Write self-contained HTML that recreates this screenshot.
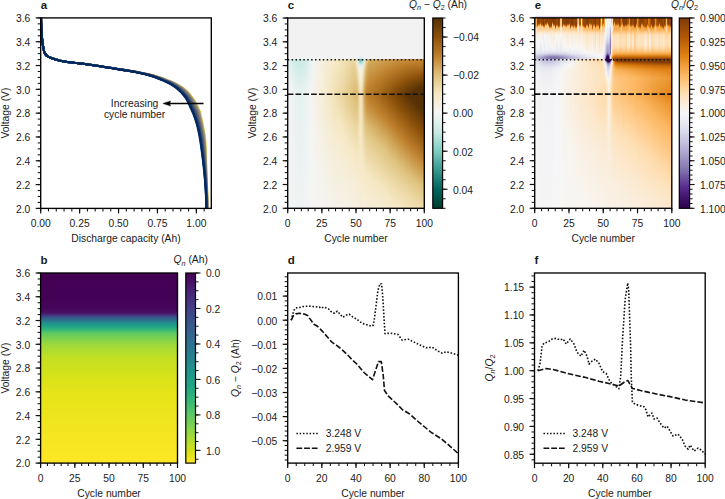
<!DOCTYPE html>
<html><head><meta charset="utf-8"><style>
html,body{margin:0;padding:0;background:#fff;}
svg{display:block;}
text{font-family:"Liberation Sans",sans-serif;fill:#1a1a1a;}
</style></head><body>
<svg width="725" height="499" viewBox="0 0 725 499">
<defs><filter id="hb" x="-5%" y="0" width="110%" height="100%" color-interpolation-filters="sRGB"><feGaussianBlur stdDeviation="1.1 0"/></filter><filter id="hb2" x="-5%" y="0" width="110%" height="100%" color-interpolation-filters="sRGB"><feGaussianBlur stdDeviation="0.5 0"/></filter><linearGradient id="g1" x1="0" y1="0" x2="0" y2="1"><stop offset="0.0026" stop-color="#440154"/><stop offset="0.1342" stop-color="#440256"/><stop offset="0.1868" stop-color="#46075a"/><stop offset="0.2026" stop-color="#470d60"/><stop offset="0.2132" stop-color="#48186a"/><stop offset="0.2237" stop-color="#443a83"/><stop offset="0.2342" stop-color="#375a8c"/><stop offset="0.2658" stop-color="#20928c"/><stop offset="0.2816" stop-color="#21a586"/><stop offset="0.2974" stop-color="#33b67a"/><stop offset="0.3184" stop-color="#61ca60"/><stop offset="0.3763" stop-color="#9dd93b"/><stop offset="0.4342" stop-color="#bddf26"/><stop offset="0.4553" stop-color="#c5e021"/><stop offset="0.5605" stop-color="#dae319"/><stop offset="0.6342" stop-color="#e7e419"/><stop offset="0.9974" stop-color="#fde725"/></linearGradient><clipPath id="cp2"><rect x="40.6" y="273" width="136.9" height="190.1"/></clipPath><linearGradient id="g3" x1="0" y1="0" x2="0" y2="1"><stop offset="0.000" stop-color="#440154"/><stop offset="0.025" stop-color="#460a5d"/><stop offset="0.050" stop-color="#471365"/><stop offset="0.075" stop-color="#481c6e"/><stop offset="0.100" stop-color="#482475"/><stop offset="0.125" stop-color="#472d7b"/><stop offset="0.150" stop-color="#463480"/><stop offset="0.175" stop-color="#443b84"/><stop offset="0.200" stop-color="#414487"/><stop offset="0.225" stop-color="#3e4a89"/><stop offset="0.250" stop-color="#3b528b"/><stop offset="0.275" stop-color="#38598c"/><stop offset="0.300" stop-color="#355f8d"/><stop offset="0.325" stop-color="#31668e"/><stop offset="0.350" stop-color="#2f6c8e"/><stop offset="0.375" stop-color="#2c728e"/><stop offset="0.400" stop-color="#2a788e"/><stop offset="0.425" stop-color="#277e8e"/><stop offset="0.450" stop-color="#25848e"/><stop offset="0.475" stop-color="#238a8d"/><stop offset="0.500" stop-color="#21918c"/><stop offset="0.525" stop-color="#1f968b"/><stop offset="0.550" stop-color="#1e9c89"/><stop offset="0.575" stop-color="#1fa287"/><stop offset="0.600" stop-color="#22a884"/><stop offset="0.625" stop-color="#28ae80"/><stop offset="0.650" stop-color="#2fb47c"/><stop offset="0.675" stop-color="#38b977"/><stop offset="0.700" stop-color="#44bf70"/><stop offset="0.725" stop-color="#50c46a"/><stop offset="0.750" stop-color="#5ec962"/><stop offset="0.775" stop-color="#6ccd5a"/><stop offset="0.800" stop-color="#7ad151"/><stop offset="0.825" stop-color="#8bd646"/><stop offset="0.850" stop-color="#9bd93c"/><stop offset="0.875" stop-color="#addc30"/><stop offset="0.900" stop-color="#bddf26"/><stop offset="0.925" stop-color="#cde11d"/><stop offset="0.950" stop-color="#dfe318"/><stop offset="0.975" stop-color="#efe51c"/><stop offset="1.000" stop-color="#fde725"/></linearGradient><linearGradient id="g4" x1="0" y1="0" x2="0" y2="1"><stop offset="0.0026" stop-color="#f3f2f3"/><stop offset="0.2132" stop-color="#f3f2f3"/><stop offset="0.2184" stop-color="#e2f0ee"/><stop offset="0.3711" stop-color="#f3f4f4"/><stop offset="0.9974" stop-color="#f3f4f4"/></linearGradient><linearGradient id="g5" x1="0" y1="0" x2="0" y2="1"><stop offset="0.0026" stop-color="#f3f2f3"/><stop offset="0.2132" stop-color="#f3f2f3"/><stop offset="0.2184" stop-color="#dbefec"/><stop offset="0.2447" stop-color="#dbefec"/><stop offset="0.3658" stop-color="#f0f4f3"/><stop offset="0.9974" stop-color="#f2f4f4"/></linearGradient><linearGradient id="g6" x1="0" y1="0" x2="0" y2="1"><stop offset="0.0026" stop-color="#f3f2f3"/><stop offset="0.2132" stop-color="#f3f2f3"/><stop offset="0.2184" stop-color="#d2ede9"/><stop offset="0.2289" stop-color="#d1ece8"/><stop offset="0.3763" stop-color="#eaf2f1"/><stop offset="0.9974" stop-color="#f0f4f3"/></linearGradient><linearGradient id="g7" x1="0" y1="0" x2="0" y2="1"><stop offset="0.0026" stop-color="#f3f2f3"/><stop offset="0.2132" stop-color="#f3f2f3"/><stop offset="0.2184" stop-color="#cbebe6"/><stop offset="0.2237" stop-color="#cbebe6"/><stop offset="0.3763" stop-color="#e5f1ef"/><stop offset="0.9974" stop-color="#eff3f3"/></linearGradient><linearGradient id="g8" x1="0" y1="0" x2="0" y2="1"><stop offset="0.0026" stop-color="#f3f2f3"/><stop offset="0.2132" stop-color="#f3f2f3"/><stop offset="0.2184" stop-color="#d1ece8"/><stop offset="0.2395" stop-color="#d1ece8"/><stop offset="0.3711" stop-color="#e7f2f0"/><stop offset="0.9974" stop-color="#f0f4f3"/></linearGradient><linearGradient id="g9" x1="0" y1="0" x2="0" y2="1"><stop offset="0.0026" stop-color="#f3f2f3"/><stop offset="0.2132" stop-color="#f3f2f3"/><stop offset="0.2184" stop-color="#dbefec"/><stop offset="0.2395" stop-color="#dbefec"/><stop offset="0.3658" stop-color="#edf3f2"/><stop offset="0.9974" stop-color="#f2f4f4"/></linearGradient><linearGradient id="g10" x1="0" y1="0" x2="0" y2="1"><stop offset="0.0026" stop-color="#f3f2f3"/><stop offset="0.2132" stop-color="#f3f2f3"/><stop offset="0.2184" stop-color="#e5f1ef"/><stop offset="0.2342" stop-color="#e5f1ef"/><stop offset="0.3763" stop-color="#f3f5f4"/><stop offset="0.9974" stop-color="#f3f5f4"/></linearGradient><linearGradient id="g11" x1="0" y1="0" x2="0" y2="1"><stop offset="0.0026" stop-color="#f3f2f3"/><stop offset="0.2132" stop-color="#f3f2f3"/><stop offset="0.2184" stop-color="#eff3f3"/><stop offset="0.2500" stop-color="#eff3f3"/><stop offset="0.3553" stop-color="#f5f4f1"/><stop offset="0.9974" stop-color="#f4f5f4"/></linearGradient><linearGradient id="g12" x1="0" y1="0" x2="0" y2="1"><stop offset="0.0026" stop-color="#f3f2f3"/><stop offset="0.2132" stop-color="#f3f2f3"/><stop offset="0.3658" stop-color="#f5f1e7"/><stop offset="0.9974" stop-color="#f5f4f3"/></linearGradient><linearGradient id="g13" x1="0" y1="0" x2="0" y2="1"><stop offset="0.0026" stop-color="#f3f2f3"/><stop offset="0.2132" stop-color="#f3f2f3"/><stop offset="0.2184" stop-color="#f5f2e8"/><stop offset="0.2237" stop-color="#f5f2e8"/><stop offset="0.4079" stop-color="#f5efdf"/><stop offset="0.7553" stop-color="#f5f3ed"/><stop offset="0.9974" stop-color="#f5f4f1"/></linearGradient><linearGradient id="g14" x1="0" y1="0" x2="0" y2="1"><stop offset="0.0026" stop-color="#f3f2f3"/><stop offset="0.2132" stop-color="#f3f2f3"/><stop offset="0.2184" stop-color="#f5f0e0"/><stop offset="0.3763" stop-color="#f6eed9"/><stop offset="0.7395" stop-color="#f5f2e9"/><stop offset="0.9974" stop-color="#f5f4f0"/></linearGradient><linearGradient id="g15" x1="0" y1="0" x2="0" y2="1"><stop offset="0.0026" stop-color="#f3f2f3"/><stop offset="0.2132" stop-color="#f3f2f3"/><stop offset="0.2184" stop-color="#f6eedb"/><stop offset="0.3921" stop-color="#f6ecd1"/><stop offset="0.6868" stop-color="#f5f0e3"/><stop offset="0.9974" stop-color="#f5f3ee"/></linearGradient><linearGradient id="g16" x1="0" y1="0" x2="0" y2="1"><stop offset="0.0026" stop-color="#f3f2f3"/><stop offset="0.2132" stop-color="#f3f2f3"/><stop offset="0.2184" stop-color="#f6edd5"/><stop offset="0.2237" stop-color="#f6ecd3"/><stop offset="0.3974" stop-color="#f6e9c8"/><stop offset="0.7237" stop-color="#f5f0e1"/><stop offset="0.9974" stop-color="#f5f3ed"/></linearGradient><linearGradient id="g17" x1="0" y1="0" x2="0" y2="1"><stop offset="0.0026" stop-color="#f3f2f3"/><stop offset="0.2132" stop-color="#f3f2f3"/><stop offset="0.2184" stop-color="#f6ebcf"/><stop offset="0.3921" stop-color="#f5e7c0"/><stop offset="0.7132" stop-color="#f5efdd"/><stop offset="0.9974" stop-color="#f5f3ec"/></linearGradient><linearGradient id="g18" x1="0" y1="0" x2="0" y2="1"><stop offset="0.0026" stop-color="#f3f2f3"/><stop offset="0.2132" stop-color="#f3f2f3"/><stop offset="0.2184" stop-color="#f6eaca"/><stop offset="0.3921" stop-color="#f2e2b8"/><stop offset="0.6974" stop-color="#f6eed9"/><stop offset="0.9974" stop-color="#f5f2ea"/></linearGradient><linearGradient id="g19" x1="0" y1="0" x2="0" y2="1"><stop offset="0.0026" stop-color="#f3f2f3"/><stop offset="0.2132" stop-color="#f3f2f3"/><stop offset="0.2184" stop-color="#f6e9c6"/><stop offset="0.3974" stop-color="#f0deb0"/><stop offset="0.5342" stop-color="#f6e8c4"/><stop offset="0.6658" stop-color="#f6ecd3"/><stop offset="0.9974" stop-color="#f5f2ea"/></linearGradient><linearGradient id="g20" x1="0" y1="0" x2="0" y2="1"><stop offset="0.0026" stop-color="#f3f2f3"/><stop offset="0.2132" stop-color="#f3f2f3"/><stop offset="0.2184" stop-color="#f5e7c0"/><stop offset="0.4026" stop-color="#edd9a8"/><stop offset="0.5500" stop-color="#f6e8c2"/><stop offset="0.6553" stop-color="#f6ebcf"/><stop offset="0.8816" stop-color="#f5f0e2"/><stop offset="0.9974" stop-color="#f5f2e8"/></linearGradient><linearGradient id="g21" x1="0" y1="0" x2="0" y2="1"><stop offset="0.0026" stop-color="#f3f2f3"/><stop offset="0.2132" stop-color="#f3f2f3"/><stop offset="0.2184" stop-color="#f3e4bb"/><stop offset="0.4079" stop-color="#ead59f"/><stop offset="0.5816" stop-color="#f6e8c2"/><stop offset="0.6395" stop-color="#f6eaca"/><stop offset="0.8763" stop-color="#f5f0e0"/><stop offset="0.9974" stop-color="#f5f2e8"/></linearGradient><linearGradient id="g22" x1="0" y1="0" x2="0" y2="1"><stop offset="0.0026" stop-color="#f3f2f3"/><stop offset="0.2132" stop-color="#f3f2f3"/><stop offset="0.2184" stop-color="#f1e0b4"/><stop offset="0.3921" stop-color="#e8d198"/><stop offset="0.4132" stop-color="#e8d198"/><stop offset="0.4868" stop-color="#edd8a6"/><stop offset="0.6184" stop-color="#f6e8c4"/><stop offset="0.8711" stop-color="#f5efde"/><stop offset="0.9974" stop-color="#f5f1e6"/></linearGradient><linearGradient id="g23" x1="0" y1="0" x2="0" y2="1"><stop offset="0.0026" stop-color="#f3f2f3"/><stop offset="0.2132" stop-color="#f3f2f3"/><stop offset="0.2184" stop-color="#efddae"/><stop offset="0.4026" stop-color="#e5cc90"/><stop offset="0.5026" stop-color="#ecd7a3"/><stop offset="0.5605" stop-color="#f1e0b4"/><stop offset="0.6395" stop-color="#f6e8c4"/><stop offset="0.8658" stop-color="#f5efdc"/><stop offset="0.9974" stop-color="#f5f1e5"/></linearGradient><linearGradient id="g24" x1="0" y1="0" x2="0" y2="1"><stop offset="0.0026" stop-color="#f3f2f3"/><stop offset="0.2132" stop-color="#f3f2f3"/><stop offset="0.2184" stop-color="#eddaa9"/><stop offset="0.4079" stop-color="#e3c989"/><stop offset="0.6605" stop-color="#f6e8c4"/><stop offset="0.8605" stop-color="#f6eedb"/><stop offset="0.9974" stop-color="#f5f1e4"/></linearGradient><linearGradient id="g25" x1="0" y1="0" x2="0" y2="1"><stop offset="0.0026" stop-color="#f3f2f3"/><stop offset="0.2132" stop-color="#f3f2f3"/><stop offset="0.2184" stop-color="#ecd8a5"/><stop offset="0.2553" stop-color="#e9d29b"/><stop offset="0.3974" stop-color="#e1c582"/><stop offset="0.4237" stop-color="#e2c685"/><stop offset="0.6026" stop-color="#f1e0b4"/><stop offset="0.6921" stop-color="#f6e9c6"/><stop offset="0.8763" stop-color="#f6eedb"/><stop offset="0.9974" stop-color="#f5f0e3"/></linearGradient><linearGradient id="g26" x1="0" y1="0" x2="0" y2="1"><stop offset="0.0026" stop-color="#f3f2f3"/><stop offset="0.2132" stop-color="#f3f2f3"/><stop offset="0.2184" stop-color="#ebd6a2"/><stop offset="0.2553" stop-color="#e7cf96"/><stop offset="0.4026" stop-color="#dec07b"/><stop offset="0.5079" stop-color="#e6ce93"/><stop offset="0.5658" stop-color="#edd8a6"/><stop offset="0.6974" stop-color="#f6e8c4"/><stop offset="0.8711" stop-color="#f6eed9"/><stop offset="0.9974" stop-color="#f5f0e2"/></linearGradient><linearGradient id="g27" x1="0" y1="0" x2="0" y2="1"><stop offset="0.0026" stop-color="#f3f2f3"/><stop offset="0.2132" stop-color="#f3f2f3"/><stop offset="0.2184" stop-color="#ecd8a5"/><stop offset="0.2500" stop-color="#e7cf94"/><stop offset="0.3974" stop-color="#dcbc75"/><stop offset="0.4132" stop-color="#dcbc75"/><stop offset="0.4395" stop-color="#dfc37e"/><stop offset="0.5184" stop-color="#e6cd92"/><stop offset="0.5553" stop-color="#ead59f"/><stop offset="0.6868" stop-color="#f5e7c0"/><stop offset="0.8763" stop-color="#f6eed9"/><stop offset="0.9974" stop-color="#f5f0e2"/></linearGradient><linearGradient id="g28" x1="0" y1="0" x2="0" y2="1"><stop offset="0.0026" stop-color="#f3f2f3"/><stop offset="0.2132" stop-color="#f3f2f3"/><stop offset="0.2184" stop-color="#efdcad"/><stop offset="0.2395" stop-color="#e9d39d"/><stop offset="0.2711" stop-color="#e5cc8f"/><stop offset="0.3921" stop-color="#dbb972"/><stop offset="0.4132" stop-color="#dbb972"/><stop offset="0.4500" stop-color="#dfc37e"/><stop offset="0.6974" stop-color="#f5e7c0"/><stop offset="0.8658" stop-color="#f6edd7"/><stop offset="0.9974" stop-color="#f5f0e0"/></linearGradient><linearGradient id="g29" x1="0" y1="0" x2="0" y2="1"><stop offset="0.0026" stop-color="#f3f2f3"/><stop offset="0.2132" stop-color="#f3f2f3"/><stop offset="0.2184" stop-color="#f6e9c5"/><stop offset="0.2500" stop-color="#ead59f"/><stop offset="0.3026" stop-color="#e2c787"/><stop offset="0.4026" stop-color="#d8b46c"/><stop offset="0.4658" stop-color="#dfc37e"/><stop offset="0.6026" stop-color="#edd9a8"/><stop offset="0.7184" stop-color="#f6e8c3"/><stop offset="0.8763" stop-color="#f6edd7"/><stop offset="0.9974" stop-color="#f5f0e0"/></linearGradient><linearGradient id="g30" x1="0" y1="0" x2="0" y2="1"><stop offset="0.0026" stop-color="#f3f2f3"/><stop offset="0.2132" stop-color="#f3f2f3"/><stop offset="0.2184" stop-color="#f5f0e0"/><stop offset="0.2237" stop-color="#f6eed9"/><stop offset="0.2395" stop-color="#f6e8c3"/><stop offset="0.2500" stop-color="#f1dfb3"/><stop offset="0.2711" stop-color="#ead59f"/><stop offset="0.3289" stop-color="#e0c481"/><stop offset="0.3658" stop-color="#dbb972"/><stop offset="0.3921" stop-color="#d8b46c"/><stop offset="0.4132" stop-color="#d8b46c"/><stop offset="0.4711" stop-color="#dfc37e"/><stop offset="0.6184" stop-color="#eedbaa"/><stop offset="0.6974" stop-color="#f4e5be"/><stop offset="0.8816" stop-color="#f6edd7"/><stop offset="0.9974" stop-color="#f5f0e0"/></linearGradient><linearGradient id="g31" x1="0" y1="0" x2="0" y2="1"><stop offset="0.0026" stop-color="#f3f2f3"/><stop offset="0.2026" stop-color="#f3f2f3"/><stop offset="0.2132" stop-color="#f1f2f3"/><stop offset="0.2184" stop-color="#e0f0ee"/><stop offset="0.2289" stop-color="#f4f5f5"/><stop offset="0.2500" stop-color="#f6ebcf"/><stop offset="0.2658" stop-color="#f5e7c0"/><stop offset="0.2816" stop-color="#efdcad"/><stop offset="0.3763" stop-color="#dcbc75"/><stop offset="0.4079" stop-color="#d9b76f"/><stop offset="0.4553" stop-color="#dfc37e"/><stop offset="0.6395" stop-color="#f0deb0"/><stop offset="0.7289" stop-color="#f6e8c3"/><stop offset="0.8711" stop-color="#f6edd5"/><stop offset="0.9974" stop-color="#f5efde"/></linearGradient><linearGradient id="g32" x1="0" y1="0" x2="0" y2="1"><stop offset="0.0026" stop-color="#f3f2f3"/><stop offset="0.1974" stop-color="#f3f2f3"/><stop offset="0.2132" stop-color="#e7f1f0"/><stop offset="0.2184" stop-color="#a8ddd5"/><stop offset="0.2289" stop-color="#ccebe7"/><stop offset="0.2447" stop-color="#f0f4f3"/><stop offset="0.2500" stop-color="#f5f3ee"/><stop offset="0.2816" stop-color="#f6eacb"/><stop offset="0.3132" stop-color="#f3e4bb"/><stop offset="0.3711" stop-color="#e5cc8f"/><stop offset="0.3868" stop-color="#e3c989"/><stop offset="0.4184" stop-color="#e3c989"/><stop offset="0.4974" stop-color="#e8d097"/><stop offset="0.5763" stop-color="#eedbaa"/><stop offset="0.7237" stop-color="#f6e8c3"/><stop offset="0.9974" stop-color="#f5efdc"/></linearGradient><linearGradient id="g33" x1="0" y1="0" x2="0" y2="1"><stop offset="0.0026" stop-color="#f3f2f3"/><stop offset="0.1868" stop-color="#f3f2f3"/><stop offset="0.1974" stop-color="#f0f2f2"/><stop offset="0.2026" stop-color="#eaf1f1"/><stop offset="0.2132" stop-color="#d2ede9"/><stop offset="0.2184" stop-color="#6abdb2"/><stop offset="0.2237" stop-color="#81cec2"/><stop offset="0.2395" stop-color="#c4e9e4"/><stop offset="0.2447" stop-color="#d4ede9"/><stop offset="0.2500" stop-color="#e0f0ee"/><stop offset="0.2553" stop-color="#e7f2f0"/><stop offset="0.2658" stop-color="#f2f4f4"/><stop offset="0.2711" stop-color="#f5f4f0"/><stop offset="0.2816" stop-color="#f5f1e4"/><stop offset="0.3553" stop-color="#f6e9c5"/><stop offset="0.3816" stop-color="#f1e1b5"/><stop offset="0.4553" stop-color="#f1e1b5"/><stop offset="0.6026" stop-color="#f5e7c0"/><stop offset="0.6553" stop-color="#f5e7c0"/><stop offset="0.8763" stop-color="#f6ecd3"/><stop offset="0.9974" stop-color="#f6eed9"/></linearGradient><linearGradient id="g34" x1="0" y1="0" x2="0" y2="1"><stop offset="0.0026" stop-color="#f3f2f3"/><stop offset="0.1868" stop-color="#f3f2f3"/><stop offset="0.1974" stop-color="#eff2f2"/><stop offset="0.2132" stop-color="#c9eae6"/><stop offset="0.2184" stop-color="#44a299"/><stop offset="0.2289" stop-color="#76c6ba"/><stop offset="0.2342" stop-color="#8fd3c9"/><stop offset="0.2447" stop-color="#bfe7e1"/><stop offset="0.2500" stop-color="#d2ede9"/><stop offset="0.2816" stop-color="#f5f5f4"/><stop offset="0.3763" stop-color="#f6edd5"/><stop offset="0.6763" stop-color="#f6e9c7"/><stop offset="0.9974" stop-color="#f6edd7"/></linearGradient><linearGradient id="g35" x1="0" y1="0" x2="0" y2="1"><stop offset="0.0026" stop-color="#f3f2f3"/><stop offset="0.1868" stop-color="#f3f2f3"/><stop offset="0.1974" stop-color="#eff2f2"/><stop offset="0.2132" stop-color="#cbebe6"/><stop offset="0.2184" stop-color="#4da89f"/><stop offset="0.2289" stop-color="#7fccc0"/><stop offset="0.2447" stop-color="#c4e9e4"/><stop offset="0.2500" stop-color="#d4ede9"/><stop offset="0.2763" stop-color="#f4f5f5"/><stop offset="0.2816" stop-color="#f5f4f0"/><stop offset="0.3763" stop-color="#f6ebcf"/><stop offset="0.3921" stop-color="#f6ebcd"/><stop offset="0.7132" stop-color="#f6e9c7"/><stop offset="0.9974" stop-color="#f6edd7"/></linearGradient><linearGradient id="g36" x1="0" y1="0" x2="0" y2="1"><stop offset="0.0026" stop-color="#f3f2f3"/><stop offset="0.1974" stop-color="#f1f2f3"/><stop offset="0.2079" stop-color="#e4f0ef"/><stop offset="0.2132" stop-color="#d7eeeb"/><stop offset="0.2184" stop-color="#7ccabe"/><stop offset="0.2342" stop-color="#bfe7e1"/><stop offset="0.2395" stop-color="#ceece8"/><stop offset="0.2500" stop-color="#e9f2f1"/><stop offset="0.2605" stop-color="#f5f5f4"/><stop offset="0.2816" stop-color="#f6eedb"/><stop offset="0.3342" stop-color="#f6e8c3"/><stop offset="0.3763" stop-color="#ebd6a2"/><stop offset="0.4026" stop-color="#ead59f"/><stop offset="0.4921" stop-color="#edd9a8"/><stop offset="0.5605" stop-color="#f1dfb3"/><stop offset="0.6921" stop-color="#f4e5be"/><stop offset="0.7184" stop-color="#f6e8c3"/><stop offset="0.9974" stop-color="#f6eedb"/></linearGradient><linearGradient id="g37" x1="0" y1="0" x2="0" y2="1"><stop offset="0.0026" stop-color="#f3f2f3"/><stop offset="0.1974" stop-color="#f3f2f3"/><stop offset="0.2132" stop-color="#ecf2f1"/><stop offset="0.2184" stop-color="#c4e9e4"/><stop offset="0.2395" stop-color="#f4f5f5"/><stop offset="0.2500" stop-color="#f5efde"/><stop offset="0.2763" stop-color="#f6e8c3"/><stop offset="0.2816" stop-color="#f3e4bb"/><stop offset="0.3605" stop-color="#e0c481"/><stop offset="0.3763" stop-color="#dbb972"/><stop offset="0.3974" stop-color="#d9b76f"/><stop offset="0.4132" stop-color="#d9b76f"/><stop offset="0.4658" stop-color="#dfc37e"/><stop offset="0.4974" stop-color="#e1c684"/><stop offset="0.6132" stop-color="#ecd8a5"/><stop offset="0.7447" stop-color="#f5e7c0"/><stop offset="0.8868" stop-color="#f6ecd3"/><stop offset="0.9974" stop-color="#f5efdc"/></linearGradient><linearGradient id="g38" x1="0" y1="0" x2="0" y2="1"><stop offset="0.0026" stop-color="#f3f2f3"/><stop offset="0.2132" stop-color="#f2f2f3"/><stop offset="0.2184" stop-color="#f5f5f4"/><stop offset="0.2447" stop-color="#f6e8c3"/><stop offset="0.2553" stop-color="#f0deb0"/><stop offset="0.2868" stop-color="#e5cc8f"/><stop offset="0.3132" stop-color="#dfc37e"/><stop offset="0.3395" stop-color="#d7b169"/><stop offset="0.3816" stop-color="#cd9d50"/><stop offset="0.3974" stop-color="#cc9a4c"/><stop offset="0.4079" stop-color="#cc9a4c"/><stop offset="0.4658" stop-color="#d3aa5f"/><stop offset="0.5237" stop-color="#dcbc75"/><stop offset="0.5395" stop-color="#dfc37e"/><stop offset="0.6132" stop-color="#e8d097"/><stop offset="0.7132" stop-color="#f1dfb3"/><stop offset="0.7921" stop-color="#f6e8c3"/><stop offset="0.8553" stop-color="#f6ebcd"/><stop offset="0.9974" stop-color="#f5efdc"/></linearGradient><linearGradient id="g39" x1="0" y1="0" x2="0" y2="1"><stop offset="0.0026" stop-color="#f3f2f3"/><stop offset="0.2132" stop-color="#f3f2f3"/><stop offset="0.2184" stop-color="#f6e9c5"/><stop offset="0.2342" stop-color="#edd9a8"/><stop offset="0.2553" stop-color="#e3c989"/><stop offset="0.2816" stop-color="#dbb972"/><stop offset="0.3342" stop-color="#cea053"/><stop offset="0.3763" stop-color="#c79040"/><stop offset="0.4026" stop-color="#c48b3a"/><stop offset="0.4974" stop-color="#d2a75c"/><stop offset="0.5605" stop-color="#dec17b"/><stop offset="0.6816" stop-color="#ecd8a5"/><stop offset="0.8184" stop-color="#f6e9c5"/><stop offset="0.9974" stop-color="#f6eedb"/></linearGradient><linearGradient id="g40" x1="0" y1="0" x2="0" y2="1"><stop offset="0.0026" stop-color="#f3f2f3"/><stop offset="0.2132" stop-color="#f3f2f3"/><stop offset="0.2184" stop-color="#e8d097"/><stop offset="0.2500" stop-color="#dbb972"/><stop offset="0.3026" stop-color="#cea053"/><stop offset="0.3658" stop-color="#c48b3a"/><stop offset="0.4026" stop-color="#c08430"/><stop offset="0.5026" stop-color="#cfa256"/><stop offset="0.5763" stop-color="#dec17b"/><stop offset="0.6868" stop-color="#ebd6a2"/><stop offset="0.8184" stop-color="#f6e8c3"/><stop offset="0.9974" stop-color="#f6eedb"/></linearGradient><linearGradient id="g41" x1="0" y1="0" x2="0" y2="1"><stop offset="0.0026" stop-color="#f3f2f3"/><stop offset="0.2132" stop-color="#f3f2f3"/><stop offset="0.2184" stop-color="#dfc37e"/><stop offset="0.2237" stop-color="#ddbe78"/><stop offset="0.2447" stop-color="#d6af65"/><stop offset="0.2763" stop-color="#cfa256"/><stop offset="0.3605" stop-color="#c38936"/><stop offset="0.3974" stop-color="#bf812d"/><stop offset="0.4132" stop-color="#bf812d"/><stop offset="0.4289" stop-color="#c38936"/><stop offset="0.4974" stop-color="#cd9d50"/><stop offset="0.5605" stop-color="#dbb972"/><stop offset="0.5921" stop-color="#dfc37e"/><stop offset="0.7026" stop-color="#ecd8a5"/><stop offset="0.8237" stop-color="#f6e8c3"/><stop offset="0.9974" stop-color="#f6eed9"/></linearGradient><linearGradient id="g42" x1="0" y1="0" x2="0" y2="1"><stop offset="0.0026" stop-color="#f3f2f3"/><stop offset="0.2132" stop-color="#f3f2f3"/><stop offset="0.2184" stop-color="#d9b76f"/><stop offset="0.2447" stop-color="#d2a75c"/><stop offset="0.2763" stop-color="#cd9d50"/><stop offset="0.3026" stop-color="#ca9849"/><stop offset="0.3763" stop-color="#bf812d"/><stop offset="0.4026" stop-color="#bb7d2a"/><stop offset="0.4237" stop-color="#bf812d"/><stop offset="0.4395" stop-color="#c38936"/><stop offset="0.4763" stop-color="#c89343"/><stop offset="0.5605" stop-color="#d9b76f"/><stop offset="0.6184" stop-color="#e2c787"/><stop offset="0.6816" stop-color="#e9d39d"/><stop offset="0.8289" stop-color="#f6e8c3"/><stop offset="0.9974" stop-color="#f6eed9"/></linearGradient><linearGradient id="g43" x1="0" y1="0" x2="0" y2="1"><stop offset="0.0026" stop-color="#f3f2f3"/><stop offset="0.2132" stop-color="#f3f2f3"/><stop offset="0.2184" stop-color="#d5ad63"/><stop offset="0.2553" stop-color="#ce9f52"/><stop offset="0.3500" stop-color="#c08430"/><stop offset="0.4026" stop-color="#b77928"/><stop offset="0.4395" stop-color="#bf812e"/><stop offset="0.4974" stop-color="#c99546"/><stop offset="0.5605" stop-color="#d7b169"/><stop offset="0.6026" stop-color="#dec17b"/><stop offset="0.6553" stop-color="#e5cc8f"/><stop offset="0.8342" stop-color="#f5e7c1"/><stop offset="0.9974" stop-color="#f6edd8"/></linearGradient><linearGradient id="g44" x1="0" y1="0" x2="0" y2="1"><stop offset="0.0026" stop-color="#f3f2f3"/><stop offset="0.2132" stop-color="#f3f2f3"/><stop offset="0.2184" stop-color="#d3a95e"/><stop offset="0.3395" stop-color="#bf812e"/><stop offset="0.4026" stop-color="#b17423"/><stop offset="0.4605" stop-color="#bf812e"/><stop offset="0.5079" stop-color="#c89343"/><stop offset="0.5711" stop-color="#d6af65"/><stop offset="0.6342" stop-color="#e0c481"/><stop offset="0.7184" stop-color="#ead49d"/><stop offset="0.8605" stop-color="#f6e8c4"/><stop offset="0.9974" stop-color="#f6edd7"/></linearGradient><linearGradient id="g45" x1="0" y1="0" x2="0" y2="1"><stop offset="0.0026" stop-color="#f3f2f3"/><stop offset="0.2132" stop-color="#f3f2f3"/><stop offset="0.2184" stop-color="#d1a65b"/><stop offset="0.3237" stop-color="#bf812e"/><stop offset="0.4026" stop-color="#ab6e1f"/><stop offset="0.4868" stop-color="#c08430"/><stop offset="0.5605" stop-color="#d1a559"/><stop offset="0.6500" stop-color="#e0c480"/><stop offset="0.7447" stop-color="#ebd5a0"/><stop offset="0.8658" stop-color="#f5e7c1"/><stop offset="0.9974" stop-color="#f6edd5"/></linearGradient><linearGradient id="g46" x1="0" y1="0" x2="0" y2="1"><stop offset="0.0026" stop-color="#f3f2f3"/><stop offset="0.2132" stop-color="#f3f2f3"/><stop offset="0.2184" stop-color="#d0a458"/><stop offset="0.3079" stop-color="#bf822e"/><stop offset="0.4026" stop-color="#a5691b"/><stop offset="0.4974" stop-color="#bf812e"/><stop offset="0.5711" stop-color="#cfa256"/><stop offset="0.6605" stop-color="#dfc37e"/><stop offset="0.7447" stop-color="#e9d29b"/><stop offset="0.8816" stop-color="#f5e7c1"/><stop offset="0.9974" stop-color="#f6ecd3"/></linearGradient><linearGradient id="g47" x1="0" y1="0" x2="0" y2="1"><stop offset="0.0026" stop-color="#f3f2f3"/><stop offset="0.2132" stop-color="#f3f2f3"/><stop offset="0.2184" stop-color="#cfa155"/><stop offset="0.2921" stop-color="#c0832f"/><stop offset="0.4026" stop-color="#9f6317"/><stop offset="0.4184" stop-color="#a16518"/><stop offset="0.5132" stop-color="#bf812e"/><stop offset="0.6342" stop-color="#d8b46c"/><stop offset="0.6921" stop-color="#e1c684"/><stop offset="0.8763" stop-color="#f4e5bd"/><stop offset="0.9974" stop-color="#f6ecd1"/></linearGradient><linearGradient id="g48" x1="0" y1="0" x2="0" y2="1"><stop offset="0.0026" stop-color="#f3f2f3"/><stop offset="0.2132" stop-color="#f3f2f3"/><stop offset="0.2184" stop-color="#cd9e51"/><stop offset="0.2868" stop-color="#be802d"/><stop offset="0.3816" stop-color="#9d6116"/><stop offset="0.4079" stop-color="#975b12"/><stop offset="0.5289" stop-color="#bf812e"/><stop offset="0.5921" stop-color="#cd9d50"/><stop offset="0.6868" stop-color="#dec17b"/><stop offset="0.8763" stop-color="#f2e2b8"/><stop offset="0.9237" stop-color="#f6e8c4"/><stop offset="0.9974" stop-color="#f6ebcf"/></linearGradient><linearGradient id="g49" x1="0" y1="0" x2="0" y2="1"><stop offset="0.0026" stop-color="#f3f2f3"/><stop offset="0.2132" stop-color="#f3f2f3"/><stop offset="0.2184" stop-color="#cc9c4e"/><stop offset="0.2763" stop-color="#bf812d"/><stop offset="0.4026" stop-color="#92570e"/><stop offset="0.4184" stop-color="#94590f"/><stop offset="0.5395" stop-color="#be802c"/><stop offset="0.6237" stop-color="#d0a357"/><stop offset="0.7079" stop-color="#dfc27d"/><stop offset="0.8553" stop-color="#efddae"/><stop offset="0.9342" stop-color="#f6e8c3"/><stop offset="0.9974" stop-color="#f6ebcd"/></linearGradient><linearGradient id="g50" x1="0" y1="0" x2="0" y2="1"><stop offset="0.0026" stop-color="#f3f2f3"/><stop offset="0.2132" stop-color="#f3f2f3"/><stop offset="0.2184" stop-color="#cb9a4b"/><stop offset="0.2711" stop-color="#be802d"/><stop offset="0.4079" stop-color="#8b500a"/><stop offset="0.5605" stop-color="#bf812e"/><stop offset="0.6237" stop-color="#cd9d50"/><stop offset="0.7342" stop-color="#e0c481"/><stop offset="0.8763" stop-color="#f0deb1"/><stop offset="0.9500" stop-color="#f6e8c4"/><stop offset="0.9974" stop-color="#f6eacb"/></linearGradient><linearGradient id="g51" x1="0" y1="0" x2="0" y2="1"><stop offset="0.0026" stop-color="#f3f2f3"/><stop offset="0.2132" stop-color="#f3f2f3"/><stop offset="0.2184" stop-color="#ca9748"/><stop offset="0.2658" stop-color="#be802c"/><stop offset="0.3763" stop-color="#8e530b"/><stop offset="0.3921" stop-color="#894f0a"/><stop offset="0.4079" stop-color="#834c09"/><stop offset="0.4342" stop-color="#8d520b"/><stop offset="0.5711" stop-color="#bd7f2c"/><stop offset="0.7447" stop-color="#dfc37e"/><stop offset="0.8816" stop-color="#efddae"/><stop offset="0.9974" stop-color="#f6eaca"/></linearGradient><linearGradient id="g52" x1="0" y1="0" x2="0" y2="1"><stop offset="0.0026" stop-color="#f3f2f3"/><stop offset="0.2132" stop-color="#f3f2f3"/><stop offset="0.2184" stop-color="#c99546"/><stop offset="0.2553" stop-color="#bf812d"/><stop offset="0.3763" stop-color="#884e0a"/><stop offset="0.4079" stop-color="#7d4809"/><stop offset="0.4500" stop-color="#8c510a"/><stop offset="0.5974" stop-color="#c0822f"/><stop offset="0.6921" stop-color="#d4ab61"/><stop offset="0.7553" stop-color="#dfc27d"/><stop offset="0.8868" stop-color="#eedbac"/><stop offset="0.9974" stop-color="#f6e9c8"/></linearGradient><linearGradient id="g53" x1="0" y1="0" x2="0" y2="1"><stop offset="0.0026" stop-color="#f3f2f3"/><stop offset="0.2132" stop-color="#f3f2f3"/><stop offset="0.2184" stop-color="#c89343"/><stop offset="0.2605" stop-color="#bb7d2a"/><stop offset="0.3553" stop-color="#8e530b"/><stop offset="0.3711" stop-color="#854d09"/><stop offset="0.4026" stop-color="#784508"/><stop offset="0.4132" stop-color="#784508"/><stop offset="0.4605" stop-color="#8c510a"/><stop offset="0.6026" stop-color="#be802c"/><stop offset="0.7658" stop-color="#dfc27d"/><stop offset="0.8711" stop-color="#ecd7a3"/><stop offset="0.9974" stop-color="#f6e9c6"/></linearGradient><linearGradient id="g54" x1="0" y1="0" x2="0" y2="1"><stop offset="0.0026" stop-color="#f3f2f3"/><stop offset="0.2132" stop-color="#f3f2f3"/><stop offset="0.2184" stop-color="#c79241"/><stop offset="0.2500" stop-color="#be802c"/><stop offset="0.3395" stop-color="#92570e"/><stop offset="0.3711" stop-color="#814b09"/><stop offset="0.4079" stop-color="#724108"/><stop offset="0.4763" stop-color="#8c510a"/><stop offset="0.6132" stop-color="#be802c"/><stop offset="0.7711" stop-color="#debf7a"/><stop offset="0.8816" stop-color="#ecd7a3"/><stop offset="0.9974" stop-color="#f6e9c5"/></linearGradient><linearGradient id="g55" x1="0" y1="0" x2="0" y2="1"><stop offset="0.0026" stop-color="#f3f2f3"/><stop offset="0.2132" stop-color="#f3f2f3"/><stop offset="0.2184" stop-color="#c79040"/><stop offset="0.2447" stop-color="#bf812d"/><stop offset="0.3395" stop-color="#8e530c"/><stop offset="0.3816" stop-color="#754308"/><stop offset="0.4079" stop-color="#6a3d07"/><stop offset="0.4921" stop-color="#8c520b"/><stop offset="0.6289" stop-color="#bd7f2c"/><stop offset="0.7605" stop-color="#d9b76f"/><stop offset="0.7974" stop-color="#dfc37e"/><stop offset="0.8763" stop-color="#ead49d"/><stop offset="0.9974" stop-color="#f6e8c2"/></linearGradient><linearGradient id="g56" x1="0" y1="0" x2="0" y2="1"><stop offset="0.0026" stop-color="#f3f2f3"/><stop offset="0.2132" stop-color="#f3f2f3"/><stop offset="0.2184" stop-color="#c58e3d"/><stop offset="0.2395" stop-color="#bf812d"/><stop offset="0.3342" stop-color="#8c510a"/><stop offset="0.3763" stop-color="#724108"/><stop offset="0.4079" stop-color="#623806"/><stop offset="0.5079" stop-color="#8c510a"/><stop offset="0.6447" stop-color="#be802c"/><stop offset="0.6605" stop-color="#c18532"/><stop offset="0.7447" stop-color="#d4ab61"/><stop offset="0.8132" stop-color="#e0c380"/><stop offset="0.8974" stop-color="#ebd5a1"/><stop offset="0.9974" stop-color="#f5e6bf"/></linearGradient><linearGradient id="g57" x1="0" y1="0" x2="0" y2="1"><stop offset="0.0026" stop-color="#f3f2f3"/><stop offset="0.2132" stop-color="#f3f2f3"/><stop offset="0.2184" stop-color="#c58d3c"/><stop offset="0.2395" stop-color="#be802d"/><stop offset="0.3289" stop-color="#8b500a"/><stop offset="0.3711" stop-color="#6f4007"/><stop offset="0.4079" stop-color="#5b3406"/><stop offset="0.5237" stop-color="#8d520b"/><stop offset="0.6605" stop-color="#bd7f2c"/><stop offset="0.7500" stop-color="#d2a75c"/><stop offset="0.8289" stop-color="#e0c481"/><stop offset="0.9237" stop-color="#ecd8a6"/><stop offset="0.9974" stop-color="#f4e5bd"/></linearGradient><linearGradient id="g58" x1="0" y1="0" x2="0" y2="1"><stop offset="0.0026" stop-color="#f3f2f3"/><stop offset="0.2132" stop-color="#f3f2f3"/><stop offset="0.2184" stop-color="#c48b3a"/><stop offset="0.2342" stop-color="#bf812d"/><stop offset="0.3184" stop-color="#8e530b"/><stop offset="0.3711" stop-color="#693c07"/><stop offset="0.4079" stop-color="#553105"/><stop offset="0.5395" stop-color="#8c510a"/><stop offset="0.6763" stop-color="#be802c"/><stop offset="0.7079" stop-color="#c58c3b"/><stop offset="0.7605" stop-color="#d1a65a"/><stop offset="0.8289" stop-color="#dec17b"/><stop offset="0.9132" stop-color="#ead49e"/><stop offset="0.9974" stop-color="#f3e3b9"/></linearGradient><linearGradient id="g59" x1="0" y1="0" x2="0" y2="1"><stop offset="0.0026" stop-color="#f3f2f3"/><stop offset="0.2132" stop-color="#f3f2f3"/><stop offset="0.2184" stop-color="#c48b3a"/><stop offset="0.2342" stop-color="#bf812d"/><stop offset="0.3132" stop-color="#8e530c"/><stop offset="0.3711" stop-color="#633906"/><stop offset="0.3974" stop-color="#553005"/><stop offset="0.4289" stop-color="#573205"/><stop offset="0.5500" stop-color="#8b500a"/><stop offset="0.6868" stop-color="#bd7f2c"/><stop offset="0.8395" stop-color="#dec17b"/><stop offset="0.9289" stop-color="#ebd5a0"/><stop offset="0.9974" stop-color="#f2e1b6"/></linearGradient><linearGradient id="g60" x1="0" y1="0" x2="0" y2="1"><stop offset="0.0026" stop-color="#f3f2f3"/><stop offset="0.2132" stop-color="#f3f2f3"/><stop offset="0.2184" stop-color="#c48b3a"/><stop offset="0.2342" stop-color="#bd7f2c"/><stop offset="0.3079" stop-color="#8e530c"/><stop offset="0.3763" stop-color="#583305"/><stop offset="0.3868" stop-color="#543005"/><stop offset="0.4447" stop-color="#563105"/><stop offset="0.5658" stop-color="#8b500a"/><stop offset="0.7026" stop-color="#bd7f2c"/><stop offset="0.8605" stop-color="#e0c37f"/><stop offset="0.9974" stop-color="#f1e0b3"/></linearGradient><linearGradient id="g61" x1="0" y1="0" x2="0" y2="1"><stop offset="0.0026" stop-color="#f3f2f3"/><stop offset="0.2132" stop-color="#f3f2f3"/><stop offset="0.2184" stop-color="#c38936"/><stop offset="0.2342" stop-color="#bd7f2c"/><stop offset="0.2500" stop-color="#b57826"/><stop offset="0.3026" stop-color="#8e530c"/><stop offset="0.3711" stop-color="#563105"/><stop offset="0.4605" stop-color="#563105"/><stop offset="0.5868" stop-color="#8b500a"/><stop offset="0.6921" stop-color="#b27524"/><stop offset="0.7289" stop-color="#c08430"/><stop offset="0.8711" stop-color="#dfc37e"/><stop offset="0.9447" stop-color="#ead49d"/><stop offset="0.9974" stop-color="#efddaf"/></linearGradient><linearGradient id="g62" x1="0" y1="0" x2="0" y2="1"><stop offset="0.0026" stop-color="#f3f2f3"/><stop offset="0.2132" stop-color="#f3f2f3"/><stop offset="0.2184" stop-color="#c38936"/><stop offset="0.2289" stop-color="#bf812d"/><stop offset="0.2447" stop-color="#b77928"/><stop offset="0.3026" stop-color="#8c510a"/><stop offset="0.3658" stop-color="#553105"/><stop offset="0.4711" stop-color="#553005"/><stop offset="0.6026" stop-color="#8b500a"/><stop offset="0.6921" stop-color="#ab6e1f"/><stop offset="0.7447" stop-color="#c08430"/><stop offset="0.8763" stop-color="#dec17b"/><stop offset="0.9974" stop-color="#eedcac"/></linearGradient><linearGradient id="g63" x1="0" y1="0" x2="0" y2="1"><stop offset="0.0026" stop-color="#f3f2f3"/><stop offset="0.2132" stop-color="#f3f2f3"/><stop offset="0.2184" stop-color="#c38936"/><stop offset="0.2289" stop-color="#bf812d"/><stop offset="0.2447" stop-color="#b77928"/><stop offset="0.3026" stop-color="#8b500a"/><stop offset="0.3605" stop-color="#563105"/><stop offset="0.4816" stop-color="#543005"/><stop offset="0.6132" stop-color="#8b500a"/><stop offset="0.6395" stop-color="#93580f"/><stop offset="0.7500" stop-color="#bf812d"/><stop offset="0.8763" stop-color="#ddbe78"/><stop offset="0.9974" stop-color="#eedbaa"/></linearGradient><clipPath id="cp64"><rect x="287.7" y="18" width="136.6" height="190.3"/></clipPath><linearGradient id="g65" x1="0" y1="0" x2="0" y2="1"><stop offset="0.000" stop-color="#543005"/><stop offset="0.025" stop-color="#613806"/><stop offset="0.050" stop-color="#6e4007"/><stop offset="0.075" stop-color="#7e4909"/><stop offset="0.100" stop-color="#8b500a"/><stop offset="0.125" stop-color="#995d13"/><stop offset="0.150" stop-color="#a5691b"/><stop offset="0.175" stop-color="#b17423"/><stop offset="0.200" stop-color="#bf812d"/><stop offset="0.225" stop-color="#c79040"/><stop offset="0.250" stop-color="#cfa256"/><stop offset="0.275" stop-color="#d7b169"/><stop offset="0.300" stop-color="#dec17b"/><stop offset="0.325" stop-color="#e5cc8f"/><stop offset="0.350" stop-color="#ead59f"/><stop offset="0.375" stop-color="#f1dfb3"/><stop offset="0.400" stop-color="#f6e8c3"/><stop offset="0.425" stop-color="#f6ebcf"/><stop offset="0.450" stop-color="#f5efdc"/><stop offset="0.475" stop-color="#f5f2e8"/><stop offset="0.500" stop-color="#f4f5f5"/><stop offset="0.525" stop-color="#e9f2f1"/><stop offset="0.550" stop-color="#def0ed"/><stop offset="0.575" stop-color="#d2ede9"/><stop offset="0.600" stop-color="#c7eae5"/><stop offset="0.625" stop-color="#b4e2db"/><stop offset="0.650" stop-color="#a3dbd3"/><stop offset="0.675" stop-color="#92d4ca"/><stop offset="0.700" stop-color="#7fccc0"/><stop offset="0.725" stop-color="#6dbfb4"/><stop offset="0.750" stop-color="#58b0a7"/><stop offset="0.775" stop-color="#47a49b"/><stop offset="0.800" stop-color="#35978f"/><stop offset="0.825" stop-color="#278a82"/><stop offset="0.850" stop-color="#1a7e76"/><stop offset="0.875" stop-color="#0c7169"/><stop offset="0.900" stop-color="#01655d"/><stop offset="0.925" stop-color="#015b52"/><stop offset="0.950" stop-color="#005046"/><stop offset="0.975" stop-color="#00463b"/><stop offset="1.000" stop-color="#003c30"/></linearGradient><linearGradient id="g66" x1="0" y1="0" x2="0" y2="1"><stop offset="0.0026" stop-color="#e08214"/><stop offset="0.0342" stop-color="#e08214"/><stop offset="0.0395" stop-color="#e68d23"/><stop offset="0.0447" stop-color="#f7ac52"/><stop offset="0.0500" stop-color="#fdcc8c"/><stop offset="0.0553" stop-color="#fee0b6"/><stop offset="0.0711" stop-color="#fde4c0"/><stop offset="0.0921" stop-color="#faeedf"/><stop offset="0.1500" stop-color="#f7f7f6"/><stop offset="0.1763" stop-color="#eeeef3"/><stop offset="0.1868" stop-color="#e4e5f0"/><stop offset="0.2026" stop-color="#cbc9e2"/><stop offset="0.2132" stop-color="#c0bddb"/><stop offset="0.2184" stop-color="#e1e2ee"/><stop offset="0.2605" stop-color="#eff0f4"/><stop offset="0.2921" stop-color="#f4f4f6"/><stop offset="0.9974" stop-color="#f6f6f7"/></linearGradient><linearGradient id="g67" x1="0" y1="0" x2="0" y2="1"><stop offset="0.0026" stop-color="#f4a84c"/><stop offset="0.0395" stop-color="#f4a84c"/><stop offset="0.0447" stop-color="#fbb55e"/><stop offset="0.0553" stop-color="#feddaf"/><stop offset="0.0605" stop-color="#fce5c5"/><stop offset="0.0711" stop-color="#fce5c5"/><stop offset="0.0921" stop-color="#f9f1e6"/><stop offset="0.1289" stop-color="#f7f7f6"/><stop offset="0.1658" stop-color="#f0f1f4"/><stop offset="0.1816" stop-color="#e8e9f1"/><stop offset="0.1921" stop-color="#dcddec"/><stop offset="0.2026" stop-color="#c8c6e0"/><stop offset="0.2132" stop-color="#bcb7d8"/><stop offset="0.2184" stop-color="#dddfed"/><stop offset="0.2816" stop-color="#f3f3f5"/><stop offset="0.3500" stop-color="#f6f6f7"/><stop offset="0.9974" stop-color="#f6f6f7"/></linearGradient><linearGradient id="g68" x1="0" y1="0" x2="0" y2="1"><stop offset="0.0026" stop-color="#8f4407"/><stop offset="0.0289" stop-color="#8f4407"/><stop offset="0.0342" stop-color="#974907"/><stop offset="0.0395" stop-color="#c0640a"/><stop offset="0.0447" stop-color="#ee9b39"/><stop offset="0.0500" stop-color="#fdc885"/><stop offset="0.0553" stop-color="#fed299"/><stop offset="0.0605" stop-color="#fed299"/><stop offset="0.0763" stop-color="#fce6c8"/><stop offset="0.0868" stop-color="#faedda"/><stop offset="0.1132" stop-color="#f8f3ec"/><stop offset="0.1500" stop-color="#f7f7f6"/><stop offset="0.1816" stop-color="#e8e9f1"/><stop offset="0.1921" stop-color="#dadcec"/><stop offset="0.2079" stop-color="#bcb7d8"/><stop offset="0.2132" stop-color="#b9b3d6"/><stop offset="0.2184" stop-color="#dadcec"/><stop offset="0.2500" stop-color="#e9eaf2"/><stop offset="0.2868" stop-color="#f3f3f5"/><stop offset="0.3553" stop-color="#f6f6f7"/><stop offset="0.9974" stop-color="#f6f6f7"/></linearGradient><linearGradient id="g69" x1="0" y1="0" x2="0" y2="1"><stop offset="0.0026" stop-color="#8b4208"/><stop offset="0.0237" stop-color="#8b4208"/><stop offset="0.0289" stop-color="#914507"/><stop offset="0.0342" stop-color="#bd6109"/><stop offset="0.0395" stop-color="#eb9733"/><stop offset="0.0447" stop-color="#fdc57f"/><stop offset="0.0500" stop-color="#fed095"/><stop offset="0.0605" stop-color="#fed095"/><stop offset="0.0658" stop-color="#fed7a2"/><stop offset="0.0763" stop-color="#fce7ca"/><stop offset="0.0816" stop-color="#faecd7"/><stop offset="0.0921" stop-color="#f9f1e6"/><stop offset="0.1289" stop-color="#f7f7f6"/><stop offset="0.1658" stop-color="#f0f1f4"/><stop offset="0.1816" stop-color="#e7e8f1"/><stop offset="0.1921" stop-color="#d7d9eb"/><stop offset="0.2026" stop-color="#bfbbda"/><stop offset="0.2132" stop-color="#b2abd2"/><stop offset="0.2184" stop-color="#d4d5e9"/><stop offset="0.2605" stop-color="#eaebf2"/><stop offset="0.2974" stop-color="#f2f2f5"/><stop offset="0.9974" stop-color="#f6f6f7"/></linearGradient><linearGradient id="g70" x1="0" y1="0" x2="0" y2="1"><stop offset="0.0026" stop-color="#a04d07"/><stop offset="0.0184" stop-color="#a04d07"/><stop offset="0.0237" stop-color="#a44f07"/><stop offset="0.0289" stop-color="#c96d0d"/><stop offset="0.0342" stop-color="#ef9e3c"/><stop offset="0.0395" stop-color="#fdc782"/><stop offset="0.0447" stop-color="#fed095"/><stop offset="0.0605" stop-color="#fed095"/><stop offset="0.0658" stop-color="#fed8a6"/><stop offset="0.0763" stop-color="#fbebd5"/><stop offset="0.0921" stop-color="#f6f6f7"/><stop offset="0.1816" stop-color="#e4e5f0"/><stop offset="0.1921" stop-color="#d5d6e9"/><stop offset="0.2026" stop-color="#b9b3d6"/><stop offset="0.2132" stop-color="#a9a1cb"/><stop offset="0.2184" stop-color="#cecde4"/><stop offset="0.2447" stop-color="#dfe1ee"/><stop offset="0.2658" stop-color="#eaebf2"/><stop offset="0.3079" stop-color="#f2f2f5"/><stop offset="0.9974" stop-color="#f5f5f6"/></linearGradient><linearGradient id="g71" x1="0" y1="0" x2="0" y2="1"><stop offset="0.0026" stop-color="#8f4407"/><stop offset="0.0289" stop-color="#8f4407"/><stop offset="0.0342" stop-color="#aa5306"/><stop offset="0.0395" stop-color="#db7d12"/><stop offset="0.0447" stop-color="#fcb761"/><stop offset="0.0500" stop-color="#fecf92"/><stop offset="0.0605" stop-color="#fed095"/><stop offset="0.0658" stop-color="#fed7a2"/><stop offset="0.0763" stop-color="#fce8cd"/><stop offset="0.0816" stop-color="#faedda"/><stop offset="0.0921" stop-color="#f9f2e9"/><stop offset="0.1184" stop-color="#f7f7f6"/><stop offset="0.1711" stop-color="#ededf3"/><stop offset="0.1816" stop-color="#e5e6f0"/><stop offset="0.1868" stop-color="#dddfed"/><stop offset="0.1921" stop-color="#d1d2e7"/><stop offset="0.2079" stop-color="#a69ec9"/><stop offset="0.2132" stop-color="#a198c5"/><stop offset="0.2184" stop-color="#c7c5e0"/><stop offset="0.2447" stop-color="#dcddec"/><stop offset="0.2605" stop-color="#e6e7f0"/><stop offset="0.2921" stop-color="#eeeff4"/><stop offset="0.3553" stop-color="#f3f3f5"/><stop offset="0.9974" stop-color="#f5f5f6"/></linearGradient><linearGradient id="g72" x1="0" y1="0" x2="0" y2="1"><stop offset="0.0026" stop-color="#7f3b08"/><stop offset="0.0342" stop-color="#7f3b08"/><stop offset="0.0395" stop-color="#9a4a07"/><stop offset="0.0447" stop-color="#d57811"/><stop offset="0.0500" stop-color="#fcb761"/><stop offset="0.0553" stop-color="#fed095"/><stop offset="0.0605" stop-color="#fed095"/><stop offset="0.0658" stop-color="#fed59f"/><stop offset="0.0763" stop-color="#fde5c3"/><stop offset="0.0816" stop-color="#fce7ca"/><stop offset="0.1237" stop-color="#f9efe1"/><stop offset="0.1553" stop-color="#f8f3ec"/><stop offset="0.1658" stop-color="#f6f6f7"/><stop offset="0.1763" stop-color="#ededf3"/><stop offset="0.1868" stop-color="#dcddec"/><stop offset="0.1921" stop-color="#cfcfe5"/><stop offset="0.2026" stop-color="#ada6ce"/><stop offset="0.2079" stop-color="#9f96c4"/><stop offset="0.2132" stop-color="#9990bf"/><stop offset="0.2184" stop-color="#c2bedc"/><stop offset="0.2447" stop-color="#d9dbeb"/><stop offset="0.2605" stop-color="#e4e5f0"/><stop offset="0.2868" stop-color="#ededf3"/><stop offset="0.3711" stop-color="#f3f3f5"/><stop offset="0.9974" stop-color="#f5f5f6"/></linearGradient><linearGradient id="g73" x1="0" y1="0" x2="0" y2="1"><stop offset="0.0026" stop-color="#9e4c07"/><stop offset="0.0342" stop-color="#9e4c07"/><stop offset="0.0395" stop-color="#aa5306"/><stop offset="0.0447" stop-color="#d47610"/><stop offset="0.0500" stop-color="#f7ac52"/><stop offset="0.0553" stop-color="#fecd8f"/><stop offset="0.0605" stop-color="#fed095"/><stop offset="0.0658" stop-color="#fed8a6"/><stop offset="0.0763" stop-color="#fbead2"/><stop offset="0.0816" stop-color="#f9efe1"/><stop offset="0.0921" stop-color="#f7f7f6"/><stop offset="0.1711" stop-color="#e9eaf2"/><stop offset="0.1816" stop-color="#e2e3ef"/><stop offset="0.1868" stop-color="#dadcec"/><stop offset="0.2079" stop-color="#9990bf"/><stop offset="0.2132" stop-color="#9489bb"/><stop offset="0.2184" stop-color="#bfbbda"/><stop offset="0.2500" stop-color="#dcddec"/><stop offset="0.2711" stop-color="#e8e9f1"/><stop offset="0.2921" stop-color="#ededf3"/><stop offset="0.3500" stop-color="#f2f2f5"/><stop offset="0.9974" stop-color="#f5f5f6"/></linearGradient><linearGradient id="g74" x1="0" y1="0" x2="0" y2="1"><stop offset="0.0026" stop-color="#8f4407"/><stop offset="0.0237" stop-color="#8f4407"/><stop offset="0.0289" stop-color="#a44f07"/><stop offset="0.0342" stop-color="#d57811"/><stop offset="0.0395" stop-color="#fab35b"/><stop offset="0.0447" stop-color="#fecf92"/><stop offset="0.0605" stop-color="#fed095"/><stop offset="0.0658" stop-color="#fed7a2"/><stop offset="0.0763" stop-color="#fce7ca"/><stop offset="0.0921" stop-color="#f9f2e9"/><stop offset="0.1184" stop-color="#f7f7f6"/><stop offset="0.1658" stop-color="#eff0f4"/><stop offset="0.1816" stop-color="#e3e4ef"/><stop offset="0.1868" stop-color="#dadcec"/><stop offset="0.2079" stop-color="#9388ba"/><stop offset="0.2132" stop-color="#8d81b6"/><stop offset="0.2184" stop-color="#bcb8d9"/><stop offset="0.2553" stop-color="#dfe0ee"/><stop offset="0.2711" stop-color="#e8e9f1"/><stop offset="0.2921" stop-color="#ededf3"/><stop offset="0.3553" stop-color="#f2f2f5"/><stop offset="0.9974" stop-color="#f5f5f6"/></linearGradient><linearGradient id="g75" x1="0" y1="0" x2="0" y2="1"><stop offset="0.0026" stop-color="#813c08"/><stop offset="0.0184" stop-color="#833d08"/><stop offset="0.0237" stop-color="#a65107"/><stop offset="0.0289" stop-color="#de8013"/><stop offset="0.0342" stop-color="#fdbc6b"/><stop offset="0.0395" stop-color="#fed095"/><stop offset="0.0605" stop-color="#fed095"/><stop offset="0.0763" stop-color="#fce5c5"/><stop offset="0.0816" stop-color="#fbe9cf"/><stop offset="0.0921" stop-color="#faedda"/><stop offset="0.1605" stop-color="#f6f6f7"/><stop offset="0.1763" stop-color="#ebecf3"/><stop offset="0.1868" stop-color="#d8daeb"/><stop offset="0.1974" stop-color="#b4aed3"/><stop offset="0.2026" stop-color="#9d94c2"/><stop offset="0.2079" stop-color="#8c80b5"/><stop offset="0.2132" stop-color="#867ab0"/><stop offset="0.2184" stop-color="#bab5d7"/><stop offset="0.2500" stop-color="#dadcec"/><stop offset="0.2711" stop-color="#e8e9f1"/><stop offset="0.2921" stop-color="#ededf3"/><stop offset="0.3500" stop-color="#f2f2f5"/><stop offset="0.9974" stop-color="#f5f5f6"/></linearGradient><linearGradient id="g76" x1="0" y1="0" x2="0" y2="1"><stop offset="0.0026" stop-color="#954807"/><stop offset="0.0289" stop-color="#954807"/><stop offset="0.0342" stop-color="#b75c07"/><stop offset="0.0395" stop-color="#e68d23"/><stop offset="0.0447" stop-color="#fdc175"/><stop offset="0.0500" stop-color="#fed095"/><stop offset="0.0605" stop-color="#fed095"/><stop offset="0.0658" stop-color="#fed7a2"/><stop offset="0.0763" stop-color="#fbe9cf"/><stop offset="0.0868" stop-color="#f9f1e6"/><stop offset="0.0921" stop-color="#f8f4ee"/><stop offset="0.1079" stop-color="#f7f7f6"/><stop offset="0.1658" stop-color="#ededf3"/><stop offset="0.1816" stop-color="#e1e2ee"/><stop offset="0.1868" stop-color="#d8daeb"/><stop offset="0.1974" stop-color="#b1aad1"/><stop offset="0.2026" stop-color="#9990bf"/><stop offset="0.2079" stop-color="#8a7eb3"/><stop offset="0.2132" stop-color="#8477af"/><stop offset="0.2184" stop-color="#bab5d7"/><stop offset="0.2500" stop-color="#dadcec"/><stop offset="0.2711" stop-color="#e8e9f1"/><stop offset="0.2974" stop-color="#eeeef3"/><stop offset="0.3500" stop-color="#f2f2f5"/><stop offset="0.9974" stop-color="#f5f5f6"/></linearGradient><linearGradient id="g77" x1="0" y1="0" x2="0" y2="1"><stop offset="0.0026" stop-color="#8b4208"/><stop offset="0.0395" stop-color="#8b4208"/><stop offset="0.0447" stop-color="#aa5306"/><stop offset="0.0500" stop-color="#de8013"/><stop offset="0.0553" stop-color="#fdba68"/><stop offset="0.0605" stop-color="#fed095"/><stop offset="0.0658" stop-color="#fed7a2"/><stop offset="0.0763" stop-color="#fce7ca"/><stop offset="0.0868" stop-color="#faeedf"/><stop offset="0.0921" stop-color="#f9f0e4"/><stop offset="0.1342" stop-color="#f7f7f6"/><stop offset="0.1658" stop-color="#f0f0f4"/><stop offset="0.1816" stop-color="#e2e3ef"/><stop offset="0.1868" stop-color="#d7d8ea"/><stop offset="0.1974" stop-color="#afa8d0"/><stop offset="0.2026" stop-color="#978cbd"/><stop offset="0.2079" stop-color="#8578b0"/><stop offset="0.2132" stop-color="#7f72ab"/><stop offset="0.2184" stop-color="#bab5d7"/><stop offset="0.2500" stop-color="#dadcec"/><stop offset="0.2658" stop-color="#e5e7f0"/><stop offset="0.2868" stop-color="#ededf3"/><stop offset="0.3711" stop-color="#f2f2f5"/><stop offset="0.9974" stop-color="#f5f5f6"/></linearGradient><linearGradient id="g78" x1="0" y1="0" x2="0" y2="1"><stop offset="0.0026" stop-color="#853e08"/><stop offset="0.0342" stop-color="#853e08"/><stop offset="0.0395" stop-color="#8b4208"/><stop offset="0.0447" stop-color="#b95e08"/><stop offset="0.0500" stop-color="#ea9530"/><stop offset="0.0553" stop-color="#fdc782"/><stop offset="0.0763" stop-color="#fce6c8"/><stop offset="0.0816" stop-color="#fbead2"/><stop offset="0.0921" stop-color="#faeedc"/><stop offset="0.1553" stop-color="#f6f6f7"/><stop offset="0.1763" stop-color="#eaebf2"/><stop offset="0.1868" stop-color="#d7d8ea"/><stop offset="0.1921" stop-color="#c5c2de"/><stop offset="0.2026" stop-color="#9489bb"/><stop offset="0.2079" stop-color="#8275ad"/><stop offset="0.2132" stop-color="#7d6da9"/><stop offset="0.2184" stop-color="#bcb7d8"/><stop offset="0.2500" stop-color="#dcddec"/><stop offset="0.2816" stop-color="#ededf3"/><stop offset="0.3605" stop-color="#f3f3f5"/><stop offset="0.9974" stop-color="#f5f5f6"/></linearGradient><linearGradient id="g79" x1="0" y1="0" x2="0" y2="1"><stop offset="0.0026" stop-color="#853e08"/><stop offset="0.0184" stop-color="#853e08"/><stop offset="0.0237" stop-color="#a65107"/><stop offset="0.0289" stop-color="#dc7f13"/><stop offset="0.0342" stop-color="#fdba68"/><stop offset="0.0395" stop-color="#fed095"/><stop offset="0.0605" stop-color="#fed095"/><stop offset="0.0658" stop-color="#fed7a2"/><stop offset="0.0763" stop-color="#fce6c8"/><stop offset="0.0816" stop-color="#fbead2"/><stop offset="0.0921" stop-color="#faeedc"/><stop offset="0.1553" stop-color="#f6f6f7"/><stop offset="0.1763" stop-color="#eaebf2"/><stop offset="0.1868" stop-color="#d7d8ea"/><stop offset="0.1974" stop-color="#ada6ce"/><stop offset="0.2026" stop-color="#9489bb"/><stop offset="0.2079" stop-color="#8275ad"/><stop offset="0.2132" stop-color="#7d6da9"/><stop offset="0.2184" stop-color="#bfbbda"/><stop offset="0.2342" stop-color="#cbc9e2"/><stop offset="0.2500" stop-color="#dddfed"/><stop offset="0.2711" stop-color="#eaebf2"/><stop offset="0.2921" stop-color="#eff0f4"/><stop offset="0.3447" stop-color="#f3f3f5"/><stop offset="0.9974" stop-color="#f5f5f6"/></linearGradient><linearGradient id="g80" x1="0" y1="0" x2="0" y2="1"><stop offset="0.0026" stop-color="#813c08"/><stop offset="0.0289" stop-color="#813c08"/><stop offset="0.0342" stop-color="#a44f07"/><stop offset="0.0395" stop-color="#dc7f13"/><stop offset="0.0447" stop-color="#fdba68"/><stop offset="0.0500" stop-color="#fed095"/><stop offset="0.0605" stop-color="#fed095"/><stop offset="0.0763" stop-color="#fce5c5"/><stop offset="0.0816" stop-color="#fbe9cf"/><stop offset="0.0921" stop-color="#faedda"/><stop offset="0.1184" stop-color="#f9f1e6"/><stop offset="0.1447" stop-color="#f8f3ec"/><stop offset="0.1605" stop-color="#f6f6f7"/><stop offset="0.1763" stop-color="#eaebf2"/><stop offset="0.1868" stop-color="#d7d8ea"/><stop offset="0.1974" stop-color="#ada6ce"/><stop offset="0.2026" stop-color="#9489bb"/><stop offset="0.2079" stop-color="#8275ad"/><stop offset="0.2132" stop-color="#7c6ca8"/><stop offset="0.2184" stop-color="#c2bedc"/><stop offset="0.2500" stop-color="#dfe0ee"/><stop offset="0.2658" stop-color="#eaeaf2"/><stop offset="0.2868" stop-color="#f0f0f4"/><stop offset="0.3605" stop-color="#f4f4f6"/><stop offset="0.9974" stop-color="#f6f6f7"/></linearGradient><linearGradient id="g81" x1="0" y1="0" x2="0" y2="1"><stop offset="0.0026" stop-color="#8b4208"/><stop offset="0.0395" stop-color="#8b4208"/><stop offset="0.0447" stop-color="#8f4407"/><stop offset="0.0500" stop-color="#b75c07"/><stop offset="0.0553" stop-color="#e8912a"/><stop offset="0.0605" stop-color="#fdc47b"/><stop offset="0.0658" stop-color="#fed7a2"/><stop offset="0.0763" stop-color="#fce7ca"/><stop offset="0.0868" stop-color="#faeedf"/><stop offset="0.0921" stop-color="#f9f0e4"/><stop offset="0.1342" stop-color="#f7f7f6"/><stop offset="0.1605" stop-color="#f2f2f5"/><stop offset="0.1763" stop-color="#e9eaf2"/><stop offset="0.1816" stop-color="#e2e3ef"/><stop offset="0.1868" stop-color="#d7d8ea"/><stop offset="0.1921" stop-color="#c5c2de"/><stop offset="0.2026" stop-color="#9489bb"/><stop offset="0.2079" stop-color="#8275ad"/><stop offset="0.2132" stop-color="#7d6da9"/><stop offset="0.2184" stop-color="#c6c4df"/><stop offset="0.2500" stop-color="#e1e2ee"/><stop offset="0.2658" stop-color="#ebecf3"/><stop offset="0.2868" stop-color="#f2f2f5"/><stop offset="0.3500" stop-color="#f5f5f6"/><stop offset="0.9974" stop-color="#f6f6f7"/></linearGradient><linearGradient id="g82" x1="0" y1="0" x2="0" y2="1"><stop offset="0.0026" stop-color="#954807"/><stop offset="0.0289" stop-color="#954807"/><stop offset="0.0342" stop-color="#a44f07"/><stop offset="0.0395" stop-color="#d0730f"/><stop offset="0.0447" stop-color="#f6aa4f"/><stop offset="0.0500" stop-color="#fdcc8c"/><stop offset="0.0553" stop-color="#fed095"/><stop offset="0.0605" stop-color="#fed095"/><stop offset="0.0658" stop-color="#fed7a2"/><stop offset="0.0763" stop-color="#fbe9cf"/><stop offset="0.0816" stop-color="#faeedc"/><stop offset="0.0921" stop-color="#f8f5f1"/><stop offset="0.1026" stop-color="#f7f7f6"/><stop offset="0.1711" stop-color="#eaebf2"/><stop offset="0.1816" stop-color="#e1e2ee"/><stop offset="0.1868" stop-color="#d7d8ea"/><stop offset="0.1974" stop-color="#afa8d0"/><stop offset="0.2026" stop-color="#978cbd"/><stop offset="0.2079" stop-color="#8578b0"/><stop offset="0.2132" stop-color="#7f72ab"/><stop offset="0.2184" stop-color="#cccbe3"/><stop offset="0.2605" stop-color="#ebecf2"/><stop offset="0.2816" stop-color="#f2f2f5"/><stop offset="0.3711" stop-color="#f6f6f7"/><stop offset="0.9974" stop-color="#f6f6f7"/></linearGradient><linearGradient id="g83" x1="0" y1="0" x2="0" y2="1"><stop offset="0.0026" stop-color="#874008"/><stop offset="0.0395" stop-color="#894108"/><stop offset="0.0447" stop-color="#ac5406"/><stop offset="0.0500" stop-color="#e18417"/><stop offset="0.0553" stop-color="#fdbd6e"/><stop offset="0.0605" stop-color="#fed095"/><stop offset="0.0658" stop-color="#fed7a2"/><stop offset="0.0763" stop-color="#fce6c8"/><stop offset="0.0921" stop-color="#f9efe1"/><stop offset="0.1184" stop-color="#f8f4ee"/><stop offset="0.1500" stop-color="#f6f6f7"/><stop offset="0.1711" stop-color="#eeeef3"/><stop offset="0.1816" stop-color="#e3e4ef"/><stop offset="0.1868" stop-color="#d8daeb"/><stop offset="0.1974" stop-color="#b1aad1"/><stop offset="0.2026" stop-color="#9990bf"/><stop offset="0.2079" stop-color="#887cb2"/><stop offset="0.2132" stop-color="#8275ad"/><stop offset="0.2184" stop-color="#d2d3e7"/><stop offset="0.2605" stop-color="#ededf3"/><stop offset="0.2816" stop-color="#f4f4f6"/><stop offset="0.9974" stop-color="#f6f6f7"/></linearGradient><linearGradient id="g84" x1="0" y1="0" x2="0" y2="1"><stop offset="0.0026" stop-color="#954807"/><stop offset="0.0342" stop-color="#954807"/><stop offset="0.0395" stop-color="#ac5406"/><stop offset="0.0447" stop-color="#dc7f13"/><stop offset="0.0500" stop-color="#fcb761"/><stop offset="0.0553" stop-color="#fed095"/><stop offset="0.0605" stop-color="#fed299"/><stop offset="0.0658" stop-color="#fed8a6"/><stop offset="0.0763" stop-color="#fce8cd"/><stop offset="0.0868" stop-color="#f9efe1"/><stop offset="0.0921" stop-color="#f9f2e9"/><stop offset="0.1184" stop-color="#f7f7f6"/><stop offset="0.1553" stop-color="#f2f2f5"/><stop offset="0.1711" stop-color="#ebecf3"/><stop offset="0.1816" stop-color="#e2e3ef"/><stop offset="0.1868" stop-color="#d8daeb"/><stop offset="0.2079" stop-color="#8c80b5"/><stop offset="0.2132" stop-color="#867ab0"/><stop offset="0.2184" stop-color="#d5d6e9"/><stop offset="0.2553" stop-color="#ebecf3"/><stop offset="0.2816" stop-color="#f5f5f6"/><stop offset="0.9974" stop-color="#f6f6f7"/></linearGradient><linearGradient id="g85" x1="0" y1="0" x2="0" y2="1"><stop offset="0.0026" stop-color="#fdc57f"/><stop offset="0.0342" stop-color="#fdc57f"/><stop offset="0.0395" stop-color="#fecd8f"/><stop offset="0.0447" stop-color="#fedbac"/><stop offset="0.0500" stop-color="#fde5c3"/><stop offset="0.0553" stop-color="#fce8cd"/><stop offset="0.0711" stop-color="#fce8cd"/><stop offset="0.0921" stop-color="#f6f6f7"/><stop offset="0.1711" stop-color="#e8e9f1"/><stop offset="0.1816" stop-color="#e1e2ee"/><stop offset="0.1868" stop-color="#d8daeb"/><stop offset="0.1921" stop-color="#c9c8e1"/><stop offset="0.2026" stop-color="#9f96c4"/><stop offset="0.2079" stop-color="#9085b8"/><stop offset="0.2132" stop-color="#8a7eb3"/><stop offset="0.2184" stop-color="#d9dbeb"/><stop offset="0.2342" stop-color="#dee0ed"/><stop offset="0.2605" stop-color="#f0f1f4"/><stop offset="0.2816" stop-color="#f6f6f7"/><stop offset="0.3289" stop-color="#f7f6f3"/><stop offset="0.9974" stop-color="#f7f7f6"/></linearGradient><linearGradient id="g86" x1="0" y1="0" x2="0" y2="1"><stop offset="0.0026" stop-color="#fecf92"/><stop offset="0.0342" stop-color="#fecf92"/><stop offset="0.0395" stop-color="#fed59f"/><stop offset="0.0447" stop-color="#fee1b9"/><stop offset="0.0500" stop-color="#fce7ca"/><stop offset="0.0553" stop-color="#fbead2"/><stop offset="0.0711" stop-color="#fce8cd"/><stop offset="0.0921" stop-color="#f6f6f7"/><stop offset="0.1711" stop-color="#e8e9f1"/><stop offset="0.1868" stop-color="#d9dbeb"/><stop offset="0.1921" stop-color="#cbc9e2"/><stop offset="0.2026" stop-color="#a39bc7"/><stop offset="0.2079" stop-color="#9489bb"/><stop offset="0.2132" stop-color="#8e82b6"/><stop offset="0.2184" stop-color="#dddfed"/><stop offset="0.2763" stop-color="#f6f6f7"/><stop offset="0.3342" stop-color="#f8f5f1"/><stop offset="0.9974" stop-color="#f7f7f6"/></linearGradient><linearGradient id="g87" x1="0" y1="0" x2="0" y2="1"><stop offset="0.0026" stop-color="#874008"/><stop offset="0.0342" stop-color="#874008"/><stop offset="0.0395" stop-color="#9c4b07"/><stop offset="0.0447" stop-color="#ce720f"/><stop offset="0.0500" stop-color="#f8ae55"/><stop offset="0.0553" stop-color="#fecf92"/><stop offset="0.0658" stop-color="#fed7a2"/><stop offset="0.0763" stop-color="#fce5c5"/><stop offset="0.0921" stop-color="#faecd7"/><stop offset="0.1184" stop-color="#f9f0e4"/><stop offset="0.1447" stop-color="#f9f2e9"/><stop offset="0.1605" stop-color="#f7f7f6"/><stop offset="0.1711" stop-color="#f2f2f5"/><stop offset="0.1868" stop-color="#dadcec"/><stop offset="0.1921" stop-color="#cccbe3"/><stop offset="0.2026" stop-color="#a59dc8"/><stop offset="0.2079" stop-color="#988dbe"/><stop offset="0.2132" stop-color="#9287b9"/><stop offset="0.2184" stop-color="#e1e2ee"/><stop offset="0.2289" stop-color="#e2e3ef"/><stop offset="0.2711" stop-color="#f6f6f7"/><stop offset="0.2921" stop-color="#f8f5f1"/><stop offset="0.3395" stop-color="#f8f4ee"/><stop offset="0.9974" stop-color="#f7f7f6"/></linearGradient><linearGradient id="g88" x1="0" y1="0" x2="0" y2="1"><stop offset="0.0026" stop-color="#8d4307"/><stop offset="0.0237" stop-color="#8d4307"/><stop offset="0.0289" stop-color="#9a4a07"/><stop offset="0.0342" stop-color="#c76b0c"/><stop offset="0.0395" stop-color="#f1a242"/><stop offset="0.0447" stop-color="#fdca88"/><stop offset="0.0500" stop-color="#fed095"/><stop offset="0.0605" stop-color="#fed095"/><stop offset="0.0658" stop-color="#fed7a2"/><stop offset="0.0763" stop-color="#fce7ca"/><stop offset="0.0816" stop-color="#faecd7"/><stop offset="0.0921" stop-color="#f9f1e6"/><stop offset="0.1237" stop-color="#f7f7f6"/><stop offset="0.1658" stop-color="#eff0f4"/><stop offset="0.1816" stop-color="#e4e5f0"/><stop offset="0.1868" stop-color="#dadcec"/><stop offset="0.1921" stop-color="#cccbe3"/><stop offset="0.2079" stop-color="#9990bf"/><stop offset="0.2132" stop-color="#968bbc"/><stop offset="0.2184" stop-color="#e3e4ef"/><stop offset="0.2289" stop-color="#e4e5f0"/><stop offset="0.2658" stop-color="#f6f6f7"/><stop offset="0.3026" stop-color="#f8f4ee"/><stop offset="0.3763" stop-color="#f8f3ec"/><stop offset="0.9974" stop-color="#f7f7f6"/></linearGradient><linearGradient id="g89" x1="0" y1="0" x2="0" y2="1"><stop offset="0.0026" stop-color="#874008"/><stop offset="0.0289" stop-color="#874008"/><stop offset="0.0342" stop-color="#974907"/><stop offset="0.0395" stop-color="#c96d0d"/><stop offset="0.0447" stop-color="#f4a84c"/><stop offset="0.0500" stop-color="#fecc8d"/><stop offset="0.0553" stop-color="#fed094"/><stop offset="0.0605" stop-color="#fed094"/><stop offset="0.0763" stop-color="#fce6c8"/><stop offset="0.0921" stop-color="#f9efe1"/><stop offset="0.1184" stop-color="#f8f4ee"/><stop offset="0.1500" stop-color="#f6f6f7"/><stop offset="0.1711" stop-color="#eff0f4"/><stop offset="0.1868" stop-color="#dcdeed"/><stop offset="0.2079" stop-color="#a097c5"/><stop offset="0.2132" stop-color="#9b92c1"/><stop offset="0.2184" stop-color="#e7e8f1"/><stop offset="0.2289" stop-color="#e8e9f1"/><stop offset="0.2605" stop-color="#f6f6f7"/><stop offset="0.2921" stop-color="#f8f3ed"/><stop offset="0.3658" stop-color="#f8f2ea"/><stop offset="0.9974" stop-color="#f7f7f6"/></linearGradient><linearGradient id="g90" x1="0" y1="0" x2="0" y2="1"><stop offset="0.0026" stop-color="#7f3b08"/><stop offset="0.0342" stop-color="#7f3b08"/><stop offset="0.0395" stop-color="#9c4b07"/><stop offset="0.0447" stop-color="#d47610"/><stop offset="0.0500" stop-color="#fab35b"/><stop offset="0.0553" stop-color="#fecf92"/><stop offset="0.0605" stop-color="#fecf92"/><stop offset="0.0658" stop-color="#fed59f"/><stop offset="0.0763" stop-color="#fde5c3"/><stop offset="0.0816" stop-color="#fce8cd"/><stop offset="0.0921" stop-color="#faecd7"/><stop offset="0.1184" stop-color="#f9f0e4"/><stop offset="0.1447" stop-color="#f9f2e9"/><stop offset="0.1605" stop-color="#f7f7f6"/><stop offset="0.1763" stop-color="#eeeef3"/><stop offset="0.1868" stop-color="#dee0ed"/><stop offset="0.1921" stop-color="#d2d3e7"/><stop offset="0.1974" stop-color="#c2bedc"/><stop offset="0.2079" stop-color="#a79fca"/><stop offset="0.2132" stop-color="#a198c5"/><stop offset="0.2184" stop-color="#ebecf3"/><stop offset="0.2342" stop-color="#ededf3"/><stop offset="0.2553" stop-color="#f6f6f7"/><stop offset="0.2816" stop-color="#f8f3ec"/><stop offset="0.4079" stop-color="#f9f1e6"/><stop offset="0.6816" stop-color="#f8f5f1"/><stop offset="0.9974" stop-color="#f7f6f3"/></linearGradient><linearGradient id="g91" x1="0" y1="0" x2="0" y2="1"><stop offset="0.0026" stop-color="#813c08"/><stop offset="0.0237" stop-color="#813c08"/><stop offset="0.0289" stop-color="#853e08"/><stop offset="0.0342" stop-color="#b35806"/><stop offset="0.0395" stop-color="#e78f27"/><stop offset="0.0447" stop-color="#fdc278"/><stop offset="0.0500" stop-color="#fecd8f"/><stop offset="0.0605" stop-color="#fecd8f"/><stop offset="0.0658" stop-color="#fed39c"/><stop offset="0.0763" stop-color="#fde4c1"/><stop offset="0.0868" stop-color="#fbe9d1"/><stop offset="0.1184" stop-color="#f9efe1"/><stop offset="0.1395" stop-color="#f9f1e6"/><stop offset="0.1658" stop-color="#f6f6f7"/><stop offset="0.1763" stop-color="#eeeff4"/><stop offset="0.1868" stop-color="#e0e1ee"/><stop offset="0.1921" stop-color="#d5d6e9"/><stop offset="0.2026" stop-color="#b9b3d6"/><stop offset="0.2079" stop-color="#aea7cf"/><stop offset="0.2132" stop-color="#a9a1cb"/><stop offset="0.2184" stop-color="#eff0f4"/><stop offset="0.2500" stop-color="#f6f6f7"/><stop offset="0.2763" stop-color="#f8f2ea"/><stop offset="0.3921" stop-color="#f9f1e5"/><stop offset="0.7500" stop-color="#f8f5f1"/><stop offset="0.9974" stop-color="#f7f6f3"/></linearGradient><linearGradient id="g92" x1="0" y1="0" x2="0" y2="1"><stop offset="0.0026" stop-color="#8b4208"/><stop offset="0.0237" stop-color="#8b4208"/><stop offset="0.0289" stop-color="#a65107"/><stop offset="0.0342" stop-color="#d97b12"/><stop offset="0.0395" stop-color="#fbb55e"/><stop offset="0.0447" stop-color="#fdcc8c"/><stop offset="0.0605" stop-color="#fdcc8c"/><stop offset="0.0763" stop-color="#fce5c5"/><stop offset="0.0921" stop-color="#faeedf"/><stop offset="0.1500" stop-color="#f7f7f6"/><stop offset="0.1816" stop-color="#e9eaf2"/><stop offset="0.1921" stop-color="#d8daeb"/><stop offset="0.2026" stop-color="#bdb9d9"/><stop offset="0.2132" stop-color="#afa8d0"/><stop offset="0.2184" stop-color="#f4f4f6"/><stop offset="0.2447" stop-color="#f6f6f7"/><stop offset="0.2816" stop-color="#f9f1e6"/><stop offset="0.3500" stop-color="#f9f0e4"/><stop offset="0.4868" stop-color="#f9f0e4"/><stop offset="0.6816" stop-color="#f8f4ee"/><stop offset="0.9974" stop-color="#f7f6f3"/></linearGradient><linearGradient id="g93" x1="0" y1="0" x2="0" y2="1"><stop offset="0.0026" stop-color="#8f4407"/><stop offset="0.0395" stop-color="#8f4407"/><stop offset="0.0447" stop-color="#974907"/><stop offset="0.0500" stop-color="#c0640a"/><stop offset="0.0553" stop-color="#eb9733"/><stop offset="0.0605" stop-color="#fdc47b"/><stop offset="0.0711" stop-color="#fedeb3"/><stop offset="0.0763" stop-color="#fce5c5"/><stop offset="0.0816" stop-color="#fbead2"/><stop offset="0.0921" stop-color="#f9efe1"/><stop offset="0.1237" stop-color="#f8f5f1"/><stop offset="0.1447" stop-color="#f7f7f6"/><stop offset="0.1763" stop-color="#eeeef3"/><stop offset="0.1868" stop-color="#e3e4ef"/><stop offset="0.1921" stop-color="#d9dbeb"/><stop offset="0.2026" stop-color="#c0bddb"/><stop offset="0.2132" stop-color="#b3acd2"/><stop offset="0.2184" stop-color="#f6f6f7"/><stop offset="0.2395" stop-color="#f6f6f7"/><stop offset="0.2711" stop-color="#f9f1e6"/><stop offset="0.2868" stop-color="#f9f0e4"/><stop offset="0.3763" stop-color="#f9efe1"/><stop offset="0.4605" stop-color="#f9efe1"/><stop offset="0.7079" stop-color="#f8f4ee"/><stop offset="0.9974" stop-color="#f7f6f3"/></linearGradient><linearGradient id="g94" x1="0" y1="0" x2="0" y2="1"><stop offset="0.0026" stop-color="#853e08"/><stop offset="0.0289" stop-color="#853e08"/><stop offset="0.0342" stop-color="#8c4207"/><stop offset="0.0395" stop-color="#b75c07"/><stop offset="0.0447" stop-color="#e8912a"/><stop offset="0.0500" stop-color="#fdc177"/><stop offset="0.0553" stop-color="#fdca88"/><stop offset="0.0605" stop-color="#fdca88"/><stop offset="0.0658" stop-color="#fed197"/><stop offset="0.0763" stop-color="#fde3bf"/><stop offset="0.0921" stop-color="#fbebd6"/><stop offset="0.1184" stop-color="#f9f0e3"/><stop offset="0.1447" stop-color="#f9f2e9"/><stop offset="0.1658" stop-color="#f6f6f7"/><stop offset="0.1763" stop-color="#f1f1f5"/><stop offset="0.1868" stop-color="#e5e6f0"/><stop offset="0.1921" stop-color="#dcdeed"/><stop offset="0.2079" stop-color="#bcb7d8"/><stop offset="0.2132" stop-color="#b7b1d5"/><stop offset="0.2184" stop-color="#f8f5f1"/><stop offset="0.2237" stop-color="#f7f6f3"/><stop offset="0.2395" stop-color="#f8f5f2"/><stop offset="0.2658" stop-color="#f9f1e5"/><stop offset="0.2816" stop-color="#f9f0e3"/><stop offset="0.4026" stop-color="#faeedf"/><stop offset="0.6763" stop-color="#f8f3ec"/><stop offset="0.9974" stop-color="#f7f6f3"/></linearGradient><linearGradient id="g95" x1="0" y1="0" x2="0" y2="1"><stop offset="0.0026" stop-color="#8b4208"/><stop offset="0.0342" stop-color="#8b4208"/><stop offset="0.0395" stop-color="#914507"/><stop offset="0.0447" stop-color="#b95e08"/><stop offset="0.0500" stop-color="#e8912a"/><stop offset="0.0553" stop-color="#fdbf72"/><stop offset="0.0658" stop-color="#fed095"/><stop offset="0.0763" stop-color="#fde4c0"/><stop offset="0.0921" stop-color="#faedda"/><stop offset="0.1237" stop-color="#f9f2e9"/><stop offset="0.1395" stop-color="#f8f3ec"/><stop offset="0.1553" stop-color="#f7f7f6"/><stop offset="0.1763" stop-color="#f0f1f4"/><stop offset="0.1868" stop-color="#e7e8f1"/><stop offset="0.1974" stop-color="#d4d4e8"/><stop offset="0.2026" stop-color="#c8c6e0"/><stop offset="0.2132" stop-color="#bcb7d8"/><stop offset="0.2184" stop-color="#f9f2e9"/><stop offset="0.2342" stop-color="#f8f4ee"/><stop offset="0.2605" stop-color="#f9f0e4"/><stop offset="0.2921" stop-color="#faeedf"/><stop offset="0.3237" stop-color="#f9efe1"/><stop offset="0.4553" stop-color="#faeedc"/><stop offset="0.6395" stop-color="#f9f2e9"/><stop offset="0.9974" stop-color="#f7f6f3"/></linearGradient><linearGradient id="g96" x1="0" y1="0" x2="0" y2="1"><stop offset="0.0026" stop-color="#934607"/><stop offset="0.0289" stop-color="#934607"/><stop offset="0.0342" stop-color="#9c4b07"/><stop offset="0.0395" stop-color="#c4680b"/><stop offset="0.0447" stop-color="#ee9b39"/><stop offset="0.0500" stop-color="#fdc278"/><stop offset="0.0553" stop-color="#fdc885"/><stop offset="0.0605" stop-color="#fdc885"/><stop offset="0.0658" stop-color="#fed095"/><stop offset="0.0763" stop-color="#fde4c0"/><stop offset="0.0816" stop-color="#fbe9cf"/><stop offset="0.0921" stop-color="#faeedf"/><stop offset="0.1184" stop-color="#f8f4ee"/><stop offset="0.1500" stop-color="#f6f6f7"/><stop offset="0.1763" stop-color="#f0f1f4"/><stop offset="0.1868" stop-color="#e8e9f1"/><stop offset="0.2026" stop-color="#cbc9e2"/><stop offset="0.2132" stop-color="#bfbbda"/><stop offset="0.2184" stop-color="#f9f0e4"/><stop offset="0.2395" stop-color="#f9f2e9"/><stop offset="0.2711" stop-color="#faeedf"/><stop offset="0.4395" stop-color="#faedda"/><stop offset="0.6605" stop-color="#f9f2e9"/><stop offset="0.9974" stop-color="#f7f6f3"/></linearGradient><linearGradient id="g97" x1="0" y1="0" x2="0" y2="1"><stop offset="0.0026" stop-color="#8f4407"/><stop offset="0.0395" stop-color="#8f4407"/><stop offset="0.0447" stop-color="#a85206"/><stop offset="0.0500" stop-color="#d67911"/><stop offset="0.0553" stop-color="#f8ae55"/><stop offset="0.0605" stop-color="#fdc782"/><stop offset="0.0658" stop-color="#fecf92"/><stop offset="0.0763" stop-color="#fde3be"/><stop offset="0.0921" stop-color="#faedda"/><stop offset="0.1605" stop-color="#f7f6f6"/><stop offset="0.1816" stop-color="#eeeff4"/><stop offset="0.1921" stop-color="#e1e3ef"/><stop offset="0.2079" stop-color="#c6c4df"/><stop offset="0.2132" stop-color="#c2bfdd"/><stop offset="0.2184" stop-color="#faeedc"/><stop offset="0.2342" stop-color="#f9f0e4"/><stop offset="0.2763" stop-color="#faeedc"/><stop offset="0.4079" stop-color="#faecd7"/><stop offset="0.6974" stop-color="#f9f2e9"/><stop offset="0.9974" stop-color="#f8f5f1"/></linearGradient><linearGradient id="g98" x1="0" y1="0" x2="0" y2="1"><stop offset="0.0026" stop-color="#ed9936"/><stop offset="0.0289" stop-color="#ed9936"/><stop offset="0.0342" stop-color="#f2a446"/><stop offset="0.0395" stop-color="#fdbd6e"/><stop offset="0.0447" stop-color="#fed299"/><stop offset="0.0500" stop-color="#fee0b6"/><stop offset="0.0658" stop-color="#fee0b6"/><stop offset="0.0816" stop-color="#fce7ca"/><stop offset="0.0921" stop-color="#faeedf"/><stop offset="0.1553" stop-color="#f6f6f7"/><stop offset="0.1711" stop-color="#f4f4f6"/><stop offset="0.1868" stop-color="#eaebf2"/><stop offset="0.2079" stop-color="#c9c8e1"/><stop offset="0.2132" stop-color="#c6c4df"/><stop offset="0.2184" stop-color="#faecd7"/><stop offset="0.2342" stop-color="#faeedf"/><stop offset="0.2447" stop-color="#faeedf"/><stop offset="0.2711" stop-color="#faedda"/><stop offset="0.4342" stop-color="#fbebd5"/><stop offset="0.6605" stop-color="#f9f1e6"/><stop offset="0.9974" stop-color="#f8f5f1"/></linearGradient><linearGradient id="g99" x1="0" y1="0" x2="0" y2="1"><stop offset="0.0026" stop-color="#fed299"/><stop offset="0.0289" stop-color="#fed299"/><stop offset="0.0342" stop-color="#fed59f"/><stop offset="0.0395" stop-color="#fedeb3"/><stop offset="0.0500" stop-color="#fbe9cf"/><stop offset="0.0605" stop-color="#fbe9cf"/><stop offset="0.0711" stop-color="#fde5c3"/><stop offset="0.0763" stop-color="#fde5c3"/><stop offset="0.0921" stop-color="#faecd7"/><stop offset="0.1026" stop-color="#faeedf"/><stop offset="0.1395" stop-color="#f9f2e9"/><stop offset="0.1658" stop-color="#f6f6f7"/><stop offset="0.1763" stop-color="#f4f4f6"/><stop offset="0.1868" stop-color="#ebecf3"/><stop offset="0.2132" stop-color="#c8c6e0"/><stop offset="0.2184" stop-color="#fbead2"/><stop offset="0.2342" stop-color="#faeedc"/><stop offset="0.4500" stop-color="#fbebd5"/><stop offset="0.7237" stop-color="#f9f2e9"/><stop offset="0.9974" stop-color="#f8f5f1"/></linearGradient><linearGradient id="g100" x1="0" y1="0" x2="0" y2="1"><stop offset="0.0026" stop-color="#9e4c07"/><stop offset="0.0289" stop-color="#9e4c07"/><stop offset="0.0342" stop-color="#ac5406"/><stop offset="0.0395" stop-color="#d47610"/><stop offset="0.0447" stop-color="#f4a84c"/><stop offset="0.0500" stop-color="#fdc57f"/><stop offset="0.0553" stop-color="#fdc885"/><stop offset="0.0605" stop-color="#fdc885"/><stop offset="0.0658" stop-color="#fecf92"/><stop offset="0.0763" stop-color="#fde2bb"/><stop offset="0.0868" stop-color="#fbe9cf"/><stop offset="0.0974" stop-color="#faedda"/><stop offset="0.1658" stop-color="#f7f7f6"/><stop offset="0.1868" stop-color="#ededf3"/><stop offset="0.2026" stop-color="#d5d6e9"/><stop offset="0.2132" stop-color="#cbc9e2"/><stop offset="0.2184" stop-color="#fbe9cf"/><stop offset="0.2342" stop-color="#faedda"/><stop offset="0.3237" stop-color="#faedda"/><stop offset="0.4342" stop-color="#fbead2"/><stop offset="0.6395" stop-color="#f9f0e4"/><stop offset="0.9974" stop-color="#f8f5f1"/></linearGradient><linearGradient id="g101" x1="0" y1="0" x2="0" y2="1"><stop offset="0.0026" stop-color="#b75c07"/><stop offset="0.0342" stop-color="#bb5f08"/><stop offset="0.0395" stop-color="#d57811"/><stop offset="0.0447" stop-color="#f2a446"/><stop offset="0.0500" stop-color="#fdc57f"/><stop offset="0.0553" stop-color="#fecd8f"/><stop offset="0.0605" stop-color="#fecd8f"/><stop offset="0.0658" stop-color="#fed299"/><stop offset="0.0763" stop-color="#fde2bb"/><stop offset="0.0816" stop-color="#fce5c5"/><stop offset="0.0974" stop-color="#faedda"/><stop offset="0.1184" stop-color="#f9f0e4"/><stop offset="0.1447" stop-color="#f9f2e9"/><stop offset="0.1658" stop-color="#f7f7f6"/><stop offset="0.1868" stop-color="#eeeef3"/><stop offset="0.2079" stop-color="#d1d1e6"/><stop offset="0.2132" stop-color="#cecde4"/><stop offset="0.2184" stop-color="#fce8cd"/><stop offset="0.2342" stop-color="#faecd7"/><stop offset="0.4500" stop-color="#fbead2"/><stop offset="0.6974" stop-color="#f9f1e6"/><stop offset="0.9974" stop-color="#f8f5f1"/></linearGradient><linearGradient id="g102" x1="0" y1="0" x2="0" y2="1"><stop offset="0.0026" stop-color="#f9f0e4"/><stop offset="0.0605" stop-color="#f9f1e6"/><stop offset="0.0711" stop-color="#fce7ca"/><stop offset="0.0763" stop-color="#fce6c8"/><stop offset="0.0816" stop-color="#fce8cd"/><stop offset="0.0921" stop-color="#f9f0e4"/><stop offset="0.1342" stop-color="#f7f7f6"/><stop offset="0.1711" stop-color="#f4f4f6"/><stop offset="0.1868" stop-color="#eeeef3"/><stop offset="0.2132" stop-color="#cfcfe5"/><stop offset="0.2184" stop-color="#fce6c8"/><stop offset="0.2342" stop-color="#fbebd5"/><stop offset="0.3289" stop-color="#faecd7"/><stop offset="0.4289" stop-color="#fbe9cf"/><stop offset="0.7079" stop-color="#f9f1e6"/><stop offset="0.9974" stop-color="#f8f5f1"/></linearGradient><linearGradient id="g103" x1="0" y1="0" x2="0" y2="1"><stop offset="0.0026" stop-color="#cd700e"/><stop offset="0.0342" stop-color="#ce720f"/><stop offset="0.0395" stop-color="#e2861a"/><stop offset="0.0447" stop-color="#f7ac52"/><stop offset="0.0500" stop-color="#fdca88"/><stop offset="0.0553" stop-color="#fed39c"/><stop offset="0.0658" stop-color="#fed59f"/><stop offset="0.0763" stop-color="#fde2bb"/><stop offset="0.0921" stop-color="#fbebd5"/><stop offset="0.1711" stop-color="#f7f7f6"/><stop offset="0.1816" stop-color="#f4f4f6"/><stop offset="0.2132" stop-color="#d2d3e7"/><stop offset="0.2184" stop-color="#fce5c5"/><stop offset="0.2289" stop-color="#fbe9cf"/><stop offset="0.2500" stop-color="#fbebd5"/><stop offset="0.4447" stop-color="#fbe9cf"/><stop offset="0.7184" stop-color="#f9f1e6"/><stop offset="0.9974" stop-color="#f8f5f1"/></linearGradient><linearGradient id="g104" x1="0" y1="0" x2="0" y2="1"><stop offset="0.0026" stop-color="#934607"/><stop offset="0.0342" stop-color="#954807"/><stop offset="0.0395" stop-color="#b45906"/><stop offset="0.0447" stop-color="#e18417"/><stop offset="0.0500" stop-color="#fab35b"/><stop offset="0.0553" stop-color="#fdc278"/><stop offset="0.0605" stop-color="#fdc278"/><stop offset="0.0658" stop-color="#fdc885"/><stop offset="0.0763" stop-color="#fee0b6"/><stop offset="0.0921" stop-color="#fbebd5"/><stop offset="0.1184" stop-color="#f9efe1"/><stop offset="0.1447" stop-color="#f9f1e6"/><stop offset="0.1763" stop-color="#f6f6f7"/><stop offset="0.1868" stop-color="#f0f1f4"/><stop offset="0.2132" stop-color="#d4d4e8"/><stop offset="0.2184" stop-color="#fde5c3"/><stop offset="0.2289" stop-color="#fce8cd"/><stop offset="0.2447" stop-color="#fbead2"/><stop offset="0.3342" stop-color="#fbebd5"/><stop offset="0.4237" stop-color="#fce8cd"/><stop offset="0.6447" stop-color="#f9efe1"/><stop offset="0.9974" stop-color="#f8f5f1"/></linearGradient><linearGradient id="g105" x1="0" y1="0" x2="0" y2="1"><stop offset="0.0026" stop-color="#8d4307"/><stop offset="0.0395" stop-color="#8f4407"/><stop offset="0.0447" stop-color="#b05606"/><stop offset="0.0500" stop-color="#de8013"/><stop offset="0.0553" stop-color="#fab35b"/><stop offset="0.0605" stop-color="#fdc175"/><stop offset="0.0658" stop-color="#fdc782"/><stop offset="0.0763" stop-color="#feddaf"/><stop offset="0.0816" stop-color="#fde3be"/><stop offset="0.0921" stop-color="#fce8cd"/><stop offset="0.1184" stop-color="#faedda"/><stop offset="0.1342" stop-color="#faeedc"/><stop offset="0.1816" stop-color="#f5f5f6"/><stop offset="0.2132" stop-color="#d7d8ea"/><stop offset="0.2184" stop-color="#fde4c0"/><stop offset="0.2342" stop-color="#fce8cd"/><stop offset="0.2553" stop-color="#fbead2"/><stop offset="0.3184" stop-color="#fbebd5"/><stop offset="0.3921" stop-color="#fce8cd"/><stop offset="0.4447" stop-color="#fce8cd"/><stop offset="0.6921" stop-color="#f9f0e4"/><stop offset="0.9974" stop-color="#f8f5f1"/></linearGradient><linearGradient id="g106" x1="0" y1="0" x2="0" y2="1"><stop offset="0.0026" stop-color="#934607"/><stop offset="0.0395" stop-color="#934607"/><stop offset="0.0447" stop-color="#a65107"/><stop offset="0.0500" stop-color="#d0730f"/><stop offset="0.0553" stop-color="#f1a242"/><stop offset="0.0605" stop-color="#fdbf72"/><stop offset="0.0658" stop-color="#fdc782"/><stop offset="0.0763" stop-color="#fedeb3"/><stop offset="0.0816" stop-color="#fde4c0"/><stop offset="0.0921" stop-color="#fbead2"/><stop offset="0.1763" stop-color="#f7f7f6"/><stop offset="0.1868" stop-color="#f3f3f5"/><stop offset="0.2132" stop-color="#d9dbeb"/><stop offset="0.2184" stop-color="#fde3be"/><stop offset="0.2395" stop-color="#fce8cd"/><stop offset="0.2763" stop-color="#fbead2"/><stop offset="0.3395" stop-color="#fbead2"/><stop offset="0.4132" stop-color="#fce7ca"/><stop offset="0.7026" stop-color="#f9f0e4"/><stop offset="0.9974" stop-color="#f8f5f1"/></linearGradient><linearGradient id="g107" x1="0" y1="0" x2="0" y2="1"><stop offset="0.0026" stop-color="#813c08"/><stop offset="0.0289" stop-color="#833d08"/><stop offset="0.0342" stop-color="#a24e07"/><stop offset="0.0395" stop-color="#d47610"/><stop offset="0.0447" stop-color="#f5a94d"/><stop offset="0.0500" stop-color="#fdbe70"/><stop offset="0.0605" stop-color="#fdbe70"/><stop offset="0.0658" stop-color="#fdc57d"/><stop offset="0.0763" stop-color="#fed8a6"/><stop offset="0.0868" stop-color="#fee1ba"/><stop offset="0.1184" stop-color="#fce7ca"/><stop offset="0.1500" stop-color="#fbebd5"/><stop offset="0.1868" stop-color="#f5f5f6"/><stop offset="0.2132" stop-color="#dcddec"/><stop offset="0.2184" stop-color="#fee1ba"/><stop offset="0.2342" stop-color="#fce6c8"/><stop offset="0.2711" stop-color="#fbe9cf"/><stop offset="0.4395" stop-color="#fce7ca"/><stop offset="0.6816" stop-color="#f9efe1"/><stop offset="0.9974" stop-color="#f8f4ee"/></linearGradient><linearGradient id="g108" x1="0" y1="0" x2="0" y2="1"><stop offset="0.0026" stop-color="#874008"/><stop offset="0.0395" stop-color="#894108"/><stop offset="0.0447" stop-color="#aa5306"/><stop offset="0.0500" stop-color="#db7d12"/><stop offset="0.0553" stop-color="#f7ac52"/><stop offset="0.0605" stop-color="#fdbd6e"/><stop offset="0.0658" stop-color="#fdc47b"/><stop offset="0.0711" stop-color="#fecf92"/><stop offset="0.0816" stop-color="#fee0b6"/><stop offset="0.0868" stop-color="#fde3be"/><stop offset="0.1184" stop-color="#fbe9cf"/><stop offset="0.1553" stop-color="#faeedc"/><stop offset="0.1868" stop-color="#f5f5f6"/><stop offset="0.2132" stop-color="#dfe1ee"/><stop offset="0.2184" stop-color="#fee0b6"/><stop offset="0.2289" stop-color="#fde5c3"/><stop offset="0.2395" stop-color="#fce6c8"/><stop offset="0.2921" stop-color="#fbe9cf"/><stop offset="0.4395" stop-color="#fce6c8"/><stop offset="0.6868" stop-color="#f9efe1"/><stop offset="0.9974" stop-color="#f8f4ee"/></linearGradient><linearGradient id="g109" x1="0" y1="0" x2="0" y2="1"><stop offset="0.0026" stop-color="#934607"/><stop offset="0.0184" stop-color="#934607"/><stop offset="0.0237" stop-color="#9a4a07"/><stop offset="0.0289" stop-color="#bd6109"/><stop offset="0.0342" stop-color="#e68d23"/><stop offset="0.0395" stop-color="#fbb55e"/><stop offset="0.0447" stop-color="#fdbc6b"/><stop offset="0.0605" stop-color="#fdbc6b"/><stop offset="0.0658" stop-color="#fdc47b"/><stop offset="0.0763" stop-color="#fedbac"/><stop offset="0.0816" stop-color="#fde2bb"/><stop offset="0.0921" stop-color="#fce8cd"/><stop offset="0.1132" stop-color="#faedda"/><stop offset="0.1395" stop-color="#faeedf"/><stop offset="0.1605" stop-color="#f8f3ec"/><stop offset="0.1763" stop-color="#f8f4ee"/><stop offset="0.1868" stop-color="#f6f6f7"/><stop offset="0.2132" stop-color="#e1e2ee"/><stop offset="0.2184" stop-color="#fedeb3"/><stop offset="0.2289" stop-color="#fde4c0"/><stop offset="0.2658" stop-color="#fce8cd"/><stop offset="0.3184" stop-color="#fbe9cf"/><stop offset="0.3868" stop-color="#fce6c8"/><stop offset="0.4500" stop-color="#fce6c8"/><stop offset="0.6974" stop-color="#f9efe1"/><stop offset="0.9974" stop-color="#f8f4ee"/></linearGradient><linearGradient id="g110" x1="0" y1="0" x2="0" y2="1"><stop offset="0.0026" stop-color="#914507"/><stop offset="0.0237" stop-color="#914507"/><stop offset="0.0289" stop-color="#a24e07"/><stop offset="0.0342" stop-color="#cb6e0d"/><stop offset="0.0395" stop-color="#ee9b39"/><stop offset="0.0447" stop-color="#fdba68"/><stop offset="0.0605" stop-color="#fdbb6a"/><stop offset="0.0658" stop-color="#fdc37a"/><stop offset="0.0763" stop-color="#fedaa9"/><stop offset="0.0816" stop-color="#fee1b9"/><stop offset="0.0921" stop-color="#fce7ca"/><stop offset="0.1184" stop-color="#faecd7"/><stop offset="0.1447" stop-color="#faeede"/><stop offset="0.1921" stop-color="#f5f5f6"/><stop offset="0.2132" stop-color="#e4e5ef"/><stop offset="0.2184" stop-color="#fedcae"/><stop offset="0.2342" stop-color="#fde4c1"/><stop offset="0.2711" stop-color="#fce7ca"/><stop offset="0.3184" stop-color="#fce8cd"/><stop offset="0.4237" stop-color="#fce5c4"/><stop offset="0.6816" stop-color="#faeedf"/><stop offset="0.9974" stop-color="#f8f4ee"/></linearGradient><linearGradient id="g111" x1="0" y1="0" x2="0" y2="1"><stop offset="0.0026" stop-color="#9c4b07"/><stop offset="0.0447" stop-color="#9c4b07"/><stop offset="0.0500" stop-color="#ae5506"/><stop offset="0.0553" stop-color="#d47610"/><stop offset="0.0605" stop-color="#f1a242"/><stop offset="0.0658" stop-color="#fdc278"/><stop offset="0.0763" stop-color="#fedbac"/><stop offset="0.0816" stop-color="#fde3be"/><stop offset="0.0921" stop-color="#fbead2"/><stop offset="0.1237" stop-color="#f9efe1"/><stop offset="0.1395" stop-color="#f9f0e4"/><stop offset="0.1553" stop-color="#f8f4ee"/><stop offset="0.1816" stop-color="#f8f4ee"/><stop offset="0.1921" stop-color="#f5f5f6"/><stop offset="0.2132" stop-color="#e7e8f1"/><stop offset="0.2184" stop-color="#fedaa9"/><stop offset="0.2342" stop-color="#fde3be"/><stop offset="0.2658" stop-color="#fce6c8"/><stop offset="0.3289" stop-color="#fce7ca"/><stop offset="0.3921" stop-color="#fde5c3"/><stop offset="0.4447" stop-color="#fde5c3"/><stop offset="0.6921" stop-color="#faeedf"/><stop offset="0.9974" stop-color="#f8f4ee"/></linearGradient><linearGradient id="g112" x1="0" y1="0" x2="0" y2="1"><stop offset="0.0026" stop-color="#8b4208"/><stop offset="0.0289" stop-color="#8d4307"/><stop offset="0.0342" stop-color="#aa5306"/><stop offset="0.0395" stop-color="#d77a11"/><stop offset="0.0447" stop-color="#f4a74a"/><stop offset="0.0500" stop-color="#fdb965"/><stop offset="0.0605" stop-color="#fdb965"/><stop offset="0.0658" stop-color="#fdc073"/><stop offset="0.0763" stop-color="#fed6a1"/><stop offset="0.0816" stop-color="#feddaf"/><stop offset="0.0921" stop-color="#fde3bf"/><stop offset="0.1500" stop-color="#fbebd6"/><stop offset="0.1816" stop-color="#f9f2e9"/><stop offset="0.1921" stop-color="#f7f6f6"/><stop offset="0.2132" stop-color="#e8e9f1"/><stop offset="0.2184" stop-color="#fed7a4"/><stop offset="0.2289" stop-color="#fee0b6"/><stop offset="0.2342" stop-color="#fee1ba"/><stop offset="0.2763" stop-color="#fce6c7"/><stop offset="0.3289" stop-color="#fce6c8"/><stop offset="0.4184" stop-color="#fde3bf"/><stop offset="0.6816" stop-color="#faeedc"/><stop offset="0.9974" stop-color="#f8f4ee"/></linearGradient><linearGradient id="g113" x1="0" y1="0" x2="0" y2="1"><stop offset="0.0026" stop-color="#7f3b08"/><stop offset="0.0395" stop-color="#7f3b08"/><stop offset="0.0447" stop-color="#a04d07"/><stop offset="0.0500" stop-color="#d27510"/><stop offset="0.0553" stop-color="#f3a649"/><stop offset="0.0605" stop-color="#fcb761"/><stop offset="0.0658" stop-color="#fdbd6e"/><stop offset="0.0763" stop-color="#fed095"/><stop offset="0.0921" stop-color="#fedbac"/><stop offset="0.1500" stop-color="#fde5c3"/><stop offset="0.1763" stop-color="#faeedc"/><stop offset="0.1921" stop-color="#f7f6f3"/><stop offset="0.1974" stop-color="#f5f5f6"/><stop offset="0.2132" stop-color="#ebecf3"/><stop offset="0.2184" stop-color="#fed59f"/><stop offset="0.2342" stop-color="#fee1b9"/><stop offset="0.2816" stop-color="#fce5c5"/><stop offset="0.4447" stop-color="#fde3be"/><stop offset="0.6921" stop-color="#faeedc"/><stop offset="0.9974" stop-color="#f8f4ee"/></linearGradient><linearGradient id="g114" x1="0" y1="0" x2="0" y2="1"><stop offset="0.0026" stop-color="#a04d07"/><stop offset="0.0289" stop-color="#a04d07"/><stop offset="0.0342" stop-color="#ae5506"/><stop offset="0.0395" stop-color="#d0730f"/><stop offset="0.0447" stop-color="#ee9b39"/><stop offset="0.0500" stop-color="#fbb55e"/><stop offset="0.0605" stop-color="#fcb761"/><stop offset="0.0658" stop-color="#fdbf72"/><stop offset="0.0763" stop-color="#fedaa9"/><stop offset="0.0816" stop-color="#fde2bb"/><stop offset="0.0921" stop-color="#fbead2"/><stop offset="0.1553" stop-color="#f8f3ec"/><stop offset="0.1816" stop-color="#f9f2e9"/><stop offset="0.1974" stop-color="#f6f6f7"/><stop offset="0.2132" stop-color="#ededf3"/><stop offset="0.2184" stop-color="#fed39c"/><stop offset="0.2342" stop-color="#fee0b6"/><stop offset="0.2711" stop-color="#fde5c3"/><stop offset="0.3237" stop-color="#fce5c5"/><stop offset="0.4026" stop-color="#fde2bb"/><stop offset="0.4395" stop-color="#fde2bb"/><stop offset="0.5553" stop-color="#fce8cd"/><stop offset="0.7026" stop-color="#faeedc"/><stop offset="0.9974" stop-color="#f8f3ec"/></linearGradient><linearGradient id="g115" x1="0" y1="0" x2="0" y2="1"><stop offset="0.0026" stop-color="#974907"/><stop offset="0.0289" stop-color="#974907"/><stop offset="0.0342" stop-color="#a85206"/><stop offset="0.0395" stop-color="#cd700e"/><stop offset="0.0447" stop-color="#ec9835"/><stop offset="0.0500" stop-color="#fbb45d"/><stop offset="0.0605" stop-color="#fbb55e"/><stop offset="0.0658" stop-color="#fdbd6e"/><stop offset="0.0763" stop-color="#fed6a1"/><stop offset="0.0868" stop-color="#fde3be"/><stop offset="0.0921" stop-color="#fce5c5"/><stop offset="0.1553" stop-color="#f9efe1"/><stop offset="0.1816" stop-color="#f9f1e5"/><stop offset="0.2026" stop-color="#f5f5f6"/><stop offset="0.2132" stop-color="#eeeff4"/><stop offset="0.2184" stop-color="#fed197"/><stop offset="0.2289" stop-color="#fedbab"/><stop offset="0.2447" stop-color="#fee1b9"/><stop offset="0.2868" stop-color="#fde4c1"/><stop offset="0.3237" stop-color="#fde5c3"/><stop offset="0.4079" stop-color="#fee1b9"/><stop offset="0.4395" stop-color="#fee1ba"/><stop offset="0.6921" stop-color="#faedda"/><stop offset="0.9974" stop-color="#f8f3ec"/></linearGradient><linearGradient id="g116" x1="0" y1="0" x2="0" y2="1"><stop offset="0.0026" stop-color="#813c08"/><stop offset="0.0447" stop-color="#813c08"/><stop offset="0.0500" stop-color="#974907"/><stop offset="0.0553" stop-color="#c6690c"/><stop offset="0.0605" stop-color="#eb9733"/><stop offset="0.0658" stop-color="#fdba68"/><stop offset="0.0763" stop-color="#fecf92"/><stop offset="0.0868" stop-color="#fed8a6"/><stop offset="0.1237" stop-color="#fde2bb"/><stop offset="0.1500" stop-color="#fde5c3"/><stop offset="0.1868" stop-color="#f9f0e4"/><stop offset="0.2026" stop-color="#f6f6f7"/><stop offset="0.2132" stop-color="#f0f1f4"/><stop offset="0.2184" stop-color="#fed095"/><stop offset="0.2342" stop-color="#feddaf"/><stop offset="0.2658" stop-color="#fde3be"/><stop offset="0.3342" stop-color="#fde4c0"/><stop offset="0.4026" stop-color="#fee0b6"/><stop offset="0.4342" stop-color="#fee0b6"/><stop offset="0.6026" stop-color="#fbe9cf"/><stop offset="0.7289" stop-color="#faeedc"/><stop offset="0.9974" stop-color="#f8f3ec"/></linearGradient><linearGradient id="g117" x1="0" y1="0" x2="0" y2="1"><stop offset="0.0026" stop-color="#c6690c"/><stop offset="0.0342" stop-color="#c96d0d"/><stop offset="0.0395" stop-color="#e08214"/><stop offset="0.0447" stop-color="#f3a649"/><stop offset="0.0500" stop-color="#fdbf72"/><stop offset="0.0553" stop-color="#fdc47b"/><stop offset="0.0605" stop-color="#fdc47b"/><stop offset="0.0658" stop-color="#fdc782"/><stop offset="0.0816" stop-color="#fedeb3"/><stop offset="0.0921" stop-color="#fce5c5"/><stop offset="0.1184" stop-color="#fbebd5"/><stop offset="0.1342" stop-color="#faecd7"/><stop offset="0.1605" stop-color="#f9f0e4"/><stop offset="0.1868" stop-color="#f9f0e4"/><stop offset="0.2026" stop-color="#f6f6f7"/><stop offset="0.2132" stop-color="#f2f2f5"/><stop offset="0.2184" stop-color="#fed095"/><stop offset="0.2342" stop-color="#fedbac"/><stop offset="0.2605" stop-color="#fde2bb"/><stop offset="0.2763" stop-color="#fde3be"/><stop offset="0.3184" stop-color="#fde4c0"/><stop offset="0.3921" stop-color="#fee0b6"/><stop offset="0.4447" stop-color="#fee0b6"/><stop offset="0.6816" stop-color="#faecd7"/><stop offset="0.9974" stop-color="#f8f3ec"/></linearGradient><linearGradient id="g118" x1="0" y1="0" x2="0" y2="1"><stop offset="0.0026" stop-color="#fedbac"/><stop offset="0.0342" stop-color="#fedbac"/><stop offset="0.0500" stop-color="#fce8cd"/><stop offset="0.0605" stop-color="#fbe9cf"/><stop offset="0.0763" stop-color="#fedbac"/><stop offset="0.0816" stop-color="#fedaa9"/><stop offset="0.0974" stop-color="#fde3be"/><stop offset="0.1500" stop-color="#fbead2"/><stop offset="0.1868" stop-color="#f9f1e6"/><stop offset="0.2026" stop-color="#f6f6f7"/><stop offset="0.2132" stop-color="#f0f1f4"/><stop offset="0.2184" stop-color="#fed299"/><stop offset="0.2342" stop-color="#feddaf"/><stop offset="0.2658" stop-color="#fde2bb"/><stop offset="0.3289" stop-color="#fde3be"/><stop offset="0.3974" stop-color="#fedeb3"/><stop offset="0.4395" stop-color="#fedeb3"/><stop offset="0.5447" stop-color="#fce5c5"/><stop offset="0.6868" stop-color="#faecd7"/><stop offset="0.9974" stop-color="#f8f3ec"/></linearGradient><linearGradient id="g119" x1="0" y1="0" x2="0" y2="1"><stop offset="0.0026" stop-color="#bd6109"/><stop offset="0.0342" stop-color="#c2660b"/><stop offset="0.0395" stop-color="#db7d12"/><stop offset="0.0447" stop-color="#f1a242"/><stop offset="0.0500" stop-color="#fdc175"/><stop offset="0.0553" stop-color="#fdc57f"/><stop offset="0.0605" stop-color="#fdc57f"/><stop offset="0.0658" stop-color="#fdca88"/><stop offset="0.0763" stop-color="#fed8a6"/><stop offset="0.0921" stop-color="#fde4c0"/><stop offset="0.1447" stop-color="#faecd7"/><stop offset="0.1816" stop-color="#f8f3ec"/><stop offset="0.1921" stop-color="#f7f7f6"/><stop offset="0.2132" stop-color="#ededf3"/><stop offset="0.2184" stop-color="#fedbac"/><stop offset="0.2342" stop-color="#fee0b6"/><stop offset="0.2553" stop-color="#fde2bb"/><stop offset="0.2921" stop-color="#fde3be"/><stop offset="0.3237" stop-color="#fde3be"/><stop offset="0.4026" stop-color="#feddaf"/><stop offset="0.4342" stop-color="#feddaf"/><stop offset="0.5711" stop-color="#fce6c8"/><stop offset="0.6974" stop-color="#faecd7"/><stop offset="0.9974" stop-color="#f8f3ec"/></linearGradient><linearGradient id="g120" x1="0" y1="0" x2="0" y2="1"><stop offset="0.0026" stop-color="#ac5406"/><stop offset="0.0237" stop-color="#ae5506"/><stop offset="0.0289" stop-color="#c6690c"/><stop offset="0.0342" stop-color="#e78f27"/><stop offset="0.0395" stop-color="#fdb965"/><stop offset="0.0447" stop-color="#fdc57f"/><stop offset="0.0605" stop-color="#fdc782"/><stop offset="0.0816" stop-color="#fedeb3"/><stop offset="0.1500" stop-color="#faeedc"/><stop offset="0.1763" stop-color="#f7f7f6"/><stop offset="0.2132" stop-color="#e1e2ee"/><stop offset="0.2184" stop-color="#faecd7"/><stop offset="0.2342" stop-color="#fce6c8"/><stop offset="0.2447" stop-color="#fde5c3"/><stop offset="0.3237" stop-color="#fde3be"/><stop offset="0.3921" stop-color="#feddaf"/><stop offset="0.4447" stop-color="#feddaf"/><stop offset="0.5605" stop-color="#fce5c5"/><stop offset="0.6816" stop-color="#fbebd5"/><stop offset="0.9974" stop-color="#f8f3ec"/></linearGradient><linearGradient id="g121" x1="0" y1="0" x2="0" y2="1"><stop offset="0.0026" stop-color="#e9932d"/><stop offset="0.0395" stop-color="#ed9936"/><stop offset="0.0447" stop-color="#f4a84c"/><stop offset="0.0500" stop-color="#fdc278"/><stop offset="0.0553" stop-color="#fed59f"/><stop offset="0.0605" stop-color="#fedeb3"/><stop offset="0.0763" stop-color="#fce7ca"/><stop offset="0.1132" stop-color="#f8f4ee"/><stop offset="0.1289" stop-color="#f6f6f7"/><stop offset="0.1868" stop-color="#e4e5f0"/><stop offset="0.2132" stop-color="#d1d1e6"/><stop offset="0.2184" stop-color="#dfe1ee"/><stop offset="0.2289" stop-color="#f2f2f5"/><stop offset="0.2342" stop-color="#f8f4ee"/><stop offset="0.2395" stop-color="#faeedf"/><stop offset="0.2500" stop-color="#fbebd5"/><stop offset="0.2868" stop-color="#fce6c8"/><stop offset="0.4026" stop-color="#fedbac"/><stop offset="0.4289" stop-color="#fedbac"/><stop offset="0.5658" stop-color="#fce5c5"/><stop offset="0.6868" stop-color="#fbebd5"/><stop offset="0.9974" stop-color="#f8f3ec"/></linearGradient><linearGradient id="g122" x1="0" y1="0" x2="0" y2="1"><stop offset="0.0026" stop-color="#f8f3ec"/><stop offset="0.0447" stop-color="#f6f6f7"/><stop offset="0.0658" stop-color="#f6f6f7"/><stop offset="0.0816" stop-color="#f8f3ec"/><stop offset="0.0921" stop-color="#f7f7f6"/><stop offset="0.1500" stop-color="#d9dbeb"/><stop offset="0.1711" stop-color="#d5d6e9"/><stop offset="0.1816" stop-color="#cfcfe5"/><stop offset="0.1921" stop-color="#c2bedc"/><stop offset="0.2079" stop-color="#968bbc"/><stop offset="0.2132" stop-color="#9085b8"/><stop offset="0.2184" stop-color="#7e70ab"/><stop offset="0.2237" stop-color="#9990bf"/><stop offset="0.2289" stop-color="#c0bddb"/><stop offset="0.2342" stop-color="#dcddec"/><stop offset="0.2395" stop-color="#e9eaf2"/><stop offset="0.2447" stop-color="#f0f1f4"/><stop offset="0.2553" stop-color="#f7f7f6"/><stop offset="0.2816" stop-color="#faeedf"/><stop offset="0.3184" stop-color="#fce8cd"/><stop offset="0.3395" stop-color="#fde3be"/><stop offset="0.3921" stop-color="#feddaf"/><stop offset="0.4342" stop-color="#feddaf"/><stop offset="0.4553" stop-color="#fee0b6"/><stop offset="0.6868" stop-color="#fbebd5"/><stop offset="0.8711" stop-color="#f9f0e4"/><stop offset="0.9974" stop-color="#f9f2e9"/></linearGradient><linearGradient id="g123" x1="0" y1="0" x2="0" y2="1"><stop offset="0.0026" stop-color="#faeedc"/><stop offset="0.0237" stop-color="#f9f0e4"/><stop offset="0.0395" stop-color="#f7f7f6"/><stop offset="0.0921" stop-color="#ebecf3"/><stop offset="0.1237" stop-color="#d7d8ea"/><stop offset="0.1500" stop-color="#c0bddb"/><stop offset="0.1763" stop-color="#b7b1d5"/><stop offset="0.1816" stop-color="#b1aad1"/><stop offset="0.1868" stop-color="#a39bc7"/><stop offset="0.1921" stop-color="#8e82b6"/><stop offset="0.1974" stop-color="#725ba1"/><stop offset="0.2026" stop-color="#552889"/><stop offset="0.2079" stop-color="#3f1268"/><stop offset="0.2184" stop-color="#2d004b"/><stop offset="0.2237" stop-color="#300350"/><stop offset="0.2289" stop-color="#6d529c"/><stop offset="0.2342" stop-color="#a79fca"/><stop offset="0.2395" stop-color="#c6c4df"/><stop offset="0.2447" stop-color="#d5d6e9"/><stop offset="0.2500" stop-color="#dee0ed"/><stop offset="0.2816" stop-color="#f4f4f6"/><stop offset="0.2921" stop-color="#f7f7f6"/><stop offset="0.3395" stop-color="#fce7ca"/><stop offset="0.3868" stop-color="#fde2bb"/><stop offset="0.4395" stop-color="#fde2bb"/><stop offset="0.5605" stop-color="#fce7ca"/><stop offset="0.7711" stop-color="#faeedc"/><stop offset="0.9974" stop-color="#f9f2e9"/></linearGradient><linearGradient id="g124" x1="0" y1="0" x2="0" y2="1"><stop offset="0.0026" stop-color="#f7f7f6"/><stop offset="0.0921" stop-color="#e5e7f0"/><stop offset="0.1132" stop-color="#d5d6e9"/><stop offset="0.1500" stop-color="#b3acd2"/><stop offset="0.1711" stop-color="#a9a1cb"/><stop offset="0.1816" stop-color="#9990bf"/><stop offset="0.1868" stop-color="#887cb2"/><stop offset="0.1921" stop-color="#6f559e"/><stop offset="0.1974" stop-color="#4c1f7b"/><stop offset="0.2026" stop-color="#2d004b"/><stop offset="0.2289" stop-color="#2d004b"/><stop offset="0.2342" stop-color="#6f559e"/><stop offset="0.2395" stop-color="#9d94c2"/><stop offset="0.2447" stop-color="#b7b1d5"/><stop offset="0.2500" stop-color="#c6c4df"/><stop offset="0.2711" stop-color="#dee0ed"/><stop offset="0.3132" stop-color="#f5f5f6"/><stop offset="0.3184" stop-color="#f7f7f6"/><stop offset="0.3447" stop-color="#faedda"/><stop offset="0.3763" stop-color="#fbe9cf"/><stop offset="0.6974" stop-color="#faecd7"/><stop offset="0.9974" stop-color="#f9f1e6"/></linearGradient><linearGradient id="g125" x1="0" y1="0" x2="0" y2="1"><stop offset="0.0026" stop-color="#f9f2e9"/><stop offset="0.0395" stop-color="#f5f5f6"/><stop offset="0.0974" stop-color="#e4e5f0"/><stop offset="0.1132" stop-color="#d8daeb"/><stop offset="0.1500" stop-color="#b7b1d5"/><stop offset="0.1763" stop-color="#aba3cd"/><stop offset="0.1816" stop-color="#a39bc7"/><stop offset="0.1868" stop-color="#9489bb"/><stop offset="0.1921" stop-color="#7b6aa8"/><stop offset="0.1974" stop-color="#5a318d"/><stop offset="0.2026" stop-color="#3b0e61"/><stop offset="0.2079" stop-color="#2d004b"/><stop offset="0.2289" stop-color="#2d004b"/><stop offset="0.2342" stop-color="#5a318d"/><stop offset="0.2395" stop-color="#8a7eb3"/><stop offset="0.2447" stop-color="#a9a1cb"/><stop offset="0.2500" stop-color="#bdb9d9"/><stop offset="0.2711" stop-color="#d9dbeb"/><stop offset="0.2763" stop-color="#dee0ed"/><stop offset="0.3237" stop-color="#f5f5f6"/><stop offset="0.3289" stop-color="#f7f7f6"/><stop offset="0.3447" stop-color="#f9f1e6"/><stop offset="0.4132" stop-color="#faeedf"/><stop offset="0.7026" stop-color="#faedda"/><stop offset="0.9974" stop-color="#f9f0e4"/></linearGradient><linearGradient id="g126" x1="0" y1="0" x2="0" y2="1"><stop offset="0.0026" stop-color="#faecd7"/><stop offset="0.0342" stop-color="#f9efe1"/><stop offset="0.0447" stop-color="#f4f4f6"/><stop offset="0.0500" stop-color="#ededf3"/><stop offset="0.0974" stop-color="#dadcec"/><stop offset="0.1500" stop-color="#b4aed3"/><stop offset="0.1763" stop-color="#afa8d0"/><stop offset="0.1921" stop-color="#9b92c1"/><stop offset="0.2079" stop-color="#7b6aa8"/><stop offset="0.2132" stop-color="#7661a4"/><stop offset="0.2184" stop-color="#2d004b"/><stop offset="0.2237" stop-color="#2d004b"/><stop offset="0.2289" stop-color="#2f024d"/><stop offset="0.2342" stop-color="#6d529c"/><stop offset="0.2395" stop-color="#9990bf"/><stop offset="0.2447" stop-color="#b7b1d5"/><stop offset="0.2500" stop-color="#c9c8e1"/><stop offset="0.2658" stop-color="#dddfed"/><stop offset="0.2816" stop-color="#eaebf2"/><stop offset="0.3132" stop-color="#f5f5f6"/><stop offset="0.3184" stop-color="#f6f6f7"/><stop offset="0.3500" stop-color="#f9efe1"/><stop offset="0.3763" stop-color="#faeedc"/><stop offset="0.7184" stop-color="#faedda"/><stop offset="0.9974" stop-color="#f9f0e4"/></linearGradient><linearGradient id="g127" x1="0" y1="0" x2="0" y2="1"><stop offset="0.0026" stop-color="#f4f4f6"/><stop offset="0.0395" stop-color="#ededf3"/><stop offset="0.0447" stop-color="#e2e3ef"/><stop offset="0.0553" stop-color="#c5c2de"/><stop offset="0.1184" stop-color="#9085b8"/><stop offset="0.1500" stop-color="#8073ac"/><stop offset="0.1868" stop-color="#887cb2"/><stop offset="0.1974" stop-color="#c2bedc"/><stop offset="0.2026" stop-color="#dadcec"/><stop offset="0.2079" stop-color="#e9eaf2"/><stop offset="0.2132" stop-color="#eff0f4"/><stop offset="0.2184" stop-color="#2d004b"/><stop offset="0.2237" stop-color="#2d004b"/><stop offset="0.2289" stop-color="#6b4f9b"/><stop offset="0.2342" stop-color="#a39bc7"/><stop offset="0.2395" stop-color="#c3c0dd"/><stop offset="0.2447" stop-color="#d7d8ea"/><stop offset="0.2500" stop-color="#e3e4ef"/><stop offset="0.2763" stop-color="#f7f7f6"/><stop offset="0.3447" stop-color="#fce8cd"/><stop offset="0.3974" stop-color="#fde5c3"/><stop offset="0.5974" stop-color="#fbead2"/><stop offset="0.9974" stop-color="#f9f1e6"/></linearGradient><linearGradient id="g128" x1="0" y1="0" x2="0" y2="1"><stop offset="0.0026" stop-color="#fdc782"/><stop offset="0.0184" stop-color="#fdc885"/><stop offset="0.0237" stop-color="#fecf92"/><stop offset="0.0289" stop-color="#fedeb3"/><stop offset="0.0342" stop-color="#fce8cd"/><stop offset="0.0395" stop-color="#faeedf"/><stop offset="0.0711" stop-color="#f9efe1"/><stop offset="0.0816" stop-color="#f9f1e6"/><stop offset="0.0921" stop-color="#f7f7f6"/><stop offset="0.0974" stop-color="#f5f5f6"/><stop offset="0.1184" stop-color="#ededf3"/><stop offset="0.1447" stop-color="#e9eaf2"/><stop offset="0.1763" stop-color="#f6f6f7"/><stop offset="0.1868" stop-color="#f9f2e9"/><stop offset="0.1921" stop-color="#fbebd5"/><stop offset="0.1974" stop-color="#fee1b9"/><stop offset="0.2079" stop-color="#fdc175"/><stop offset="0.2132" stop-color="#f8ae55"/><stop offset="0.2184" stop-color="#3e1165"/><stop offset="0.2237" stop-color="#9085b8"/><stop offset="0.2289" stop-color="#c5c2de"/><stop offset="0.2342" stop-color="#dfe1ee"/><stop offset="0.2395" stop-color="#eff0f4"/><stop offset="0.2447" stop-color="#f8f5f1"/><stop offset="0.2500" stop-color="#f9efe1"/><stop offset="0.2816" stop-color="#fce5c5"/><stop offset="0.3237" stop-color="#fde3be"/><stop offset="0.3711" stop-color="#fedaa9"/><stop offset="0.4132" stop-color="#fedaa9"/><stop offset="0.4658" stop-color="#fee0b6"/><stop offset="0.6868" stop-color="#fbead2"/><stop offset="0.9974" stop-color="#f9f2e9"/></linearGradient><linearGradient id="g129" x1="0" y1="0" x2="0" y2="1"><stop offset="0.0026" stop-color="#fde3be"/><stop offset="0.0237" stop-color="#fde3be"/><stop offset="0.0289" stop-color="#fde4c0"/><stop offset="0.0447" stop-color="#faecd7"/><stop offset="0.0605" stop-color="#faedda"/><stop offset="0.0711" stop-color="#fde2bb"/><stop offset="0.0816" stop-color="#fed8a6"/><stop offset="0.0921" stop-color="#fde2bb"/><stop offset="0.1132" stop-color="#fce7ca"/><stop offset="0.1395" stop-color="#fbe9cf"/><stop offset="0.1500" stop-color="#fce7ca"/><stop offset="0.1658" stop-color="#fee0b6"/><stop offset="0.1816" stop-color="#fed095"/><stop offset="0.1868" stop-color="#fdc885"/><stop offset="0.1921" stop-color="#fdbd6e"/><stop offset="0.1974" stop-color="#f7ac52"/><stop offset="0.2079" stop-color="#e18417"/><stop offset="0.2132" stop-color="#c76b0c"/><stop offset="0.2184" stop-color="#f4f4f6"/><stop offset="0.2237" stop-color="#faedda"/><stop offset="0.2289" stop-color="#fce6c8"/><stop offset="0.2395" stop-color="#fedbac"/><stop offset="0.2500" stop-color="#fed39c"/><stop offset="0.2553" stop-color="#fed59f"/><stop offset="0.2816" stop-color="#fed39c"/><stop offset="0.3184" stop-color="#fed7a2"/><stop offset="0.3658" stop-color="#fed095"/><stop offset="0.4079" stop-color="#fed095"/><stop offset="0.5447" stop-color="#fee1b9"/><stop offset="0.6395" stop-color="#fce6c8"/><stop offset="0.8816" stop-color="#f9efe1"/><stop offset="0.9974" stop-color="#f9f2e9"/></linearGradient><linearGradient id="g130" x1="0" y1="0" x2="0" y2="1"><stop offset="0.0026" stop-color="#a85206"/><stop offset="0.0237" stop-color="#a85206"/><stop offset="0.0289" stop-color="#b05606"/><stop offset="0.0342" stop-color="#cd700e"/><stop offset="0.0395" stop-color="#eb9733"/><stop offset="0.0447" stop-color="#fbb55e"/><stop offset="0.0658" stop-color="#fdbd6e"/><stop offset="0.0816" stop-color="#fed299"/><stop offset="0.0921" stop-color="#feddaf"/><stop offset="0.1184" stop-color="#fde5c3"/><stop offset="0.1395" stop-color="#fde4c0"/><stop offset="0.1553" stop-color="#fedeb3"/><stop offset="0.1816" stop-color="#fdc278"/><stop offset="0.1868" stop-color="#fdb965"/><stop offset="0.1921" stop-color="#f6aa4f"/><stop offset="0.2026" stop-color="#de8013"/><stop offset="0.2079" stop-color="#c96d0d"/><stop offset="0.2132" stop-color="#ac5406"/><stop offset="0.2184" stop-color="#bd6109"/><stop offset="0.2237" stop-color="#e18417"/><stop offset="0.2289" stop-color="#ef9e3c"/><stop offset="0.2342" stop-color="#f6aa4f"/><stop offset="0.2500" stop-color="#fcb761"/><stop offset="0.2711" stop-color="#fdc47b"/><stop offset="0.3184" stop-color="#fecd8f"/><stop offset="0.4079" stop-color="#fdcc8c"/><stop offset="0.5447" stop-color="#fedeb3"/><stop offset="0.6447" stop-color="#fce5c5"/><stop offset="0.8658" stop-color="#faeedf"/><stop offset="0.9974" stop-color="#f9f1e6"/></linearGradient><linearGradient id="g131" x1="0" y1="0" x2="0" y2="1"><stop offset="0.0026" stop-color="#853e08"/><stop offset="0.0132" stop-color="#874008"/><stop offset="0.0184" stop-color="#a65107"/><stop offset="0.0237" stop-color="#d27510"/><stop offset="0.0289" stop-color="#ef9e3c"/><stop offset="0.0342" stop-color="#f7ac52"/><stop offset="0.0605" stop-color="#f7ac52"/><stop offset="0.0658" stop-color="#fab35b"/><stop offset="0.0763" stop-color="#fdc782"/><stop offset="0.0868" stop-color="#fed39c"/><stop offset="0.0921" stop-color="#fed8a6"/><stop offset="0.1132" stop-color="#fee0b6"/><stop offset="0.1447" stop-color="#fedeb3"/><stop offset="0.1658" stop-color="#fecd8f"/><stop offset="0.1763" stop-color="#fdc278"/><stop offset="0.1868" stop-color="#fab35b"/><stop offset="0.1921" stop-color="#f1a242"/><stop offset="0.1974" stop-color="#e68d23"/><stop offset="0.2026" stop-color="#d57811"/><stop offset="0.2079" stop-color="#c0640a"/><stop offset="0.2184" stop-color="#7f3b08"/><stop offset="0.2237" stop-color="#914507"/><stop offset="0.2289" stop-color="#c2660b"/><stop offset="0.2342" stop-color="#db7d12"/><stop offset="0.2395" stop-color="#e58a20"/><stop offset="0.2605" stop-color="#f8ae55"/><stop offset="0.2658" stop-color="#fbb55e"/><stop offset="0.2868" stop-color="#fdbf72"/><stop offset="0.3184" stop-color="#fdc885"/><stop offset="0.3816" stop-color="#fdca88"/><stop offset="0.4026" stop-color="#fdc885"/><stop offset="0.5711" stop-color="#fee0b6"/><stop offset="0.6763" stop-color="#fce6c8"/><stop offset="0.8763" stop-color="#faeedf"/><stop offset="0.9974" stop-color="#f9f1e6"/></linearGradient><linearGradient id="g132" x1="0" y1="0" x2="0" y2="1"><stop offset="0.0026" stop-color="#8d4307"/><stop offset="0.0237" stop-color="#8f4407"/><stop offset="0.0289" stop-color="#9a4a07"/><stop offset="0.0342" stop-color="#be630a"/><stop offset="0.0395" stop-color="#e3881d"/><stop offset="0.0447" stop-color="#f4a84c"/><stop offset="0.0605" stop-color="#f6aa4f"/><stop offset="0.0658" stop-color="#fab35b"/><stop offset="0.0763" stop-color="#fdca88"/><stop offset="0.0921" stop-color="#fedeb3"/><stop offset="0.1184" stop-color="#fde5c3"/><stop offset="0.1447" stop-color="#fde3be"/><stop offset="0.1553" stop-color="#feddaf"/><stop offset="0.1605" stop-color="#fed8a6"/><stop offset="0.1816" stop-color="#fdbc6b"/><stop offset="0.1921" stop-color="#f0a03f"/><stop offset="0.1974" stop-color="#e3881d"/><stop offset="0.2026" stop-color="#d27510"/><stop offset="0.2079" stop-color="#bd6109"/><stop offset="0.2132" stop-color="#9c4b07"/><stop offset="0.2184" stop-color="#7f3b08"/><stop offset="0.2237" stop-color="#7f3b08"/><stop offset="0.2289" stop-color="#a44f07"/><stop offset="0.2342" stop-color="#c6690c"/><stop offset="0.2395" stop-color="#d57811"/><stop offset="0.2447" stop-color="#e2861a"/><stop offset="0.2553" stop-color="#ee9b39"/><stop offset="0.2711" stop-color="#fab35b"/><stop offset="0.3184" stop-color="#fdc782"/><stop offset="0.4132" stop-color="#fdc885"/><stop offset="0.5658" stop-color="#fedeb3"/><stop offset="0.6816" stop-color="#fce6c8"/><stop offset="0.8816" stop-color="#faeedf"/><stop offset="0.9974" stop-color="#f9f1e6"/></linearGradient><linearGradient id="g133" x1="0" y1="0" x2="0" y2="1"><stop offset="0.0026" stop-color="#8d4307"/><stop offset="0.0237" stop-color="#8d4307"/><stop offset="0.0289" stop-color="#9a4a07"/><stop offset="0.0342" stop-color="#be630a"/><stop offset="0.0395" stop-color="#e3881d"/><stop offset="0.0447" stop-color="#f3a649"/><stop offset="0.0500" stop-color="#f6aa4f"/><stop offset="0.0605" stop-color="#f6aa4f"/><stop offset="0.0658" stop-color="#fab35b"/><stop offset="0.0816" stop-color="#fed299"/><stop offset="0.0921" stop-color="#fedeb3"/><stop offset="0.1184" stop-color="#fde5c3"/><stop offset="0.1447" stop-color="#fde3be"/><stop offset="0.1553" stop-color="#feddaf"/><stop offset="0.1816" stop-color="#fdbc6b"/><stop offset="0.1921" stop-color="#ef9e3c"/><stop offset="0.1974" stop-color="#e3881d"/><stop offset="0.2026" stop-color="#d27510"/><stop offset="0.2079" stop-color="#bb5f08"/><stop offset="0.2184" stop-color="#7f3b08"/><stop offset="0.2237" stop-color="#7f3b08"/><stop offset="0.2289" stop-color="#934607"/><stop offset="0.2342" stop-color="#bb5f08"/><stop offset="0.2395" stop-color="#cd700e"/><stop offset="0.2447" stop-color="#dc7f13"/><stop offset="0.2553" stop-color="#eb9733"/><stop offset="0.2711" stop-color="#f8ae55"/><stop offset="0.2921" stop-color="#fdbc6b"/><stop offset="0.3184" stop-color="#fdc57f"/><stop offset="0.4079" stop-color="#fdc782"/><stop offset="0.5711" stop-color="#fedeb3"/><stop offset="0.6868" stop-color="#fce6c8"/><stop offset="0.8605" stop-color="#faeedc"/><stop offset="0.9974" stop-color="#f9f1e6"/></linearGradient><linearGradient id="g134" x1="0" y1="0" x2="0" y2="1"><stop offset="0.0026" stop-color="#934607"/><stop offset="0.0237" stop-color="#934607"/><stop offset="0.0289" stop-color="#a85206"/><stop offset="0.0342" stop-color="#cc6f0e"/><stop offset="0.0395" stop-color="#ea942e"/><stop offset="0.0447" stop-color="#f6aa4f"/><stop offset="0.0605" stop-color="#f6aa4f"/><stop offset="0.0658" stop-color="#fab35b"/><stop offset="0.0816" stop-color="#fed49e"/><stop offset="0.0921" stop-color="#fee1b9"/><stop offset="0.1132" stop-color="#fce6c8"/><stop offset="0.1447" stop-color="#fce5c4"/><stop offset="0.1553" stop-color="#fee0b6"/><stop offset="0.1605" stop-color="#fedbac"/><stop offset="0.1711" stop-color="#fecc8d"/><stop offset="0.1816" stop-color="#fdbc6b"/><stop offset="0.1868" stop-color="#f8ae55"/><stop offset="0.1921" stop-color="#ef9e3c"/><stop offset="0.1974" stop-color="#e3881d"/><stop offset="0.2026" stop-color="#d27510"/><stop offset="0.2079" stop-color="#bb5f08"/><stop offset="0.2184" stop-color="#7f3b08"/><stop offset="0.2237" stop-color="#7f3b08"/><stop offset="0.2289" stop-color="#884008"/><stop offset="0.2342" stop-color="#b55a07"/><stop offset="0.2447" stop-color="#d87b12"/><stop offset="0.2500" stop-color="#e3871c"/><stop offset="0.2658" stop-color="#f3a547"/><stop offset="0.2816" stop-color="#fbb45d"/><stop offset="0.3184" stop-color="#fdc47b"/><stop offset="0.4079" stop-color="#fdc57f"/><stop offset="0.5816" stop-color="#fedeb3"/><stop offset="0.6816" stop-color="#fce5c5"/><stop offset="0.8711" stop-color="#faeedc"/><stop offset="0.9974" stop-color="#f9f1e6"/></linearGradient><linearGradient id="g135" x1="0" y1="0" x2="0" y2="1"><stop offset="0.0026" stop-color="#813c08"/><stop offset="0.0342" stop-color="#813c08"/><stop offset="0.0395" stop-color="#954807"/><stop offset="0.0447" stop-color="#c2660b"/><stop offset="0.0500" stop-color="#e78f27"/><stop offset="0.0553" stop-color="#f6aa4f"/><stop offset="0.0605" stop-color="#f6aa4f"/><stop offset="0.0711" stop-color="#fdbc6b"/><stop offset="0.0763" stop-color="#fdc57f"/><stop offset="0.0921" stop-color="#fed7a2"/><stop offset="0.1184" stop-color="#fee0b6"/><stop offset="0.1447" stop-color="#feddaf"/><stop offset="0.1605" stop-color="#fed095"/><stop offset="0.1763" stop-color="#fdc175"/><stop offset="0.1868" stop-color="#f8ae55"/><stop offset="0.1921" stop-color="#ef9e3c"/><stop offset="0.1974" stop-color="#e3881d"/><stop offset="0.2026" stop-color="#d27510"/><stop offset="0.2079" stop-color="#bb5f08"/><stop offset="0.2132" stop-color="#9a4a07"/><stop offset="0.2184" stop-color="#7f3b08"/><stop offset="0.2237" stop-color="#7f3b08"/><stop offset="0.2289" stop-color="#853e08"/><stop offset="0.2342" stop-color="#b25706"/><stop offset="0.2447" stop-color="#d57811"/><stop offset="0.2500" stop-color="#e18417"/><stop offset="0.2553" stop-color="#e8912a"/><stop offset="0.2658" stop-color="#f2a446"/><stop offset="0.2816" stop-color="#fab35b"/><stop offset="0.3184" stop-color="#fdc278"/><stop offset="0.4079" stop-color="#fdc47b"/><stop offset="0.4289" stop-color="#fdc885"/><stop offset="0.5868" stop-color="#fedeb3"/><stop offset="0.6868" stop-color="#fce5c5"/><stop offset="0.8763" stop-color="#faeedc"/><stop offset="0.9974" stop-color="#f9f0e4"/></linearGradient><linearGradient id="g136" x1="0" y1="0" x2="0" y2="1"><stop offset="0.0026" stop-color="#a65107"/><stop offset="0.0342" stop-color="#a65107"/><stop offset="0.0395" stop-color="#b65a07"/><stop offset="0.0447" stop-color="#d77a11"/><stop offset="0.0500" stop-color="#f1a242"/><stop offset="0.0553" stop-color="#fdb965"/><stop offset="0.0658" stop-color="#fdbc6b"/><stop offset="0.0921" stop-color="#fed7a2"/><stop offset="0.1184" stop-color="#fee0b6"/><stop offset="0.1447" stop-color="#feddaf"/><stop offset="0.1605" stop-color="#fed095"/><stop offset="0.1763" stop-color="#fdc175"/><stop offset="0.1868" stop-color="#f8ae55"/><stop offset="0.1921" stop-color="#ef9e3c"/><stop offset="0.1974" stop-color="#e3881d"/><stop offset="0.2026" stop-color="#d27510"/><stop offset="0.2079" stop-color="#bb5f08"/><stop offset="0.2132" stop-color="#9a4a07"/><stop offset="0.2184" stop-color="#7f3b08"/><stop offset="0.2289" stop-color="#833d08"/><stop offset="0.2342" stop-color="#b05606"/><stop offset="0.2395" stop-color="#c4680b"/><stop offset="0.2500" stop-color="#e18417"/><stop offset="0.2605" stop-color="#ed9936"/><stop offset="0.2711" stop-color="#f4a84c"/><stop offset="0.2868" stop-color="#fbb55e"/><stop offset="0.3184" stop-color="#fdc278"/><stop offset="0.4132" stop-color="#fdc47b"/><stop offset="0.4342" stop-color="#fdc885"/><stop offset="0.5553" stop-color="#fedaa9"/><stop offset="0.6763" stop-color="#fde5c3"/><stop offset="0.8816" stop-color="#faeedc"/><stop offset="0.9974" stop-color="#f9f0e4"/></linearGradient><linearGradient id="g137" x1="0" y1="0" x2="0" y2="1"><stop offset="0.0026" stop-color="#d77a11"/><stop offset="0.0289" stop-color="#d77a11"/><stop offset="0.0342" stop-color="#de8013"/><stop offset="0.0395" stop-color="#ee9b39"/><stop offset="0.0447" stop-color="#fdba68"/><stop offset="0.0500" stop-color="#fdca88"/><stop offset="0.0553" stop-color="#fdcc8c"/><stop offset="0.0763" stop-color="#fdca88"/><stop offset="0.0816" stop-color="#fdcc8c"/><stop offset="0.0921" stop-color="#fed59f"/><stop offset="0.1184" stop-color="#fedeb3"/><stop offset="0.1447" stop-color="#fedbac"/><stop offset="0.1658" stop-color="#fdca88"/><stop offset="0.1816" stop-color="#fdb965"/><stop offset="0.1868" stop-color="#f8ae55"/><stop offset="0.1921" stop-color="#ef9e3c"/><stop offset="0.1974" stop-color="#e3881d"/><stop offset="0.2026" stop-color="#d27510"/><stop offset="0.2079" stop-color="#bb5f08"/><stop offset="0.2132" stop-color="#9a4a07"/><stop offset="0.2184" stop-color="#7f3b08"/><stop offset="0.2289" stop-color="#813c08"/><stop offset="0.2342" stop-color="#ae5506"/><stop offset="0.2395" stop-color="#c4680b"/><stop offset="0.2500" stop-color="#e08214"/><stop offset="0.2605" stop-color="#ed9936"/><stop offset="0.2711" stop-color="#f4a84c"/><stop offset="0.2816" stop-color="#f9b158"/><stop offset="0.3184" stop-color="#fdc175"/><stop offset="0.4079" stop-color="#fdc278"/><stop offset="0.5605" stop-color="#fedaa9"/><stop offset="0.6816" stop-color="#fde5c3"/><stop offset="0.8868" stop-color="#faeedc"/><stop offset="0.9974" stop-color="#f9f0e4"/></linearGradient><linearGradient id="g138" x1="0" y1="0" x2="0" y2="1"><stop offset="0.0026" stop-color="#974907"/><stop offset="0.0184" stop-color="#974907"/><stop offset="0.0237" stop-color="#a44f07"/><stop offset="0.0289" stop-color="#c6690c"/><stop offset="0.0342" stop-color="#e78f27"/><stop offset="0.0395" stop-color="#f7ac52"/><stop offset="0.0605" stop-color="#f8ae55"/><stop offset="0.0658" stop-color="#fcb761"/><stop offset="0.0763" stop-color="#fdca88"/><stop offset="0.0868" stop-color="#fed8a6"/><stop offset="0.0921" stop-color="#feddaf"/><stop offset="0.0974" stop-color="#fee0b6"/><stop offset="0.1184" stop-color="#fde4c0"/><stop offset="0.1395" stop-color="#fde3be"/><stop offset="0.1500" stop-color="#fee0b6"/><stop offset="0.1658" stop-color="#fed095"/><stop offset="0.1816" stop-color="#fdba68"/><stop offset="0.1868" stop-color="#f8ae55"/><stop offset="0.1921" stop-color="#ef9e3c"/><stop offset="0.1974" stop-color="#e3881d"/><stop offset="0.2026" stop-color="#d27510"/><stop offset="0.2079" stop-color="#bb5f08"/><stop offset="0.2132" stop-color="#9a4a07"/><stop offset="0.2184" stop-color="#7f3b08"/><stop offset="0.2289" stop-color="#7f3b08"/><stop offset="0.2342" stop-color="#ae5506"/><stop offset="0.2395" stop-color="#c2660b"/><stop offset="0.2500" stop-color="#e08214"/><stop offset="0.2605" stop-color="#eb9733"/><stop offset="0.2711" stop-color="#f3a649"/><stop offset="0.2921" stop-color="#fcb761"/><stop offset="0.3184" stop-color="#fdc175"/><stop offset="0.3711" stop-color="#fdc278"/><stop offset="0.4026" stop-color="#fdc175"/><stop offset="0.5763" stop-color="#fedbac"/><stop offset="0.6868" stop-color="#fde5c3"/><stop offset="0.8921" stop-color="#faeedc"/><stop offset="0.9974" stop-color="#f9f0e4"/></linearGradient><linearGradient id="g139" x1="0" y1="0" x2="0" y2="1"><stop offset="0.0026" stop-color="#833d08"/><stop offset="0.0342" stop-color="#853e08"/><stop offset="0.0395" stop-color="#a44f07"/><stop offset="0.0447" stop-color="#ce720f"/><stop offset="0.0500" stop-color="#ed9936"/><stop offset="0.0553" stop-color="#f6aa4f"/><stop offset="0.0605" stop-color="#f6aa4f"/><stop offset="0.0658" stop-color="#fab35b"/><stop offset="0.0816" stop-color="#fecd8f"/><stop offset="0.0921" stop-color="#fed8a6"/><stop offset="0.1132" stop-color="#fee0b6"/><stop offset="0.1447" stop-color="#fedeb3"/><stop offset="0.1605" stop-color="#fed299"/><stop offset="0.1816" stop-color="#fdba68"/><stop offset="0.1868" stop-color="#f8ae55"/><stop offset="0.1921" stop-color="#ef9e3c"/><stop offset="0.1974" stop-color="#e3881d"/><stop offset="0.2026" stop-color="#d27510"/><stop offset="0.2079" stop-color="#bb5f08"/><stop offset="0.2132" stop-color="#9a4a07"/><stop offset="0.2184" stop-color="#7f3b08"/><stop offset="0.2289" stop-color="#7f3b08"/><stop offset="0.2342" stop-color="#ab5306"/><stop offset="0.2395" stop-color="#c1650a"/><stop offset="0.2500" stop-color="#de8013"/><stop offset="0.2605" stop-color="#eb9631"/><stop offset="0.2763" stop-color="#f6aa4f"/><stop offset="0.2974" stop-color="#fdb863"/><stop offset="0.3184" stop-color="#fdbf72"/><stop offset="0.4026" stop-color="#fdc073"/><stop offset="0.6237" stop-color="#fee0b6"/><stop offset="0.8132" stop-color="#fbead2"/><stop offset="0.9974" stop-color="#f9f0e4"/></linearGradient><linearGradient id="g140" x1="0" y1="0" x2="0" y2="1"><stop offset="0.0026" stop-color="#853e08"/><stop offset="0.0289" stop-color="#853e08"/><stop offset="0.0342" stop-color="#9e4c07"/><stop offset="0.0395" stop-color="#c96d0d"/><stop offset="0.0447" stop-color="#ea9530"/><stop offset="0.0500" stop-color="#f6aa4f"/><stop offset="0.0605" stop-color="#f6aa4f"/><stop offset="0.0658" stop-color="#fab35b"/><stop offset="0.0763" stop-color="#fdc782"/><stop offset="0.0921" stop-color="#fed8a6"/><stop offset="0.1184" stop-color="#fee1b9"/><stop offset="0.1447" stop-color="#fedeb3"/><stop offset="0.1553" stop-color="#fed7a2"/><stop offset="0.1711" stop-color="#fdc782"/><stop offset="0.1816" stop-color="#fdba68"/><stop offset="0.1868" stop-color="#f8ae55"/><stop offset="0.1921" stop-color="#ef9e3c"/><stop offset="0.1974" stop-color="#e3881d"/><stop offset="0.2026" stop-color="#d27510"/><stop offset="0.2079" stop-color="#bb5f08"/><stop offset="0.2132" stop-color="#9a4a07"/><stop offset="0.2184" stop-color="#7f3b08"/><stop offset="0.2289" stop-color="#7f3b08"/><stop offset="0.2342" stop-color="#aa5306"/><stop offset="0.2447" stop-color="#d0730f"/><stop offset="0.2500" stop-color="#dc7f13"/><stop offset="0.2605" stop-color="#ea9530"/><stop offset="0.2711" stop-color="#f2a446"/><stop offset="0.2868" stop-color="#f9b158"/><stop offset="0.3184" stop-color="#fdbf72"/><stop offset="0.4079" stop-color="#fdbf72"/><stop offset="0.4816" stop-color="#fdcc8c"/><stop offset="0.6447" stop-color="#fee1b9"/><stop offset="0.8184" stop-color="#fbead2"/><stop offset="0.9974" stop-color="#f9f0e4"/></linearGradient><linearGradient id="g141" x1="0" y1="0" x2="0" y2="1"><stop offset="0.0026" stop-color="#7f3b08"/><stop offset="0.0289" stop-color="#7f3b08"/><stop offset="0.0342" stop-color="#894108"/><stop offset="0.0395" stop-color="#b65a07"/><stop offset="0.0447" stop-color="#e18417"/><stop offset="0.0500" stop-color="#f4a84c"/><stop offset="0.0605" stop-color="#f6aa4f"/><stop offset="0.0658" stop-color="#f9b158"/><stop offset="0.0763" stop-color="#fdc47b"/><stop offset="0.0921" stop-color="#fed299"/><stop offset="0.0974" stop-color="#fed299"/><stop offset="0.1184" stop-color="#fedaa9"/><stop offset="0.1447" stop-color="#fed7a2"/><stop offset="0.1605" stop-color="#fdcc8c"/><stop offset="0.1816" stop-color="#fdb965"/><stop offset="0.1868" stop-color="#f8ae55"/><stop offset="0.1921" stop-color="#ef9e3c"/><stop offset="0.1974" stop-color="#e3881d"/><stop offset="0.2026" stop-color="#d27510"/><stop offset="0.2079" stop-color="#bb5f08"/><stop offset="0.2132" stop-color="#9a4a07"/><stop offset="0.2184" stop-color="#7f3b08"/><stop offset="0.2289" stop-color="#7f3b08"/><stop offset="0.2342" stop-color="#a85206"/><stop offset="0.2395" stop-color="#be630a"/><stop offset="0.2500" stop-color="#dc7f13"/><stop offset="0.2553" stop-color="#e3881d"/><stop offset="0.2658" stop-color="#ef9e3c"/><stop offset="0.2816" stop-color="#f7ac52"/><stop offset="0.3184" stop-color="#fdbd6e"/><stop offset="0.3711" stop-color="#fdbf72"/><stop offset="0.4079" stop-color="#fdbd6e"/><stop offset="0.4447" stop-color="#fdc57f"/><stop offset="0.5079" stop-color="#fecd8f"/><stop offset="0.5605" stop-color="#fed7a2"/><stop offset="0.6500" stop-color="#fee1b9"/><stop offset="0.8237" stop-color="#fbead2"/><stop offset="0.9974" stop-color="#f9f0e4"/></linearGradient><linearGradient id="g142" x1="0" y1="0" x2="0" y2="1"><stop offset="0.0026" stop-color="#a04d07"/><stop offset="0.0237" stop-color="#a04d07"/><stop offset="0.0289" stop-color="#a85206"/><stop offset="0.0342" stop-color="#c6690c"/><stop offset="0.0395" stop-color="#e58a20"/><stop offset="0.0447" stop-color="#f3a649"/><stop offset="0.0500" stop-color="#f6aa4f"/><stop offset="0.0605" stop-color="#f6aa4f"/><stop offset="0.0658" stop-color="#fbb55e"/><stop offset="0.0763" stop-color="#fecf92"/><stop offset="0.0868" stop-color="#fee1b9"/><stop offset="0.0921" stop-color="#fce5c5"/><stop offset="0.1132" stop-color="#fbebd5"/><stop offset="0.1342" stop-color="#fbebd5"/><stop offset="0.1447" stop-color="#fbe9cf"/><stop offset="0.1553" stop-color="#fde5c3"/><stop offset="0.1605" stop-color="#fee1b9"/><stop offset="0.1816" stop-color="#fdbd6e"/><stop offset="0.1921" stop-color="#ef9e3c"/><stop offset="0.1974" stop-color="#e3881d"/><stop offset="0.2026" stop-color="#d27510"/><stop offset="0.2079" stop-color="#bb5f08"/><stop offset="0.2132" stop-color="#9a4a07"/><stop offset="0.2184" stop-color="#7f3b08"/><stop offset="0.2289" stop-color="#7f3b08"/><stop offset="0.2342" stop-color="#a65107"/><stop offset="0.2447" stop-color="#ce720f"/><stop offset="0.2500" stop-color="#db7d12"/><stop offset="0.2605" stop-color="#e9932d"/><stop offset="0.2711" stop-color="#f1a242"/><stop offset="0.2868" stop-color="#f8ae55"/><stop offset="0.3184" stop-color="#fdbd6e"/><stop offset="0.4079" stop-color="#fdbd6e"/><stop offset="0.5658" stop-color="#fed7a2"/><stop offset="0.6553" stop-color="#fee1b9"/><stop offset="0.8921" stop-color="#faedda"/><stop offset="0.9974" stop-color="#f9efe1"/></linearGradient><linearGradient id="g143" x1="0" y1="0" x2="0" y2="1"><stop offset="0.0026" stop-color="#b05606"/><stop offset="0.0237" stop-color="#b05606"/><stop offset="0.0289" stop-color="#b75c07"/><stop offset="0.0342" stop-color="#d27510"/><stop offset="0.0395" stop-color="#ea9530"/><stop offset="0.0447" stop-color="#f9b158"/><stop offset="0.0605" stop-color="#fab35b"/><stop offset="0.0658" stop-color="#fdba68"/><stop offset="0.0868" stop-color="#fee1b9"/><stop offset="0.0921" stop-color="#fce5c5"/><stop offset="0.1132" stop-color="#fbebd5"/><stop offset="0.1342" stop-color="#fbebd5"/><stop offset="0.1447" stop-color="#fbe9cf"/><stop offset="0.1553" stop-color="#fde5c3"/><stop offset="0.1605" stop-color="#fee1b9"/><stop offset="0.1816" stop-color="#fdbd6e"/><stop offset="0.1921" stop-color="#ef9e3c"/><stop offset="0.1974" stop-color="#e3881d"/><stop offset="0.2026" stop-color="#d27510"/><stop offset="0.2079" stop-color="#bb5f08"/><stop offset="0.2132" stop-color="#9a4a07"/><stop offset="0.2184" stop-color="#7f3b08"/><stop offset="0.2289" stop-color="#7f3b08"/><stop offset="0.2342" stop-color="#a65107"/><stop offset="0.2395" stop-color="#bd6109"/><stop offset="0.2447" stop-color="#cd700e"/><stop offset="0.2500" stop-color="#db7d12"/><stop offset="0.2553" stop-color="#e3881d"/><stop offset="0.2658" stop-color="#ee9b39"/><stop offset="0.2711" stop-color="#f1a242"/><stop offset="0.3026" stop-color="#fcb761"/><stop offset="0.3184" stop-color="#fdbc6b"/><stop offset="0.3553" stop-color="#fdbd6e"/><stop offset="0.4079" stop-color="#fdbc6b"/><stop offset="0.4447" stop-color="#fdc47b"/><stop offset="0.5711" stop-color="#fed7a2"/><stop offset="0.6605" stop-color="#fee1b9"/><stop offset="0.8342" stop-color="#fbead2"/><stop offset="0.9974" stop-color="#f9efe1"/></linearGradient><linearGradient id="g144" x1="0" y1="0" x2="0" y2="1"><stop offset="0.0026" stop-color="#e58a20"/><stop offset="0.0342" stop-color="#e58a20"/><stop offset="0.0395" stop-color="#ee9b39"/><stop offset="0.0447" stop-color="#fcb761"/><stop offset="0.0500" stop-color="#fdc885"/><stop offset="0.0553" stop-color="#fecd8f"/><stop offset="0.0711" stop-color="#fecd8f"/><stop offset="0.0816" stop-color="#fed39c"/><stop offset="0.0921" stop-color="#fde2bb"/><stop offset="0.1184" stop-color="#fce7ca"/><stop offset="0.1395" stop-color="#fce6c8"/><stop offset="0.1553" stop-color="#fee1b9"/><stop offset="0.1605" stop-color="#fedbac"/><stop offset="0.1816" stop-color="#fdbc6b"/><stop offset="0.1921" stop-color="#ef9e3c"/><stop offset="0.1974" stop-color="#e3881d"/><stop offset="0.2026" stop-color="#d27510"/><stop offset="0.2079" stop-color="#bb5f08"/><stop offset="0.2132" stop-color="#9a4a07"/><stop offset="0.2184" stop-color="#7f3b08"/><stop offset="0.2289" stop-color="#7f3b08"/><stop offset="0.2342" stop-color="#a44f07"/><stop offset="0.2447" stop-color="#cd700e"/><stop offset="0.2553" stop-color="#e2861a"/><stop offset="0.2605" stop-color="#e8912a"/><stop offset="0.2711" stop-color="#f0a03f"/><stop offset="0.2921" stop-color="#f9b158"/><stop offset="0.3184" stop-color="#fdbc6b"/><stop offset="0.4132" stop-color="#fdbc6b"/><stop offset="0.4395" stop-color="#fdc278"/><stop offset="0.5763" stop-color="#fed7a2"/><stop offset="0.6658" stop-color="#fee1b9"/><stop offset="0.8395" stop-color="#fbead2"/><stop offset="0.9974" stop-color="#f9efe1"/></linearGradient><linearGradient id="g145" x1="0" y1="0" x2="0" y2="1"><stop offset="0.0026" stop-color="#9a4a07"/><stop offset="0.0289" stop-color="#9a4a07"/><stop offset="0.0342" stop-color="#a24e07"/><stop offset="0.0395" stop-color="#c2660b"/><stop offset="0.0447" stop-color="#e68d23"/><stop offset="0.0500" stop-color="#f8ae55"/><stop offset="0.0553" stop-color="#fbb55e"/><stop offset="0.0605" stop-color="#fbb55e"/><stop offset="0.0658" stop-color="#fdb965"/><stop offset="0.0763" stop-color="#fdc782"/><stop offset="0.0921" stop-color="#fed7a2"/><stop offset="0.1184" stop-color="#fedeb3"/><stop offset="0.1342" stop-color="#fedeb3"/><stop offset="0.1500" stop-color="#fed8a6"/><stop offset="0.1605" stop-color="#fed095"/><stop offset="0.1711" stop-color="#fdc57f"/><stop offset="0.1816" stop-color="#fdb965"/><stop offset="0.1868" stop-color="#f8ae55"/><stop offset="0.1921" stop-color="#ef9e3c"/><stop offset="0.1974" stop-color="#e3881d"/><stop offset="0.2026" stop-color="#d27510"/><stop offset="0.2079" stop-color="#bb5f08"/><stop offset="0.2132" stop-color="#9a4a07"/><stop offset="0.2184" stop-color="#7f3b08"/><stop offset="0.2289" stop-color="#7f3b08"/><stop offset="0.2342" stop-color="#a44f07"/><stop offset="0.2395" stop-color="#bb5f08"/><stop offset="0.2500" stop-color="#d97b12"/><stop offset="0.2553" stop-color="#e2861a"/><stop offset="0.2605" stop-color="#e8912a"/><stop offset="0.2711" stop-color="#f0a03f"/><stop offset="0.2868" stop-color="#f7ac52"/><stop offset="0.3237" stop-color="#fdbc6b"/><stop offset="0.4079" stop-color="#fdba68"/><stop offset="0.4447" stop-color="#fdc278"/><stop offset="0.5921" stop-color="#fed8a6"/><stop offset="0.6711" stop-color="#fee1b9"/><stop offset="0.8237" stop-color="#fbe9cf"/><stop offset="0.9974" stop-color="#f9efe1"/></linearGradient><linearGradient id="g146" x1="0" y1="0" x2="0" y2="1"><stop offset="0.0026" stop-color="#813c08"/><stop offset="0.0289" stop-color="#813c08"/><stop offset="0.0342" stop-color="#894108"/><stop offset="0.0395" stop-color="#b25706"/><stop offset="0.0447" stop-color="#dc7f13"/><stop offset="0.0500" stop-color="#f2a446"/><stop offset="0.0553" stop-color="#f6aa4f"/><stop offset="0.0605" stop-color="#f6aa4f"/><stop offset="0.0711" stop-color="#fdbc6b"/><stop offset="0.0763" stop-color="#fdc57f"/><stop offset="0.0921" stop-color="#fed7a2"/><stop offset="0.1184" stop-color="#fedeb3"/><stop offset="0.1342" stop-color="#fedeb3"/><stop offset="0.1447" stop-color="#fedbac"/><stop offset="0.1605" stop-color="#fed095"/><stop offset="0.1816" stop-color="#fdb965"/><stop offset="0.1868" stop-color="#f8ae55"/><stop offset="0.1921" stop-color="#ef9e3c"/><stop offset="0.1974" stop-color="#e3881d"/><stop offset="0.2026" stop-color="#d27510"/><stop offset="0.2079" stop-color="#bb5f08"/><stop offset="0.2132" stop-color="#9a4a07"/><stop offset="0.2184" stop-color="#7f3b08"/><stop offset="0.2289" stop-color="#7f3b08"/><stop offset="0.2342" stop-color="#a24e07"/><stop offset="0.2447" stop-color="#cb6e0d"/><stop offset="0.2553" stop-color="#e18417"/><stop offset="0.2711" stop-color="#f0a03f"/><stop offset="0.3026" stop-color="#fbb55e"/><stop offset="0.3184" stop-color="#fdba68"/><stop offset="0.4132" stop-color="#fdba68"/><stop offset="0.4500" stop-color="#fdc278"/><stop offset="0.5974" stop-color="#fed8a6"/><stop offset="0.6763" stop-color="#fee1b9"/><stop offset="0.8289" stop-color="#fbe9cf"/><stop offset="0.9974" stop-color="#f9efe1"/></linearGradient><linearGradient id="g147" x1="0" y1="0" x2="0" y2="1"><stop offset="0.0026" stop-color="#974907"/><stop offset="0.0289" stop-color="#974907"/><stop offset="0.0342" stop-color="#ac5406"/><stop offset="0.0395" stop-color="#cf720f"/><stop offset="0.0447" stop-color="#eb9631"/><stop offset="0.0500" stop-color="#f6aa4f"/><stop offset="0.0605" stop-color="#f6aa4f"/><stop offset="0.0658" stop-color="#fbb45d"/><stop offset="0.0763" stop-color="#fecc8d"/><stop offset="0.0921" stop-color="#fde2bc"/><stop offset="0.1184" stop-color="#fce8cd"/><stop offset="0.1395" stop-color="#fce7ca"/><stop offset="0.1553" stop-color="#fde2bb"/><stop offset="0.1605" stop-color="#feddaf"/><stop offset="0.1816" stop-color="#fdbc6b"/><stop offset="0.1921" stop-color="#ef9e3c"/><stop offset="0.1974" stop-color="#e3881d"/><stop offset="0.2026" stop-color="#d27510"/><stop offset="0.2079" stop-color="#bb5f08"/><stop offset="0.2132" stop-color="#9a4a07"/><stop offset="0.2184" stop-color="#7f3b08"/><stop offset="0.2289" stop-color="#7f3b08"/><stop offset="0.2342" stop-color="#9f4d07"/><stop offset="0.2395" stop-color="#b75c07"/><stop offset="0.2447" stop-color="#c86c0d"/><stop offset="0.2553" stop-color="#e18316"/><stop offset="0.2711" stop-color="#ef9e3c"/><stop offset="0.2868" stop-color="#f5a94d"/><stop offset="0.3184" stop-color="#fdba66"/><stop offset="0.4079" stop-color="#fdb863"/><stop offset="0.4447" stop-color="#fdc073"/><stop offset="0.5974" stop-color="#fed7a2"/><stop offset="0.6816" stop-color="#fee0b7"/><stop offset="0.8763" stop-color="#fbebd5"/><stop offset="0.9974" stop-color="#f9efe0"/></linearGradient><linearGradient id="g148" x1="0" y1="0" x2="0" y2="1"><stop offset="0.0026" stop-color="#7f3b08"/><stop offset="0.0395" stop-color="#7f3b08"/><stop offset="0.0447" stop-color="#a85206"/><stop offset="0.0500" stop-color="#d97b12"/><stop offset="0.0553" stop-color="#f2a446"/><stop offset="0.0711" stop-color="#fdb965"/><stop offset="0.0763" stop-color="#fdc175"/><stop offset="0.0868" stop-color="#fdca88"/><stop offset="0.1184" stop-color="#fed59f"/><stop offset="0.1447" stop-color="#fed299"/><stop offset="0.1711" stop-color="#fdc175"/><stop offset="0.1868" stop-color="#f8ae55"/><stop offset="0.1921" stop-color="#ef9e3c"/><stop offset="0.1974" stop-color="#e3881d"/><stop offset="0.2026" stop-color="#d27510"/><stop offset="0.2079" stop-color="#bb5f08"/><stop offset="0.2132" stop-color="#9a4a07"/><stop offset="0.2184" stop-color="#7f3b08"/><stop offset="0.2289" stop-color="#7f3b08"/><stop offset="0.2395" stop-color="#b55a07"/><stop offset="0.2500" stop-color="#d57710"/><stop offset="0.2553" stop-color="#de8013"/><stop offset="0.2605" stop-color="#e58c22"/><stop offset="0.2711" stop-color="#ee9b39"/><stop offset="0.2763" stop-color="#f0a03f"/><stop offset="0.3184" stop-color="#fdb863"/><stop offset="0.4079" stop-color="#fcb660"/><stop offset="0.6079" stop-color="#fed7a2"/><stop offset="0.6868" stop-color="#fee0b6"/><stop offset="0.8868" stop-color="#fbebd5"/><stop offset="0.9974" stop-color="#faeedf"/></linearGradient><linearGradient id="g149" x1="0" y1="0" x2="0" y2="1"><stop offset="0.0026" stop-color="#914507"/><stop offset="0.0237" stop-color="#914507"/><stop offset="0.0289" stop-color="#a85206"/><stop offset="0.0342" stop-color="#d0730f"/><stop offset="0.0395" stop-color="#ee9b39"/><stop offset="0.0447" stop-color="#f8ae55"/><stop offset="0.0605" stop-color="#f8ae55"/><stop offset="0.0763" stop-color="#fdc782"/><stop offset="0.0921" stop-color="#fed8a6"/><stop offset="0.1184" stop-color="#fee1b9"/><stop offset="0.1395" stop-color="#fee0b6"/><stop offset="0.1500" stop-color="#fedbac"/><stop offset="0.1658" stop-color="#fecd8f"/><stop offset="0.1816" stop-color="#fdba68"/><stop offset="0.1868" stop-color="#f8ae55"/><stop offset="0.1921" stop-color="#ef9e3c"/><stop offset="0.1974" stop-color="#e3881d"/><stop offset="0.2026" stop-color="#d27510"/><stop offset="0.2079" stop-color="#bb5f08"/><stop offset="0.2132" stop-color="#9a4a07"/><stop offset="0.2184" stop-color="#7f3b08"/><stop offset="0.2289" stop-color="#7f3b08"/><stop offset="0.2395" stop-color="#b45906"/><stop offset="0.2447" stop-color="#c6690c"/><stop offset="0.2553" stop-color="#dc7f13"/><stop offset="0.2605" stop-color="#e58a20"/><stop offset="0.2711" stop-color="#ed9936"/><stop offset="0.2868" stop-color="#f3a649"/><stop offset="0.3184" stop-color="#fcb761"/><stop offset="0.4079" stop-color="#fab35b"/><stop offset="0.4500" stop-color="#fdbd6e"/><stop offset="0.5079" stop-color="#fdc57f"/><stop offset="0.5184" stop-color="#fdc885"/><stop offset="0.6921" stop-color="#fee0b6"/><stop offset="0.8553" stop-color="#fbe9cf"/><stop offset="0.9974" stop-color="#faeedf"/></linearGradient><linearGradient id="g150" x1="0" y1="0" x2="0" y2="1"><stop offset="0.0026" stop-color="#e78f27"/><stop offset="0.0395" stop-color="#e78f27"/><stop offset="0.0447" stop-color="#ee9b39"/><stop offset="0.0500" stop-color="#fab35b"/><stop offset="0.0553" stop-color="#fdc782"/><stop offset="0.0605" stop-color="#fed299"/><stop offset="0.0711" stop-color="#fecd8f"/><stop offset="0.0763" stop-color="#fecd8f"/><stop offset="0.0816" stop-color="#fecf92"/><stop offset="0.0921" stop-color="#fedaa9"/><stop offset="0.1184" stop-color="#fde2bb"/><stop offset="0.1447" stop-color="#fee0b6"/><stop offset="0.1605" stop-color="#fed39c"/><stop offset="0.1816" stop-color="#fdba68"/><stop offset="0.1868" stop-color="#f8ae55"/><stop offset="0.1921" stop-color="#ef9e3c"/><stop offset="0.1974" stop-color="#e3881d"/><stop offset="0.2026" stop-color="#d27510"/><stop offset="0.2079" stop-color="#bb5f08"/><stop offset="0.2132" stop-color="#9a4a07"/><stop offset="0.2184" stop-color="#7f3b08"/><stop offset="0.2289" stop-color="#7f3b08"/><stop offset="0.2395" stop-color="#b25706"/><stop offset="0.2500" stop-color="#d27510"/><stop offset="0.2553" stop-color="#dc7f13"/><stop offset="0.2605" stop-color="#e3881d"/><stop offset="0.2711" stop-color="#ed9936"/><stop offset="0.2763" stop-color="#ef9e3c"/><stop offset="0.3026" stop-color="#f8ae55"/><stop offset="0.3184" stop-color="#fbb55e"/><stop offset="0.4079" stop-color="#fab35b"/><stop offset="0.5237" stop-color="#fdc885"/><stop offset="0.6974" stop-color="#fee0b6"/><stop offset="0.8763" stop-color="#fbead2"/><stop offset="0.9974" stop-color="#faeedf"/></linearGradient><linearGradient id="g151" x1="0" y1="0" x2="0" y2="1"><stop offset="0.0026" stop-color="#c0640a"/><stop offset="0.0395" stop-color="#c0640a"/><stop offset="0.0447" stop-color="#d0730f"/><stop offset="0.0500" stop-color="#e8912a"/><stop offset="0.0553" stop-color="#fab35b"/><stop offset="0.0605" stop-color="#fdbf72"/><stop offset="0.0711" stop-color="#fdc782"/><stop offset="0.0868" stop-color="#fedbac"/><stop offset="0.0921" stop-color="#fee0b6"/><stop offset="0.1184" stop-color="#fce6c8"/><stop offset="0.1447" stop-color="#fde5c3"/><stop offset="0.1553" stop-color="#fedeb3"/><stop offset="0.1605" stop-color="#fedaa9"/><stop offset="0.1711" stop-color="#fdcc8c"/><stop offset="0.1816" stop-color="#fdbc6b"/><stop offset="0.1868" stop-color="#f8ae55"/><stop offset="0.1921" stop-color="#ef9e3c"/><stop offset="0.1974" stop-color="#e3881d"/><stop offset="0.2026" stop-color="#d27510"/><stop offset="0.2079" stop-color="#bb5f08"/><stop offset="0.2132" stop-color="#9a4a07"/><stop offset="0.2184" stop-color="#7f3b08"/><stop offset="0.2289" stop-color="#7f3b08"/><stop offset="0.2395" stop-color="#b25706"/><stop offset="0.2500" stop-color="#d0730f"/><stop offset="0.2553" stop-color="#db7d12"/><stop offset="0.2605" stop-color="#e3881d"/><stop offset="0.2711" stop-color="#eb9733"/><stop offset="0.2868" stop-color="#f2a446"/><stop offset="0.3184" stop-color="#fbb55e"/><stop offset="0.4079" stop-color="#f9b158"/><stop offset="0.4500" stop-color="#fdbc6b"/><stop offset="0.5184" stop-color="#fdc57f"/><stop offset="0.5289" stop-color="#fdc885"/><stop offset="0.6763" stop-color="#feddaf"/><stop offset="0.8816" stop-color="#fbead2"/><stop offset="0.9974" stop-color="#faeedf"/></linearGradient><linearGradient id="g152" x1="0" y1="0" x2="0" y2="1"><stop offset="0.0026" stop-color="#934607"/><stop offset="0.0395" stop-color="#934607"/><stop offset="0.0447" stop-color="#aa5306"/><stop offset="0.0500" stop-color="#ce720f"/><stop offset="0.0553" stop-color="#eb9733"/><stop offset="0.0605" stop-color="#f6aa4f"/><stop offset="0.0658" stop-color="#fab35b"/><stop offset="0.0763" stop-color="#fdca88"/><stop offset="0.0868" stop-color="#fedbac"/><stop offset="0.0974" stop-color="#fde2bb"/><stop offset="0.1184" stop-color="#fce6c8"/><stop offset="0.1447" stop-color="#fde5c3"/><stop offset="0.1553" stop-color="#fedeb3"/><stop offset="0.1605" stop-color="#fedaa9"/><stop offset="0.1711" stop-color="#fdcc8c"/><stop offset="0.1816" stop-color="#fdbc6b"/><stop offset="0.1868" stop-color="#f8ae55"/><stop offset="0.1921" stop-color="#ef9e3c"/><stop offset="0.1974" stop-color="#e3881d"/><stop offset="0.2026" stop-color="#d27510"/><stop offset="0.2079" stop-color="#bb5f08"/><stop offset="0.2132" stop-color="#9a4a07"/><stop offset="0.2184" stop-color="#7f3b08"/><stop offset="0.2289" stop-color="#7f3b08"/><stop offset="0.2395" stop-color="#b05606"/><stop offset="0.2500" stop-color="#d0730f"/><stop offset="0.2605" stop-color="#e2861a"/><stop offset="0.2711" stop-color="#eb9733"/><stop offset="0.2816" stop-color="#f0a03f"/><stop offset="0.3184" stop-color="#fab35b"/><stop offset="0.3605" stop-color="#fab35b"/><stop offset="0.4026" stop-color="#f8ae55"/><stop offset="0.4395" stop-color="#fdb965"/><stop offset="0.5237" stop-color="#fdc782"/><stop offset="0.6816" stop-color="#feddaf"/><stop offset="0.8868" stop-color="#fbead2"/><stop offset="0.9974" stop-color="#faeedc"/></linearGradient><linearGradient id="g153" x1="0" y1="0" x2="0" y2="1"><stop offset="0.0026" stop-color="#894108"/><stop offset="0.0395" stop-color="#894108"/><stop offset="0.0447" stop-color="#9e4c07"/><stop offset="0.0500" stop-color="#c76b0c"/><stop offset="0.0553" stop-color="#e8912a"/><stop offset="0.0605" stop-color="#f6aa4f"/><stop offset="0.0658" stop-color="#fab35b"/><stop offset="0.0763" stop-color="#fdc885"/><stop offset="0.0816" stop-color="#fed095"/><stop offset="0.0921" stop-color="#fedbac"/><stop offset="0.1184" stop-color="#fde3be"/><stop offset="0.1395" stop-color="#fde2bb"/><stop offset="0.1500" stop-color="#fedeb3"/><stop offset="0.1605" stop-color="#fed59f"/><stop offset="0.1763" stop-color="#fdc278"/><stop offset="0.1868" stop-color="#f8ae55"/><stop offset="0.1921" stop-color="#ef9e3c"/><stop offset="0.1974" stop-color="#e3881d"/><stop offset="0.2026" stop-color="#d27510"/><stop offset="0.2079" stop-color="#bb5f08"/><stop offset="0.2132" stop-color="#9a4a07"/><stop offset="0.2184" stop-color="#7f3b08"/><stop offset="0.2289" stop-color="#7f3b08"/><stop offset="0.2395" stop-color="#ae5506"/><stop offset="0.2500" stop-color="#ce720f"/><stop offset="0.2605" stop-color="#e2861a"/><stop offset="0.2711" stop-color="#ea9530"/><stop offset="0.2868" stop-color="#f1a242"/><stop offset="0.3184" stop-color="#fab35b"/><stop offset="0.4079" stop-color="#f8ae55"/><stop offset="0.4447" stop-color="#fdb965"/><stop offset="0.5289" stop-color="#fdc782"/><stop offset="0.7026" stop-color="#fedeb3"/><stop offset="0.8921" stop-color="#fbead2"/><stop offset="0.9974" stop-color="#faeedc"/></linearGradient><linearGradient id="g154" x1="0" y1="0" x2="0" y2="1"><stop offset="0.0026" stop-color="#894108"/><stop offset="0.0237" stop-color="#894108"/><stop offset="0.0289" stop-color="#a65107"/><stop offset="0.0342" stop-color="#ce720f"/><stop offset="0.0395" stop-color="#ed9936"/><stop offset="0.0447" stop-color="#f6aa4f"/><stop offset="0.0605" stop-color="#f6aa4f"/><stop offset="0.0658" stop-color="#fab35b"/><stop offset="0.0816" stop-color="#fecf92"/><stop offset="0.0921" stop-color="#fedbac"/><stop offset="0.1184" stop-color="#fde3be"/><stop offset="0.1447" stop-color="#fee1b9"/><stop offset="0.1658" stop-color="#fecf92"/><stop offset="0.1763" stop-color="#fdc278"/><stop offset="0.1868" stop-color="#f8ae55"/><stop offset="0.1921" stop-color="#ef9e3c"/><stop offset="0.1974" stop-color="#e3881d"/><stop offset="0.2026" stop-color="#d27510"/><stop offset="0.2079" stop-color="#bb5f08"/><stop offset="0.2132" stop-color="#9a4a07"/><stop offset="0.2184" stop-color="#7f3b08"/><stop offset="0.2289" stop-color="#7f3b08"/><stop offset="0.2395" stop-color="#ad5506"/><stop offset="0.2500" stop-color="#cd710e"/><stop offset="0.2605" stop-color="#e18417"/><stop offset="0.2658" stop-color="#e68e25"/><stop offset="0.2816" stop-color="#ee9c3b"/><stop offset="0.3184" stop-color="#f9b158"/><stop offset="0.4079" stop-color="#f7ac52"/><stop offset="0.4553" stop-color="#fdb965"/><stop offset="0.5342" stop-color="#fdc680"/><stop offset="0.7132" stop-color="#fedeb3"/><stop offset="0.8658" stop-color="#fce8cd"/><stop offset="0.9974" stop-color="#faeedc"/></linearGradient><linearGradient id="g155" x1="0" y1="0" x2="0" y2="1"><stop offset="0.0026" stop-color="#8b4208"/><stop offset="0.0342" stop-color="#8d4307"/><stop offset="0.0395" stop-color="#aa5306"/><stop offset="0.0447" stop-color="#d47610"/><stop offset="0.0500" stop-color="#ef9e3c"/><stop offset="0.0553" stop-color="#f6aa4f"/><stop offset="0.0605" stop-color="#f6aa4f"/><stop offset="0.0658" stop-color="#fab35b"/><stop offset="0.0763" stop-color="#fdc885"/><stop offset="0.0868" stop-color="#fed7a2"/><stop offset="0.0974" stop-color="#fedeb3"/><stop offset="0.1132" stop-color="#fde3be"/><stop offset="0.1342" stop-color="#fde3be"/><stop offset="0.1500" stop-color="#fedeb3"/><stop offset="0.1605" stop-color="#fed59f"/><stop offset="0.1763" stop-color="#fdc278"/><stop offset="0.1868" stop-color="#f8ae55"/><stop offset="0.1921" stop-color="#ef9e3c"/><stop offset="0.1974" stop-color="#e3881d"/><stop offset="0.2026" stop-color="#d27510"/><stop offset="0.2079" stop-color="#bb5f08"/><stop offset="0.2132" stop-color="#9a4a07"/><stop offset="0.2184" stop-color="#7f3b08"/><stop offset="0.2289" stop-color="#7f3b08"/><stop offset="0.2342" stop-color="#914507"/><stop offset="0.2395" stop-color="#ac5406"/><stop offset="0.2500" stop-color="#cd700e"/><stop offset="0.2605" stop-color="#e08214"/><stop offset="0.2658" stop-color="#e68d23"/><stop offset="0.2816" stop-color="#ee9b39"/><stop offset="0.3184" stop-color="#f8ae55"/><stop offset="0.4079" stop-color="#f6aa4f"/><stop offset="0.4500" stop-color="#fcb761"/><stop offset="0.5342" stop-color="#fdc57f"/><stop offset="0.7184" stop-color="#fedeb3"/><stop offset="0.8711" stop-color="#fce8cd"/><stop offset="0.9974" stop-color="#faeedc"/></linearGradient><linearGradient id="g156" x1="0" y1="0" x2="0" y2="1"><stop offset="0.0026" stop-color="#a04d07"/><stop offset="0.0395" stop-color="#a24e07"/><stop offset="0.0447" stop-color="#ba5f08"/><stop offset="0.0500" stop-color="#dc7e13"/><stop offset="0.0553" stop-color="#ef9f3e"/><stop offset="0.0658" stop-color="#fbb55e"/><stop offset="0.0763" stop-color="#fecf92"/><stop offset="0.0868" stop-color="#fee1ba"/><stop offset="0.0921" stop-color="#fce6c7"/><stop offset="0.1184" stop-color="#fbebd6"/><stop offset="0.1395" stop-color="#fbead3"/><stop offset="0.1553" stop-color="#fce5c4"/><stop offset="0.1605" stop-color="#fee1ba"/><stop offset="0.1711" stop-color="#fed095"/><stop offset="0.1816" stop-color="#fdbd6e"/><stop offset="0.1868" stop-color="#f8ae55"/><stop offset="0.1921" stop-color="#ef9e3c"/><stop offset="0.1974" stop-color="#e3881d"/><stop offset="0.2026" stop-color="#d27510"/><stop offset="0.2079" stop-color="#bb5f08"/><stop offset="0.2132" stop-color="#9a4a07"/><stop offset="0.2184" stop-color="#7f3b08"/><stop offset="0.2289" stop-color="#7f3b08"/><stop offset="0.2342" stop-color="#904507"/><stop offset="0.2395" stop-color="#aa5306"/><stop offset="0.2500" stop-color="#cc6f0e"/><stop offset="0.2605" stop-color="#df8114"/><stop offset="0.2658" stop-color="#e58a20"/><stop offset="0.2868" stop-color="#ef9e3c"/><stop offset="0.3184" stop-color="#f7ad54"/><stop offset="0.4079" stop-color="#f4a84c"/><stop offset="0.4605" stop-color="#fcb761"/><stop offset="0.5395" stop-color="#fdc57d"/><stop offset="0.7237" stop-color="#fedeb1"/><stop offset="0.8816" stop-color="#fce8cd"/><stop offset="0.9974" stop-color="#faeddb"/></linearGradient><linearGradient id="g157" x1="0" y1="0" x2="0" y2="1"><stop offset="0.0026" stop-color="#a24e07"/><stop offset="0.0395" stop-color="#a24e07"/><stop offset="0.0447" stop-color="#b75c07"/><stop offset="0.0500" stop-color="#d97b12"/><stop offset="0.0553" stop-color="#ee9b39"/><stop offset="0.0605" stop-color="#f6aa4f"/><stop offset="0.0658" stop-color="#fbb55e"/><stop offset="0.0763" stop-color="#fecf92"/><stop offset="0.0868" stop-color="#fde2bb"/><stop offset="0.0921" stop-color="#fce6c8"/><stop offset="0.1132" stop-color="#faecd7"/><stop offset="0.1342" stop-color="#faecd7"/><stop offset="0.1447" stop-color="#fbead2"/><stop offset="0.1553" stop-color="#fce5c5"/><stop offset="0.1605" stop-color="#fde2bb"/><stop offset="0.1658" stop-color="#fedaa9"/><stop offset="0.1816" stop-color="#fdbd6e"/><stop offset="0.1868" stop-color="#f8ae55"/><stop offset="0.1921" stop-color="#ef9e3c"/><stop offset="0.1974" stop-color="#e3881d"/><stop offset="0.2026" stop-color="#d27510"/><stop offset="0.2079" stop-color="#bb5f08"/><stop offset="0.2132" stop-color="#9a4a07"/><stop offset="0.2184" stop-color="#7f3b08"/><stop offset="0.2289" stop-color="#7f3b08"/><stop offset="0.2342" stop-color="#8d4307"/><stop offset="0.2395" stop-color="#a85206"/><stop offset="0.2500" stop-color="#cb6e0d"/><stop offset="0.2605" stop-color="#de8013"/><stop offset="0.2711" stop-color="#e8912a"/><stop offset="0.2763" stop-color="#ea9530"/><stop offset="0.3184" stop-color="#f7ac52"/><stop offset="0.4079" stop-color="#f3a649"/><stop offset="0.4658" stop-color="#fcb761"/><stop offset="0.5026" stop-color="#fdbc6b"/><stop offset="0.5500" stop-color="#fdc57f"/><stop offset="0.7500" stop-color="#fee0b6"/><stop offset="0.9026" stop-color="#fbe9cf"/><stop offset="0.9974" stop-color="#faedda"/></linearGradient><linearGradient id="g158" x1="0" y1="0" x2="0" y2="1"><stop offset="0.0026" stop-color="#8f4407"/><stop offset="0.0237" stop-color="#8f4407"/><stop offset="0.0289" stop-color="#954807"/><stop offset="0.0342" stop-color="#b45906"/><stop offset="0.0395" stop-color="#dc7f13"/><stop offset="0.0447" stop-color="#f2a446"/><stop offset="0.0500" stop-color="#f8ae55"/><stop offset="0.0605" stop-color="#f8ae55"/><stop offset="0.0658" stop-color="#fbb55e"/><stop offset="0.0763" stop-color="#fdc782"/><stop offset="0.0921" stop-color="#fed8a6"/><stop offset="0.1184" stop-color="#fee1b9"/><stop offset="0.1342" stop-color="#fee1b9"/><stop offset="0.1500" stop-color="#fedbac"/><stop offset="0.1658" stop-color="#fecd8f"/><stop offset="0.1816" stop-color="#fdba68"/><stop offset="0.1868" stop-color="#f8ae55"/><stop offset="0.1921" stop-color="#ef9e3c"/><stop offset="0.1974" stop-color="#e3881d"/><stop offset="0.2026" stop-color="#d27510"/><stop offset="0.2079" stop-color="#bb5f08"/><stop offset="0.2132" stop-color="#9a4a07"/><stop offset="0.2184" stop-color="#7f3b08"/><stop offset="0.2289" stop-color="#7f3b08"/><stop offset="0.2342" stop-color="#8d4307"/><stop offset="0.2395" stop-color="#a85206"/><stop offset="0.2500" stop-color="#c96d0d"/><stop offset="0.2605" stop-color="#dc7f13"/><stop offset="0.2658" stop-color="#e3881d"/><stop offset="0.2868" stop-color="#ee9b39"/><stop offset="0.3184" stop-color="#f6aa4f"/><stop offset="0.3816" stop-color="#f4a84c"/><stop offset="0.4079" stop-color="#f2a446"/><stop offset="0.4816" stop-color="#fdb965"/><stop offset="0.6184" stop-color="#fecf92"/><stop offset="0.7026" stop-color="#fedaa9"/><stop offset="0.8132" stop-color="#fde4c0"/><stop offset="0.9974" stop-color="#faedda"/></linearGradient><linearGradient id="g159" x1="0" y1="0" x2="0" y2="1"><stop offset="0.0026" stop-color="#d77a11"/><stop offset="0.0395" stop-color="#d97b12"/><stop offset="0.0447" stop-color="#e78f27"/><stop offset="0.0500" stop-color="#f8ae55"/><stop offset="0.0553" stop-color="#fdc57f"/><stop offset="0.0605" stop-color="#fdcc8c"/><stop offset="0.0658" stop-color="#fdca88"/><stop offset="0.0816" stop-color="#fdcc8c"/><stop offset="0.0921" stop-color="#fed7a2"/><stop offset="0.1184" stop-color="#fee0b6"/><stop offset="0.1447" stop-color="#feddaf"/><stop offset="0.1605" stop-color="#fed095"/><stop offset="0.1763" stop-color="#fdc175"/><stop offset="0.1868" stop-color="#f8ae55"/><stop offset="0.1921" stop-color="#ef9e3c"/><stop offset="0.1974" stop-color="#e3881d"/><stop offset="0.2026" stop-color="#d27510"/><stop offset="0.2079" stop-color="#bb5f08"/><stop offset="0.2132" stop-color="#9a4a07"/><stop offset="0.2184" stop-color="#7f3b08"/><stop offset="0.2289" stop-color="#7f3b08"/><stop offset="0.2342" stop-color="#8b4208"/><stop offset="0.2395" stop-color="#a65107"/><stop offset="0.2500" stop-color="#c96d0d"/><stop offset="0.2658" stop-color="#e2861a"/><stop offset="0.2711" stop-color="#e78f27"/><stop offset="0.2763" stop-color="#e9932d"/><stop offset="0.3184" stop-color="#f6aa4f"/><stop offset="0.4132" stop-color="#f2a446"/><stop offset="0.4500" stop-color="#f9b158"/><stop offset="0.4868" stop-color="#fdb965"/><stop offset="0.6237" stop-color="#fecf92"/><stop offset="0.7079" stop-color="#fedaa9"/><stop offset="0.8763" stop-color="#fce7ca"/><stop offset="0.9974" stop-color="#faedda"/></linearGradient><linearGradient id="g160" x1="0" y1="0" x2="0" y2="1"><stop offset="0.0026" stop-color="#c4680b"/><stop offset="0.0342" stop-color="#c4680b"/><stop offset="0.0395" stop-color="#c6690c"/><stop offset="0.0447" stop-color="#d0730f"/><stop offset="0.0500" stop-color="#e68d23"/><stop offset="0.0553" stop-color="#f6aa4f"/><stop offset="0.0605" stop-color="#fdba68"/><stop offset="0.0658" stop-color="#fdbf72"/><stop offset="0.0868" stop-color="#fde4c0"/><stop offset="0.0921" stop-color="#fce8cd"/><stop offset="0.1184" stop-color="#faeedf"/><stop offset="0.1447" stop-color="#faedda"/><stop offset="0.1553" stop-color="#fce8cd"/><stop offset="0.1605" stop-color="#fde4c0"/><stop offset="0.1816" stop-color="#fdbf72"/><stop offset="0.1868" stop-color="#f8ae55"/><stop offset="0.1921" stop-color="#ef9e3c"/><stop offset="0.1974" stop-color="#e3881d"/><stop offset="0.2026" stop-color="#d27510"/><stop offset="0.2079" stop-color="#bb5f08"/><stop offset="0.2132" stop-color="#9a4a07"/><stop offset="0.2184" stop-color="#7f3b08"/><stop offset="0.2289" stop-color="#7f3b08"/><stop offset="0.2342" stop-color="#8b4208"/><stop offset="0.2395" stop-color="#a65107"/><stop offset="0.2500" stop-color="#c76b0c"/><stop offset="0.2605" stop-color="#dc7f13"/><stop offset="0.2658" stop-color="#e2861a"/><stop offset="0.2868" stop-color="#ed9936"/><stop offset="0.3184" stop-color="#f4a84c"/><stop offset="0.4079" stop-color="#f1a242"/><stop offset="0.4921" stop-color="#fdb965"/><stop offset="0.6289" stop-color="#fecf92"/><stop offset="0.7395" stop-color="#feddaf"/><stop offset="0.8658" stop-color="#fce6c8"/><stop offset="0.9974" stop-color="#faedda"/></linearGradient><linearGradient id="g161" x1="0" y1="0" x2="0" y2="1"><stop offset="0.0026" stop-color="#a85206"/><stop offset="0.0395" stop-color="#a85206"/><stop offset="0.0447" stop-color="#b75c07"/><stop offset="0.0500" stop-color="#d47610"/><stop offset="0.0553" stop-color="#eb9733"/><stop offset="0.0605" stop-color="#f6aa4f"/><stop offset="0.0658" stop-color="#fbb55e"/><stop offset="0.0763" stop-color="#fed095"/><stop offset="0.0868" stop-color="#fde4c0"/><stop offset="0.0921" stop-color="#fce8cd"/><stop offset="0.1184" stop-color="#faeedf"/><stop offset="0.1447" stop-color="#faedda"/><stop offset="0.1553" stop-color="#fce8cd"/><stop offset="0.1605" stop-color="#fde4c0"/><stop offset="0.1816" stop-color="#fdbf72"/><stop offset="0.1868" stop-color="#f8ae55"/><stop offset="0.1921" stop-color="#ef9e3c"/><stop offset="0.1974" stop-color="#e3881d"/><stop offset="0.2026" stop-color="#d27510"/><stop offset="0.2079" stop-color="#bb5f08"/><stop offset="0.2132" stop-color="#9a4a07"/><stop offset="0.2184" stop-color="#7f3b08"/><stop offset="0.2289" stop-color="#7f3b08"/><stop offset="0.2342" stop-color="#894108"/><stop offset="0.2395" stop-color="#a44f07"/><stop offset="0.2500" stop-color="#c76b0c"/><stop offset="0.2605" stop-color="#db7d12"/><stop offset="0.2658" stop-color="#e2861a"/><stop offset="0.2816" stop-color="#ea9530"/><stop offset="0.3184" stop-color="#f4a84c"/><stop offset="0.4079" stop-color="#f0a03f"/><stop offset="0.4447" stop-color="#f7ac52"/><stop offset="0.4974" stop-color="#fdb965"/><stop offset="0.6237" stop-color="#fecd8f"/><stop offset="0.7447" stop-color="#feddaf"/><stop offset="0.8868" stop-color="#fce7ca"/><stop offset="0.9974" stop-color="#faecd7"/></linearGradient><linearGradient id="g162" x1="0" y1="0" x2="0" y2="1"><stop offset="0.0026" stop-color="#813c08"/><stop offset="0.0237" stop-color="#813c08"/><stop offset="0.0289" stop-color="#8d4307"/><stop offset="0.0342" stop-color="#b65a07"/><stop offset="0.0395" stop-color="#e08214"/><stop offset="0.0447" stop-color="#f3a649"/><stop offset="0.0500" stop-color="#f6aa4f"/><stop offset="0.0605" stop-color="#f6aa4f"/><stop offset="0.0658" stop-color="#f9b158"/><stop offset="0.0763" stop-color="#fdc57f"/><stop offset="0.0921" stop-color="#fed7a2"/><stop offset="0.1184" stop-color="#fedeb3"/><stop offset="0.1342" stop-color="#fedeb3"/><stop offset="0.1500" stop-color="#fed8a6"/><stop offset="0.1605" stop-color="#fed095"/><stop offset="0.1711" stop-color="#fdc57f"/><stop offset="0.1816" stop-color="#fdb965"/><stop offset="0.1868" stop-color="#f8ae55"/><stop offset="0.1921" stop-color="#ef9e3c"/><stop offset="0.1974" stop-color="#e3881d"/><stop offset="0.2026" stop-color="#d27510"/><stop offset="0.2079" stop-color="#bb5f08"/><stop offset="0.2132" stop-color="#9a4a07"/><stop offset="0.2184" stop-color="#7f3b08"/><stop offset="0.2289" stop-color="#7f3b08"/><stop offset="0.2342" stop-color="#894108"/><stop offset="0.2395" stop-color="#a44f07"/><stop offset="0.2447" stop-color="#b75c07"/><stop offset="0.2553" stop-color="#d27510"/><stop offset="0.2658" stop-color="#e18417"/><stop offset="0.2868" stop-color="#eb9733"/><stop offset="0.3184" stop-color="#f3a649"/><stop offset="0.3868" stop-color="#f1a242"/><stop offset="0.4079" stop-color="#ef9e3c"/><stop offset="0.4500" stop-color="#f7ac52"/><stop offset="0.5026" stop-color="#fdb965"/><stop offset="0.6184" stop-color="#fdcc8c"/><stop offset="0.7500" stop-color="#feddaf"/><stop offset="0.8921" stop-color="#fce7ca"/><stop offset="0.9974" stop-color="#faecd7"/></linearGradient><linearGradient id="g163" x1="0" y1="0" x2="0" y2="1"><stop offset="0.0026" stop-color="#853e08"/><stop offset="0.0395" stop-color="#853e08"/><stop offset="0.0447" stop-color="#a04d07"/><stop offset="0.0500" stop-color="#c96d0d"/><stop offset="0.0553" stop-color="#ea9530"/><stop offset="0.0605" stop-color="#f6aa4f"/><stop offset="0.0658" stop-color="#fab35b"/><stop offset="0.0763" stop-color="#fdc782"/><stop offset="0.0921" stop-color="#fed8a6"/><stop offset="0.1184" stop-color="#fee1b9"/><stop offset="0.1395" stop-color="#fee0b6"/><stop offset="0.1500" stop-color="#fedbac"/><stop offset="0.1711" stop-color="#fdc782"/><stop offset="0.1816" stop-color="#fdba68"/><stop offset="0.1868" stop-color="#f8ae55"/><stop offset="0.1921" stop-color="#ef9e3c"/><stop offset="0.1974" stop-color="#e3881d"/><stop offset="0.2026" stop-color="#d27510"/><stop offset="0.2079" stop-color="#bb5f08"/><stop offset="0.2132" stop-color="#9a4a07"/><stop offset="0.2184" stop-color="#7f3b08"/><stop offset="0.2289" stop-color="#7f3b08"/><stop offset="0.2342" stop-color="#874008"/><stop offset="0.2395" stop-color="#a24e07"/><stop offset="0.2500" stop-color="#c6690c"/><stop offset="0.2658" stop-color="#e18316"/><stop offset="0.2711" stop-color="#e58a20"/><stop offset="0.2816" stop-color="#e9922b"/><stop offset="0.3184" stop-color="#f3a547"/><stop offset="0.4079" stop-color="#ee9c3b"/><stop offset="0.5132" stop-color="#fdb965"/><stop offset="0.7237" stop-color="#fed8a6"/><stop offset="0.8553" stop-color="#fde5c3"/><stop offset="0.9974" stop-color="#faecd7"/></linearGradient><linearGradient id="g164" x1="0" y1="0" x2="0" y2="1"><stop offset="0.0026" stop-color="#9e4c07"/><stop offset="0.0342" stop-color="#a04d07"/><stop offset="0.0395" stop-color="#bb5f08"/><stop offset="0.0447" stop-color="#e08214"/><stop offset="0.0500" stop-color="#f3a649"/><stop offset="0.0553" stop-color="#fab35b"/><stop offset="0.0605" stop-color="#fab35b"/><stop offset="0.0658" stop-color="#fdb965"/><stop offset="0.0763" stop-color="#fdca88"/><stop offset="0.0921" stop-color="#feddaf"/><stop offset="0.1184" stop-color="#fde4c0"/><stop offset="0.1447" stop-color="#fde2bb"/><stop offset="0.1553" stop-color="#fedbac"/><stop offset="0.1605" stop-color="#fed7a2"/><stop offset="0.1763" stop-color="#fdc278"/><stop offset="0.1868" stop-color="#f8ae55"/><stop offset="0.1921" stop-color="#ef9e3c"/><stop offset="0.1974" stop-color="#e3881d"/><stop offset="0.2026" stop-color="#d27510"/><stop offset="0.2079" stop-color="#bb5f08"/><stop offset="0.2132" stop-color="#9a4a07"/><stop offset="0.2184" stop-color="#7f3b08"/><stop offset="0.2289" stop-color="#7f3b08"/><stop offset="0.2342" stop-color="#853e08"/><stop offset="0.2447" stop-color="#b65a07"/><stop offset="0.2553" stop-color="#ce720f"/><stop offset="0.2658" stop-color="#e08214"/><stop offset="0.2816" stop-color="#e8912a"/><stop offset="0.3184" stop-color="#f2a446"/><stop offset="0.4079" stop-color="#ed9936"/><stop offset="0.4500" stop-color="#f4a84c"/><stop offset="0.5184" stop-color="#fdb965"/><stop offset="0.7289" stop-color="#fed8a6"/><stop offset="0.8605" stop-color="#fde5c3"/><stop offset="0.9974" stop-color="#faecd7"/></linearGradient><linearGradient id="g165" x1="0" y1="0" x2="0" y2="1"><stop offset="0.0026" stop-color="#e2861a"/><stop offset="0.0289" stop-color="#e2861a"/><stop offset="0.0342" stop-color="#e78f27"/><stop offset="0.0447" stop-color="#fdc175"/><stop offset="0.0500" stop-color="#fecd8f"/><stop offset="0.0763" stop-color="#fecf92"/><stop offset="0.0816" stop-color="#fed299"/><stop offset="0.0921" stop-color="#fee0b6"/><stop offset="0.1184" stop-color="#fce5c5"/><stop offset="0.1447" stop-color="#fde4c0"/><stop offset="0.1553" stop-color="#fedeb3"/><stop offset="0.1763" stop-color="#fdc47b"/><stop offset="0.1868" stop-color="#f8ae55"/><stop offset="0.1921" stop-color="#ef9e3c"/><stop offset="0.1974" stop-color="#e3881d"/><stop offset="0.2026" stop-color="#d27510"/><stop offset="0.2079" stop-color="#bb5f08"/><stop offset="0.2132" stop-color="#9a4a07"/><stop offset="0.2184" stop-color="#7f3b08"/><stop offset="0.2289" stop-color="#7f3b08"/><stop offset="0.2342" stop-color="#853e08"/><stop offset="0.2395" stop-color="#a04d07"/><stop offset="0.2447" stop-color="#b45906"/><stop offset="0.2500" stop-color="#c4680b"/><stop offset="0.2658" stop-color="#e08214"/><stop offset="0.2711" stop-color="#e3881d"/><stop offset="0.2921" stop-color="#eb9733"/><stop offset="0.3184" stop-color="#f2a446"/><stop offset="0.4079" stop-color="#ed9936"/><stop offset="0.5237" stop-color="#fdb965"/><stop offset="0.7342" stop-color="#fed8a6"/><stop offset="0.8658" stop-color="#fde5c3"/><stop offset="0.9974" stop-color="#fbebd5"/></linearGradient><linearGradient id="g166" x1="0" y1="0" x2="0" y2="1"><stop offset="0.0026" stop-color="#ae5506"/><stop offset="0.0342" stop-color="#ae5506"/><stop offset="0.0395" stop-color="#c2660b"/><stop offset="0.0447" stop-color="#e18417"/><stop offset="0.0500" stop-color="#f4a84c"/><stop offset="0.0553" stop-color="#fbb55e"/><stop offset="0.0605" stop-color="#fbb55e"/><stop offset="0.0658" stop-color="#fdba68"/><stop offset="0.0763" stop-color="#fecd8f"/><stop offset="0.0868" stop-color="#feddaf"/><stop offset="0.0921" stop-color="#fde2bb"/><stop offset="0.1184" stop-color="#fce7ca"/><stop offset="0.1342" stop-color="#fce7ca"/><stop offset="0.1447" stop-color="#fce5c5"/><stop offset="0.1553" stop-color="#fee1b9"/><stop offset="0.1763" stop-color="#fdc57f"/><stop offset="0.1868" stop-color="#f8ae55"/><stop offset="0.1921" stop-color="#ef9e3c"/><stop offset="0.1974" stop-color="#e3881d"/><stop offset="0.2026" stop-color="#d27510"/><stop offset="0.2079" stop-color="#bb5f08"/><stop offset="0.2132" stop-color="#9a4a07"/><stop offset="0.2184" stop-color="#7f3b08"/><stop offset="0.2342" stop-color="#833d08"/><stop offset="0.2395" stop-color="#a04d07"/><stop offset="0.2447" stop-color="#b45906"/><stop offset="0.2553" stop-color="#ce720f"/><stop offset="0.2658" stop-color="#de8013"/><stop offset="0.2868" stop-color="#e9932d"/><stop offset="0.3184" stop-color="#f1a242"/><stop offset="0.4079" stop-color="#eb9733"/><stop offset="0.4447" stop-color="#f2a446"/><stop offset="0.5289" stop-color="#fdb965"/><stop offset="0.7395" stop-color="#fed8a6"/><stop offset="0.8553" stop-color="#fde4c0"/><stop offset="0.9974" stop-color="#fbebd5"/></linearGradient><linearGradient id="g167" x1="0" y1="0" x2="0" y2="1"><stop offset="0.0026" stop-color="#954807"/><stop offset="0.0342" stop-color="#974907"/><stop offset="0.0395" stop-color="#b05606"/><stop offset="0.0447" stop-color="#d47610"/><stop offset="0.0500" stop-color="#ed9936"/><stop offset="0.0553" stop-color="#f6aa4f"/><stop offset="0.0605" stop-color="#f6aa4f"/><stop offset="0.0658" stop-color="#fab35b"/><stop offset="0.0763" stop-color="#fdcc8c"/><stop offset="0.0816" stop-color="#fed59f"/><stop offset="0.0921" stop-color="#fde2bb"/><stop offset="0.1184" stop-color="#fce7ca"/><stop offset="0.1342" stop-color="#fce7ca"/><stop offset="0.1447" stop-color="#fce5c5"/><stop offset="0.1553" stop-color="#fee1b9"/><stop offset="0.1763" stop-color="#fdc57f"/><stop offset="0.1868" stop-color="#f8ae55"/><stop offset="0.1921" stop-color="#ef9e3c"/><stop offset="0.1974" stop-color="#e3881d"/><stop offset="0.2026" stop-color="#d27510"/><stop offset="0.2079" stop-color="#bb5f08"/><stop offset="0.2132" stop-color="#9a4a07"/><stop offset="0.2184" stop-color="#7f3b08"/><stop offset="0.2342" stop-color="#833d08"/><stop offset="0.2447" stop-color="#b45906"/><stop offset="0.2500" stop-color="#c2660b"/><stop offset="0.2658" stop-color="#de8013"/><stop offset="0.2816" stop-color="#e78f27"/><stop offset="0.3184" stop-color="#f1a242"/><stop offset="0.4079" stop-color="#ea9530"/><stop offset="0.4500" stop-color="#f2a446"/><stop offset="0.5342" stop-color="#fdb965"/><stop offset="0.7447" stop-color="#fed8a6"/><stop offset="0.8605" stop-color="#fde4c0"/><stop offset="0.9974" stop-color="#fbebd5"/></linearGradient><linearGradient id="g168" x1="0" y1="0" x2="0" y2="1"><stop offset="0.0026" stop-color="#8f4407"/><stop offset="0.0289" stop-color="#8f4407"/><stop offset="0.0342" stop-color="#9c4b07"/><stop offset="0.0395" stop-color="#be630a"/><stop offset="0.0447" stop-color="#e3881d"/><stop offset="0.0500" stop-color="#f3a649"/><stop offset="0.0553" stop-color="#f6aa4f"/><stop offset="0.0605" stop-color="#f6aa4f"/><stop offset="0.0658" stop-color="#fab35b"/><stop offset="0.0763" stop-color="#fdca88"/><stop offset="0.0868" stop-color="#fedaa9"/><stop offset="0.0974" stop-color="#fee1b9"/><stop offset="0.1132" stop-color="#fde5c3"/><stop offset="0.1342" stop-color="#fde5c3"/><stop offset="0.1500" stop-color="#fee1b9"/><stop offset="0.1605" stop-color="#fed8a6"/><stop offset="0.1763" stop-color="#fdc47b"/><stop offset="0.1868" stop-color="#f8ae55"/><stop offset="0.1921" stop-color="#ef9e3c"/><stop offset="0.1974" stop-color="#e3881d"/><stop offset="0.2026" stop-color="#d27510"/><stop offset="0.2079" stop-color="#bb5f08"/><stop offset="0.2132" stop-color="#9a4a07"/><stop offset="0.2184" stop-color="#7f3b08"/><stop offset="0.2342" stop-color="#813c08"/><stop offset="0.2395" stop-color="#9e4c07"/><stop offset="0.2447" stop-color="#b25706"/><stop offset="0.2500" stop-color="#c2660b"/><stop offset="0.2658" stop-color="#de8013"/><stop offset="0.2974" stop-color="#eb9733"/><stop offset="0.3184" stop-color="#f0a03f"/><stop offset="0.4132" stop-color="#ea9530"/><stop offset="0.4395" stop-color="#f0a03f"/><stop offset="0.5395" stop-color="#fdb965"/><stop offset="0.7500" stop-color="#fed8a6"/><stop offset="0.8921" stop-color="#fce5c5"/><stop offset="0.9974" stop-color="#fbebd5"/></linearGradient><linearGradient id="g169" x1="0" y1="0" x2="0" y2="1"><stop offset="0.0026" stop-color="#813c08"/><stop offset="0.0184" stop-color="#813c08"/><stop offset="0.0237" stop-color="#8f4407"/><stop offset="0.0289" stop-color="#b75c07"/><stop offset="0.0342" stop-color="#e18417"/><stop offset="0.0395" stop-color="#f3a649"/><stop offset="0.0447" stop-color="#f6aa4f"/><stop offset="0.0605" stop-color="#f6aa4f"/><stop offset="0.0711" stop-color="#fdbc6b"/><stop offset="0.0816" stop-color="#fecd8f"/><stop offset="0.0921" stop-color="#fed7a2"/><stop offset="0.1184" stop-color="#fee0b6"/><stop offset="0.1447" stop-color="#feddaf"/><stop offset="0.1658" stop-color="#fdcc8c"/><stop offset="0.1763" stop-color="#fdc175"/><stop offset="0.1868" stop-color="#f8ae55"/><stop offset="0.1921" stop-color="#ef9e3c"/><stop offset="0.1974" stop-color="#e3881d"/><stop offset="0.2026" stop-color="#d27510"/><stop offset="0.2079" stop-color="#bb5f08"/><stop offset="0.2132" stop-color="#9a4a07"/><stop offset="0.2184" stop-color="#7f3b08"/><stop offset="0.2342" stop-color="#813c08"/><stop offset="0.2395" stop-color="#9e4c07"/><stop offset="0.2447" stop-color="#b25706"/><stop offset="0.2553" stop-color="#cd700e"/><stop offset="0.2711" stop-color="#e18417"/><stop offset="0.2868" stop-color="#e8912a"/><stop offset="0.3184" stop-color="#f0a03f"/><stop offset="0.4079" stop-color="#e9932d"/><stop offset="0.4500" stop-color="#f1a242"/><stop offset="0.5447" stop-color="#fdb965"/><stop offset="0.7553" stop-color="#fed8a6"/><stop offset="0.8816" stop-color="#fde5c3"/><stop offset="0.9974" stop-color="#fbebd5"/></linearGradient><linearGradient id="g170" x1="0" y1="0" x2="0" y2="1"><stop offset="0.0026" stop-color="#8f4407"/><stop offset="0.0342" stop-color="#914507"/><stop offset="0.0395" stop-color="#a85206"/><stop offset="0.0447" stop-color="#cd700e"/><stop offset="0.0500" stop-color="#ea9530"/><stop offset="0.0553" stop-color="#f6aa4f"/><stop offset="0.0605" stop-color="#f6aa4f"/><stop offset="0.0658" stop-color="#fab35b"/><stop offset="0.0763" stop-color="#fdca88"/><stop offset="0.0868" stop-color="#fedaa9"/><stop offset="0.0921" stop-color="#fee0b6"/><stop offset="0.1184" stop-color="#fce5c5"/><stop offset="0.1447" stop-color="#fde4c0"/><stop offset="0.1553" stop-color="#fedeb3"/><stop offset="0.1763" stop-color="#fdc47b"/><stop offset="0.1868" stop-color="#f8ae55"/><stop offset="0.1921" stop-color="#ef9e3c"/><stop offset="0.1974" stop-color="#e3881d"/><stop offset="0.2026" stop-color="#d27510"/><stop offset="0.2079" stop-color="#bb5f08"/><stop offset="0.2132" stop-color="#9a4a07"/><stop offset="0.2184" stop-color="#7f3b08"/><stop offset="0.2342" stop-color="#813c08"/><stop offset="0.2447" stop-color="#b25706"/><stop offset="0.2605" stop-color="#d57710"/><stop offset="0.2711" stop-color="#e18417"/><stop offset="0.2974" stop-color="#ea9530"/><stop offset="0.3184" stop-color="#ef9e3c"/><stop offset="0.4079" stop-color="#e8912a"/><stop offset="0.4553" stop-color="#f0a141"/><stop offset="0.5500" stop-color="#fdb863"/><stop offset="0.7658" stop-color="#fed8a6"/><stop offset="0.8763" stop-color="#fde4c0"/><stop offset="0.9974" stop-color="#fbead2"/></linearGradient><linearGradient id="g171" x1="0" y1="0" x2="0" y2="1"><stop offset="0.0026" stop-color="#8d4307"/><stop offset="0.0395" stop-color="#8d4307"/><stop offset="0.0447" stop-color="#a24e07"/><stop offset="0.0500" stop-color="#c96d0d"/><stop offset="0.0553" stop-color="#e9932d"/><stop offset="0.0605" stop-color="#f6aa4f"/><stop offset="0.0658" stop-color="#fab35b"/><stop offset="0.0816" stop-color="#fed299"/><stop offset="0.0921" stop-color="#fedeb3"/><stop offset="0.1184" stop-color="#fde5c3"/><stop offset="0.1447" stop-color="#fde3be"/><stop offset="0.1553" stop-color="#feddaf"/><stop offset="0.1711" stop-color="#fdca88"/><stop offset="0.1816" stop-color="#fdba68"/><stop offset="0.1868" stop-color="#f8ae55"/><stop offset="0.1921" stop-color="#ef9e3c"/><stop offset="0.1974" stop-color="#e3881d"/><stop offset="0.2026" stop-color="#d27510"/><stop offset="0.2079" stop-color="#bb5f08"/><stop offset="0.2132" stop-color="#9a4a07"/><stop offset="0.2184" stop-color="#7f3b08"/><stop offset="0.2342" stop-color="#7f3b08"/><stop offset="0.2395" stop-color="#9c4b07"/><stop offset="0.2447" stop-color="#b05606"/><stop offset="0.2553" stop-color="#cb6e0d"/><stop offset="0.2711" stop-color="#e08214"/><stop offset="0.2868" stop-color="#e78f27"/><stop offset="0.3184" stop-color="#ef9e3c"/><stop offset="0.4079" stop-color="#e78f27"/><stop offset="0.4500" stop-color="#ef9e3c"/><stop offset="0.5500" stop-color="#fcb761"/><stop offset="0.7816" stop-color="#fedaa9"/><stop offset="0.8816" stop-color="#fde4c0"/><stop offset="0.9974" stop-color="#fbead2"/></linearGradient><linearGradient id="g172" x1="0" y1="0" x2="0" y2="1"><stop offset="0.0026" stop-color="#a04d07"/><stop offset="0.0447" stop-color="#a04d07"/><stop offset="0.0500" stop-color="#b65a07"/><stop offset="0.0553" stop-color="#d77a11"/><stop offset="0.0605" stop-color="#ee9b39"/><stop offset="0.0658" stop-color="#fbb55e"/><stop offset="0.0763" stop-color="#fecf92"/><stop offset="0.0868" stop-color="#fee1b9"/><stop offset="0.0921" stop-color="#fce5c5"/><stop offset="0.1184" stop-color="#fbebd5"/><stop offset="0.1447" stop-color="#fbe9cf"/><stop offset="0.1553" stop-color="#fde5c3"/><stop offset="0.1605" stop-color="#fee1b9"/><stop offset="0.1711" stop-color="#fed095"/><stop offset="0.1816" stop-color="#fdbd6e"/><stop offset="0.1868" stop-color="#f8ae55"/><stop offset="0.1921" stop-color="#ef9e3c"/><stop offset="0.1974" stop-color="#e3881d"/><stop offset="0.2026" stop-color="#d27510"/><stop offset="0.2079" stop-color="#bb5f08"/><stop offset="0.2132" stop-color="#9a4a07"/><stop offset="0.2184" stop-color="#7f3b08"/><stop offset="0.2342" stop-color="#7f3b08"/><stop offset="0.2395" stop-color="#9c4b07"/><stop offset="0.2447" stop-color="#b05606"/><stop offset="0.2553" stop-color="#cb6e0d"/><stop offset="0.2711" stop-color="#e08214"/><stop offset="0.2921" stop-color="#e8912a"/><stop offset="0.3184" stop-color="#ee9b39"/><stop offset="0.4079" stop-color="#e68d23"/><stop offset="0.4605" stop-color="#f0a03f"/><stop offset="0.5553" stop-color="#fcb761"/><stop offset="0.6658" stop-color="#fdc885"/><stop offset="0.6763" stop-color="#fdc885"/><stop offset="0.8342" stop-color="#fee0b6"/><stop offset="0.9974" stop-color="#fbead2"/></linearGradient><linearGradient id="g173" x1="0" y1="0" x2="0" y2="1"><stop offset="0.0026" stop-color="#8b4208"/><stop offset="0.0289" stop-color="#8b4208"/><stop offset="0.0342" stop-color="#914507"/><stop offset="0.0395" stop-color="#b45906"/><stop offset="0.0447" stop-color="#dc7f13"/><stop offset="0.0500" stop-color="#f1a242"/><stop offset="0.0553" stop-color="#f6aa4f"/><stop offset="0.0605" stop-color="#f6aa4f"/><stop offset="0.0658" stop-color="#fab35b"/><stop offset="0.0763" stop-color="#fdc885"/><stop offset="0.0921" stop-color="#feddaf"/><stop offset="0.1184" stop-color="#fde4c0"/><stop offset="0.1447" stop-color="#fde2bb"/><stop offset="0.1605" stop-color="#fed59f"/><stop offset="0.1763" stop-color="#fdc278"/><stop offset="0.1868" stop-color="#f8ae55"/><stop offset="0.1921" stop-color="#ef9e3c"/><stop offset="0.1974" stop-color="#e3881d"/><stop offset="0.2026" stop-color="#d27510"/><stop offset="0.2079" stop-color="#bb5f08"/><stop offset="0.2132" stop-color="#9a4a07"/><stop offset="0.2184" stop-color="#7f3b08"/><stop offset="0.2342" stop-color="#7f3b08"/><stop offset="0.2447" stop-color="#b05606"/><stop offset="0.2605" stop-color="#d47610"/><stop offset="0.2711" stop-color="#e08214"/><stop offset="0.2974" stop-color="#e9932d"/><stop offset="0.3184" stop-color="#ee9b39"/><stop offset="0.4079" stop-color="#e68d23"/><stop offset="0.4500" stop-color="#ee9b39"/><stop offset="0.5605" stop-color="#fcb761"/><stop offset="0.7447" stop-color="#fed39c"/><stop offset="0.8395" stop-color="#fee0b6"/><stop offset="0.9974" stop-color="#fbead2"/></linearGradient><linearGradient id="g174" x1="0" y1="0" x2="0" y2="1"><stop offset="0.0026" stop-color="#a85206"/><stop offset="0.0289" stop-color="#a85206"/><stop offset="0.0342" stop-color="#ae5506"/><stop offset="0.0395" stop-color="#c96d0d"/><stop offset="0.0447" stop-color="#e8912a"/><stop offset="0.0500" stop-color="#f9b158"/><stop offset="0.0553" stop-color="#fcb761"/><stop offset="0.0605" stop-color="#fcb761"/><stop offset="0.0658" stop-color="#fdbc6b"/><stop offset="0.0921" stop-color="#feddaf"/><stop offset="0.1184" stop-color="#fde4c0"/><stop offset="0.1447" stop-color="#fde2bb"/><stop offset="0.1605" stop-color="#fed59f"/><stop offset="0.1763" stop-color="#fdc278"/><stop offset="0.1868" stop-color="#f8ae55"/><stop offset="0.1921" stop-color="#ef9e3c"/><stop offset="0.1974" stop-color="#e3881d"/><stop offset="0.2026" stop-color="#d27510"/><stop offset="0.2079" stop-color="#bb5f08"/><stop offset="0.2132" stop-color="#9a4a07"/><stop offset="0.2184" stop-color="#7f3b08"/><stop offset="0.2342" stop-color="#7f3b08"/><stop offset="0.2447" stop-color="#b05606"/><stop offset="0.2553" stop-color="#c96d0d"/><stop offset="0.2711" stop-color="#e08214"/><stop offset="0.2868" stop-color="#e68d23"/><stop offset="0.3184" stop-color="#ee9b39"/><stop offset="0.4079" stop-color="#e58a20"/><stop offset="0.4553" stop-color="#ee9b39"/><stop offset="0.5658" stop-color="#fcb761"/><stop offset="0.7605" stop-color="#fed59f"/><stop offset="0.8921" stop-color="#fde4c0"/><stop offset="0.9974" stop-color="#fbe9cf"/></linearGradient><linearGradient id="g175" x1="0" y1="0" x2="0" y2="1"><stop offset="0.0026" stop-color="#f8ae55"/><stop offset="0.0342" stop-color="#f9b158"/><stop offset="0.0395" stop-color="#fdbc6b"/><stop offset="0.0500" stop-color="#fedaa9"/><stop offset="0.0553" stop-color="#fedeb3"/><stop offset="0.0605" stop-color="#fedeb3"/><stop offset="0.0711" stop-color="#fed299"/><stop offset="0.0816" stop-color="#fdca88"/><stop offset="0.0868" stop-color="#fed095"/><stop offset="0.0921" stop-color="#fed39c"/><stop offset="0.1132" stop-color="#fedbac"/><stop offset="0.1184" stop-color="#feddaf"/><stop offset="0.1395" stop-color="#fedbac"/><stop offset="0.1447" stop-color="#fedaa9"/><stop offset="0.1553" stop-color="#fed299"/><stop offset="0.1763" stop-color="#fdbf72"/><stop offset="0.1868" stop-color="#f8ae55"/><stop offset="0.1921" stop-color="#ef9e3c"/><stop offset="0.1974" stop-color="#e3881d"/><stop offset="0.2026" stop-color="#d27510"/><stop offset="0.2079" stop-color="#bb5f08"/><stop offset="0.2132" stop-color="#9a4a07"/><stop offset="0.2184" stop-color="#7f3b08"/><stop offset="0.2342" stop-color="#7f3b08"/><stop offset="0.2447" stop-color="#b05606"/><stop offset="0.2553" stop-color="#c96d0d"/><stop offset="0.2658" stop-color="#d97b12"/><stop offset="0.2816" stop-color="#e3881d"/><stop offset="0.3184" stop-color="#ed9936"/><stop offset="0.4079" stop-color="#e3881d"/><stop offset="0.4447" stop-color="#eb9733"/><stop offset="0.5711" stop-color="#fcb761"/><stop offset="0.7658" stop-color="#fed59f"/><stop offset="0.8711" stop-color="#fde2bb"/><stop offset="0.9974" stop-color="#fbe9cf"/></linearGradient><linearGradient id="g176" x1="0" y1="0" x2="0" y2="1"><stop offset="0.0026" stop-color="#a44f07"/><stop offset="0.0289" stop-color="#a44f07"/><stop offset="0.0342" stop-color="#bb5f08"/><stop offset="0.0395" stop-color="#e08214"/><stop offset="0.0447" stop-color="#f6aa4f"/><stop offset="0.0500" stop-color="#fdb965"/><stop offset="0.0605" stop-color="#fdb965"/><stop offset="0.0711" stop-color="#fdc175"/><stop offset="0.0868" stop-color="#fed299"/><stop offset="0.1026" stop-color="#fedaa9"/><stop offset="0.1184" stop-color="#fedeb3"/><stop offset="0.1447" stop-color="#fedbac"/><stop offset="0.1711" stop-color="#fdc57f"/><stop offset="0.1816" stop-color="#fdb965"/><stop offset="0.1868" stop-color="#f8ae55"/><stop offset="0.1921" stop-color="#ef9e3c"/><stop offset="0.1974" stop-color="#e3881d"/><stop offset="0.2026" stop-color="#d27510"/><stop offset="0.2079" stop-color="#bb5f08"/><stop offset="0.2132" stop-color="#9a4a07"/><stop offset="0.2184" stop-color="#7f3b08"/><stop offset="0.2342" stop-color="#7f3b08"/><stop offset="0.2395" stop-color="#9a4a07"/><stop offset="0.2447" stop-color="#ae5506"/><stop offset="0.2553" stop-color="#c96d0d"/><stop offset="0.2711" stop-color="#de8013"/><stop offset="0.3184" stop-color="#ed9936"/><stop offset="0.4079" stop-color="#e3881d"/><stop offset="0.4553" stop-color="#ed9936"/><stop offset="0.5763" stop-color="#fcb761"/><stop offset="0.7816" stop-color="#fed7a2"/><stop offset="0.8868" stop-color="#fde3be"/><stop offset="0.9974" stop-color="#fbe9cf"/></linearGradient><linearGradient id="g177" x1="0" y1="0" x2="0" y2="1"><stop offset="0.0026" stop-color="#813c08"/><stop offset="0.0289" stop-color="#813c08"/><stop offset="0.0342" stop-color="#9e4c07"/><stop offset="0.0395" stop-color="#cb6e0d"/><stop offset="0.0447" stop-color="#eb9733"/><stop offset="0.0500" stop-color="#f6aa4f"/><stop offset="0.0605" stop-color="#f6aa4f"/><stop offset="0.0711" stop-color="#fdbc6b"/><stop offset="0.0763" stop-color="#fdc57f"/><stop offset="0.0868" stop-color="#fed299"/><stop offset="0.1026" stop-color="#fedaa9"/><stop offset="0.1184" stop-color="#fedeb3"/><stop offset="0.1447" stop-color="#fedbac"/><stop offset="0.1711" stop-color="#fdc57f"/><stop offset="0.1816" stop-color="#fdb965"/><stop offset="0.1868" stop-color="#f8ae55"/><stop offset="0.1921" stop-color="#ef9e3c"/><stop offset="0.1974" stop-color="#e3881d"/><stop offset="0.2026" stop-color="#d27510"/><stop offset="0.2079" stop-color="#bb5f08"/><stop offset="0.2132" stop-color="#9a4a07"/><stop offset="0.2184" stop-color="#7f3b08"/><stop offset="0.2342" stop-color="#7f3b08"/><stop offset="0.2395" stop-color="#9a4a07"/><stop offset="0.2447" stop-color="#ae5506"/><stop offset="0.2553" stop-color="#c96d0d"/><stop offset="0.2711" stop-color="#de8013"/><stop offset="0.3132" stop-color="#eb9733"/><stop offset="0.3605" stop-color="#e8912a"/><stop offset="0.4079" stop-color="#e2861a"/><stop offset="0.4605" stop-color="#ed9936"/><stop offset="0.5816" stop-color="#fcb761"/><stop offset="0.6289" stop-color="#fdbf72"/><stop offset="0.6605" stop-color="#fdc278"/><stop offset="0.8553" stop-color="#fee0b6"/><stop offset="0.9974" stop-color="#fbe9cf"/></linearGradient><linearGradient id="g178" x1="0" y1="0" x2="0" y2="1"><stop offset="0.0026" stop-color="#9a4a07"/><stop offset="0.0342" stop-color="#9c4b07"/><stop offset="0.0395" stop-color="#b25706"/><stop offset="0.0447" stop-color="#d47610"/><stop offset="0.0500" stop-color="#ed9936"/><stop offset="0.0553" stop-color="#f6aa4f"/><stop offset="0.0605" stop-color="#f6aa4f"/><stop offset="0.0658" stop-color="#fbb55e"/><stop offset="0.0763" stop-color="#fecd8f"/><stop offset="0.0816" stop-color="#fed7a2"/><stop offset="0.0921" stop-color="#fde4c0"/><stop offset="0.1184" stop-color="#fbe9cf"/><stop offset="0.1395" stop-color="#fce8cd"/><stop offset="0.1553" stop-color="#fde3be"/><stop offset="0.1605" stop-color="#fedeb3"/><stop offset="0.1711" stop-color="#fecf92"/><stop offset="0.1816" stop-color="#fdbc6b"/><stop offset="0.1868" stop-color="#f8ae55"/><stop offset="0.1921" stop-color="#ef9e3c"/><stop offset="0.1974" stop-color="#e3881d"/><stop offset="0.2026" stop-color="#d27510"/><stop offset="0.2079" stop-color="#bb5f08"/><stop offset="0.2132" stop-color="#9a4a07"/><stop offset="0.2184" stop-color="#7f3b08"/><stop offset="0.2342" stop-color="#7f3b08"/><stop offset="0.2395" stop-color="#9a4a07"/><stop offset="0.2447" stop-color="#ae5506"/><stop offset="0.2553" stop-color="#c96d0d"/><stop offset="0.2711" stop-color="#de8013"/><stop offset="0.3184" stop-color="#eb9733"/><stop offset="0.3974" stop-color="#e2861a"/><stop offset="0.4132" stop-color="#e2861a"/><stop offset="0.4500" stop-color="#ea9530"/><stop offset="0.5763" stop-color="#fbb55e"/><stop offset="0.6237" stop-color="#fdbd6e"/><stop offset="0.6447" stop-color="#fdbf72"/><stop offset="0.8605" stop-color="#fee0b6"/><stop offset="0.9974" stop-color="#fbe9cf"/></linearGradient><linearGradient id="g179" x1="0" y1="0" x2="0" y2="1"><stop offset="0.0026" stop-color="#853e08"/><stop offset="0.0342" stop-color="#853e08"/><stop offset="0.0395" stop-color="#a04d07"/><stop offset="0.0447" stop-color="#cb6e0d"/><stop offset="0.0500" stop-color="#eb9733"/><stop offset="0.0553" stop-color="#f6aa4f"/><stop offset="0.0605" stop-color="#f6aa4f"/><stop offset="0.0658" stop-color="#fab35b"/><stop offset="0.0763" stop-color="#fdc782"/><stop offset="0.0868" stop-color="#fed39c"/><stop offset="0.0974" stop-color="#fedbac"/><stop offset="0.1184" stop-color="#fee1b9"/><stop offset="0.1395" stop-color="#fee0b6"/><stop offset="0.1500" stop-color="#fedbac"/><stop offset="0.1658" stop-color="#fecd8f"/><stop offset="0.1816" stop-color="#fdba68"/><stop offset="0.1868" stop-color="#f8ae55"/><stop offset="0.1921" stop-color="#ef9e3c"/><stop offset="0.1974" stop-color="#e3881d"/><stop offset="0.2026" stop-color="#d27510"/><stop offset="0.2079" stop-color="#bb5f08"/><stop offset="0.2132" stop-color="#9a4a07"/><stop offset="0.2184" stop-color="#7f3b08"/><stop offset="0.2342" stop-color="#7f3b08"/><stop offset="0.2395" stop-color="#9a4a07"/><stop offset="0.2447" stop-color="#ae5506"/><stop offset="0.2553" stop-color="#c76b0c"/><stop offset="0.2711" stop-color="#de8013"/><stop offset="0.3184" stop-color="#eb9733"/><stop offset="0.4079" stop-color="#e18417"/><stop offset="0.4763" stop-color="#ee9b39"/><stop offset="0.6026" stop-color="#fdb965"/><stop offset="0.8395" stop-color="#feddaf"/><stop offset="0.9395" stop-color="#fce5c5"/><stop offset="0.9974" stop-color="#fce8cd"/></linearGradient><linearGradient id="g180" x1="0" y1="0" x2="0" y2="1"><stop offset="0.0026" stop-color="#7f3b08"/><stop offset="0.0342" stop-color="#7f3b08"/><stop offset="0.0395" stop-color="#853e08"/><stop offset="0.0447" stop-color="#b45906"/><stop offset="0.0500" stop-color="#e18417"/><stop offset="0.0553" stop-color="#f4a84c"/><stop offset="0.0605" stop-color="#f6aa4f"/><stop offset="0.0658" stop-color="#f9b158"/><stop offset="0.0763" stop-color="#fdc278"/><stop offset="0.0868" stop-color="#fdcc8c"/><stop offset="0.1184" stop-color="#fed7a2"/><stop offset="0.1447" stop-color="#fed39c"/><stop offset="0.1763" stop-color="#fdbd6e"/><stop offset="0.1868" stop-color="#f8ae55"/><stop offset="0.1921" stop-color="#ef9e3c"/><stop offset="0.1974" stop-color="#e3881d"/><stop offset="0.2026" stop-color="#d27510"/><stop offset="0.2079" stop-color="#bb5f08"/><stop offset="0.2132" stop-color="#9a4a07"/><stop offset="0.2184" stop-color="#7f3b08"/><stop offset="0.2342" stop-color="#7f3b08"/><stop offset="0.2447" stop-color="#ae5506"/><stop offset="0.2553" stop-color="#c76b0c"/><stop offset="0.2711" stop-color="#dc7f13"/><stop offset="0.2816" stop-color="#e18417"/><stop offset="0.3079" stop-color="#e9932d"/><stop offset="0.3184" stop-color="#ea9530"/><stop offset="0.4079" stop-color="#e08214"/><stop offset="0.4658" stop-color="#eb9733"/><stop offset="0.6079" stop-color="#fdb965"/><stop offset="0.8658" stop-color="#fee0b6"/><stop offset="0.9974" stop-color="#fce8cd"/></linearGradient><clipPath id="cp181"><rect x="534.7" y="17.8" width="137.1" height="190.5"/></clipPath><linearGradient id="g182" x1="0" y1="0" x2="0" y2="1"><stop offset="0.000" stop-color="#7f3b08"/><stop offset="0.025" stop-color="#8b4208"/><stop offset="0.050" stop-color="#974907"/><stop offset="0.075" stop-color="#a65107"/><stop offset="0.100" stop-color="#b25706"/><stop offset="0.125" stop-color="#be630a"/><stop offset="0.150" stop-color="#c96d0d"/><stop offset="0.175" stop-color="#d47610"/><stop offset="0.200" stop-color="#e08214"/><stop offset="0.225" stop-color="#e78f27"/><stop offset="0.250" stop-color="#ef9e3c"/><stop offset="0.275" stop-color="#f6aa4f"/><stop offset="0.300" stop-color="#fcb761"/><stop offset="0.325" stop-color="#fdc278"/><stop offset="0.350" stop-color="#fdcc8c"/><stop offset="0.375" stop-color="#fed7a2"/><stop offset="0.400" stop-color="#fee0b6"/><stop offset="0.425" stop-color="#fce5c5"/><stop offset="0.450" stop-color="#faecd7"/><stop offset="0.475" stop-color="#f9f1e6"/><stop offset="0.500" stop-color="#f6f6f7"/><stop offset="0.525" stop-color="#eff0f4"/><stop offset="0.550" stop-color="#e8e9f1"/><stop offset="0.575" stop-color="#dfe1ee"/><stop offset="0.600" stop-color="#d8daeb"/><stop offset="0.625" stop-color="#cecde4"/><stop offset="0.650" stop-color="#c5c2de"/><stop offset="0.675" stop-color="#bcb7d8"/><stop offset="0.700" stop-color="#b1aad1"/><stop offset="0.725" stop-color="#a59dc8"/><stop offset="0.750" stop-color="#988dbe"/><stop offset="0.775" stop-color="#8c80b5"/><stop offset="0.800" stop-color="#8073ac"/><stop offset="0.825" stop-color="#745ea2"/><stop offset="0.850" stop-color="#6a4c9a"/><stop offset="0.875" stop-color="#5d3790"/><stop offset="0.900" stop-color="#532687"/><stop offset="0.925" stop-color="#4a1d78"/><stop offset="0.950" stop-color="#3f1268"/><stop offset="0.975" stop-color="#360959"/><stop offset="1.000" stop-color="#2d004b"/></linearGradient></defs>
<rect width="725" height="499" fill="#fff"/>
<path d="M41 17.9 L41.04 19.04 L41.08 20.19 L41.12 21.34 L41.15 22.5 L41.19 23.66 L41.24 24.83 L41.28 26 L41.33 27.17 L41.38 28.34 L41.43 29.51 L41.49 30.69 L41.56 31.85 L41.63 33.02 L41.71 34.18 L41.79 35.34 L41.89 36.49 L41.99 37.63 L42.1 38.76 L42.22 39.89 L42.35 41.02 L42.49 42.15 L42.64 43.28 L42.8 44.43 L42.98 45.59 L43.16 46.76 L43.36 47.96 L43.58 49.16 L43.85 50.35 L44.18 51.5 L44.58 52.6 L45.08 53.62 L45.69 54.55 L46.43 55.37 L47.31 56.06 L48.29 56.64 L49.34 57.16 L50.42 57.62 L51.5 58.06 L52.6 58.47 L53.72 58.85 L54.84 59.21 L55.98 59.55 L57.12 59.86 L58.26 60.16 L59.41 60.44 L60.57 60.69 L61.73 60.93 L62.88 61.16 L64.05 61.37 L65.21 61.57 L66.37 61.75 L67.54 61.93 L68.71 62.09 L69.88 62.25 L71.05 62.4 L72.22 62.54 L73.39 62.68 L74.56 62.81 L75.74 62.94 L76.91 63.08 L78.09 63.21 L79.26 63.34 L80.44 63.47 L81.61 63.61 L82.79 63.75 L83.97 63.9 L85.14 64.05 L86.32 64.2 L87.49 64.36 L88.67 64.51 L89.85 64.67 L91.02 64.84 L92.2 65 L93.38 65.17 L94.55 65.34 L95.73 65.51 L96.91 65.69 L98.09 65.87 L99.26 66.04 L100.44 66.22 L101.62 66.4 L102.8 66.58 L103.98 66.77 L105.16 66.95 L106.34 67.14 L107.52 67.32 L108.7 67.51 L109.89 67.69 L111.07 67.88 L112.26 68.07 L113.44 68.25 L114.63 68.44 L115.82 68.63 L117.01 68.81 L118.2 69 L119.39 69.18 L120.59 69.36 L121.79 69.55 L122.98 69.73 L124.18 69.91 L125.39 70.09 L126.59 70.27 L127.81 70.45 L129.03 70.64 L130.25 70.82 L131.48 71.01 L132.71 71.21 L133.94 71.4 L135.17 71.6 L136.4 71.81 L137.62 72.02 L138.85 72.24 L140.07 72.46 L141.29 72.69 L142.52 72.93 L143.74 73.18 L144.96 73.43 L146.19 73.7 L147.41 73.97 L148.64 74.26 L149.87 74.55 L151.1 74.86 L152.34 75.18 L153.58 75.51 L154.82 75.86 L156.07 76.21 L157.32 76.58 L158.57 76.97 L159.8 77.36 L161.02 77.76 L162.22 78.18 L163.4 78.6 L164.56 79.04 L165.72 79.48 L166.87 79.93 L168.02 80.39 L169.18 80.85 L170.35 81.33 L171.53 81.81 L172.72 82.3 L173.91 82.8 L175.08 83.32 L176.22 83.87 L177.33 84.44 L178.41 85.05 L179.47 85.67 L180.51 86.32 L181.54 87 L182.56 87.7 L183.57 88.43 L184.57 89.17 L185.54 89.94 L186.47 90.73 L187.36 91.54 L188.18 92.37 L188.96 93.22 L189.7 94.08 L190.42 94.97 L191.13 95.87 L191.83 96.8 L192.52 97.74 L193.19 98.7 L193.84 99.68 L194.48 100.67 L195.13 101.69 L195.75 102.72 L196.3 103.77 L196.81 104.84 L197.29 105.92 L197.78 106.99 L198.29 108.06 L198.8 109.12 L199.31 110.18 L199.79 111.24 L200.17 112.3 L200.44 113.38 L200.65 114.45 L200.83 115.53 L201.03 116.62 L201.28 117.71 L201.53 118.8 L201.78 119.9 L202.03 121.01 L202.27 122.11 L202.5 123.22 L202.72 124.34 L202.94 125.45 L203.15 126.57 L203.36 127.7 L203.57 128.83 L203.78 129.95 L203.99 131.09 L204.2 132.22 L204.4 133.36 L204.58 134.5 L204.75 135.64 L204.89 136.78 L205.02 137.92 L205.14 139.07 L205.24 140.22 L205.33 141.37 L205.41 142.52 L205.48 143.67 L205.55 144.82 L205.61 145.97 L205.67 147.12 L205.72 148.28 L205.78 149.43 L205.83 150.58 L205.88 151.74 L205.93 152.89 L205.97 154.04 L206.01 155.19 L206.04 156.35 L206.07 157.5 L206.1 158.65 L206.13 159.8 L206.16 160.96 L206.19 162.11 L206.23 163.26 L206.26 164.42 L206.31 165.57 L206.34 166.72 L206.38 167.88 L206.41 169.03 L206.45 170.18 L206.48 171.34 L206.51 172.49 L206.54 173.64 L206.58 174.8 L206.61 175.95 L206.65 177.11 L206.7 178.26 L206.74 179.42 L206.8 180.57 L206.84 181.73 L206.89 182.88 L206.93 184.04 L206.97 185.2 L207.02 186.35 L207.06 187.51 L207.1 188.67 L207.14 189.82 L207.18 190.98 L207.22 192.14 L207.27 193.3 L207.32 194.46 L207.37 195.62 L207.42 196.78 L207.46 197.94 L207.5 199.1 L207.54 200.26 L207.57 201.42 L207.6 202.59 L207.63 203.75 L207.65 204.91 L207.66 206.08 L207.68 207.24 L207.69 208.4" fill="none" stroke="#ead34c" stroke-width="2.1" stroke-linecap="butt"/>
<path d="M41 17.9 L41.04 19.04 L41.08 20.19 L41.12 21.34 L41.15 22.5 L41.19 23.66 L41.24 24.83 L41.28 26 L41.33 27.17 L41.38 28.34 L41.43 29.51 L41.49 30.69 L41.56 31.85 L41.63 33.02 L41.71 34.18 L41.79 35.34 L41.89 36.49 L41.99 37.63 L42.1 38.76 L42.22 39.89 L42.35 41.02 L42.49 42.15 L42.64 43.28 L42.8 44.43 L42.98 45.59 L43.16 46.76 L43.36 47.96 L43.58 49.16 L43.85 50.35 L44.18 51.5 L44.58 52.6 L45.08 53.62 L45.69 54.55 L46.43 55.37 L47.31 56.06 L48.29 56.64 L49.34 57.16 L50.42 57.62 L51.5 58.06 L52.6 58.47 L53.72 58.85 L54.84 59.21 L55.97 59.55 L57.11 59.86 L58.25 60.16 L59.4 60.44 L60.56 60.69 L61.71 60.93 L62.87 61.16 L64.03 61.37 L65.19 61.57 L66.35 61.75 L67.52 61.93 L68.68 62.09 L69.85 62.25 L71.02 62.4 L72.19 62.54 L73.36 62.68 L74.53 62.81 L75.71 62.94 L76.88 63.08 L78.05 63.21 L79.23 63.34 L80.4 63.47 L81.58 63.61 L82.75 63.75 L83.92 63.9 L85.1 64.05 L86.27 64.2 L87.45 64.36 L88.62 64.51 L89.79 64.67 L90.97 64.84 L92.14 65 L93.32 65.17 L94.49 65.34 L95.67 65.51 L96.84 65.69 L98.02 65.87 L99.19 66.04 L100.37 66.22 L101.55 66.4 L102.72 66.58 L103.9 66.77 L105.08 66.95 L106.25 67.14 L107.43 67.32 L108.61 67.51 L109.79 67.69 L110.97 67.88 L112.15 68.07 L113.34 68.25 L114.52 68.44 L115.71 68.63 L116.9 68.81 L118.08 69 L119.27 69.18 L120.46 69.36 L121.66 69.55 L122.85 69.73 L124.05 69.91 L125.25 70.09 L126.45 70.27 L127.66 70.45 L128.87 70.64 L130.09 70.82 L131.31 71.01 L132.53 71.21 L133.76 71.4 L134.98 71.6 L136.2 71.81 L137.42 72.02 L138.64 72.24 L139.86 72.46 L141.07 72.69 L142.29 72.93 L143.51 73.18 L144.72 73.43 L145.94 73.7 L147.16 73.97 L148.38 74.26 L149.6 74.55 L150.82 74.86 L152.05 75.18 L153.28 75.51 L154.51 75.86 L155.75 76.21 L156.99 76.58 L158.22 76.97 L159.45 77.36 L160.66 77.76 L161.85 78.18 L163.02 78.6 L164.18 79.04 L165.33 79.48 L166.47 79.93 L167.62 80.39 L168.77 80.85 L169.93 81.33 L171.1 81.81 L172.28 82.3 L173.46 82.8 L174.62 83.32 L175.75 83.87 L176.85 84.44 L177.92 85.05 L178.97 85.67 L180.01 86.32 L181.03 87 L182.04 87.7 L183.05 88.43 L184.04 89.17 L185 89.94 L185.93 90.73 L186.81 91.54 L187.63 92.37 L188.41 93.22 L189.16 94.08 L189.88 94.97 L190.59 95.87 L191.29 96.8 L191.98 97.74 L192.65 98.7 L193.3 99.68 L193.93 100.67 L194.57 101.69 L195.19 102.72 L195.73 103.77 L196.23 104.84 L196.72 105.92 L197.2 106.99 L197.71 108.06 L198.22 109.12 L198.72 110.18 L199.21 111.24 L199.59 112.3 L199.88 113.38 L200.1 114.45 L200.3 115.53 L200.52 116.62 L200.78 117.71 L201.04 118.8 L201.3 119.9 L201.55 121.01 L201.8 122.11 L202.04 123.22 L202.27 124.34 L202.49 125.45 L202.71 126.57 L202.92 127.7 L203.14 128.83 L203.35 129.95 L203.57 131.09 L203.78 132.22 L203.98 133.36 L204.17 134.5 L204.33 135.64 L204.48 136.78 L204.62 137.92 L204.74 139.07 L204.85 140.22 L204.95 141.37 L205.04 142.52 L205.12 143.67 L205.19 144.82 L205.26 145.97 L205.32 147.12 L205.39 148.28 L205.45 149.43 L205.51 150.58 L205.57 151.74 L205.63 152.89 L205.68 154.04 L205.72 155.19 L205.76 156.35 L205.8 157.5 L205.84 158.65 L205.88 159.8 L205.92 160.96 L205.96 162.11 L206 163.26 L206.05 164.42 L206.09 165.57 L206.14 166.72 L206.18 167.88 L206.22 169.03 L206.26 170.18 L206.3 171.34 L206.34 172.49 L206.38 173.64 L206.42 174.8 L206.46 175.95 L206.5 177.11 L206.55 178.26 L206.6 179.42 L206.66 180.57 L206.71 181.73 L206.76 182.88 L206.81 184.04 L206.85 185.2 L206.9 186.35 L206.94 187.51 L206.98 188.67 L207.02 189.82 L207.07 190.98 L207.11 192.14 L207.16 193.3 L207.21 194.46 L207.26 195.62 L207.31 196.78 L207.35 197.94 L207.4 199.1 L207.43 200.26 L207.47 201.42 L207.49 202.59 L207.52 203.75 L207.54 204.91 L207.56 206.08 L207.57 207.24 L207.58 208.4" fill="none" stroke="#c2b369" stroke-width="2.1" stroke-linecap="butt"/>
<path d="M41 17.9 L41.04 19.04 L41.08 20.19 L41.12 21.34 L41.15 22.5 L41.19 23.66 L41.24 24.83 L41.28 26 L41.33 27.17 L41.38 28.34 L41.43 29.51 L41.49 30.69 L41.56 31.85 L41.63 33.02 L41.71 34.18 L41.79 35.34 L41.89 36.49 L41.99 37.63 L42.1 38.76 L42.22 39.89 L42.35 41.02 L42.49 42.15 L42.64 43.28 L42.8 44.43 L42.98 45.59 L43.16 46.76 L43.36 47.96 L43.58 49.16 L43.85 50.35 L44.18 51.5 L44.58 52.6 L45.08 53.62 L45.69 54.55 L46.43 55.37 L47.31 56.06 L48.29 56.64 L49.34 57.16 L50.42 57.62 L51.5 58.06 L52.6 58.47 L53.71 58.85 L54.84 59.21 L55.97 59.55 L57.1 59.86 L58.25 60.16 L59.39 60.44 L60.54 60.69 L61.7 60.93 L62.85 61.16 L64.01 61.37 L65.17 61.57 L66.33 61.75 L67.5 61.93 L68.66 62.09 L69.83 62.25 L70.99 62.4 L72.16 62.54 L73.33 62.68 L74.5 62.81 L75.68 62.94 L76.85 63.08 L78.02 63.21 L79.19 63.34 L80.36 63.47 L81.54 63.61 L82.71 63.75 L83.88 63.9 L85.05 64.05 L86.23 64.2 L87.4 64.36 L88.57 64.51 L89.74 64.67 L90.92 64.84 L92.09 65 L93.26 65.17 L94.43 65.34 L95.61 65.51 L96.78 65.69 L97.95 65.87 L99.12 66.04 L100.3 66.22 L101.47 66.4 L102.64 66.58 L103.82 66.77 L104.99 66.95 L106.17 67.14 L107.34 67.32 L108.52 67.51 L109.7 67.69 L110.88 67.88 L112.05 68.07 L113.23 68.25 L114.42 68.44 L115.6 68.63 L116.78 68.81 L117.97 69 L119.15 69.18 L120.34 69.36 L121.53 69.55 L122.72 69.73 L123.91 69.91 L125.1 70.09 L126.3 70.27 L127.51 70.45 L128.72 70.64 L129.93 70.82 L131.14 71.01 L132.36 71.21 L133.58 71.4 L134.79 71.6 L136.01 71.81 L137.22 72.02 L138.43 72.24 L139.64 72.46 L140.85 72.69 L142.06 72.93 L143.27 73.18 L144.48 73.43 L145.69 73.7 L146.9 73.97 L148.11 74.26 L149.33 74.55 L150.54 74.86 L151.76 75.18 L152.98 75.51 L154.2 75.86 L155.43 76.21 L156.66 76.58 L157.88 76.97 L159.09 77.36 L160.29 77.76 L161.47 78.18 L162.64 78.6 L163.79 79.04 L164.93 79.48 L166.07 79.93 L167.21 80.39 L168.35 80.85 L169.51 81.33 L170.67 81.81 L171.84 82.3 L173 82.8 L174.15 83.32 L175.27 83.87 L176.36 84.44 L177.43 85.05 L178.48 85.67 L179.51 86.32 L180.52 87 L181.53 87.7 L182.53 88.43 L183.51 89.17 L184.46 89.94 L185.39 90.73 L186.27 91.54 L187.09 92.37 L187.87 93.22 L188.62 94.08 L189.34 94.97 L190.05 95.87 L190.75 96.8 L191.44 97.74 L192.11 98.7 L192.75 99.68 L193.38 100.67 L194.02 101.69 L194.62 102.72 L195.16 103.77 L195.66 104.84 L196.14 105.92 L196.63 106.99 L197.13 108.06 L197.63 109.12 L198.14 110.18 L198.62 111.24 L199.02 112.3 L199.31 113.38 L199.55 114.45 L199.77 115.53 L200.01 116.62 L200.28 117.71 L200.55 118.8 L200.82 119.9 L201.08 121.01 L201.33 122.11 L201.58 123.22 L201.82 124.34 L202.05 125.45 L202.27 126.57 L202.49 127.7 L202.71 128.83 L202.93 129.95 L203.14 131.09 L203.36 132.22 L203.56 133.36 L203.75 134.5 L203.92 135.64 L204.08 136.78 L204.22 137.92 L204.34 139.07 L204.46 140.22 L204.56 141.37 L204.66 142.52 L204.75 143.67 L204.83 144.82 L204.91 145.97 L204.98 147.12 L205.05 148.28 L205.12 149.43 L205.2 150.58 L205.26 151.74 L205.32 152.89 L205.38 154.04 L205.44 155.19 L205.49 156.35 L205.54 157.5 L205.58 158.65 L205.63 159.8 L205.68 160.96 L205.73 162.11 L205.78 163.26 L205.83 164.42 L205.88 165.57 L205.93 166.72 L205.98 167.88 L206.03 169.03 L206.08 170.18 L206.12 171.34 L206.17 172.49 L206.21 173.64 L206.26 174.8 L206.31 175.95 L206.36 177.11 L206.41 178.26 L206.46 179.42 L206.52 180.57 L206.58 181.73 L206.63 182.88 L206.68 184.04 L206.73 185.2 L206.77 186.35 L206.82 187.51 L206.87 188.67 L206.91 189.82 L206.96 190.98 L207 192.14 L207.05 193.3 L207.1 194.46 L207.15 195.62 L207.2 196.78 L207.25 197.94 L207.29 199.1 L207.32 200.26 L207.36 201.42 L207.39 202.59 L207.41 203.75 L207.43 204.91 L207.45 206.08 L207.46 207.24 L207.47 208.4" fill="none" stroke="#a19975" stroke-width="2.1" stroke-linecap="butt"/>
<path d="M41 17.9 L41.04 19.04 L41.08 20.19 L41.12 21.34 L41.15 22.5 L41.19 23.66 L41.24 24.83 L41.28 26 L41.33 27.17 L41.38 28.34 L41.43 29.51 L41.49 30.69 L41.56 31.85 L41.63 33.02 L41.71 34.18 L41.79 35.34 L41.89 36.49 L41.99 37.63 L42.1 38.76 L42.22 39.89 L42.35 41.02 L42.49 42.15 L42.64 43.28 L42.8 44.43 L42.98 45.59 L43.16 46.76 L43.36 47.96 L43.58 49.16 L43.85 50.35 L44.18 51.5 L44.58 52.6 L45.08 53.62 L45.69 54.55 L46.43 55.37 L47.31 56.06 L48.29 56.64 L49.34 57.16 L50.42 57.62 L51.5 58.06 L52.6 58.47 L53.71 58.85 L54.83 59.21 L55.96 59.55 L57.1 59.86 L58.24 60.16 L59.38 60.44 L60.53 60.69 L61.68 60.93 L62.84 61.16 L63.99 61.37 L65.15 61.57 L66.31 61.75 L67.47 61.93 L68.64 62.09 L69.8 62.25 L70.97 62.4 L72.13 62.54 L73.3 62.68 L74.47 62.81 L75.64 62.94 L76.81 63.08 L77.99 63.21 L79.16 63.34 L80.33 63.47 L81.5 63.61 L82.67 63.75 L83.84 63.9 L85.01 64.05 L86.18 64.2 L87.35 64.36 L88.52 64.51 L89.69 64.67 L90.86 64.84 L92.03 65 L93.2 65.17 L94.37 65.34 L95.54 65.51 L96.71 65.69 L97.88 65.87 L99.05 66.04 L100.23 66.22 L101.4 66.4 L102.57 66.58 L103.74 66.77 L104.91 66.95 L106.08 67.14 L107.26 67.32 L108.43 67.51 L109.6 67.69 L110.78 67.88 L111.95 68.07 L113.13 68.25 L114.31 68.44 L115.49 68.63 L116.67 68.81 L117.85 69 L119.03 69.18 L120.22 69.36 L121.4 69.55 L122.59 69.73 L123.77 69.91 L124.96 70.09 L126.16 70.27 L127.36 70.45 L128.56 70.64 L129.77 70.82 L130.98 71.01 L132.19 71.21 L133.4 71.4 L134.61 71.6 L135.82 71.81 L137.02 72.02 L138.23 72.24 L139.43 72.46 L140.63 72.69 L141.84 72.93 L143.04 73.18 L144.24 73.43 L145.44 73.7 L146.65 73.97 L147.85 74.26 L149.05 74.55 L150.26 74.86 L151.47 75.18 L152.68 75.51 L153.89 75.86 L155.11 76.21 L156.33 76.58 L157.54 76.97 L158.74 77.36 L159.93 77.76 L161.1 78.18 L162.26 78.6 L163.4 79.04 L164.54 79.48 L165.67 79.93 L166.81 80.39 L167.94 80.85 L169.08 81.33 L170.24 81.81 L171.39 82.3 L172.55 82.8 L173.69 83.32 L174.8 83.87 L175.88 84.44 L176.94 85.05 L177.98 85.67 L179.01 86.32 L180.02 87 L181.02 87.7 L182 88.43 L182.98 89.17 L183.93 89.94 L184.85 90.73 L185.72 91.54 L186.54 92.37 L187.32 93.22 L188.07 94.08 L188.8 94.97 L189.51 95.87 L190.21 96.8 L190.9 97.74 L191.56 98.7 L192.21 99.68 L192.83 100.67 L193.46 101.69 L194.06 102.72 L194.59 103.77 L195.09 104.84 L195.56 105.92 L196.05 106.99 L196.54 108.06 L197.05 109.12 L197.55 110.18 L198.04 111.24 L198.44 112.3 L198.75 113.38 L199.01 114.45 L199.25 115.53 L199.5 116.62 L199.78 117.71 L200.06 118.8 L200.33 119.9 L200.6 121.01 L200.86 122.11 L201.12 123.22 L201.36 124.34 L201.6 125.45 L201.83 126.57 L202.05 127.7 L202.28 128.83 L202.5 129.95 L202.72 131.09 L202.93 132.22 L203.14 133.36 L203.33 134.5 L203.51 135.64 L203.67 136.78 L203.81 137.92 L203.95 139.07 L204.07 140.22 L204.18 141.37 L204.29 142.52 L204.38 143.67 L204.47 144.82 L204.56 145.97 L204.64 147.12 L204.72 148.28 L204.8 149.43 L204.88 150.58 L204.95 151.74 L205.02 152.89 L205.09 154.04 L205.15 155.19 L205.21 156.35 L205.27 157.5 L205.32 158.65 L205.38 159.8 L205.44 160.96 L205.49 162.11 L205.55 163.26 L205.61 164.42 L205.67 165.57 L205.73 166.72 L205.78 167.88 L205.84 169.03 L205.89 170.18 L205.94 171.34 L206 172.49 L206.05 173.64 L206.1 174.8 L206.15 175.95 L206.21 177.11 L206.26 178.26 L206.32 179.42 L206.38 180.57 L206.44 181.73 L206.5 182.88 L206.55 184.04 L206.6 185.2 L206.65 186.35 L206.7 187.51 L206.75 188.67 L206.8 189.82 L206.85 190.98 L206.89 192.14 L206.94 193.3 L206.99 194.46 L207.05 195.62 L207.09 196.78 L207.14 197.94 L207.18 199.1 L207.22 200.26 L207.25 201.42 L207.28 202.59 L207.3 203.75 L207.33 204.91 L207.34 206.08 L207.35 207.24 L207.36 208.4" fill="none" stroke="#938e78" stroke-width="2.1" stroke-linecap="butt"/>
<path d="M41 17.9 L41.04 19.04 L41.08 20.19 L41.12 21.34 L41.15 22.5 L41.19 23.66 L41.24 24.83 L41.28 26 L41.33 27.17 L41.38 28.34 L41.43 29.51 L41.49 30.69 L41.56 31.85 L41.63 33.02 L41.71 34.18 L41.79 35.34 L41.89 36.49 L41.99 37.63 L42.1 38.76 L42.22 39.89 L42.35 41.02 L42.49 42.15 L42.64 43.28 L42.8 44.43 L42.98 45.59 L43.16 46.76 L43.36 47.96 L43.58 49.16 L43.85 50.35 L44.18 51.5 L44.58 52.6 L45.08 53.62 L45.69 54.55 L46.43 55.37 L47.31 56.06 L48.29 56.64 L49.34 57.16 L50.42 57.62 L51.5 58.06 L52.6 58.47 L53.71 58.85 L54.83 59.21 L55.96 59.55 L57.09 59.86 L58.23 60.16 L59.37 60.44 L60.52 60.69 L61.67 60.93 L62.82 61.16 L63.97 61.37 L65.13 61.57 L66.29 61.75 L67.45 61.93 L68.61 62.09 L69.78 62.25 L70.94 62.4 L72.11 62.54 L73.27 62.68 L74.44 62.81 L75.61 62.94 L76.78 63.08 L77.95 63.21 L79.12 63.34 L80.29 63.47 L81.46 63.61 L82.63 63.75 L83.8 63.9 L84.97 64.05 L86.14 64.2 L87.3 64.36 L88.47 64.51 L89.64 64.67 L90.81 64.84 L91.98 65 L93.14 65.17 L94.31 65.34 L95.48 65.51 L96.65 65.69 L97.82 65.87 L98.98 66.04 L100.15 66.22 L101.32 66.4 L102.49 66.58 L103.66 66.77 L104.83 66.95 L106 67.14 L107.17 67.32 L108.34 67.51 L109.51 67.69 L110.68 67.88 L111.85 68.07 L113.03 68.25 L114.2 68.44 L115.38 68.63 L116.55 68.81 L117.73 69 L118.91 69.18 L120.09 69.36 L121.27 69.55 L122.45 69.73 L123.64 69.91 L124.82 70.09 L126.01 70.27 L127.21 70.45 L128.4 70.64 L129.61 70.82 L130.81 71.01 L132.01 71.21 L133.22 71.4 L134.42 71.6 L135.62 71.81 L136.82 72.02 L138.02 72.24 L139.22 72.46 L140.41 72.69 L141.61 72.93 L142.8 73.18 L144 73.43 L145.2 73.7 L146.39 73.97 L147.59 74.26 L148.78 74.55 L149.98 74.86 L151.18 75.18 L152.38 75.51 L153.58 75.86 L154.79 76.21 L155.99 76.58 L157.19 76.97 L158.39 77.36 L159.56 77.76 L160.73 78.18 L161.88 78.6 L163.02 79.04 L164.15 79.48 L165.28 79.93 L166.4 80.39 L167.53 80.85 L168.66 81.33 L169.81 81.81 L170.95 82.3 L172.09 82.8 L173.22 83.32 L174.32 83.87 L175.4 84.44 L176.45 85.05 L177.49 85.67 L178.51 86.32 L179.51 87 L180.5 87.7 L181.48 88.43 L182.45 89.17 L183.39 89.94 L184.3 90.73 L185.17 91.54 L186 92.37 L186.78 93.22 L187.53 94.08 L188.26 94.97 L188.97 95.87 L189.68 96.8 L190.36 97.74 L191.02 98.7 L191.66 99.68 L192.28 100.67 L192.9 101.69 L193.49 102.72 L194.02 103.77 L194.51 104.84 L194.99 105.92 L195.47 106.99 L195.96 108.06 L196.47 109.12 L196.97 110.18 L197.45 111.24 L197.86 112.3 L198.19 113.38 L198.46 114.45 L198.72 115.53 L198.98 116.62 L199.28 117.71 L199.57 118.8 L199.85 119.9 L200.13 121.01 L200.4 122.11 L200.66 123.22 L200.91 124.34 L201.15 125.45 L201.39 126.57 L201.62 127.7 L201.84 128.83 L202.07 129.95 L202.29 131.09 L202.51 132.22 L202.72 133.36 L202.91 134.5 L203.09 135.64 L203.26 136.78 L203.41 137.92 L203.55 139.07 L203.68 140.22 L203.8 141.37 L203.91 142.52 L204.01 143.67 L204.11 144.82 L204.2 145.97 L204.29 147.12 L204.38 148.28 L204.47 149.43 L204.56 150.58 L204.64 151.74 L204.72 152.89 L204.79 154.04 L204.86 155.19 L204.93 156.35 L205 157.5 L205.06 158.65 L205.13 159.8 L205.19 160.96 L205.26 162.11 L205.32 163.26 L205.39 164.42 L205.46 165.57 L205.52 166.72 L205.59 167.88 L205.65 169.03 L205.71 170.18 L205.77 171.34 L205.82 172.49 L205.88 173.64 L205.94 174.8 L206 175.95 L206.06 177.11 L206.12 178.26 L206.18 179.42 L206.25 180.57 L206.31 181.73 L206.37 182.88 L206.43 184.04 L206.48 185.2 L206.53 186.35 L206.59 187.51 L206.64 188.67 L206.69 189.82 L206.74 190.98 L206.79 192.14 L206.84 193.3 L206.89 194.46 L206.94 195.62 L206.99 196.78 L207.03 197.94 L207.07 199.1 L207.11 200.26 L207.14 201.42 L207.17 202.59 L207.2 203.75 L207.22 204.91 L207.23 206.08 L207.25 207.24 L207.25 208.4" fill="none" stroke="#858279" stroke-width="2.1" stroke-linecap="butt"/>
<path d="M41 17.9 L41.04 19.04 L41.08 20.19 L41.12 21.34 L41.15 22.5 L41.19 23.66 L41.24 24.83 L41.28 26 L41.33 27.17 L41.38 28.34 L41.43 29.51 L41.49 30.69 L41.56 31.85 L41.63 33.02 L41.71 34.18 L41.79 35.34 L41.89 36.49 L41.99 37.63 L42.1 38.76 L42.22 39.89 L42.35 41.02 L42.49 42.15 L42.64 43.28 L42.8 44.43 L42.98 45.59 L43.16 46.76 L43.36 47.96 L43.58 49.16 L43.85 50.35 L44.18 51.5 L44.58 52.6 L45.08 53.62 L45.69 54.55 L46.43 55.37 L47.31 56.06 L48.29 56.64 L49.34 57.16 L50.42 57.62 L51.5 58.06 L52.6 58.47 L53.71 58.85 L54.83 59.21 L55.95 59.55 L57.08 59.86 L58.22 60.16 L59.36 60.44 L60.5 60.69 L61.65 60.93 L62.8 61.16 L63.96 61.37 L65.11 61.57 L66.27 61.75 L67.43 61.93 L68.59 62.09 L69.75 62.25 L70.91 62.4 L72.08 62.54 L73.25 62.68 L74.41 62.81 L75.58 62.94 L76.75 63.08 L77.92 63.21 L79.09 63.34 L80.25 63.47 L81.42 63.61 L82.59 63.75 L83.76 63.9 L84.92 64.05 L86.09 64.2 L87.26 64.36 L88.42 64.51 L89.59 64.67 L90.75 64.84 L91.92 65 L93.09 65.17 L94.25 65.34 L95.42 65.51 L96.58 65.69 L97.75 65.87 L98.91 66.04 L100.08 66.22 L101.25 66.4 L102.41 66.58 L103.58 66.77 L104.74 66.95 L105.91 67.14 L107.08 67.32 L108.25 67.51 L109.41 67.69 L110.58 67.88 L111.75 68.07 L112.92 68.25 L114.09 68.44 L115.27 68.63 L116.44 68.81 L117.61 69 L118.79 69.18 L119.97 69.36 L121.14 69.55 L122.32 69.73 L123.5 69.91 L124.68 70.09 L125.87 70.27 L127.06 70.45 L128.25 70.64 L129.44 70.82 L130.64 71.01 L131.84 71.21 L133.03 71.4 L134.23 71.6 L135.43 71.81 L136.62 72.02 L137.81 72.24 L139 72.46 L140.19 72.69 L141.38 72.93 L142.57 73.18 L143.76 73.43 L144.95 73.7 L146.14 73.97 L147.32 74.26 L148.51 74.55 L149.7 74.86 L150.89 75.18 L152.08 75.51 L153.27 75.86 L154.47 76.21 L155.66 76.58 L156.85 76.97 L158.03 77.36 L159.2 77.76 L160.36 78.18 L161.5 78.6 L162.63 79.04 L163.76 79.48 L164.88 79.93 L165.99 80.39 L167.11 80.85 L168.24 81.33 L169.37 81.81 L170.51 82.3 L171.64 82.8 L172.75 83.32 L173.85 83.87 L174.92 84.44 L175.96 85.05 L176.99 85.67 L178 86.32 L179 87 L179.99 87.7 L180.96 88.43 L181.92 89.17 L182.86 89.94 L183.76 90.73 L184.63 91.54 L185.45 92.37 L186.24 93.22 L186.99 94.08 L187.72 94.97 L188.44 95.87 L189.14 96.8 L189.82 97.74 L190.48 98.7 L191.11 99.68 L191.73 100.67 L192.34 101.69 L192.93 102.72 L193.45 103.77 L193.94 104.84 L194.41 105.92 L194.89 106.99 L195.38 108.06 L195.88 109.12 L196.39 110.18 L196.87 111.24 L197.28 112.3 L197.62 113.38 L197.92 114.45 L198.19 115.53 L198.47 116.62 L198.78 117.71 L199.08 118.8 L199.37 119.9 L199.65 121.01 L199.93 122.11 L200.2 123.22 L200.46 124.34 L200.7 125.45 L200.95 126.57 L201.18 127.7 L201.41 128.83 L201.64 129.95 L201.87 131.09 L202.09 132.22 L202.3 133.36 L202.5 134.5 L202.68 135.64 L202.85 136.78 L203.01 137.92 L203.15 139.07 L203.29 140.22 L203.42 141.37 L203.53 142.52 L203.65 143.67 L203.75 144.82 L203.85 145.97 L203.95 147.12 L204.05 148.28 L204.14 149.43 L204.24 150.58 L204.33 151.74 L204.42 152.89 L204.5 154.04 L204.58 155.19 L204.66 156.35 L204.73 157.5 L204.81 158.65 L204.88 159.8 L204.95 160.96 L205.02 162.11 L205.1 163.26 L205.17 164.42 L205.25 165.57 L205.32 166.72 L205.39 167.88 L205.46 169.03 L205.52 170.18 L205.59 171.34 L205.65 172.49 L205.72 173.64 L205.78 174.8 L205.85 175.95 L205.91 177.11 L205.98 178.26 L206.04 179.42 L206.11 180.57 L206.18 181.73 L206.24 182.88 L206.3 184.04 L206.36 185.2 L206.41 186.35 L206.47 187.51 L206.52 188.67 L206.57 189.82 L206.62 190.98 L206.68 192.14 L206.73 193.3 L206.78 194.46 L206.83 195.62 L206.88 196.78 L206.92 197.94 L206.96 199.1 L207 200.26 L207.03 201.42 L207.06 202.59 L207.09 203.75 L207.11 204.91 L207.13 206.08 L207.14 207.24 L207.15 208.4" fill="none" stroke="#787877" stroke-width="2.1" stroke-linecap="butt"/>
<path d="M41 17.9 L41.04 19.04 L41.08 20.19 L41.12 21.34 L41.15 22.5 L41.19 23.66 L41.24 24.83 L41.28 26 L41.33 27.17 L41.38 28.34 L41.43 29.51 L41.49 30.69 L41.56 31.85 L41.63 33.02 L41.71 34.18 L41.79 35.34 L41.89 36.49 L41.99 37.63 L42.1 38.76 L42.22 39.89 L42.35 41.02 L42.49 42.15 L42.64 43.28 L42.8 44.43 L42.98 45.59 L43.16 46.76 L43.36 47.96 L43.58 49.16 L43.85 50.35 L44.18 51.5 L44.58 52.6 L45.08 53.62 L45.69 54.55 L46.43 55.37 L47.31 56.06 L48.29 56.64 L49.34 57.16 L50.42 57.62 L51.5 58.06 L52.6 58.47 L53.71 58.85 L54.82 59.21 L55.95 59.55 L57.08 59.86 L58.21 60.16 L59.35 60.44 L60.49 60.69 L61.64 60.93 L62.79 61.16 L63.94 61.37 L65.09 61.57 L66.25 61.75 L67.41 61.93 L68.56 62.09 L69.73 62.25 L70.89 62.4 L72.05 62.54 L73.22 62.68 L74.38 62.81 L75.55 62.94 L76.72 63.08 L77.88 63.21 L79.05 63.34 L80.22 63.47 L81.38 63.61 L82.55 63.75 L83.71 63.9 L84.88 64.05 L86.04 64.2 L87.21 64.36 L88.37 64.51 L89.54 64.67 L90.7 64.84 L91.87 65 L93.03 65.17 L94.19 65.34 L95.36 65.51 L96.52 65.69 L97.68 65.87 L98.85 66.04 L100.01 66.22 L101.17 66.4 L102.33 66.58 L103.5 66.77 L104.66 66.95 L105.83 67.14 L106.99 67.32 L108.15 67.51 L109.32 67.69 L110.49 67.88 L111.65 68.07 L112.82 68.25 L113.99 68.44 L115.16 68.63 L116.33 68.81 L117.5 69 L118.67 69.18 L119.84 69.36 L121.01 69.55 L122.19 69.73 L123.37 69.91 L124.54 70.09 L125.72 70.27 L126.91 70.45 L128.09 70.64 L129.28 70.82 L130.47 71.01 L131.66 71.21 L132.85 71.4 L134.04 71.6 L135.23 71.81 L136.42 72.02 L137.6 72.24 L138.79 72.46 L139.97 72.69 L141.15 72.93 L142.34 73.18 L143.52 73.43 L144.7 73.7 L145.88 73.97 L147.06 74.26 L148.24 74.55 L149.42 74.86 L150.6 75.18 L151.78 75.51 L152.96 75.86 L154.15 76.21 L155.33 76.58 L156.51 76.97 L157.68 77.36 L158.84 77.76 L159.98 78.18 L161.12 78.6 L162.24 79.04 L163.36 79.48 L164.48 79.93 L165.59 80.39 L166.7 80.85 L167.82 81.33 L168.94 81.81 L170.07 82.3 L171.18 82.8 L172.29 83.32 L173.37 83.87 L174.43 84.44 L175.47 85.05 L176.5 85.67 L177.5 86.32 L178.49 87 L179.47 87.7 L180.44 88.43 L181.39 89.17 L182.32 89.94 L183.22 90.73 L184.08 91.54 L184.9 92.37 L185.69 93.22 L186.45 94.08 L187.18 94.97 L187.9 95.87 L188.6 96.8 L189.28 97.74 L189.94 98.7 L190.57 99.68 L191.18 100.67 L191.79 101.69 L192.36 102.72 L192.88 103.77 L193.37 104.84 L193.83 105.92 L194.31 106.99 L194.8 108.06 L195.3 109.12 L195.8 110.18 L196.29 111.24 L196.71 112.3 L197.06 113.38 L197.37 114.45 L197.66 115.53 L197.96 116.62 L198.28 117.71 L198.59 118.8 L198.89 119.9 L199.18 121.01 L199.46 122.11 L199.74 123.22 L200 124.34 L200.26 125.45 L200.5 126.57 L200.75 127.7 L200.98 128.83 L201.21 129.95 L201.44 131.09 L201.67 132.22 L201.88 133.36 L202.08 134.5 L202.27 135.64 L202.44 136.78 L202.61 137.92 L202.76 139.07 L202.9 140.22 L203.03 141.37 L203.16 142.52 L203.28 143.67 L203.39 144.82 L203.5 145.97 L203.61 147.12 L203.71 148.28 L203.82 149.43 L203.92 150.58 L204.02 151.74 L204.11 152.89 L204.2 154.04 L204.29 155.19 L204.38 156.35 L204.46 157.5 L204.55 158.65 L204.63 159.8 L204.71 160.96 L204.79 162.11 L204.87 163.26 L204.95 164.42 L205.03 165.57 L205.11 166.72 L205.19 167.88 L205.27 169.03 L205.34 170.18 L205.41 171.34 L205.48 172.49 L205.55 173.64 L205.62 174.8 L205.69 175.95 L205.76 177.11 L205.83 178.26 L205.9 179.42 L205.97 180.57 L206.04 181.73 L206.11 182.88 L206.17 184.04 L206.23 185.2 L206.29 186.35 L206.35 187.51 L206.41 188.67 L206.46 189.82 L206.51 190.98 L206.57 192.14 L206.62 193.3 L206.67 194.46 L206.72 195.62 L206.77 196.78 L206.82 197.94 L206.86 199.1 L206.89 200.26 L206.93 201.42 L206.96 202.59 L206.98 203.75 L207 204.91 L207.02 206.08 L207.03 207.24 L207.04 208.4" fill="none" stroke="#6c6e72" stroke-width="2.1" stroke-linecap="butt"/>
<path d="M41 17.9 L41.04 19.04 L41.08 20.19 L41.12 21.34 L41.15 22.5 L41.19 23.66 L41.24 24.83 L41.28 26 L41.33 27.17 L41.38 28.34 L41.43 29.51 L41.49 30.69 L41.56 31.85 L41.63 33.02 L41.71 34.18 L41.79 35.34 L41.89 36.49 L41.99 37.63 L42.1 38.76 L42.22 39.89 L42.35 41.02 L42.49 42.15 L42.64 43.28 L42.8 44.43 L42.98 45.59 L43.16 46.76 L43.36 47.96 L43.58 49.16 L43.85 50.35 L44.18 51.5 L44.58 52.6 L45.08 53.62 L45.69 54.55 L46.43 55.37 L47.31 56.06 L48.29 56.64 L49.34 57.16 L50.42 57.62 L51.5 58.06 L52.6 58.47 L53.71 58.85 L54.82 59.21 L55.94 59.55 L57.07 59.86 L58.2 60.16 L59.34 60.44 L60.48 60.69 L61.62 60.93 L62.77 61.16 L63.92 61.37 L65.07 61.57 L66.23 61.75 L67.38 61.93 L68.54 62.09 L69.7 62.25 L70.86 62.4 L72.02 62.54 L73.19 62.68 L74.35 62.81 L75.52 62.94 L76.68 63.08 L77.85 63.21 L79.01 63.34 L80.18 63.47 L81.34 63.61 L82.51 63.75 L83.67 63.9 L84.84 64.05 L86 64.2 L87.16 64.36 L88.32 64.51 L89.49 64.67 L90.65 64.84 L91.81 65 L92.97 65.17 L94.13 65.34 L95.29 65.51 L96.45 65.69 L97.61 65.87 L98.78 66.04 L99.94 66.22 L101.1 66.4 L102.26 66.58 L103.42 66.77 L104.58 66.95 L105.74 67.14 L106.9 67.32 L108.06 67.51 L109.23 67.69 L110.39 67.88 L111.55 68.07 L112.72 68.25 L113.88 68.44 L115.05 68.63 L116.21 68.81 L117.38 69 L118.55 69.18 L119.72 69.36 L120.89 69.55 L122.06 69.73 L123.23 69.91 L124.4 70.09 L125.58 70.27 L126.76 70.45 L127.94 70.64 L129.12 70.82 L130.3 71.01 L131.49 71.21 L132.67 71.4 L133.86 71.6 L135.04 71.81 L136.22 72.02 L137.4 72.24 L138.58 72.46 L139.75 72.69 L140.93 72.93 L142.1 73.18 L143.28 73.43 L144.45 73.7 L145.62 73.97 L146.8 74.26 L147.97 74.55 L149.14 74.86 L150.31 75.18 L151.48 75.51 L152.65 75.86 L153.83 76.21 L155 76.58 L156.16 76.97 L157.32 77.36 L158.47 77.76 L159.61 78.18 L160.74 78.6 L161.86 79.04 L162.97 79.48 L164.08 79.93 L165.18 80.39 L166.29 80.85 L167.4 81.33 L168.51 81.81 L169.62 82.3 L170.73 82.8 L171.82 83.32 L172.9 83.87 L173.95 84.44 L174.98 85.05 L176 85.67 L177 86.32 L177.98 87 L178.96 87.7 L179.92 88.43 L180.86 89.17 L181.78 89.94 L182.68 90.73 L183.54 91.54 L184.36 92.37 L185.15 93.22 L185.91 94.08 L186.64 94.97 L187.36 95.87 L188.06 96.8 L188.74 97.74 L189.39 98.7 L190.02 99.68 L190.63 100.67 L191.23 101.69 L191.8 102.72 L192.31 103.77 L192.79 104.84 L193.26 105.92 L193.73 106.99 L194.22 108.06 L194.72 109.12 L195.22 110.18 L195.7 111.24 L196.13 112.3 L196.5 113.38 L196.83 114.45 L197.14 115.53 L197.45 116.62 L197.77 117.71 L198.09 118.8 L198.4 119.9 L198.7 121.01 L199 122.11 L199.28 123.22 L199.55 124.34 L199.81 125.45 L200.06 126.57 L200.31 127.7 L200.55 128.83 L200.79 129.95 L201.02 131.09 L201.24 132.22 L201.46 133.36 L201.66 134.5 L201.86 135.64 L202.04 136.78 L202.2 137.92 L202.36 139.07 L202.51 140.22 L202.65 141.37 L202.78 142.52 L202.91 143.67 L203.03 144.82 L203.15 145.97 L203.27 147.12 L203.38 148.28 L203.49 149.43 L203.6 150.58 L203.71 151.74 L203.81 152.89 L203.91 154.04 L204.01 155.19 L204.1 156.35 L204.2 157.5 L204.29 158.65 L204.38 159.8 L204.47 160.96 L204.55 162.11 L204.64 163.26 L204.73 164.42 L204.82 165.57 L204.91 166.72 L204.99 167.88 L205.07 169.03 L205.15 170.18 L205.23 171.34 L205.31 172.49 L205.39 173.64 L205.46 174.8 L205.54 175.95 L205.61 177.11 L205.69 178.26 L205.76 179.42 L205.84 180.57 L205.91 181.73 L205.98 182.88 L206.05 184.04 L206.11 185.2 L206.17 186.35 L206.23 187.51 L206.29 188.67 L206.35 189.82 L206.4 190.98 L206.46 192.14 L206.51 193.3 L206.56 194.46 L206.62 195.62 L206.66 196.78 L206.71 197.94 L206.75 199.1 L206.79 200.26 L206.82 201.42 L206.85 202.59 L206.87 203.75 L206.89 204.91 L206.91 206.08 L206.92 207.24 L206.93 208.4" fill="none" stroke="#60646f" stroke-width="2.1" stroke-linecap="butt"/>
<path d="M41 17.9 L41.04 19.04 L41.08 20.19 L41.12 21.34 L41.15 22.5 L41.19 23.66 L41.24 24.83 L41.28 26 L41.33 27.17 L41.38 28.34 L41.43 29.51 L41.49 30.69 L41.56 31.85 L41.63 33.02 L41.71 34.18 L41.79 35.34 L41.89 36.49 L41.99 37.63 L42.1 38.76 L42.22 39.89 L42.35 41.02 L42.49 42.15 L42.64 43.28 L42.8 44.43 L42.98 45.59 L43.16 46.76 L43.36 47.96 L43.58 49.16 L43.85 50.35 L44.18 51.5 L44.58 52.6 L45.08 53.62 L45.69 54.55 L46.43 55.37 L47.31 56.06 L48.29 56.64 L49.34 57.16 L50.42 57.62 L51.5 58.06 L52.6 58.47 L53.71 58.85 L54.82 59.21 L55.94 59.55 L57.06 59.86 L58.19 60.16 L59.33 60.44 L60.47 60.69 L61.61 60.93 L62.75 61.16 L63.9 61.37 L65.05 61.57 L66.21 61.75 L67.36 61.93 L68.52 62.09 L69.68 62.25 L70.84 62.4 L72 62.54 L73.16 62.68 L74.32 62.81 L75.49 62.94 L76.65 63.08 L77.81 63.21 L78.98 63.34 L80.14 63.47 L81.31 63.61 L82.47 63.75 L83.63 63.9 L84.79 64.05 L85.95 64.2 L87.11 64.36 L88.27 64.51 L89.43 64.67 L90.59 64.84 L91.75 65 L92.91 65.17 L94.07 65.34 L95.23 65.51 L96.39 65.69 L97.55 65.87 L98.71 66.04 L99.86 66.22 L101.02 66.4 L102.18 66.58 L103.34 66.77 L104.5 66.95 L105.65 67.14 L106.81 67.32 L107.97 67.51 L109.13 67.69 L110.29 67.88 L111.45 68.07 L112.61 68.25 L113.77 68.44 L114.94 68.63 L116.1 68.81 L117.26 69 L118.43 69.18 L119.59 69.36 L120.76 69.55 L121.92 69.73 L123.09 69.91 L124.26 70.09 L125.43 70.27 L126.61 70.45 L127.78 70.64 L128.96 70.82 L130.14 71.01 L131.31 71.21 L132.49 71.4 L133.67 71.6 L134.84 71.81 L136.02 72.02 L137.19 72.24 L138.36 72.46 L139.53 72.69 L140.7 72.93 L141.87 73.18 L143.04 73.43 L144.2 73.7 L145.37 73.97 L146.53 74.26 L147.69 74.55 L148.86 74.86 L150.02 75.18 L151.18 75.51 L152.34 75.86 L153.5 76.21 L154.66 76.58 L155.82 76.97 L156.97 77.36 L158.11 77.76 L159.24 78.18 L160.36 78.6 L161.47 79.04 L162.58 79.48 L163.68 79.93 L164.78 80.39 L165.88 80.85 L166.98 81.33 L168.08 81.81 L169.18 82.3 L170.27 82.8 L171.36 83.32 L172.42 83.87 L173.47 84.44 L174.49 85.05 L175.5 85.67 L176.5 86.32 L177.48 87 L178.44 87.7 L179.4 88.43 L180.33 89.17 L181.25 89.94 L182.14 90.73 L182.99 91.54 L183.81 92.37 L184.6 93.22 L185.36 94.08 L186.1 94.97 L186.82 95.87 L187.52 96.8 L188.2 97.74 L188.85 98.7 L189.48 99.68 L190.08 100.67 L190.67 101.69 L191.23 102.72 L191.74 103.77 L192.22 104.84 L192.68 105.92 L193.15 106.99 L193.64 108.06 L194.13 109.12 L194.63 110.18 L195.12 111.24 L195.55 112.3 L195.93 113.38 L196.28 114.45 L196.61 115.53 L196.94 116.62 L197.27 117.71 L197.6 118.8 L197.92 119.9 L198.23 121.01 L198.53 122.11 L198.82 123.22 L199.1 124.34 L199.36 125.45 L199.62 126.57 L199.87 127.7 L200.12 128.83 L200.36 129.95 L200.59 131.09 L200.82 132.22 L201.04 133.36 L201.25 134.5 L201.44 135.64 L201.63 136.78 L201.8 137.92 L201.96 139.07 L202.12 140.22 L202.27 141.37 L202.41 142.52 L202.54 143.67 L202.67 144.82 L202.8 145.97 L202.92 147.12 L203.04 148.28 L203.16 149.43 L203.28 150.58 L203.4 151.74 L203.51 152.89 L203.62 154.04 L203.72 155.19 L203.83 156.35 L203.93 157.5 L204.03 158.65 L204.13 159.8 L204.22 160.96 L204.32 162.11 L204.42 163.26 L204.51 164.42 L204.61 165.57 L204.7 166.72 L204.79 167.88 L204.88 169.03 L204.97 170.18 L205.06 171.34 L205.14 172.49 L205.22 173.64 L205.3 174.8 L205.38 175.95 L205.46 177.11 L205.54 178.26 L205.62 179.42 L205.7 180.57 L205.78 181.73 L205.85 182.88 L205.92 184.04 L205.99 185.2 L206.05 186.35 L206.12 187.51 L206.18 188.67 L206.23 189.82 L206.29 190.98 L206.35 192.14 L206.4 193.3 L206.46 194.46 L206.51 195.62 L206.56 196.78 L206.6 197.94 L206.64 199.1 L206.68 200.26 L206.71 201.42 L206.74 202.59 L206.77 203.75 L206.79 204.91 L206.8 206.08 L206.82 207.24 L206.82 208.4" fill="none" stroke="#545a6d" stroke-width="2.1" stroke-linecap="butt"/>
<path d="M41 17.9 L41.04 19.04 L41.08 20.19 L41.12 21.34 L41.15 22.5 L41.19 23.66 L41.24 24.83 L41.28 26 L41.33 27.17 L41.38 28.34 L41.43 29.51 L41.49 30.69 L41.56 31.85 L41.63 33.02 L41.71 34.18 L41.79 35.34 L41.89 36.49 L41.99 37.63 L42.1 38.76 L42.22 39.89 L42.35 41.02 L42.49 42.15 L42.64 43.28 L42.8 44.43 L42.98 45.59 L43.16 46.76 L43.36 47.96 L43.58 49.16 L43.85 50.35 L44.18 51.5 L44.58 52.6 L45.08 53.62 L45.69 54.55 L46.43 55.37 L47.31 56.06 L48.29 56.64 L49.34 57.16 L50.42 57.62 L51.5 58.06 L52.6 58.47 L53.7 58.85 L54.81 59.21 L55.93 59.55 L57.06 59.86 L58.18 60.16 L59.32 60.44 L60.45 60.69 L61.59 60.93 L62.74 61.16 L63.88 61.37 L65.03 61.57 L66.18 61.75 L67.34 61.93 L68.49 62.09 L69.65 62.25 L70.81 62.4 L71.97 62.54 L73.13 62.68 L74.29 62.81 L75.45 62.94 L76.62 63.08 L77.78 63.21 L78.94 63.34 L80.11 63.47 L81.27 63.61 L82.43 63.75 L83.59 63.9 L84.75 64.05 L85.91 64.2 L87.07 64.36 L88.23 64.51 L89.38 64.67 L90.54 64.84 L91.7 65 L92.85 65.17 L94.01 65.34 L95.17 65.51 L96.32 65.69 L97.48 65.87 L98.64 66.04 L99.79 66.22 L100.95 66.4 L102.1 66.58 L103.26 66.77 L104.41 66.95 L105.57 67.14 L106.72 67.32 L107.88 67.51 L109.04 67.69 L110.19 67.88 L111.35 68.07 L112.51 68.25 L113.67 68.44 L114.83 68.63 L115.98 68.81 L117.14 69 L118.31 69.18 L119.47 69.36 L120.63 69.55 L121.79 69.73 L122.96 69.91 L124.12 70.09 L125.29 70.27 L126.46 70.45 L127.63 70.64 L128.8 70.82 L129.97 71.01 L131.14 71.21 L132.31 71.4 L133.48 71.6 L134.65 71.81 L135.82 72.02 L136.98 72.24 L138.15 72.46 L139.31 72.69 L140.47 72.93 L141.64 73.18 L142.8 73.43 L143.95 73.7 L145.11 73.97 L146.27 74.26 L147.42 74.55 L148.58 74.86 L149.73 75.18 L150.88 75.51 L152.03 75.86 L153.18 76.21 L154.33 76.58 L155.47 76.97 L156.61 77.36 L157.74 77.76 L158.87 78.18 L159.98 78.6 L161.08 79.04 L162.18 79.48 L163.28 79.93 L164.37 80.39 L165.46 80.85 L166.55 81.33 L167.65 81.81 L168.74 82.3 L169.82 82.8 L170.89 83.32 L171.95 83.87 L172.98 84.44 L174 85.05 L175.01 85.67 L176 86.32 L176.97 87 L177.93 87.7 L178.87 88.43 L179.8 89.17 L180.71 89.94 L181.59 90.73 L182.45 91.54 L183.27 92.37 L184.06 93.22 L184.82 94.08 L185.56 94.97 L186.28 95.87 L186.98 96.8 L187.66 97.74 L188.31 98.7 L188.93 99.68 L189.53 100.67 L190.12 101.69 L190.67 102.72 L191.17 103.77 L191.64 104.84 L192.1 105.92 L192.57 106.99 L193.05 108.06 L193.55 109.12 L194.05 110.18 L194.53 111.24 L194.97 112.3 L195.37 113.38 L195.73 114.45 L196.08 115.53 L196.43 116.62 L196.77 117.71 L197.11 118.8 L197.44 119.9 L197.76 121.01 L198.06 122.11 L198.36 123.22 L198.64 124.34 L198.92 125.45 L199.18 126.57 L199.44 127.7 L199.69 128.83 L199.93 129.95 L200.17 131.09 L200.4 132.22 L200.62 133.36 L200.83 134.5 L201.03 135.64 L201.22 136.78 L201.4 137.92 L201.57 139.07 L201.73 140.22 L201.89 141.37 L202.03 142.52 L202.18 143.67 L202.32 144.82 L202.45 145.97 L202.58 147.12 L202.71 148.28 L202.84 149.43 L202.96 150.58 L203.08 151.74 L203.2 152.89 L203.32 154.04 L203.44 155.19 L203.55 156.35 L203.66 157.5 L203.77 158.65 L203.88 159.8 L203.98 160.96 L204.09 162.11 L204.19 163.26 L204.29 164.42 L204.4 165.57 L204.5 166.72 L204.6 167.88 L204.69 169.03 L204.79 170.18 L204.88 171.34 L204.97 172.49 L205.06 173.64 L205.14 174.8 L205.23 175.95 L205.31 177.11 L205.4 178.26 L205.48 179.42 L205.56 180.57 L205.64 181.73 L205.72 182.88 L205.79 184.04 L205.86 185.2 L205.93 186.35 L206 187.51 L206.06 188.67 L206.12 189.82 L206.18 190.98 L206.24 192.14 L206.29 193.3 L206.35 194.46 L206.4 195.62 L206.45 196.78 L206.49 197.94 L206.53 199.1 L206.57 200.26 L206.6 201.42 L206.63 202.59 L206.66 203.75 L206.68 204.91 L206.7 206.08 L206.71 207.24 L206.72 208.4" fill="none" stroke="#45506c" stroke-width="2.1" stroke-linecap="butt"/>
<path d="M41 17.9 L41.04 19.04 L41.08 20.19 L41.12 21.34 L41.15 22.5 L41.19 23.66 L41.24 24.83 L41.28 26 L41.33 27.17 L41.38 28.34 L41.43 29.51 L41.49 30.69 L41.56 31.85 L41.63 33.02 L41.71 34.18 L41.79 35.34 L41.89 36.49 L41.99 37.63 L42.1 38.76 L42.22 39.89 L42.35 41.02 L42.49 42.15 L42.64 43.28 L42.8 44.43 L42.98 45.59 L43.16 46.76 L43.36 47.96 L43.58 49.16 L43.85 50.35 L44.18 51.5 L44.58 52.6 L45.08 53.62 L45.69 54.55 L46.43 55.37 L47.31 56.06 L48.29 56.64 L49.34 57.16 L50.42 57.62 L51.5 58.06 L52.6 58.47 L53.7 58.85 L54.81 59.21 L55.93 59.55 L57.05 59.86 L58.17 60.16 L59.31 60.44 L60.44 60.69 L61.58 60.93 L62.72 61.16 L63.87 61.37 L65.01 61.57 L66.16 61.75 L67.32 61.93 L68.47 62.09 L69.63 62.25 L70.78 62.4 L71.94 62.54 L73.1 62.68 L74.26 62.81 L75.42 62.94 L76.58 63.08 L77.75 63.21 L78.91 63.34 L80.07 63.47 L81.23 63.61 L82.39 63.75 L83.55 63.9 L84.7 64.05 L85.86 64.2 L87.02 64.36 L88.18 64.51 L89.33 64.67 L90.49 64.84 L91.64 65 L92.8 65.17 L93.95 65.34 L95.11 65.51 L96.26 65.69 L97.41 65.87 L98.57 66.04 L99.72 66.22 L100.87 66.4 L102.02 66.58 L103.18 66.77 L104.33 66.95 L105.48 67.14 L106.64 67.32 L107.79 67.51 L108.94 67.69 L110.1 67.88 L111.25 68.07 L112.41 68.25 L113.56 68.44 L114.72 68.63 L115.87 68.81 L117.03 69 L118.18 69.18 L119.34 69.36 L120.5 69.55 L121.66 69.73 L122.82 69.91 L123.98 70.09 L125.14 70.27 L126.31 70.45 L127.47 70.64 L128.63 70.82 L129.8 71.01 L130.96 71.21 L132.13 71.4 L133.29 71.6 L134.46 71.81 L135.62 72.02 L136.78 72.24 L137.93 72.46 L139.09 72.69 L140.25 72.93 L141.4 73.18 L142.55 73.43 L143.71 73.7 L144.86 73.97 L146 74.26 L147.15 74.55 L148.29 74.86 L149.44 75.18 L150.58 75.51 L151.72 75.86 L152.86 76.21 L154 76.58 L155.13 76.97 L156.26 77.36 L157.38 77.76 L158.49 78.18 L159.6 78.6 L160.7 79.04 L161.79 79.48 L162.88 79.93 L163.97 80.39 L165.05 80.85 L166.13 81.33 L167.21 81.81 L168.29 82.3 L169.37 82.8 L170.43 83.32 L171.47 83.87 L172.5 84.44 L173.51 85.05 L174.51 85.67 L175.49 86.32 L176.46 87 L177.41 87.7 L178.35 88.43 L179.27 89.17 L180.17 89.94 L181.05 90.73 L181.9 91.54 L182.72 92.37 L183.51 93.22 L184.28 94.08 L185.02 94.97 L185.74 95.87 L186.44 96.8 L187.12 97.74 L187.77 98.7 L188.39 99.68 L188.98 100.67 L189.56 101.69 L190.1 102.72 L190.6 103.77 L191.07 104.84 L191.53 105.92 L191.99 106.99 L192.47 108.06 L192.97 109.12 L193.46 110.18 L193.95 111.24 L194.4 112.3 L194.81 113.38 L195.19 114.45 L195.55 115.53 L195.91 116.62 L196.27 117.71 L196.62 118.8 L196.96 119.9 L197.28 121.01 L197.59 122.11 L197.9 123.22 L198.19 124.34 L198.47 125.45 L198.74 126.57 L199 127.7 L199.26 128.83 L199.5 129.95 L199.74 131.09 L199.98 132.22 L200.2 133.36 L200.41 134.5 L200.62 135.64 L200.81 136.78 L201 137.92 L201.17 139.07 L201.34 140.22 L201.5 141.37 L201.66 142.52 L201.81 143.67 L201.96 144.82 L202.1 145.97 L202.24 147.12 L202.37 148.28 L202.51 149.43 L202.64 150.58 L202.77 151.74 L202.9 152.89 L203.03 154.04 L203.15 155.19 L203.27 156.35 L203.39 157.5 L203.51 158.65 L203.62 159.8 L203.74 160.96 L203.85 162.11 L203.96 163.26 L204.08 164.42 L204.19 165.57 L204.29 166.72 L204.4 167.88 L204.5 169.03 L204.6 170.18 L204.7 171.34 L204.8 172.49 L204.89 173.64 L204.98 174.8 L205.08 175.95 L205.17 177.11 L205.25 178.26 L205.34 179.42 L205.43 180.57 L205.51 181.73 L205.59 182.88 L205.67 184.04 L205.74 185.2 L205.81 186.35 L205.88 187.51 L205.95 188.67 L206.01 189.82 L206.07 190.98 L206.13 192.14 L206.19 193.3 L206.24 194.46 L206.29 195.62 L206.34 196.78 L206.39 197.94 L206.43 199.1 L206.46 200.26 L206.5 201.42 L206.53 202.59 L206.55 203.75 L206.57 204.91 L206.59 206.08 L206.6 207.24 L206.61 208.4" fill="none" stroke="#36466c" stroke-width="2.1" stroke-linecap="butt"/>
<path d="M41 17.9 L41.04 19.04 L41.08 20.19 L41.12 21.34 L41.15 22.5 L41.19 23.66 L41.24 24.83 L41.28 26 L41.33 27.17 L41.38 28.34 L41.43 29.51 L41.49 30.69 L41.56 31.85 L41.63 33.02 L41.71 34.18 L41.79 35.34 L41.89 36.49 L41.99 37.63 L42.1 38.76 L42.22 39.89 L42.35 41.02 L42.49 42.15 L42.64 43.28 L42.8 44.43 L42.98 45.59 L43.16 46.76 L43.36 47.96 L43.58 49.16 L43.85 50.35 L44.18 51.5 L44.58 52.6 L45.08 53.62 L45.69 54.55 L46.43 55.37 L47.31 56.06 L48.29 56.64 L49.34 57.16 L50.42 57.62 L51.5 58.06 L52.6 58.47 L53.7 58.85 L54.81 59.21 L55.92 59.55 L57.04 59.86 L58.17 60.16 L59.29 60.44 L60.43 60.69 L61.56 60.93 L62.7 61.16 L63.85 61.37 L64.99 61.57 L66.14 61.75 L67.29 61.93 L68.45 62.09 L69.6 62.25 L70.76 62.4 L71.91 62.54 L73.07 62.68 L74.23 62.81 L75.39 62.94 L76.55 63.08 L77.71 63.21 L78.87 63.34 L80.03 63.47 L81.19 63.61 L82.35 63.75 L83.5 63.9 L84.66 64.05 L85.82 64.2 L86.97 64.36 L88.13 64.51 L89.28 64.67 L90.43 64.84 L91.59 65 L92.74 65.17 L93.89 65.34 L95.04 65.51 L96.19 65.69 L97.35 65.87 L98.5 66.04 L99.65 66.22 L100.8 66.4 L101.95 66.58 L103.1 66.77 L104.25 66.95 L105.4 67.14 L106.55 67.32 L107.7 67.51 L108.85 67.69 L110 67.88 L111.15 68.07 L112.3 68.25 L113.45 68.44 L114.61 68.63 L115.76 68.81 L116.91 69 L118.06 69.18 L119.22 69.36 L120.37 69.55 L121.53 69.73 L122.68 69.91 L123.84 70.09 L125 70.27 L126.15 70.45 L127.31 70.64 L128.47 70.82 L129.63 71.01 L130.79 71.21 L131.95 71.4 L133.11 71.6 L134.26 71.81 L135.42 72.02 L136.57 72.24 L137.72 72.46 L138.87 72.69 L140.02 72.93 L141.17 73.18 L142.31 73.43 L143.46 73.7 L144.6 73.97 L145.74 74.26 L146.88 74.55 L148.01 74.86 L149.15 75.18 L150.28 75.51 L151.41 75.86 L152.54 76.21 L153.67 76.58 L154.79 76.97 L155.9 77.36 L157.02 77.76 L158.12 78.18 L159.22 78.6 L160.31 79.04 L161.4 79.48 L162.48 79.93 L163.56 80.39 L164.64 80.85 L165.71 81.33 L166.78 81.81 L167.85 82.3 L168.91 82.8 L169.96 83.32 L171 83.87 L172.02 84.44 L173.03 85.05 L174.02 85.67 L174.99 86.32 L175.95 87 L176.9 87.7 L177.83 88.43 L178.74 89.17 L179.64 89.94 L180.51 90.73 L181.36 91.54 L182.17 92.37 L182.97 93.22 L183.74 94.08 L184.48 94.97 L185.2 95.87 L185.9 96.8 L186.58 97.74 L187.22 98.7 L187.84 99.68 L188.43 100.67 L189 101.69 L189.54 102.72 L190.03 103.77 L190.5 104.84 L190.95 105.92 L191.41 106.99 L191.89 108.06 L192.38 109.12 L192.88 110.18 L193.36 111.24 L193.82 112.3 L194.24 113.38 L194.64 114.45 L195.03 115.53 L195.4 116.62 L195.77 117.71 L196.13 118.8 L196.47 119.9 L196.81 121.01 L197.13 122.11 L197.44 123.22 L197.73 124.34 L198.02 125.45 L198.3 126.57 L198.57 127.7 L198.82 128.83 L199.08 129.95 L199.32 131.09 L199.55 132.22 L199.78 133.36 L200 134.5 L200.2 135.64 L200.4 136.78 L200.59 137.92 L200.78 139.07 L200.95 140.22 L201.12 141.37 L201.28 142.52 L201.44 143.67 L201.6 144.82 L201.75 145.97 L201.89 147.12 L202.04 148.28 L202.18 149.43 L202.32 150.58 L202.46 151.74 L202.6 152.89 L202.73 154.04 L202.86 155.19 L202.99 156.35 L203.12 157.5 L203.25 158.65 L203.37 159.8 L203.5 160.96 L203.62 162.11 L203.74 163.26 L203.86 164.42 L203.97 165.57 L204.09 166.72 L204.2 167.88 L204.31 169.03 L204.42 170.18 L204.52 171.34 L204.63 172.49 L204.73 173.64 L204.83 174.8 L204.92 175.95 L205.02 177.11 L205.11 178.26 L205.2 179.42 L205.29 180.57 L205.38 181.73 L205.46 182.88 L205.54 184.04 L205.62 185.2 L205.69 186.35 L205.76 187.51 L205.83 188.67 L205.9 189.82 L205.96 190.98 L206.02 192.14 L206.08 193.3 L206.13 194.46 L206.18 195.62 L206.23 196.78 L206.28 197.94 L206.32 199.1 L206.36 200.26 L206.39 201.42 L206.42 202.59 L206.44 203.75 L206.46 204.91 L206.48 206.08 L206.49 207.24 L206.5 208.4" fill="none" stroke="#243c6e" stroke-width="2.1" stroke-linecap="butt"/>
<path d="M41 17.9 L41.04 19.04 L41.08 20.19 L41.12 21.34 L41.15 22.5 L41.19 23.66 L41.24 24.83 L41.28 26 L41.33 27.17 L41.38 28.34 L41.43 29.51 L41.49 30.69 L41.56 31.85 L41.63 33.02 L41.71 34.18 L41.79 35.34 L41.89 36.49 L41.99 37.63 L42.1 38.76 L42.22 39.89 L42.35 41.02 L42.49 42.15 L42.64 43.28 L42.8 44.43 L42.98 45.59 L43.16 46.76 L43.36 47.96 L43.58 49.16 L43.85 50.35 L44.18 51.5 L44.58 52.6 L45.08 53.62 L45.69 54.55 L46.43 55.37 L47.31 56.06 L48.29 56.64 L49.34 57.16 L50.42 57.62 L51.5 58.06 L52.6 58.47 L53.7 58.85 L54.81 59.21 L55.92 59.55 L57.04 59.86 L58.16 60.16 L59.28 60.44 L60.41 60.69 L61.55 60.93 L62.69 61.16 L63.83 61.37 L64.97 61.57 L66.12 61.75 L67.27 61.93 L68.42 62.09 L69.57 62.25 L70.73 62.4 L71.89 62.54 L73.04 62.68 L74.2 62.81 L75.36 62.94 L76.52 63.08 L77.68 63.21 L78.84 63.34 L79.99 63.47 L81.15 63.61 L82.31 63.75 L83.46 63.9 L84.62 64.05 L85.77 64.2 L86.92 64.36 L88.08 64.51 L89.23 64.67 L90.38 64.84 L91.53 65 L92.68 65.17 L93.83 65.34 L94.98 65.51 L96.13 65.69 L97.28 65.87 L98.43 66.04 L99.57 66.22 L100.72 66.4 L101.87 66.58 L103.02 66.77 L104.16 66.95 L105.31 67.14 L106.46 67.32 L107.61 67.51 L108.75 67.69 L109.9 67.88 L111.05 68.07 L112.2 68.25 L113.35 68.44 L114.49 68.63 L115.64 68.81 L116.79 69 L117.94 69.18 L119.09 69.36 L120.24 69.55 L121.4 69.73 L122.55 69.91 L123.7 70.09 L124.85 70.27 L126 70.45 L127.16 70.64 L128.31 70.82 L129.46 71.01 L130.62 71.21 L131.77 71.4 L132.92 71.6 L134.07 71.81 L135.22 72.02 L136.36 72.24 L137.51 72.46 L138.65 72.69 L139.79 72.93 L140.93 73.18 L142.07 73.43 L143.21 73.7 L144.34 73.97 L145.48 74.26 L146.61 74.55 L147.73 74.86 L148.86 75.18 L149.98 75.51 L151.1 75.86 L152.22 76.21 L153.33 76.58 L154.44 76.97 L155.55 77.36 L156.65 77.76 L157.75 78.18 L158.84 78.6 L159.92 79.04 L161.01 79.48 L162.08 79.93 L163.16 80.39 L164.22 80.85 L165.29 81.33 L166.35 81.81 L167.41 82.3 L168.46 82.8 L169.5 83.32 L170.52 83.87 L171.54 84.44 L172.54 85.05 L173.52 85.67 L174.49 86.32 L175.45 87 L176.39 87.7 L177.31 88.43 L178.21 89.17 L179.1 89.94 L179.97 90.73 L180.81 91.54 L181.63 92.37 L182.42 93.22 L183.2 94.08 L183.94 94.97 L184.67 95.87 L185.36 96.8 L186.04 97.74 L186.68 98.7 L187.3 99.68 L187.89 100.67 L188.44 101.69 L188.97 102.72 L189.46 103.77 L189.92 104.84 L190.37 105.92 L190.83 106.99 L191.31 108.06 L191.8 109.12 L192.29 110.18 L192.78 111.24 L193.24 112.3 L193.68 113.38 L194.1 114.45 L194.5 115.53 L194.89 116.62 L195.27 117.71 L195.64 118.8 L195.99 119.9 L196.33 121.01 L196.66 122.11 L196.98 123.22 L197.28 124.34 L197.57 125.45 L197.86 126.57 L198.13 127.7 L198.39 128.83 L198.65 129.95 L198.89 131.09 L199.13 132.22 L199.36 133.36 L199.58 134.5 L199.79 135.64 L199.99 136.78 L200.19 137.92 L200.38 139.07 L200.56 140.22 L200.74 141.37 L200.91 142.52 L201.08 143.67 L201.24 144.82 L201.4 145.97 L201.55 147.12 L201.7 148.28 L201.85 149.43 L202 150.58 L202.15 151.74 L202.3 152.89 L202.44 154.04 L202.58 155.19 L202.72 156.35 L202.86 157.5 L202.99 158.65 L203.12 159.8 L203.25 160.96 L203.38 162.11 L203.51 163.26 L203.64 164.42 L203.76 165.57 L203.88 166.72 L204 167.88 L204.12 169.03 L204.23 170.18 L204.34 171.34 L204.45 172.49 L204.56 173.64 L204.67 174.8 L204.77 175.95 L204.87 177.11 L204.97 178.26 L205.06 179.42 L205.15 180.57 L205.24 181.73 L205.33 182.88 L205.41 184.04 L205.49 185.2 L205.57 186.35 L205.65 187.51 L205.72 188.67 L205.78 189.82 L205.85 190.98 L205.91 192.14 L205.97 193.3 L206.02 194.46 L206.08 195.62 L206.13 196.78 L206.17 197.94 L206.21 199.1 L206.25 200.26 L206.28 201.42 L206.31 202.59 L206.34 203.75 L206.36 204.91 L206.37 206.08 L206.39 207.24 L206.39 208.4" fill="none" stroke="#053371" stroke-width="2.1" stroke-linecap="butt"/>
<path d="M41 17.9 L41.04 19.04 L41.08 20.19 L41.12 21.34 L41.15 22.5 L41.19 23.66 L41.24 24.83 L41.28 26 L41.33 27.17 L41.38 28.34 L41.43 29.51 L41.49 30.69 L41.56 31.85 L41.63 33.02 L41.71 34.18 L41.79 35.34 L41.89 36.49 L41.99 37.63 L42.1 38.76 L42.22 39.89 L42.35 41.02 L42.49 42.15 L42.64 43.28 L42.8 44.43 L42.98 45.59 L43.16 46.76 L43.36 47.96 L43.58 49.16 L43.85 50.35 L44.18 51.5 L44.58 52.6 L45.08 53.62 L45.69 54.55 L46.43 55.37 L47.31 56.06 L48.29 56.64 L49.34 57.16 L50.42 57.62 L51.5 58.06 L52.6 58.47 L53.7 58.85 L54.8 59.21 L55.91 59.55 L57.03 59.86 L58.15 60.16 L59.27 60.44 L60.4 60.69 L61.54 60.93 L62.67 61.16 L63.81 61.37 L64.95 61.57 L66.1 61.75 L67.25 61.93 L68.4 62.09 L69.55 62.25 L70.7 62.4 L71.86 62.54 L73.01 62.68 L74.17 62.81 L75.33 62.94 L76.49 63.08 L77.64 63.21 L78.8 63.34 L79.96 63.47 L81.11 63.61 L82.27 63.75 L83.42 63.9 L84.57 64.05 L85.73 64.2 L86.88 64.36 L88.03 64.51 L89.18 64.67 L90.33 64.84 L91.48 65 L92.62 65.17 L93.77 65.34 L94.92 65.51 L96.06 65.69 L97.21 65.87 L98.36 66.04 L99.5 66.22 L100.65 66.4 L101.79 66.58 L102.94 66.77 L104.08 66.95 L105.23 67.14 L106.37 67.32 L107.52 67.51 L108.66 67.69 L109.8 67.88 L110.95 68.07 L112.09 68.25 L113.24 68.44 L114.38 68.63 L115.53 68.81 L116.68 69 L117.82 69.18 L118.97 69.36 L120.12 69.55 L121.26 69.73 L122.41 69.91 L123.56 70.09 L124.71 70.27 L125.85 70.45 L127 70.64 L128.15 70.82 L129.3 71.01 L130.44 71.21 L131.59 71.4 L132.73 71.6 L133.87 71.81 L135.02 72.02 L136.16 72.24 L137.29 72.46 L138.43 72.69 L139.57 72.93 L140.7 73.18 L141.83 73.43 L142.96 73.7 L144.09 73.97 L145.21 74.26 L146.33 74.55 L147.45 74.86 L148.57 75.18 L149.68 75.51 L150.79 75.86 L151.9 76.21 L153 76.58 L154.1 76.97 L155.2 77.36 L156.29 77.76 L157.37 78.18 L158.46 78.6 L159.54 79.04 L160.61 79.48 L161.68 79.93 L162.75 80.39 L163.81 80.85 L164.87 81.33 L165.92 81.81 L166.96 82.3 L168 82.8 L169.03 83.32 L170.05 83.87 L171.05 84.44 L172.05 85.05 L173.03 85.67 L173.99 86.32 L174.94 87 L175.87 87.7 L176.79 88.43 L177.69 89.17 L178.56 89.94 L179.42 90.73 L180.26 91.54 L181.08 92.37 L181.88 93.22 L182.65 94.08 L183.4 94.97 L184.13 95.87 L184.83 96.8 L185.5 97.74 L186.14 98.7 L186.75 99.68 L187.34 100.67 L187.89 101.69 L188.41 102.72 L188.89 103.77 L189.35 104.84 L189.8 105.92 L190.25 106.99 L190.73 108.06 L191.22 109.12 L191.71 110.18 L192.2 111.24 L192.66 112.3 L193.12 113.38 L193.55 114.45 L193.97 115.53 L194.38 116.62 L194.77 117.71 L195.14 118.8 L195.51 119.9 L195.86 121.01 L196.19 122.11 L196.52 123.22 L196.83 124.34 L197.13 125.45 L197.42 126.57 L197.69 127.7 L197.96 128.83 L198.22 129.95 L198.47 131.09 L198.71 132.22 L198.94 133.36 L199.16 134.5 L199.38 135.64 L199.59 136.78 L199.79 137.92 L199.98 139.07 L200.17 140.22 L200.35 141.37 L200.53 142.52 L200.71 143.67 L200.88 144.82 L201.05 145.97 L201.21 147.12 L201.37 148.28 L201.53 149.43 L201.68 150.58 L201.84 151.74 L201.99 152.89 L202.14 154.04 L202.29 155.19 L202.44 156.35 L202.59 157.5 L202.73 158.65 L202.87 159.8 L203.01 160.96 L203.15 162.11 L203.29 163.26 L203.42 164.42 L203.55 165.57 L203.68 166.72 L203.8 167.88 L203.93 169.03 L204.05 170.18 L204.17 171.34 L204.28 172.49 L204.4 173.64 L204.51 174.8 L204.61 175.95 L204.72 177.11 L204.82 178.26 L204.92 179.42 L205.02 180.57 L205.11 181.73 L205.2 182.88 L205.29 184.04 L205.37 185.2 L205.45 186.35 L205.53 187.51 L205.6 188.67 L205.67 189.82 L205.74 190.98 L205.8 192.14 L205.86 193.3 L205.92 194.46 L205.97 195.62 L206.02 196.78 L206.06 197.94 L206.1 199.1 L206.14 200.26 L206.17 201.42 L206.2 202.59 L206.23 203.75 L206.25 204.91 L206.26 206.08 L206.28 207.24 L206.29 208.4" fill="none" stroke="#002a5f" stroke-width="2.1" stroke-linecap="butt"/>
<rect x="40.7" y="17.9" width="170.6" height="190.5" fill="none" stroke="#000" stroke-width="1.35"/>
<line x1="40.7" y1="208.4" x2="37.7" y2="208.4" stroke="#111" stroke-width="1.05" />
<line x1="40.7" y1="202.45" x2="37.7" y2="202.45" stroke="#111" stroke-width="1.05" />
<line x1="40.7" y1="196.49" x2="37.7" y2="196.49" stroke="#111" stroke-width="1.05" />
<line x1="40.7" y1="190.54" x2="37.7" y2="190.54" stroke="#111" stroke-width="1.05" />
<line x1="40.7" y1="184.59" x2="37.7" y2="184.59" stroke="#111" stroke-width="1.05" />
<line x1="40.7" y1="178.63" x2="37.7" y2="178.63" stroke="#111" stroke-width="1.05" />
<line x1="40.7" y1="172.68" x2="37.7" y2="172.68" stroke="#111" stroke-width="1.05" />
<line x1="40.7" y1="166.73" x2="37.7" y2="166.73" stroke="#111" stroke-width="1.05" />
<line x1="40.7" y1="160.78" x2="37.7" y2="160.78" stroke="#111" stroke-width="1.05" />
<line x1="40.7" y1="154.82" x2="37.7" y2="154.82" stroke="#111" stroke-width="1.05" />
<line x1="40.7" y1="148.87" x2="37.7" y2="148.87" stroke="#111" stroke-width="1.05" />
<line x1="40.7" y1="142.92" x2="37.7" y2="142.92" stroke="#111" stroke-width="1.05" />
<line x1="40.7" y1="136.96" x2="37.7" y2="136.96" stroke="#111" stroke-width="1.05" />
<line x1="40.7" y1="131.01" x2="37.7" y2="131.01" stroke="#111" stroke-width="1.05" />
<line x1="40.7" y1="125.06" x2="37.7" y2="125.06" stroke="#111" stroke-width="1.05" />
<line x1="40.7" y1="119.1" x2="37.7" y2="119.1" stroke="#111" stroke-width="1.05" />
<line x1="40.7" y1="113.15" x2="37.7" y2="113.15" stroke="#111" stroke-width="1.05" />
<line x1="40.7" y1="107.2" x2="37.7" y2="107.2" stroke="#111" stroke-width="1.05" />
<line x1="40.7" y1="101.24" x2="37.7" y2="101.24" stroke="#111" stroke-width="1.05" />
<line x1="40.7" y1="95.29" x2="37.7" y2="95.29" stroke="#111" stroke-width="1.05" />
<line x1="40.7" y1="89.34" x2="37.7" y2="89.34" stroke="#111" stroke-width="1.05" />
<line x1="40.7" y1="83.38" x2="37.7" y2="83.38" stroke="#111" stroke-width="1.05" />
<line x1="40.7" y1="77.43" x2="37.7" y2="77.43" stroke="#111" stroke-width="1.05" />
<line x1="40.7" y1="71.48" x2="37.7" y2="71.48" stroke="#111" stroke-width="1.05" />
<line x1="40.7" y1="65.52" x2="37.7" y2="65.52" stroke="#111" stroke-width="1.05" />
<line x1="40.7" y1="59.57" x2="37.7" y2="59.57" stroke="#111" stroke-width="1.05" />
<line x1="40.7" y1="53.62" x2="37.7" y2="53.62" stroke="#111" stroke-width="1.05" />
<line x1="40.7" y1="47.67" x2="37.7" y2="47.67" stroke="#111" stroke-width="1.05" />
<line x1="40.7" y1="41.71" x2="37.7" y2="41.71" stroke="#111" stroke-width="1.05" />
<line x1="40.7" y1="35.76" x2="37.7" y2="35.76" stroke="#111" stroke-width="1.05" />
<line x1="40.7" y1="29.81" x2="37.7" y2="29.81" stroke="#111" stroke-width="1.05" />
<line x1="40.7" y1="23.85" x2="37.7" y2="23.85" stroke="#111" stroke-width="1.05" />
<line x1="40.7" y1="17.9" x2="37.7" y2="17.9" stroke="#111" stroke-width="1.05" />
<line x1="40.7" y1="208.4" x2="35.7" y2="208.4" stroke="#111" stroke-width="1.2" />
<text x="30.3" y="212.7" font-size="10.3" text-anchor="end">2.0</text>
<line x1="40.7" y1="184.59" x2="35.7" y2="184.59" stroke="#111" stroke-width="1.2" />
<text x="30.3" y="188.89" font-size="10.3" text-anchor="end">2.2</text>
<line x1="40.7" y1="160.78" x2="35.7" y2="160.78" stroke="#111" stroke-width="1.2" />
<text x="30.3" y="165.08" font-size="10.3" text-anchor="end">2.4</text>
<line x1="40.7" y1="136.96" x2="35.7" y2="136.96" stroke="#111" stroke-width="1.2" />
<text x="30.3" y="141.26" font-size="10.3" text-anchor="end">2.6</text>
<line x1="40.7" y1="113.15" x2="35.7" y2="113.15" stroke="#111" stroke-width="1.2" />
<text x="30.3" y="117.45" font-size="10.3" text-anchor="end">2.8</text>
<line x1="40.7" y1="89.34" x2="35.7" y2="89.34" stroke="#111" stroke-width="1.2" />
<text x="30.3" y="93.64" font-size="10.3" text-anchor="end">3.0</text>
<line x1="40.7" y1="65.52" x2="35.7" y2="65.52" stroke="#111" stroke-width="1.2" />
<text x="30.3" y="69.82" font-size="10.3" text-anchor="end">3.2</text>
<line x1="40.7" y1="41.71" x2="35.7" y2="41.71" stroke="#111" stroke-width="1.2" />
<text x="30.3" y="46.01" font-size="10.3" text-anchor="end">3.4</text>
<line x1="40.7" y1="17.9" x2="35.7" y2="17.9" stroke="#111" stroke-width="1.2" />
<text x="30.3" y="22.2" font-size="10.3" text-anchor="end">3.6</text>
<line x1="40.7" y1="208.4" x2="40.7" y2="211.4" stroke="#111" stroke-width="1.05" />
<line x1="48.48" y1="208.4" x2="48.48" y2="211.4" stroke="#111" stroke-width="1.05" />
<line x1="56.27" y1="208.4" x2="56.27" y2="211.4" stroke="#111" stroke-width="1.05" />
<line x1="64.05" y1="208.4" x2="64.05" y2="211.4" stroke="#111" stroke-width="1.05" />
<line x1="71.83" y1="208.4" x2="71.83" y2="211.4" stroke="#111" stroke-width="1.05" />
<line x1="79.61" y1="208.4" x2="79.61" y2="211.4" stroke="#111" stroke-width="1.05" />
<line x1="87.4" y1="208.4" x2="87.4" y2="211.4" stroke="#111" stroke-width="1.05" />
<line x1="95.18" y1="208.4" x2="95.18" y2="211.4" stroke="#111" stroke-width="1.05" />
<line x1="102.96" y1="208.4" x2="102.96" y2="211.4" stroke="#111" stroke-width="1.05" />
<line x1="110.75" y1="208.4" x2="110.75" y2="211.4" stroke="#111" stroke-width="1.05" />
<line x1="118.53" y1="208.4" x2="118.53" y2="211.4" stroke="#111" stroke-width="1.05" />
<line x1="126.31" y1="208.4" x2="126.31" y2="211.4" stroke="#111" stroke-width="1.05" />
<line x1="134.09" y1="208.4" x2="134.09" y2="211.4" stroke="#111" stroke-width="1.05" />
<line x1="141.88" y1="208.4" x2="141.88" y2="211.4" stroke="#111" stroke-width="1.05" />
<line x1="149.66" y1="208.4" x2="149.66" y2="211.4" stroke="#111" stroke-width="1.05" />
<line x1="157.44" y1="208.4" x2="157.44" y2="211.4" stroke="#111" stroke-width="1.05" />
<line x1="165.23" y1="208.4" x2="165.23" y2="211.4" stroke="#111" stroke-width="1.05" />
<line x1="173.01" y1="208.4" x2="173.01" y2="211.4" stroke="#111" stroke-width="1.05" />
<line x1="180.79" y1="208.4" x2="180.79" y2="211.4" stroke="#111" stroke-width="1.05" />
<line x1="188.57" y1="208.4" x2="188.57" y2="211.4" stroke="#111" stroke-width="1.05" />
<line x1="196.36" y1="208.4" x2="196.36" y2="211.4" stroke="#111" stroke-width="1.05" />
<line x1="204.14" y1="208.4" x2="204.14" y2="211.4" stroke="#111" stroke-width="1.05" />
<line x1="40.7" y1="208.4" x2="40.7" y2="213.4" stroke="#111" stroke-width="1.2" />
<text x="40.7" y="226.9" font-size="10.3" text-anchor="middle">0.00</text>
<line x1="79.61" y1="208.4" x2="79.61" y2="213.4" stroke="#111" stroke-width="1.2" />
<text x="79.61" y="226.9" font-size="10.3" text-anchor="middle">0.25</text>
<line x1="118.53" y1="208.4" x2="118.53" y2="213.4" stroke="#111" stroke-width="1.2" />
<text x="118.53" y="226.9" font-size="10.3" text-anchor="middle">0.50</text>
<line x1="157.44" y1="208.4" x2="157.44" y2="213.4" stroke="#111" stroke-width="1.2" />
<text x="157.44" y="226.9" font-size="10.3" text-anchor="middle">0.75</text>
<line x1="196.36" y1="208.4" x2="196.36" y2="213.4" stroke="#111" stroke-width="1.2" />
<text x="196.36" y="226.9" font-size="10.3" text-anchor="middle">1.00</text>
<text x="126" y="242.3" font-size="10.3" text-anchor="middle">Discharge capacity (Ah)</text>
<text x="9.1" y="113.1" font-size="10.3" text-anchor="middle" transform="rotate(-90 9.1 113.1)">Voltage (V)</text>
<text x="40.7" y="8.9" font-size="11.5" text-anchor="start" font-weight="bold">a</text>
<line x1="203.5" y1="103.5" x2="168.5" y2="103.5" stroke="#000" stroke-width="1.65" />
<path d="M162.9 103.5 L170.6 100.9 L169.6 103.5 L170.6 106.1 Z" fill="#000" stroke="#000" stroke-width="0.4" stroke-linejoin="round"/>
<text x="134.6" y="106.8" font-size="10.3" text-anchor="middle">Increasing</text>
<text x="134.6" y="117.6" font-size="10.3" text-anchor="middle">cycle number</text>
<path d="M291.2 320.2 L292.8 314 L294.2 309.8 L295.8 307.9 L299.4 307.6 L303 306.5 L308.5 306.1 L313.9 306.6 L319.3 307 L321.1 308.3 L323.8 307 L328.3 308.8 L331.9 312.4 L334.6 313.3 L337.3 311.2 L340 314.2 L342.8 317.3 L346.4 315.1 L349.1 314.2 L352.7 316.9 L357.2 319.6 L360.8 322.3 L364.4 324.2 L368 325 L371.6 326.3 L373.4 325 L374.5 318 L376 306.1 L378 290 L380 283.6 L381.6 284 L383 300 L384 318.1 L385 333.7 L390 333.1 L398.1 334.5 L402.1 340.1 L408.1 339.1 L414.1 342.1 L420.1 345.1 L426.1 347.8 L432.1 347.2 L438.2 351.2 L442.2 353.2 L446.2 351.8 L452.2 353.2 L458.2 355.2" fill="none" stroke="#111" stroke-width="1.6" stroke-dasharray="1.6 1.75" stroke-linejoin="round"/>
<path d="M291.3 320.2 L293.1 316 L295.8 313.9 L299.4 313.3 L304.9 314.2 L307.6 315.5 L311.2 320.5 L313.9 324.2 L317.5 326.3 L321.1 329.9 L326.5 335.9 L331.9 342.2 L337.3 345.8 L342.8 350.3 L348.2 355.5 L352 359.6 L356.8 364 L364 372.5 L372.5 379.7 L376.1 368.8 L378.5 361.6 L381.3 361.6 L383.3 376 L384.5 390.5 L388.1 395.8 L395.3 402.5 L402.5 409.7 L409.7 414 L416.9 420.5 L424.1 426.5 L431.3 432.5 L441 438.6 L448.2 444.6 L457.8 453.2" fill="none" stroke="#111" stroke-width="1.6" stroke-dasharray="5.6 2.1" stroke-linejoin="round"/>
<rect x="287.7" y="273" width="170.7" height="190.1" fill="none" stroke="#000" stroke-width="1.35"/>
<line x1="287.7" y1="459.99" x2="284.7" y2="459.99" stroke="#111" stroke-width="1.05" />
<line x1="287.7" y1="455.17" x2="284.7" y2="455.17" stroke="#111" stroke-width="1.05" />
<line x1="287.7" y1="450.35" x2="284.7" y2="450.35" stroke="#111" stroke-width="1.05" />
<line x1="287.7" y1="445.53" x2="284.7" y2="445.53" stroke="#111" stroke-width="1.05" />
<line x1="287.7" y1="440.71" x2="284.7" y2="440.71" stroke="#111" stroke-width="1.05" />
<line x1="287.7" y1="435.89" x2="284.7" y2="435.89" stroke="#111" stroke-width="1.05" />
<line x1="287.7" y1="431.07" x2="284.7" y2="431.07" stroke="#111" stroke-width="1.05" />
<line x1="287.7" y1="426.25" x2="284.7" y2="426.25" stroke="#111" stroke-width="1.05" />
<line x1="287.7" y1="421.43" x2="284.7" y2="421.43" stroke="#111" stroke-width="1.05" />
<line x1="287.7" y1="416.61" x2="284.7" y2="416.61" stroke="#111" stroke-width="1.05" />
<line x1="287.7" y1="411.79" x2="284.7" y2="411.79" stroke="#111" stroke-width="1.05" />
<line x1="287.7" y1="406.97" x2="284.7" y2="406.97" stroke="#111" stroke-width="1.05" />
<line x1="287.7" y1="402.15" x2="284.7" y2="402.15" stroke="#111" stroke-width="1.05" />
<line x1="287.7" y1="397.33" x2="284.7" y2="397.33" stroke="#111" stroke-width="1.05" />
<line x1="287.7" y1="392.51" x2="284.7" y2="392.51" stroke="#111" stroke-width="1.05" />
<line x1="287.7" y1="387.69" x2="284.7" y2="387.69" stroke="#111" stroke-width="1.05" />
<line x1="287.7" y1="382.87" x2="284.7" y2="382.87" stroke="#111" stroke-width="1.05" />
<line x1="287.7" y1="378.05" x2="284.7" y2="378.05" stroke="#111" stroke-width="1.05" />
<line x1="287.7" y1="373.23" x2="284.7" y2="373.23" stroke="#111" stroke-width="1.05" />
<line x1="287.7" y1="368.41" x2="284.7" y2="368.41" stroke="#111" stroke-width="1.05" />
<line x1="287.7" y1="363.59" x2="284.7" y2="363.59" stroke="#111" stroke-width="1.05" />
<line x1="287.7" y1="358.76" x2="284.7" y2="358.76" stroke="#111" stroke-width="1.05" />
<line x1="287.7" y1="353.94" x2="284.7" y2="353.94" stroke="#111" stroke-width="1.05" />
<line x1="287.7" y1="349.12" x2="284.7" y2="349.12" stroke="#111" stroke-width="1.05" />
<line x1="287.7" y1="344.3" x2="284.7" y2="344.3" stroke="#111" stroke-width="1.05" />
<line x1="287.7" y1="339.48" x2="284.7" y2="339.48" stroke="#111" stroke-width="1.05" />
<line x1="287.7" y1="334.66" x2="284.7" y2="334.66" stroke="#111" stroke-width="1.05" />
<line x1="287.7" y1="329.84" x2="284.7" y2="329.84" stroke="#111" stroke-width="1.05" />
<line x1="287.7" y1="325.02" x2="284.7" y2="325.02" stroke="#111" stroke-width="1.05" />
<line x1="287.7" y1="320.2" x2="284.7" y2="320.2" stroke="#111" stroke-width="1.05" />
<line x1="287.7" y1="315.38" x2="284.7" y2="315.38" stroke="#111" stroke-width="1.05" />
<line x1="287.7" y1="310.56" x2="284.7" y2="310.56" stroke="#111" stroke-width="1.05" />
<line x1="287.7" y1="305.74" x2="284.7" y2="305.74" stroke="#111" stroke-width="1.05" />
<line x1="287.7" y1="300.92" x2="284.7" y2="300.92" stroke="#111" stroke-width="1.05" />
<line x1="287.7" y1="296.1" x2="284.7" y2="296.1" stroke="#111" stroke-width="1.05" />
<line x1="287.7" y1="291.28" x2="284.7" y2="291.28" stroke="#111" stroke-width="1.05" />
<line x1="287.7" y1="286.46" x2="284.7" y2="286.46" stroke="#111" stroke-width="1.05" />
<line x1="287.7" y1="281.64" x2="284.7" y2="281.64" stroke="#111" stroke-width="1.05" />
<line x1="287.7" y1="276.82" x2="284.7" y2="276.82" stroke="#111" stroke-width="1.05" />
<line x1="287.7" y1="440.71" x2="282.7" y2="440.71" stroke="#111" stroke-width="1.2" />
<text x="277.3" y="445.01" font-size="10.3" text-anchor="end">−0.05</text>
<line x1="287.7" y1="416.61" x2="282.7" y2="416.61" stroke="#111" stroke-width="1.2" />
<text x="277.3" y="420.91" font-size="10.3" text-anchor="end">−0.04</text>
<line x1="287.7" y1="392.51" x2="282.7" y2="392.51" stroke="#111" stroke-width="1.2" />
<text x="277.3" y="396.81" font-size="10.3" text-anchor="end">−0.03</text>
<line x1="287.7" y1="368.41" x2="282.7" y2="368.41" stroke="#111" stroke-width="1.2" />
<text x="277.3" y="372.71" font-size="10.3" text-anchor="end">−0.02</text>
<line x1="287.7" y1="344.3" x2="282.7" y2="344.3" stroke="#111" stroke-width="1.2" />
<text x="277.3" y="348.6" font-size="10.3" text-anchor="end">−0.01</text>
<line x1="287.7" y1="320.2" x2="282.7" y2="320.2" stroke="#111" stroke-width="1.2" />
<text x="277.3" y="324.5" font-size="10.3" text-anchor="end">0.00</text>
<line x1="287.7" y1="296.1" x2="282.7" y2="296.1" stroke="#111" stroke-width="1.2" />
<text x="277.3" y="300.4" font-size="10.3" text-anchor="end">0.01</text>
<line x1="287.7" y1="463.1" x2="287.7" y2="466.1" stroke="#111" stroke-width="1.05" />
<line x1="296.24" y1="463.1" x2="296.24" y2="466.1" stroke="#111" stroke-width="1.05" />
<line x1="304.77" y1="463.1" x2="304.77" y2="466.1" stroke="#111" stroke-width="1.05" />
<line x1="313.31" y1="463.1" x2="313.31" y2="466.1" stroke="#111" stroke-width="1.05" />
<line x1="321.84" y1="463.1" x2="321.84" y2="466.1" stroke="#111" stroke-width="1.05" />
<line x1="330.38" y1="463.1" x2="330.38" y2="466.1" stroke="#111" stroke-width="1.05" />
<line x1="338.91" y1="463.1" x2="338.91" y2="466.1" stroke="#111" stroke-width="1.05" />
<line x1="347.44" y1="463.1" x2="347.44" y2="466.1" stroke="#111" stroke-width="1.05" />
<line x1="355.98" y1="463.1" x2="355.98" y2="466.1" stroke="#111" stroke-width="1.05" />
<line x1="364.51" y1="463.1" x2="364.51" y2="466.1" stroke="#111" stroke-width="1.05" />
<line x1="373.05" y1="463.1" x2="373.05" y2="466.1" stroke="#111" stroke-width="1.05" />
<line x1="381.58" y1="463.1" x2="381.58" y2="466.1" stroke="#111" stroke-width="1.05" />
<line x1="390.12" y1="463.1" x2="390.12" y2="466.1" stroke="#111" stroke-width="1.05" />
<line x1="398.65" y1="463.1" x2="398.65" y2="466.1" stroke="#111" stroke-width="1.05" />
<line x1="407.19" y1="463.1" x2="407.19" y2="466.1" stroke="#111" stroke-width="1.05" />
<line x1="415.72" y1="463.1" x2="415.72" y2="466.1" stroke="#111" stroke-width="1.05" />
<line x1="424.26" y1="463.1" x2="424.26" y2="466.1" stroke="#111" stroke-width="1.05" />
<line x1="432.79" y1="463.1" x2="432.79" y2="466.1" stroke="#111" stroke-width="1.05" />
<line x1="441.33" y1="463.1" x2="441.33" y2="466.1" stroke="#111" stroke-width="1.05" />
<line x1="449.87" y1="463.1" x2="449.87" y2="466.1" stroke="#111" stroke-width="1.05" />
<line x1="458.4" y1="463.1" x2="458.4" y2="466.1" stroke="#111" stroke-width="1.05" />
<line x1="287.7" y1="463.1" x2="287.7" y2="468.1" stroke="#111" stroke-width="1.2" />
<text x="287.7" y="481.6" font-size="10.3" text-anchor="middle">0</text>
<line x1="321.84" y1="463.1" x2="321.84" y2="468.1" stroke="#111" stroke-width="1.2" />
<text x="321.84" y="481.6" font-size="10.3" text-anchor="middle">20</text>
<line x1="355.98" y1="463.1" x2="355.98" y2="468.1" stroke="#111" stroke-width="1.2" />
<text x="355.98" y="481.6" font-size="10.3" text-anchor="middle">40</text>
<line x1="390.12" y1="463.1" x2="390.12" y2="468.1" stroke="#111" stroke-width="1.2" />
<text x="390.12" y="481.6" font-size="10.3" text-anchor="middle">60</text>
<line x1="424.26" y1="463.1" x2="424.26" y2="468.1" stroke="#111" stroke-width="1.2" />
<text x="424.26" y="481.6" font-size="10.3" text-anchor="middle">80</text>
<line x1="458.4" y1="463.1" x2="458.4" y2="468.1" stroke="#111" stroke-width="1.2" />
<text x="458.4" y="481.6" font-size="10.3" text-anchor="middle">100</text>
<text x="373.05" y="496.8" font-size="10.3" text-anchor="middle">Cycle number</text>
<text x="287.7" y="263.9" font-size="11.5" text-anchor="start" font-weight="bold">d</text>
<line x1="296.4" y1="433.6" x2="318" y2="433.6" stroke="#111" stroke-width="1.5" stroke-dasharray="1.5 1.8"/>
<line x1="296.4" y1="448.2" x2="318" y2="448.2" stroke="#111" stroke-width="1.6" stroke-dasharray="5.8 1.9"/>
<text x="325.7" y="437.2" font-size="10.3" text-anchor="start">3.248 V</text>
<text x="325.7" y="451.8" font-size="10.3" text-anchor="start">2.959 V</text>
<text x="239" y="368" font-size="10.3" text-anchor="middle" transform="rotate(-90 239 368)"><tspan font-style="italic">Q</tspan><tspan font-style="italic" font-size="7.2" dy="2.2">n</tspan><tspan dy="-2.2"> − </tspan><tspan font-style="italic">Q</tspan><tspan font-size="7.2" dy="2.2">2</tspan><tspan dy="-2.2"> (Ah)</tspan></text>
<path d="M537.9 370.7 L540.1 363.1 L542.1 346 L544.1 343 L548.1 342 L552.1 339 L556.1 338.4 L560.2 340 L563.2 339 L566.2 344 L570.2 339 L574 344.1 L577 352.2 L579 354.2 L581 356.2 L584 350.2 L587 356.2 L589 364.2 L592 361.2 L595.4 359 L599 363.5 L602.6 371.6 L606.2 373.4 L609.9 381.5 L614 385 L618.9 388.7 L620.7 376.1 L622.5 340 L625.1 300 L627.7 283 L628.7 290 L629.7 320 L630.6 345 L631.2 376.1 L631.9 390.5 L632.4 402.3 L635.1 404.1 L640.5 405.9 L644.2 406.8 L646 410 L648 417 L650 415 L652 413 L654 419 L657 418 L660 423 L664.1 428.1 L667.1 426.1 L670.1 431.1 L673.1 436.1 L678.1 434.1 L682.1 439.1 L685.1 446.1 L688.1 449.1 L690.1 445.1 L694.1 451.1 L698.1 448.1 L701.2 450.1 L705.2 454.1" fill="none" stroke="#111" stroke-width="1.6" stroke-dasharray="1.6 1.75" stroke-linejoin="round"/>
<path d="M537.9 370.7 L546.1 368.5 L554.1 369.7 L564.2 372.5 L574.2 375.1 L584 377.1 L590 378.8 L599 381.2 L608 383.3 L618.9 386 L625.2 381.5 L627.9 380.6 L632.4 388.4 L640.5 390.5 L649 392.4 L653.2 393.2 L665.8 396 L669.1 396.4 L685.1 400 L705.2 403" fill="none" stroke="#111" stroke-width="1.6" stroke-dasharray="5.6 2.1" stroke-linejoin="round"/>
<rect x="534.5" y="273" width="170.7" height="190.2" fill="none" stroke="#000" stroke-width="1.35"/>
<line x1="534.5" y1="459.86" x2="531.5" y2="459.86" stroke="#111" stroke-width="1.05" />
<line x1="534.5" y1="454.28" x2="531.5" y2="454.28" stroke="#111" stroke-width="1.05" />
<line x1="534.5" y1="448.71" x2="531.5" y2="448.71" stroke="#111" stroke-width="1.05" />
<line x1="534.5" y1="443.14" x2="531.5" y2="443.14" stroke="#111" stroke-width="1.05" />
<line x1="534.5" y1="437.57" x2="531.5" y2="437.57" stroke="#111" stroke-width="1.05" />
<line x1="534.5" y1="431.99" x2="531.5" y2="431.99" stroke="#111" stroke-width="1.05" />
<line x1="534.5" y1="426.42" x2="531.5" y2="426.42" stroke="#111" stroke-width="1.05" />
<line x1="534.5" y1="420.85" x2="531.5" y2="420.85" stroke="#111" stroke-width="1.05" />
<line x1="534.5" y1="415.27" x2="531.5" y2="415.27" stroke="#111" stroke-width="1.05" />
<line x1="534.5" y1="409.7" x2="531.5" y2="409.7" stroke="#111" stroke-width="1.05" />
<line x1="534.5" y1="404.13" x2="531.5" y2="404.13" stroke="#111" stroke-width="1.05" />
<line x1="534.5" y1="398.56" x2="531.5" y2="398.56" stroke="#111" stroke-width="1.05" />
<line x1="534.5" y1="392.98" x2="531.5" y2="392.98" stroke="#111" stroke-width="1.05" />
<line x1="534.5" y1="387.41" x2="531.5" y2="387.41" stroke="#111" stroke-width="1.05" />
<line x1="534.5" y1="381.84" x2="531.5" y2="381.84" stroke="#111" stroke-width="1.05" />
<line x1="534.5" y1="376.26" x2="531.5" y2="376.26" stroke="#111" stroke-width="1.05" />
<line x1="534.5" y1="370.69" x2="531.5" y2="370.69" stroke="#111" stroke-width="1.05" />
<line x1="534.5" y1="365.12" x2="531.5" y2="365.12" stroke="#111" stroke-width="1.05" />
<line x1="534.5" y1="359.55" x2="531.5" y2="359.55" stroke="#111" stroke-width="1.05" />
<line x1="534.5" y1="353.97" x2="531.5" y2="353.97" stroke="#111" stroke-width="1.05" />
<line x1="534.5" y1="348.4" x2="531.5" y2="348.4" stroke="#111" stroke-width="1.05" />
<line x1="534.5" y1="342.83" x2="531.5" y2="342.83" stroke="#111" stroke-width="1.05" />
<line x1="534.5" y1="337.25" x2="531.5" y2="337.25" stroke="#111" stroke-width="1.05" />
<line x1="534.5" y1="331.68" x2="531.5" y2="331.68" stroke="#111" stroke-width="1.05" />
<line x1="534.5" y1="326.11" x2="531.5" y2="326.11" stroke="#111" stroke-width="1.05" />
<line x1="534.5" y1="320.54" x2="531.5" y2="320.54" stroke="#111" stroke-width="1.05" />
<line x1="534.5" y1="314.96" x2="531.5" y2="314.96" stroke="#111" stroke-width="1.05" />
<line x1="534.5" y1="309.39" x2="531.5" y2="309.39" stroke="#111" stroke-width="1.05" />
<line x1="534.5" y1="303.82" x2="531.5" y2="303.82" stroke="#111" stroke-width="1.05" />
<line x1="534.5" y1="298.24" x2="531.5" y2="298.24" stroke="#111" stroke-width="1.05" />
<line x1="534.5" y1="292.67" x2="531.5" y2="292.67" stroke="#111" stroke-width="1.05" />
<line x1="534.5" y1="287.1" x2="531.5" y2="287.1" stroke="#111" stroke-width="1.05" />
<line x1="534.5" y1="281.53" x2="531.5" y2="281.53" stroke="#111" stroke-width="1.05" />
<line x1="534.5" y1="275.95" x2="531.5" y2="275.95" stroke="#111" stroke-width="1.05" />
<line x1="534.5" y1="454.28" x2="529.5" y2="454.28" stroke="#111" stroke-width="1.2" />
<text x="524.1" y="458.58" font-size="10.3" text-anchor="end">0.85</text>
<line x1="534.5" y1="426.42" x2="529.5" y2="426.42" stroke="#111" stroke-width="1.2" />
<text x="524.1" y="430.72" font-size="10.3" text-anchor="end">0.90</text>
<line x1="534.5" y1="398.56" x2="529.5" y2="398.56" stroke="#111" stroke-width="1.2" />
<text x="524.1" y="402.86" font-size="10.3" text-anchor="end">0.95</text>
<line x1="534.5" y1="370.69" x2="529.5" y2="370.69" stroke="#111" stroke-width="1.2" />
<text x="524.1" y="374.99" font-size="10.3" text-anchor="end">1.00</text>
<line x1="534.5" y1="342.83" x2="529.5" y2="342.83" stroke="#111" stroke-width="1.2" />
<text x="524.1" y="347.13" font-size="10.3" text-anchor="end">1.05</text>
<line x1="534.5" y1="314.96" x2="529.5" y2="314.96" stroke="#111" stroke-width="1.2" />
<text x="524.1" y="319.26" font-size="10.3" text-anchor="end">1.10</text>
<line x1="534.5" y1="287.1" x2="529.5" y2="287.1" stroke="#111" stroke-width="1.2" />
<text x="524.1" y="291.4" font-size="10.3" text-anchor="end">1.15</text>
<line x1="534.5" y1="463.2" x2="534.5" y2="466.2" stroke="#111" stroke-width="1.05" />
<line x1="543.03" y1="463.2" x2="543.03" y2="466.2" stroke="#111" stroke-width="1.05" />
<line x1="551.57" y1="463.2" x2="551.57" y2="466.2" stroke="#111" stroke-width="1.05" />
<line x1="560.11" y1="463.2" x2="560.11" y2="466.2" stroke="#111" stroke-width="1.05" />
<line x1="568.64" y1="463.2" x2="568.64" y2="466.2" stroke="#111" stroke-width="1.05" />
<line x1="577.17" y1="463.2" x2="577.17" y2="466.2" stroke="#111" stroke-width="1.05" />
<line x1="585.71" y1="463.2" x2="585.71" y2="466.2" stroke="#111" stroke-width="1.05" />
<line x1="594.25" y1="463.2" x2="594.25" y2="466.2" stroke="#111" stroke-width="1.05" />
<line x1="602.78" y1="463.2" x2="602.78" y2="466.2" stroke="#111" stroke-width="1.05" />
<line x1="611.32" y1="463.2" x2="611.32" y2="466.2" stroke="#111" stroke-width="1.05" />
<line x1="619.85" y1="463.2" x2="619.85" y2="466.2" stroke="#111" stroke-width="1.05" />
<line x1="628.38" y1="463.2" x2="628.38" y2="466.2" stroke="#111" stroke-width="1.05" />
<line x1="636.92" y1="463.2" x2="636.92" y2="466.2" stroke="#111" stroke-width="1.05" />
<line x1="645.46" y1="463.2" x2="645.46" y2="466.2" stroke="#111" stroke-width="1.05" />
<line x1="653.99" y1="463.2" x2="653.99" y2="466.2" stroke="#111" stroke-width="1.05" />
<line x1="662.53" y1="463.2" x2="662.53" y2="466.2" stroke="#111" stroke-width="1.05" />
<line x1="671.06" y1="463.2" x2="671.06" y2="466.2" stroke="#111" stroke-width="1.05" />
<line x1="679.6" y1="463.2" x2="679.6" y2="466.2" stroke="#111" stroke-width="1.05" />
<line x1="688.13" y1="463.2" x2="688.13" y2="466.2" stroke="#111" stroke-width="1.05" />
<line x1="696.67" y1="463.2" x2="696.67" y2="466.2" stroke="#111" stroke-width="1.05" />
<line x1="705.2" y1="463.2" x2="705.2" y2="466.2" stroke="#111" stroke-width="1.05" />
<line x1="534.5" y1="463.2" x2="534.5" y2="468.2" stroke="#111" stroke-width="1.2" />
<text x="534.5" y="481.7" font-size="10.3" text-anchor="middle">0</text>
<line x1="568.64" y1="463.2" x2="568.64" y2="468.2" stroke="#111" stroke-width="1.2" />
<text x="568.64" y="481.7" font-size="10.3" text-anchor="middle">20</text>
<line x1="602.78" y1="463.2" x2="602.78" y2="468.2" stroke="#111" stroke-width="1.2" />
<text x="602.78" y="481.7" font-size="10.3" text-anchor="middle">40</text>
<line x1="636.92" y1="463.2" x2="636.92" y2="468.2" stroke="#111" stroke-width="1.2" />
<text x="636.92" y="481.7" font-size="10.3" text-anchor="middle">60</text>
<line x1="671.06" y1="463.2" x2="671.06" y2="468.2" stroke="#111" stroke-width="1.2" />
<text x="671.06" y="481.7" font-size="10.3" text-anchor="middle">80</text>
<line x1="705.2" y1="463.2" x2="705.2" y2="468.2" stroke="#111" stroke-width="1.2" />
<text x="705.2" y="481.7" font-size="10.3" text-anchor="middle">100</text>
<text x="619.85" y="496.8" font-size="10.3" text-anchor="middle">Cycle number</text>
<text x="534.5" y="263.9" font-size="11.5" text-anchor="start" font-weight="bold">f</text>
<line x1="543.5" y1="433.6" x2="565" y2="433.6" stroke="#111" stroke-width="1.5" stroke-dasharray="1.5 1.8"/>
<line x1="543.5" y1="448.2" x2="565" y2="448.2" stroke="#111" stroke-width="1.6" stroke-dasharray="5.8 1.9"/>
<text x="572.5" y="437.2" font-size="10.3" text-anchor="start">3.248 V</text>
<text x="572.5" y="451.8" font-size="10.3" text-anchor="start">2.959 V</text>
<text x="493" y="368" font-size="10.3" text-anchor="middle" transform="rotate(-90 493 368)"><tspan font-style="italic">Q</tspan><tspan font-style="italic" font-size="7.2" dy="2.2">n</tspan><tspan dy="-2.2">/</tspan><tspan font-style="italic">Q</tspan><tspan font-size="7.2" dy="2.2">2</tspan></text>
<g clip-path="url(#cp2)"><g filter="url(#hb)">
<rect x="36.6" y="273" width="144.9" height="190.1" fill="url(#g1)" shape-rendering="crispEdges"/>
</g></g>
<rect x="40.6" y="273" width="136.9" height="190.1" fill="none" stroke="#000" stroke-width="1.35"/>
<line x1="40.6" y1="463.1" x2="37.6" y2="463.1" stroke="#111" stroke-width="1.05" />
<line x1="40.6" y1="457.16" x2="37.6" y2="457.16" stroke="#111" stroke-width="1.05" />
<line x1="40.6" y1="451.22" x2="37.6" y2="451.22" stroke="#111" stroke-width="1.05" />
<line x1="40.6" y1="445.28" x2="37.6" y2="445.28" stroke="#111" stroke-width="1.05" />
<line x1="40.6" y1="439.34" x2="37.6" y2="439.34" stroke="#111" stroke-width="1.05" />
<line x1="40.6" y1="433.4" x2="37.6" y2="433.4" stroke="#111" stroke-width="1.05" />
<line x1="40.6" y1="427.46" x2="37.6" y2="427.46" stroke="#111" stroke-width="1.05" />
<line x1="40.6" y1="421.52" x2="37.6" y2="421.52" stroke="#111" stroke-width="1.05" />
<line x1="40.6" y1="415.58" x2="37.6" y2="415.58" stroke="#111" stroke-width="1.05" />
<line x1="40.6" y1="409.63" x2="37.6" y2="409.63" stroke="#111" stroke-width="1.05" />
<line x1="40.6" y1="403.69" x2="37.6" y2="403.69" stroke="#111" stroke-width="1.05" />
<line x1="40.6" y1="397.75" x2="37.6" y2="397.75" stroke="#111" stroke-width="1.05" />
<line x1="40.6" y1="391.81" x2="37.6" y2="391.81" stroke="#111" stroke-width="1.05" />
<line x1="40.6" y1="385.87" x2="37.6" y2="385.87" stroke="#111" stroke-width="1.05" />
<line x1="40.6" y1="379.93" x2="37.6" y2="379.93" stroke="#111" stroke-width="1.05" />
<line x1="40.6" y1="373.99" x2="37.6" y2="373.99" stroke="#111" stroke-width="1.05" />
<line x1="40.6" y1="368.05" x2="37.6" y2="368.05" stroke="#111" stroke-width="1.05" />
<line x1="40.6" y1="362.11" x2="37.6" y2="362.11" stroke="#111" stroke-width="1.05" />
<line x1="40.6" y1="356.17" x2="37.6" y2="356.17" stroke="#111" stroke-width="1.05" />
<line x1="40.6" y1="350.23" x2="37.6" y2="350.23" stroke="#111" stroke-width="1.05" />
<line x1="40.6" y1="344.29" x2="37.6" y2="344.29" stroke="#111" stroke-width="1.05" />
<line x1="40.6" y1="338.35" x2="37.6" y2="338.35" stroke="#111" stroke-width="1.05" />
<line x1="40.6" y1="332.41" x2="37.6" y2="332.41" stroke="#111" stroke-width="1.05" />
<line x1="40.6" y1="326.47" x2="37.6" y2="326.47" stroke="#111" stroke-width="1.05" />
<line x1="40.6" y1="320.52" x2="37.6" y2="320.52" stroke="#111" stroke-width="1.05" />
<line x1="40.6" y1="314.58" x2="37.6" y2="314.58" stroke="#111" stroke-width="1.05" />
<line x1="40.6" y1="308.64" x2="37.6" y2="308.64" stroke="#111" stroke-width="1.05" />
<line x1="40.6" y1="302.7" x2="37.6" y2="302.7" stroke="#111" stroke-width="1.05" />
<line x1="40.6" y1="296.76" x2="37.6" y2="296.76" stroke="#111" stroke-width="1.05" />
<line x1="40.6" y1="290.82" x2="37.6" y2="290.82" stroke="#111" stroke-width="1.05" />
<line x1="40.6" y1="284.88" x2="37.6" y2="284.88" stroke="#111" stroke-width="1.05" />
<line x1="40.6" y1="278.94" x2="37.6" y2="278.94" stroke="#111" stroke-width="1.05" />
<line x1="40.6" y1="273" x2="37.6" y2="273" stroke="#111" stroke-width="1.05" />
<line x1="40.6" y1="463.1" x2="35.6" y2="463.1" stroke="#111" stroke-width="1.2" />
<text x="30.2" y="467.4" font-size="10.3" text-anchor="end">2.0</text>
<line x1="40.6" y1="439.34" x2="35.6" y2="439.34" stroke="#111" stroke-width="1.2" />
<text x="30.2" y="443.64" font-size="10.3" text-anchor="end">2.2</text>
<line x1="40.6" y1="415.58" x2="35.6" y2="415.58" stroke="#111" stroke-width="1.2" />
<text x="30.2" y="419.88" font-size="10.3" text-anchor="end">2.4</text>
<line x1="40.6" y1="391.81" x2="35.6" y2="391.81" stroke="#111" stroke-width="1.2" />
<text x="30.2" y="396.11" font-size="10.3" text-anchor="end">2.6</text>
<line x1="40.6" y1="368.05" x2="35.6" y2="368.05" stroke="#111" stroke-width="1.2" />
<text x="30.2" y="372.35" font-size="10.3" text-anchor="end">2.8</text>
<line x1="40.6" y1="344.29" x2="35.6" y2="344.29" stroke="#111" stroke-width="1.2" />
<text x="30.2" y="348.59" font-size="10.3" text-anchor="end">3.0</text>
<line x1="40.6" y1="320.52" x2="35.6" y2="320.52" stroke="#111" stroke-width="1.2" />
<text x="30.2" y="324.82" font-size="10.3" text-anchor="end">3.2</text>
<line x1="40.6" y1="296.76" x2="35.6" y2="296.76" stroke="#111" stroke-width="1.2" />
<text x="30.2" y="301.06" font-size="10.3" text-anchor="end">3.4</text>
<line x1="40.6" y1="273" x2="35.6" y2="273" stroke="#111" stroke-width="1.2" />
<text x="30.2" y="277.3" font-size="10.3" text-anchor="end">3.6</text>
<line x1="40.6" y1="463.1" x2="40.6" y2="466.1" stroke="#111" stroke-width="1.05" />
<line x1="47.45" y1="463.1" x2="47.45" y2="466.1" stroke="#111" stroke-width="1.05" />
<line x1="54.29" y1="463.1" x2="54.29" y2="466.1" stroke="#111" stroke-width="1.05" />
<line x1="61.14" y1="463.1" x2="61.14" y2="466.1" stroke="#111" stroke-width="1.05" />
<line x1="67.98" y1="463.1" x2="67.98" y2="466.1" stroke="#111" stroke-width="1.05" />
<line x1="74.83" y1="463.1" x2="74.83" y2="466.1" stroke="#111" stroke-width="1.05" />
<line x1="81.67" y1="463.1" x2="81.67" y2="466.1" stroke="#111" stroke-width="1.05" />
<line x1="88.52" y1="463.1" x2="88.52" y2="466.1" stroke="#111" stroke-width="1.05" />
<line x1="95.36" y1="463.1" x2="95.36" y2="466.1" stroke="#111" stroke-width="1.05" />
<line x1="102.21" y1="463.1" x2="102.21" y2="466.1" stroke="#111" stroke-width="1.05" />
<line x1="109.05" y1="463.1" x2="109.05" y2="466.1" stroke="#111" stroke-width="1.05" />
<line x1="115.9" y1="463.1" x2="115.9" y2="466.1" stroke="#111" stroke-width="1.05" />
<line x1="122.74" y1="463.1" x2="122.74" y2="466.1" stroke="#111" stroke-width="1.05" />
<line x1="129.59" y1="463.1" x2="129.59" y2="466.1" stroke="#111" stroke-width="1.05" />
<line x1="136.43" y1="463.1" x2="136.43" y2="466.1" stroke="#111" stroke-width="1.05" />
<line x1="143.28" y1="463.1" x2="143.28" y2="466.1" stroke="#111" stroke-width="1.05" />
<line x1="150.12" y1="463.1" x2="150.12" y2="466.1" stroke="#111" stroke-width="1.05" />
<line x1="156.97" y1="463.1" x2="156.97" y2="466.1" stroke="#111" stroke-width="1.05" />
<line x1="163.81" y1="463.1" x2="163.81" y2="466.1" stroke="#111" stroke-width="1.05" />
<line x1="170.66" y1="463.1" x2="170.66" y2="466.1" stroke="#111" stroke-width="1.05" />
<line x1="177.5" y1="463.1" x2="177.5" y2="466.1" stroke="#111" stroke-width="1.05" />
<line x1="40.6" y1="463.1" x2="40.6" y2="468.1" stroke="#111" stroke-width="1.2" />
<text x="40.6" y="481.6" font-size="10.3" text-anchor="middle">0</text>
<line x1="74.83" y1="463.1" x2="74.83" y2="468.1" stroke="#111" stroke-width="1.2" />
<text x="74.83" y="481.6" font-size="10.3" text-anchor="middle">25</text>
<line x1="109.05" y1="463.1" x2="109.05" y2="468.1" stroke="#111" stroke-width="1.2" />
<text x="109.05" y="481.6" font-size="10.3" text-anchor="middle">50</text>
<line x1="143.28" y1="463.1" x2="143.28" y2="468.1" stroke="#111" stroke-width="1.2" />
<text x="143.28" y="481.6" font-size="10.3" text-anchor="middle">75</text>
<line x1="177.5" y1="463.1" x2="177.5" y2="468.1" stroke="#111" stroke-width="1.2" />
<text x="177.5" y="481.6" font-size="10.3" text-anchor="middle">100</text>
<text x="40.6" y="263.9" font-size="11.5" text-anchor="start" font-weight="bold">b</text>
<text x="109.05" y="496.8" font-size="10.3" text-anchor="middle">Cycle number</text>
<text x="9.1" y="368.1" font-size="10.3" text-anchor="middle" transform="rotate(-90 9.1 368.1)">Voltage (V)</text>
<rect x="185.8" y="273" width="9.7" height="190.1" fill="url(#g3)" stroke="#000" stroke-width="1.2"/>
<line x1="195.5" y1="273" x2="198.5" y2="273" stroke="#111" stroke-width="1.0" />
<line x1="195.5" y1="281.87" x2="198.5" y2="281.87" stroke="#111" stroke-width="1.0" />
<line x1="195.5" y1="290.74" x2="198.5" y2="290.74" stroke="#111" stroke-width="1.0" />
<line x1="195.5" y1="299.61" x2="198.5" y2="299.61" stroke="#111" stroke-width="1.0" />
<line x1="195.5" y1="308.48" x2="198.5" y2="308.48" stroke="#111" stroke-width="1.0" />
<line x1="195.5" y1="317.35" x2="198.5" y2="317.35" stroke="#111" stroke-width="1.0" />
<line x1="195.5" y1="326.22" x2="198.5" y2="326.22" stroke="#111" stroke-width="1.0" />
<line x1="195.5" y1="335.09" x2="198.5" y2="335.09" stroke="#111" stroke-width="1.0" />
<line x1="195.5" y1="343.96" x2="198.5" y2="343.96" stroke="#111" stroke-width="1.0" />
<line x1="195.5" y1="352.83" x2="198.5" y2="352.83" stroke="#111" stroke-width="1.0" />
<line x1="195.5" y1="361.7" x2="198.5" y2="361.7" stroke="#111" stroke-width="1.0" />
<line x1="195.5" y1="370.57" x2="198.5" y2="370.57" stroke="#111" stroke-width="1.0" />
<line x1="195.5" y1="379.44" x2="198.5" y2="379.44" stroke="#111" stroke-width="1.0" />
<line x1="195.5" y1="388.31" x2="198.5" y2="388.31" stroke="#111" stroke-width="1.0" />
<line x1="195.5" y1="397.18" x2="198.5" y2="397.18" stroke="#111" stroke-width="1.0" />
<line x1="195.5" y1="406.05" x2="198.5" y2="406.05" stroke="#111" stroke-width="1.0" />
<line x1="195.5" y1="414.92" x2="198.5" y2="414.92" stroke="#111" stroke-width="1.0" />
<line x1="195.5" y1="423.79" x2="198.5" y2="423.79" stroke="#111" stroke-width="1.0" />
<line x1="195.5" y1="432.66" x2="198.5" y2="432.66" stroke="#111" stroke-width="1.0" />
<line x1="195.5" y1="441.53" x2="198.5" y2="441.53" stroke="#111" stroke-width="1.0" />
<line x1="195.5" y1="450.4" x2="198.5" y2="450.4" stroke="#111" stroke-width="1.0" />
<line x1="195.5" y1="459.27" x2="198.5" y2="459.27" stroke="#111" stroke-width="1.0" />
<line x1="195.5" y1="273" x2="200.5" y2="273" stroke="#111" stroke-width="1.1" />
<text x="205.9" y="277.3" font-size="10.3" text-anchor="start">0.0</text>
<line x1="195.5" y1="308.48" x2="200.5" y2="308.48" stroke="#111" stroke-width="1.1" />
<text x="205.9" y="312.78" font-size="10.3" text-anchor="start">0.2</text>
<line x1="195.5" y1="343.96" x2="200.5" y2="343.96" stroke="#111" stroke-width="1.1" />
<text x="205.9" y="348.26" font-size="10.3" text-anchor="start">0.4</text>
<line x1="195.5" y1="379.44" x2="200.5" y2="379.44" stroke="#111" stroke-width="1.1" />
<text x="205.9" y="383.74" font-size="10.3" text-anchor="start">0.6</text>
<line x1="195.5" y1="414.92" x2="200.5" y2="414.92" stroke="#111" stroke-width="1.1" />
<text x="205.9" y="419.22" font-size="10.3" text-anchor="start">0.8</text>
<line x1="195.5" y1="450.4" x2="200.5" y2="450.4" stroke="#111" stroke-width="1.1" />
<text x="205.9" y="454.7" font-size="10.3" text-anchor="start">1.0</text>
<text x="190.7" y="263.3" font-size="10.3" text-anchor="middle"><tspan font-style="italic">Q</tspan><tspan font-style="italic" font-size="7.2" dy="2.2">n</tspan><tspan dy="-2.2"> (Ah)</tspan></text>
<g clip-path="url(#cp64)"><g filter="url(#hb)">
<rect x="283.7" y="18" width="7.3" height="190.3" fill="url(#g4)" shape-rendering="crispEdges"/>
<rect x="291" y="18" width="2" height="190.3" fill="url(#g5)" shape-rendering="crispEdges"/>
<rect x="293" y="18" width="3" height="190.3" fill="url(#g6)" shape-rendering="crispEdges"/>
<rect x="296" y="18" width="7" height="190.3" fill="url(#g7)" shape-rendering="crispEdges"/>
<rect x="303" y="18" width="3" height="190.3" fill="url(#g8)" shape-rendering="crispEdges"/>
<rect x="306" y="18" width="3" height="190.3" fill="url(#g9)" shape-rendering="crispEdges"/>
<rect x="309" y="18" width="2" height="190.3" fill="url(#g10)" shape-rendering="crispEdges"/>
<rect x="311" y="18" width="3" height="190.3" fill="url(#g11)" shape-rendering="crispEdges"/>
<rect x="314" y="18" width="3" height="190.3" fill="url(#g12)" shape-rendering="crispEdges"/>
<rect x="317" y="18" width="3" height="190.3" fill="url(#g13)" shape-rendering="crispEdges"/>
<rect x="320" y="18" width="3" height="190.3" fill="url(#g14)" shape-rendering="crispEdges"/>
<rect x="323" y="18" width="3" height="190.3" fill="url(#g15)" shape-rendering="crispEdges"/>
<rect x="326" y="18" width="3" height="190.3" fill="url(#g16)" shape-rendering="crispEdges"/>
<rect x="329" y="18" width="3" height="190.3" fill="url(#g17)" shape-rendering="crispEdges"/>
<rect x="332" y="18" width="3" height="190.3" fill="url(#g18)" shape-rendering="crispEdges"/>
<rect x="335" y="18" width="3" height="190.3" fill="url(#g19)" shape-rendering="crispEdges"/>
<rect x="338" y="18" width="3" height="190.3" fill="url(#g20)" shape-rendering="crispEdges"/>
<rect x="341" y="18" width="3" height="190.3" fill="url(#g21)" shape-rendering="crispEdges"/>
<rect x="344" y="18" width="2" height="190.3" fill="url(#g22)" shape-rendering="crispEdges"/>
<rect x="346" y="18" width="2" height="190.3" fill="url(#g23)" shape-rendering="crispEdges"/>
<rect x="348" y="18" width="2" height="190.3" fill="url(#g24)" shape-rendering="crispEdges"/>
<rect x="350" y="18" width="2" height="190.3" fill="url(#g25)" shape-rendering="crispEdges"/>
<rect x="352" y="18" width="2" height="190.3" fill="url(#g26)" shape-rendering="crispEdges"/>
<rect x="354" y="18" width="1" height="190.3" fill="url(#g27)" shape-rendering="crispEdges"/>
<rect x="355" y="18" width="1" height="190.3" fill="url(#g28)" shape-rendering="crispEdges"/>
<rect x="356" y="18" width="0" height="190.3" fill="url(#g29)" shape-rendering="crispEdges"/>
<rect x="356" y="18" width="1" height="190.3" fill="url(#g30)" shape-rendering="crispEdges"/>
<rect x="357" y="18" width="1" height="190.3" fill="url(#g31)" shape-rendering="crispEdges"/>
<rect x="358" y="18" width="1" height="190.3" fill="url(#g32)" shape-rendering="crispEdges"/>
<rect x="359" y="18" width="1" height="190.3" fill="url(#g33)" shape-rendering="crispEdges"/>
<rect x="360" y="18" width="1" height="190.3" fill="url(#g34)" shape-rendering="crispEdges"/>
<rect x="361" y="18" width="1" height="190.3" fill="url(#g35)" shape-rendering="crispEdges"/>
<rect x="362" y="18" width="1" height="190.3" fill="url(#g36)" shape-rendering="crispEdges"/>
<rect x="363" y="18" width="1" height="190.3" fill="url(#g37)" shape-rendering="crispEdges"/>
<rect x="364" y="18" width="1" height="190.3" fill="url(#g38)" shape-rendering="crispEdges"/>
<rect x="365" y="18" width="1" height="190.3" fill="url(#g39)" shape-rendering="crispEdges"/>
<rect x="366" y="18" width="1" height="190.3" fill="url(#g40)" shape-rendering="crispEdges"/>
<rect x="367" y="18" width="1" height="190.3" fill="url(#g41)" shape-rendering="crispEdges"/>
<rect x="368" y="18" width="1" height="190.3" fill="url(#g42)" shape-rendering="crispEdges"/>
<rect x="369" y="18" width="3" height="190.3" fill="url(#g43)" shape-rendering="crispEdges"/>
<rect x="372" y="18" width="3" height="190.3" fill="url(#g44)" shape-rendering="crispEdges"/>
<rect x="375" y="18" width="3" height="190.3" fill="url(#g45)" shape-rendering="crispEdges"/>
<rect x="378" y="18" width="3" height="190.3" fill="url(#g46)" shape-rendering="crispEdges"/>
<rect x="381" y="18" width="3" height="190.3" fill="url(#g47)" shape-rendering="crispEdges"/>
<rect x="384" y="18" width="3" height="190.3" fill="url(#g48)" shape-rendering="crispEdges"/>
<rect x="387" y="18" width="2" height="190.3" fill="url(#g49)" shape-rendering="crispEdges"/>
<rect x="389" y="18" width="3" height="190.3" fill="url(#g50)" shape-rendering="crispEdges"/>
<rect x="392" y="18" width="3" height="190.3" fill="url(#g51)" shape-rendering="crispEdges"/>
<rect x="395" y="18" width="2" height="190.3" fill="url(#g52)" shape-rendering="crispEdges"/>
<rect x="397" y="18" width="2" height="190.3" fill="url(#g53)" shape-rendering="crispEdges"/>
<rect x="399" y="18" width="2" height="190.3" fill="url(#g54)" shape-rendering="crispEdges"/>
<rect x="401" y="18" width="3" height="190.3" fill="url(#g55)" shape-rendering="crispEdges"/>
<rect x="404" y="18" width="2" height="190.3" fill="url(#g56)" shape-rendering="crispEdges"/>
<rect x="406" y="18" width="3" height="190.3" fill="url(#g57)" shape-rendering="crispEdges"/>
<rect x="409" y="18" width="2" height="190.3" fill="url(#g58)" shape-rendering="crispEdges"/>
<rect x="411" y="18" width="3" height="190.3" fill="url(#g59)" shape-rendering="crispEdges"/>
<rect x="414" y="18" width="3" height="190.3" fill="url(#g60)" shape-rendering="crispEdges"/>
<rect x="417" y="18" width="3" height="190.3" fill="url(#g61)" shape-rendering="crispEdges"/>
<rect x="420" y="18" width="3" height="190.3" fill="url(#g62)" shape-rendering="crispEdges"/>
<rect x="423" y="18" width="5.3" height="190.3" fill="url(#g63)" shape-rendering="crispEdges"/>
</g></g>
<line x1="287.7" y1="59.87" x2="424.3" y2="59.87" stroke="#111" stroke-width="1.5" stroke-dasharray="1.5 2.4"/>
<line x1="287.7" y1="94.24" x2="424.3" y2="94.24" stroke="#111" stroke-width="1.6" stroke-dasharray="5.7 2.1"/>
<rect x="287.7" y="18" width="136.6" height="190.3" fill="none" stroke="#000" stroke-width="1.35"/>
<line x1="287.7" y1="208.3" x2="284.7" y2="208.3" stroke="#111" stroke-width="1.05" />
<line x1="287.7" y1="202.35" x2="284.7" y2="202.35" stroke="#111" stroke-width="1.05" />
<line x1="287.7" y1="196.41" x2="284.7" y2="196.41" stroke="#111" stroke-width="1.05" />
<line x1="287.7" y1="190.46" x2="284.7" y2="190.46" stroke="#111" stroke-width="1.05" />
<line x1="287.7" y1="184.51" x2="284.7" y2="184.51" stroke="#111" stroke-width="1.05" />
<line x1="287.7" y1="178.57" x2="284.7" y2="178.57" stroke="#111" stroke-width="1.05" />
<line x1="287.7" y1="172.62" x2="284.7" y2="172.62" stroke="#111" stroke-width="1.05" />
<line x1="287.7" y1="166.67" x2="284.7" y2="166.67" stroke="#111" stroke-width="1.05" />
<line x1="287.7" y1="160.73" x2="284.7" y2="160.73" stroke="#111" stroke-width="1.05" />
<line x1="287.7" y1="154.78" x2="284.7" y2="154.78" stroke="#111" stroke-width="1.05" />
<line x1="287.7" y1="148.83" x2="284.7" y2="148.83" stroke="#111" stroke-width="1.05" />
<line x1="287.7" y1="142.88" x2="284.7" y2="142.88" stroke="#111" stroke-width="1.05" />
<line x1="287.7" y1="136.94" x2="284.7" y2="136.94" stroke="#111" stroke-width="1.05" />
<line x1="287.7" y1="130.99" x2="284.7" y2="130.99" stroke="#111" stroke-width="1.05" />
<line x1="287.7" y1="125.04" x2="284.7" y2="125.04" stroke="#111" stroke-width="1.05" />
<line x1="287.7" y1="119.1" x2="284.7" y2="119.1" stroke="#111" stroke-width="1.05" />
<line x1="287.7" y1="113.15" x2="284.7" y2="113.15" stroke="#111" stroke-width="1.05" />
<line x1="287.7" y1="107.2" x2="284.7" y2="107.2" stroke="#111" stroke-width="1.05" />
<line x1="287.7" y1="101.26" x2="284.7" y2="101.26" stroke="#111" stroke-width="1.05" />
<line x1="287.7" y1="95.31" x2="284.7" y2="95.31" stroke="#111" stroke-width="1.05" />
<line x1="287.7" y1="89.36" x2="284.7" y2="89.36" stroke="#111" stroke-width="1.05" />
<line x1="287.7" y1="83.42" x2="284.7" y2="83.42" stroke="#111" stroke-width="1.05" />
<line x1="287.7" y1="77.47" x2="284.7" y2="77.47" stroke="#111" stroke-width="1.05" />
<line x1="287.7" y1="71.52" x2="284.7" y2="71.52" stroke="#111" stroke-width="1.05" />
<line x1="287.7" y1="65.57" x2="284.7" y2="65.57" stroke="#111" stroke-width="1.05" />
<line x1="287.7" y1="59.63" x2="284.7" y2="59.63" stroke="#111" stroke-width="1.05" />
<line x1="287.7" y1="53.68" x2="284.7" y2="53.68" stroke="#111" stroke-width="1.05" />
<line x1="287.7" y1="47.73" x2="284.7" y2="47.73" stroke="#111" stroke-width="1.05" />
<line x1="287.7" y1="41.79" x2="284.7" y2="41.79" stroke="#111" stroke-width="1.05" />
<line x1="287.7" y1="35.84" x2="284.7" y2="35.84" stroke="#111" stroke-width="1.05" />
<line x1="287.7" y1="29.89" x2="284.7" y2="29.89" stroke="#111" stroke-width="1.05" />
<line x1="287.7" y1="23.95" x2="284.7" y2="23.95" stroke="#111" stroke-width="1.05" />
<line x1="287.7" y1="18" x2="284.7" y2="18" stroke="#111" stroke-width="1.05" />
<line x1="287.7" y1="208.3" x2="282.7" y2="208.3" stroke="#111" stroke-width="1.2" />
<text x="277.3" y="212.6" font-size="10.3" text-anchor="end">2.0</text>
<line x1="287.7" y1="184.51" x2="282.7" y2="184.51" stroke="#111" stroke-width="1.2" />
<text x="277.3" y="188.81" font-size="10.3" text-anchor="end">2.2</text>
<line x1="287.7" y1="160.73" x2="282.7" y2="160.73" stroke="#111" stroke-width="1.2" />
<text x="277.3" y="165.03" font-size="10.3" text-anchor="end">2.4</text>
<line x1="287.7" y1="136.94" x2="282.7" y2="136.94" stroke="#111" stroke-width="1.2" />
<text x="277.3" y="141.24" font-size="10.3" text-anchor="end">2.6</text>
<line x1="287.7" y1="113.15" x2="282.7" y2="113.15" stroke="#111" stroke-width="1.2" />
<text x="277.3" y="117.45" font-size="10.3" text-anchor="end">2.8</text>
<line x1="287.7" y1="89.36" x2="282.7" y2="89.36" stroke="#111" stroke-width="1.2" />
<text x="277.3" y="93.66" font-size="10.3" text-anchor="end">3.0</text>
<line x1="287.7" y1="65.57" x2="282.7" y2="65.57" stroke="#111" stroke-width="1.2" />
<text x="277.3" y="69.87" font-size="10.3" text-anchor="end">3.2</text>
<line x1="287.7" y1="41.79" x2="282.7" y2="41.79" stroke="#111" stroke-width="1.2" />
<text x="277.3" y="46.09" font-size="10.3" text-anchor="end">3.4</text>
<line x1="287.7" y1="18" x2="282.7" y2="18" stroke="#111" stroke-width="1.2" />
<text x="277.3" y="22.3" font-size="10.3" text-anchor="end">3.6</text>
<line x1="287.7" y1="208.3" x2="287.7" y2="211.3" stroke="#111" stroke-width="1.05" />
<line x1="294.53" y1="208.3" x2="294.53" y2="211.3" stroke="#111" stroke-width="1.05" />
<line x1="301.36" y1="208.3" x2="301.36" y2="211.3" stroke="#111" stroke-width="1.05" />
<line x1="308.19" y1="208.3" x2="308.19" y2="211.3" stroke="#111" stroke-width="1.05" />
<line x1="315.02" y1="208.3" x2="315.02" y2="211.3" stroke="#111" stroke-width="1.05" />
<line x1="321.85" y1="208.3" x2="321.85" y2="211.3" stroke="#111" stroke-width="1.05" />
<line x1="328.68" y1="208.3" x2="328.68" y2="211.3" stroke="#111" stroke-width="1.05" />
<line x1="335.51" y1="208.3" x2="335.51" y2="211.3" stroke="#111" stroke-width="1.05" />
<line x1="342.34" y1="208.3" x2="342.34" y2="211.3" stroke="#111" stroke-width="1.05" />
<line x1="349.17" y1="208.3" x2="349.17" y2="211.3" stroke="#111" stroke-width="1.05" />
<line x1="356" y1="208.3" x2="356" y2="211.3" stroke="#111" stroke-width="1.05" />
<line x1="362.83" y1="208.3" x2="362.83" y2="211.3" stroke="#111" stroke-width="1.05" />
<line x1="369.66" y1="208.3" x2="369.66" y2="211.3" stroke="#111" stroke-width="1.05" />
<line x1="376.49" y1="208.3" x2="376.49" y2="211.3" stroke="#111" stroke-width="1.05" />
<line x1="383.32" y1="208.3" x2="383.32" y2="211.3" stroke="#111" stroke-width="1.05" />
<line x1="390.15" y1="208.3" x2="390.15" y2="211.3" stroke="#111" stroke-width="1.05" />
<line x1="396.98" y1="208.3" x2="396.98" y2="211.3" stroke="#111" stroke-width="1.05" />
<line x1="403.81" y1="208.3" x2="403.81" y2="211.3" stroke="#111" stroke-width="1.05" />
<line x1="410.64" y1="208.3" x2="410.64" y2="211.3" stroke="#111" stroke-width="1.05" />
<line x1="417.47" y1="208.3" x2="417.47" y2="211.3" stroke="#111" stroke-width="1.05" />
<line x1="424.3" y1="208.3" x2="424.3" y2="211.3" stroke="#111" stroke-width="1.05" />
<line x1="287.7" y1="208.3" x2="287.7" y2="213.3" stroke="#111" stroke-width="1.2" />
<text x="287.7" y="226.8" font-size="10.3" text-anchor="middle">0</text>
<line x1="321.85" y1="208.3" x2="321.85" y2="213.3" stroke="#111" stroke-width="1.2" />
<text x="321.85" y="226.8" font-size="10.3" text-anchor="middle">25</text>
<line x1="356" y1="208.3" x2="356" y2="213.3" stroke="#111" stroke-width="1.2" />
<text x="356" y="226.8" font-size="10.3" text-anchor="middle">50</text>
<line x1="390.15" y1="208.3" x2="390.15" y2="213.3" stroke="#111" stroke-width="1.2" />
<text x="390.15" y="226.8" font-size="10.3" text-anchor="middle">75</text>
<line x1="424.3" y1="208.3" x2="424.3" y2="213.3" stroke="#111" stroke-width="1.2" />
<text x="424.3" y="226.8" font-size="10.3" text-anchor="middle">100</text>
<text x="287.7" y="8.9" font-size="11.5" text-anchor="start" font-weight="bold">c</text>
<text x="356" y="242.3" font-size="10.3" text-anchor="middle">Cycle number</text>
<text x="256.1" y="113.1" font-size="10.3" text-anchor="middle" transform="rotate(-90 256.1 113.1)">Voltage (V)</text>
<rect x="432.8" y="18" width="9.8" height="190.3" fill="url(#g65)" stroke="#000" stroke-width="1.2"/>
<line x1="442.6" y1="18" x2="445.6" y2="18" stroke="#111" stroke-width="1.0" />
<line x1="442.6" y1="27.51" x2="445.6" y2="27.51" stroke="#111" stroke-width="1.0" />
<line x1="442.6" y1="37.03" x2="445.6" y2="37.03" stroke="#111" stroke-width="1.0" />
<line x1="442.6" y1="46.55" x2="445.6" y2="46.55" stroke="#111" stroke-width="1.0" />
<line x1="442.6" y1="56.06" x2="445.6" y2="56.06" stroke="#111" stroke-width="1.0" />
<line x1="442.6" y1="65.58" x2="445.6" y2="65.58" stroke="#111" stroke-width="1.0" />
<line x1="442.6" y1="75.09" x2="445.6" y2="75.09" stroke="#111" stroke-width="1.0" />
<line x1="442.6" y1="84.61" x2="445.6" y2="84.61" stroke="#111" stroke-width="1.0" />
<line x1="442.6" y1="94.12" x2="445.6" y2="94.12" stroke="#111" stroke-width="1.0" />
<line x1="442.6" y1="103.63" x2="445.6" y2="103.63" stroke="#111" stroke-width="1.0" />
<line x1="442.6" y1="113.15" x2="445.6" y2="113.15" stroke="#111" stroke-width="1.0" />
<line x1="442.6" y1="122.66" x2="445.6" y2="122.66" stroke="#111" stroke-width="1.0" />
<line x1="442.6" y1="132.18" x2="445.6" y2="132.18" stroke="#111" stroke-width="1.0" />
<line x1="442.6" y1="141.69" x2="445.6" y2="141.69" stroke="#111" stroke-width="1.0" />
<line x1="442.6" y1="151.21" x2="445.6" y2="151.21" stroke="#111" stroke-width="1.0" />
<line x1="442.6" y1="160.72" x2="445.6" y2="160.72" stroke="#111" stroke-width="1.0" />
<line x1="442.6" y1="170.24" x2="445.6" y2="170.24" stroke="#111" stroke-width="1.0" />
<line x1="442.6" y1="179.75" x2="445.6" y2="179.75" stroke="#111" stroke-width="1.0" />
<line x1="442.6" y1="189.27" x2="445.6" y2="189.27" stroke="#111" stroke-width="1.0" />
<line x1="442.6" y1="198.78" x2="445.6" y2="198.78" stroke="#111" stroke-width="1.0" />
<line x1="442.6" y1="208.3" x2="445.6" y2="208.3" stroke="#111" stroke-width="1.0" />
<line x1="442.6" y1="37.03" x2="447.6" y2="37.03" stroke="#111" stroke-width="1.1" />
<text x="453" y="41.33" font-size="10.3" text-anchor="start">−0.04</text>
<line x1="442.6" y1="75.09" x2="447.6" y2="75.09" stroke="#111" stroke-width="1.1" />
<text x="453" y="79.39" font-size="10.3" text-anchor="start">−0.02</text>
<line x1="442.6" y1="113.15" x2="447.6" y2="113.15" stroke="#111" stroke-width="1.1" />
<text x="453" y="117.45" font-size="10.3" text-anchor="start">0.00</text>
<line x1="442.6" y1="151.21" x2="447.6" y2="151.21" stroke="#111" stroke-width="1.1" />
<text x="453" y="155.51" font-size="10.3" text-anchor="start">0.02</text>
<line x1="442.6" y1="189.27" x2="447.6" y2="189.27" stroke="#111" stroke-width="1.1" />
<text x="453" y="193.57" font-size="10.3" text-anchor="start">0.04</text>
<text x="438" y="7.6" font-size="10.3" text-anchor="middle"><tspan font-style="italic">Q</tspan><tspan font-style="italic" font-size="7.2" dy="2.2">n</tspan><tspan dy="-2.2"> − </tspan><tspan font-style="italic">Q</tspan><tspan font-size="7.2" dy="2.2">2</tspan><tspan dy="-2.2"> (Ah)</tspan></text>
<g clip-path="url(#cp181)"><g filter="url(#hb2)">
<rect x="530.7" y="17.8" width="5.3" height="190.5" fill="url(#g66)" shape-rendering="crispEdges"/>
<rect x="536" y="17.8" width="1" height="190.5" fill="url(#g67)" shape-rendering="crispEdges"/>
<rect x="537" y="17.8" width="1" height="190.5" fill="url(#g68)" shape-rendering="crispEdges"/>
<rect x="538" y="17.8" width="2" height="190.5" fill="url(#g69)" shape-rendering="crispEdges"/>
<rect x="540" y="17.8" width="1" height="190.5" fill="url(#g70)" shape-rendering="crispEdges"/>
<rect x="541" y="17.8" width="2" height="190.5" fill="url(#g71)" shape-rendering="crispEdges"/>
<rect x="543" y="17.8" width="1" height="190.5" fill="url(#g72)" shape-rendering="crispEdges"/>
<rect x="544" y="17.8" width="1" height="190.5" fill="url(#g73)" shape-rendering="crispEdges"/>
<rect x="545" y="17.8" width="2" height="190.5" fill="url(#g74)" shape-rendering="crispEdges"/>
<rect x="547" y="17.8" width="1" height="190.5" fill="url(#g75)" shape-rendering="crispEdges"/>
<rect x="548" y="17.8" width="1" height="190.5" fill="url(#g76)" shape-rendering="crispEdges"/>
<rect x="549" y="17.8" width="2" height="190.5" fill="url(#g77)" shape-rendering="crispEdges"/>
<rect x="551" y="17.8" width="1" height="190.5" fill="url(#g78)" shape-rendering="crispEdges"/>
<rect x="552" y="17.8" width="1" height="190.5" fill="url(#g79)" shape-rendering="crispEdges"/>
<rect x="553" y="17.8" width="2" height="190.5" fill="url(#g80)" shape-rendering="crispEdges"/>
<rect x="555" y="17.8" width="1" height="190.5" fill="url(#g81)" shape-rendering="crispEdges"/>
<rect x="556" y="17.8" width="2" height="190.5" fill="url(#g82)" shape-rendering="crispEdges"/>
<rect x="558" y="17.8" width="1" height="190.5" fill="url(#g83)" shape-rendering="crispEdges"/>
<rect x="559" y="17.8" width="1" height="190.5" fill="url(#g84)" shape-rendering="crispEdges"/>
<rect x="560" y="17.8" width="1" height="190.5" fill="url(#g85)" shape-rendering="crispEdges"/>
<rect x="561" y="17.8" width="1" height="190.5" fill="url(#g86)" shape-rendering="crispEdges"/>
<rect x="562" y="17.8" width="1" height="190.5" fill="url(#g87)" shape-rendering="crispEdges"/>
<rect x="563" y="17.8" width="1" height="190.5" fill="url(#g88)" shape-rendering="crispEdges"/>
<rect x="564" y="17.8" width="2" height="190.5" fill="url(#g89)" shape-rendering="crispEdges"/>
<rect x="566" y="17.8" width="1" height="190.5" fill="url(#g90)" shape-rendering="crispEdges"/>
<rect x="567" y="17.8" width="2" height="190.5" fill="url(#g91)" shape-rendering="crispEdges"/>
<rect x="569" y="17.8" width="1" height="190.5" fill="url(#g92)" shape-rendering="crispEdges"/>
<rect x="570" y="17.8" width="1" height="190.5" fill="url(#g93)" shape-rendering="crispEdges"/>
<rect x="571" y="17.8" width="2" height="190.5" fill="url(#g94)" shape-rendering="crispEdges"/>
<rect x="573" y="17.8" width="1" height="190.5" fill="url(#g95)" shape-rendering="crispEdges"/>
<rect x="574" y="17.8" width="1" height="190.5" fill="url(#g96)" shape-rendering="crispEdges"/>
<rect x="575" y="17.8" width="2" height="190.5" fill="url(#g97)" shape-rendering="crispEdges"/>
<rect x="577" y="17.8" width="1" height="190.5" fill="url(#g98)" shape-rendering="crispEdges"/>
<rect x="578" y="17.8" width="1" height="190.5" fill="url(#g99)" shape-rendering="crispEdges"/>
<rect x="579" y="17.8" width="1" height="190.5" fill="url(#g100)" shape-rendering="crispEdges"/>
<rect x="580" y="17.8" width="1" height="190.5" fill="url(#g101)" shape-rendering="crispEdges"/>
<rect x="581" y="17.8" width="1" height="190.5" fill="url(#g102)" shape-rendering="crispEdges"/>
<rect x="582" y="17.8" width="1" height="190.5" fill="url(#g103)" shape-rendering="crispEdges"/>
<rect x="583" y="17.8" width="1" height="190.5" fill="url(#g104)" shape-rendering="crispEdges"/>
<rect x="584" y="17.8" width="1" height="190.5" fill="url(#g105)" shape-rendering="crispEdges"/>
<rect x="585" y="17.8" width="1" height="190.5" fill="url(#g106)" shape-rendering="crispEdges"/>
<rect x="586" y="17.8" width="2" height="190.5" fill="url(#g107)" shape-rendering="crispEdges"/>
<rect x="588" y="17.8" width="1" height="190.5" fill="url(#g108)" shape-rendering="crispEdges"/>
<rect x="589" y="17.8" width="1" height="190.5" fill="url(#g109)" shape-rendering="crispEdges"/>
<rect x="590" y="17.8" width="2" height="190.5" fill="url(#g110)" shape-rendering="crispEdges"/>
<rect x="592" y="17.8" width="1" height="190.5" fill="url(#g111)" shape-rendering="crispEdges"/>
<rect x="593" y="17.8" width="2" height="190.5" fill="url(#g112)" shape-rendering="crispEdges"/>
<rect x="595" y="17.8" width="1" height="190.5" fill="url(#g113)" shape-rendering="crispEdges"/>
<rect x="596" y="17.8" width="1" height="190.5" fill="url(#g114)" shape-rendering="crispEdges"/>
<rect x="597" y="17.8" width="2" height="190.5" fill="url(#g115)" shape-rendering="crispEdges"/>
<rect x="599" y="17.8" width="1" height="190.5" fill="url(#g116)" shape-rendering="crispEdges"/>
<rect x="600" y="17.8" width="1" height="190.5" fill="url(#g117)" shape-rendering="crispEdges"/>
<rect x="601" y="17.8" width="1" height="190.5" fill="url(#g118)" shape-rendering="crispEdges"/>
<rect x="602" y="17.8" width="1" height="190.5" fill="url(#g119)" shape-rendering="crispEdges"/>
<rect x="603" y="17.8" width="1" height="190.5" fill="url(#g120)" shape-rendering="crispEdges"/>
<rect x="604" y="17.8" width="1" height="190.5" fill="url(#g121)" shape-rendering="crispEdges"/>
<rect x="605" y="17.8" width="1" height="190.5" fill="url(#g122)" shape-rendering="crispEdges"/>
<rect x="606" y="17.8" width="1" height="190.5" fill="url(#g123)" shape-rendering="crispEdges"/>
<rect x="607" y="17.8" width="1" height="190.5" fill="url(#g124)" shape-rendering="crispEdges"/>
<rect x="608" y="17.8" width="1" height="190.5" fill="url(#g125)" shape-rendering="crispEdges"/>
<rect x="609" y="17.8" width="1" height="190.5" fill="url(#g126)" shape-rendering="crispEdges"/>
<rect x="610" y="17.8" width="1" height="190.5" fill="url(#g127)" shape-rendering="crispEdges"/>
<rect x="611" y="17.8" width="1" height="190.5" fill="url(#g128)" shape-rendering="crispEdges"/>
<rect x="612" y="17.8" width="1" height="190.5" fill="url(#g129)" shape-rendering="crispEdges"/>
<rect x="613" y="17.8" width="1" height="190.5" fill="url(#g130)" shape-rendering="crispEdges"/>
<rect x="614" y="17.8" width="1" height="190.5" fill="url(#g131)" shape-rendering="crispEdges"/>
<rect x="615" y="17.8" width="1" height="190.5" fill="url(#g132)" shape-rendering="crispEdges"/>
<rect x="616" y="17.8" width="1" height="190.5" fill="url(#g133)" shape-rendering="crispEdges"/>
<rect x="617" y="17.8" width="2" height="190.5" fill="url(#g134)" shape-rendering="crispEdges"/>
<rect x="619" y="17.8" width="1" height="190.5" fill="url(#g135)" shape-rendering="crispEdges"/>
<rect x="620" y="17.8" width="1" height="190.5" fill="url(#g136)" shape-rendering="crispEdges"/>
<rect x="621" y="17.8" width="1" height="190.5" fill="url(#g137)" shape-rendering="crispEdges"/>
<rect x="622" y="17.8" width="1" height="190.5" fill="url(#g138)" shape-rendering="crispEdges"/>
<rect x="623" y="17.8" width="2" height="190.5" fill="url(#g139)" shape-rendering="crispEdges"/>
<rect x="625" y="17.8" width="1" height="190.5" fill="url(#g140)" shape-rendering="crispEdges"/>
<rect x="626" y="17.8" width="1" height="190.5" fill="url(#g141)" shape-rendering="crispEdges"/>
<rect x="627" y="17.8" width="1" height="190.5" fill="url(#g142)" shape-rendering="crispEdges"/>
<rect x="628" y="17.8" width="1" height="190.5" fill="url(#g143)" shape-rendering="crispEdges"/>
<rect x="629" y="17.8" width="1" height="190.5" fill="url(#g144)" shape-rendering="crispEdges"/>
<rect x="630" y="17.8" width="1" height="190.5" fill="url(#g145)" shape-rendering="crispEdges"/>
<rect x="631" y="17.8" width="1" height="190.5" fill="url(#g146)" shape-rendering="crispEdges"/>
<rect x="632" y="17.8" width="2" height="190.5" fill="url(#g147)" shape-rendering="crispEdges"/>
<rect x="634" y="17.8" width="2" height="190.5" fill="url(#g148)" shape-rendering="crispEdges"/>
<rect x="636" y="17.8" width="1" height="190.5" fill="url(#g149)" shape-rendering="crispEdges"/>
<rect x="637" y="17.8" width="1" height="190.5" fill="url(#g150)" shape-rendering="crispEdges"/>
<rect x="638" y="17.8" width="1" height="190.5" fill="url(#g151)" shape-rendering="crispEdges"/>
<rect x="639" y="17.8" width="1" height="190.5" fill="url(#g152)" shape-rendering="crispEdges"/>
<rect x="640" y="17.8" width="1" height="190.5" fill="url(#g153)" shape-rendering="crispEdges"/>
<rect x="641" y="17.8" width="2" height="190.5" fill="url(#g154)" shape-rendering="crispEdges"/>
<rect x="643" y="17.8" width="1" height="190.5" fill="url(#g155)" shape-rendering="crispEdges"/>
<rect x="644" y="17.8" width="2" height="190.5" fill="url(#g156)" shape-rendering="crispEdges"/>
<rect x="646" y="17.8" width="1" height="190.5" fill="url(#g157)" shape-rendering="crispEdges"/>
<rect x="647" y="17.8" width="1" height="190.5" fill="url(#g158)" shape-rendering="crispEdges"/>
<rect x="648" y="17.8" width="1" height="190.5" fill="url(#g159)" shape-rendering="crispEdges"/>
<rect x="649" y="17.8" width="1" height="190.5" fill="url(#g160)" shape-rendering="crispEdges"/>
<rect x="650" y="17.8" width="1" height="190.5" fill="url(#g161)" shape-rendering="crispEdges"/>
<rect x="651" y="17.8" width="1" height="190.5" fill="url(#g162)" shape-rendering="crispEdges"/>
<rect x="652" y="17.8" width="2" height="190.5" fill="url(#g163)" shape-rendering="crispEdges"/>
<rect x="654" y="17.8" width="1" height="190.5" fill="url(#g164)" shape-rendering="crispEdges"/>
<rect x="655" y="17.8" width="1" height="190.5" fill="url(#g165)" shape-rendering="crispEdges"/>
<rect x="656" y="17.8" width="1" height="190.5" fill="url(#g166)" shape-rendering="crispEdges"/>
<rect x="657" y="17.8" width="1" height="190.5" fill="url(#g167)" shape-rendering="crispEdges"/>
<rect x="658" y="17.8" width="1" height="190.5" fill="url(#g168)" shape-rendering="crispEdges"/>
<rect x="659" y="17.8" width="1" height="190.5" fill="url(#g169)" shape-rendering="crispEdges"/>
<rect x="660" y="17.8" width="2" height="190.5" fill="url(#g170)" shape-rendering="crispEdges"/>
<rect x="662" y="17.8" width="1" height="190.5" fill="url(#g171)" shape-rendering="crispEdges"/>
<rect x="663" y="17.8" width="1" height="190.5" fill="url(#g172)" shape-rendering="crispEdges"/>
<rect x="664" y="17.8" width="1" height="190.5" fill="url(#g173)" shape-rendering="crispEdges"/>
<rect x="665" y="17.8" width="1" height="190.5" fill="url(#g174)" shape-rendering="crispEdges"/>
<rect x="666" y="17.8" width="1" height="190.5" fill="url(#g175)" shape-rendering="crispEdges"/>
<rect x="667" y="17.8" width="1" height="190.5" fill="url(#g176)" shape-rendering="crispEdges"/>
<rect x="668" y="17.8" width="1" height="190.5" fill="url(#g177)" shape-rendering="crispEdges"/>
<rect x="669" y="17.8" width="1" height="190.5" fill="url(#g178)" shape-rendering="crispEdges"/>
<rect x="670" y="17.8" width="1" height="190.5" fill="url(#g179)" shape-rendering="crispEdges"/>
<rect x="671" y="17.8" width="4.8" height="190.5" fill="url(#g180)" shape-rendering="crispEdges"/>
</g></g>
<line x1="534.7" y1="59.71" x2="671.8" y2="59.71" stroke="#111" stroke-width="1.5" stroke-dasharray="1.5 2.4"/>
<line x1="534.7" y1="94.12" x2="671.8" y2="94.12" stroke="#111" stroke-width="1.6" stroke-dasharray="5.7 2.1"/>
<rect x="534.7" y="17.8" width="137.1" height="190.5" fill="none" stroke="#000" stroke-width="1.35"/>
<line x1="534.7" y1="208.3" x2="531.7" y2="208.3" stroke="#111" stroke-width="1.05" />
<line x1="534.7" y1="202.35" x2="531.7" y2="202.35" stroke="#111" stroke-width="1.05" />
<line x1="534.7" y1="196.39" x2="531.7" y2="196.39" stroke="#111" stroke-width="1.05" />
<line x1="534.7" y1="190.44" x2="531.7" y2="190.44" stroke="#111" stroke-width="1.05" />
<line x1="534.7" y1="184.49" x2="531.7" y2="184.49" stroke="#111" stroke-width="1.05" />
<line x1="534.7" y1="178.53" x2="531.7" y2="178.53" stroke="#111" stroke-width="1.05" />
<line x1="534.7" y1="172.58" x2="531.7" y2="172.58" stroke="#111" stroke-width="1.05" />
<line x1="534.7" y1="166.63" x2="531.7" y2="166.63" stroke="#111" stroke-width="1.05" />
<line x1="534.7" y1="160.68" x2="531.7" y2="160.68" stroke="#111" stroke-width="1.05" />
<line x1="534.7" y1="154.72" x2="531.7" y2="154.72" stroke="#111" stroke-width="1.05" />
<line x1="534.7" y1="148.77" x2="531.7" y2="148.77" stroke="#111" stroke-width="1.05" />
<line x1="534.7" y1="142.82" x2="531.7" y2="142.82" stroke="#111" stroke-width="1.05" />
<line x1="534.7" y1="136.86" x2="531.7" y2="136.86" stroke="#111" stroke-width="1.05" />
<line x1="534.7" y1="130.91" x2="531.7" y2="130.91" stroke="#111" stroke-width="1.05" />
<line x1="534.7" y1="124.96" x2="531.7" y2="124.96" stroke="#111" stroke-width="1.05" />
<line x1="534.7" y1="119" x2="531.7" y2="119" stroke="#111" stroke-width="1.05" />
<line x1="534.7" y1="113.05" x2="531.7" y2="113.05" stroke="#111" stroke-width="1.05" />
<line x1="534.7" y1="107.1" x2="531.7" y2="107.1" stroke="#111" stroke-width="1.05" />
<line x1="534.7" y1="101.14" x2="531.7" y2="101.14" stroke="#111" stroke-width="1.05" />
<line x1="534.7" y1="95.19" x2="531.7" y2="95.19" stroke="#111" stroke-width="1.05" />
<line x1="534.7" y1="89.24" x2="531.7" y2="89.24" stroke="#111" stroke-width="1.05" />
<line x1="534.7" y1="83.28" x2="531.7" y2="83.28" stroke="#111" stroke-width="1.05" />
<line x1="534.7" y1="77.33" x2="531.7" y2="77.33" stroke="#111" stroke-width="1.05" />
<line x1="534.7" y1="71.38" x2="531.7" y2="71.38" stroke="#111" stroke-width="1.05" />
<line x1="534.7" y1="65.42" x2="531.7" y2="65.42" stroke="#111" stroke-width="1.05" />
<line x1="534.7" y1="59.47" x2="531.7" y2="59.47" stroke="#111" stroke-width="1.05" />
<line x1="534.7" y1="53.52" x2="531.7" y2="53.52" stroke="#111" stroke-width="1.05" />
<line x1="534.7" y1="47.57" x2="531.7" y2="47.57" stroke="#111" stroke-width="1.05" />
<line x1="534.7" y1="41.61" x2="531.7" y2="41.61" stroke="#111" stroke-width="1.05" />
<line x1="534.7" y1="35.66" x2="531.7" y2="35.66" stroke="#111" stroke-width="1.05" />
<line x1="534.7" y1="29.71" x2="531.7" y2="29.71" stroke="#111" stroke-width="1.05" />
<line x1="534.7" y1="23.75" x2="531.7" y2="23.75" stroke="#111" stroke-width="1.05" />
<line x1="534.7" y1="17.8" x2="531.7" y2="17.8" stroke="#111" stroke-width="1.05" />
<line x1="534.7" y1="208.3" x2="529.7" y2="208.3" stroke="#111" stroke-width="1.2" />
<text x="524.3" y="212.6" font-size="10.3" text-anchor="end">2.0</text>
<line x1="534.7" y1="184.49" x2="529.7" y2="184.49" stroke="#111" stroke-width="1.2" />
<text x="524.3" y="188.79" font-size="10.3" text-anchor="end">2.2</text>
<line x1="534.7" y1="160.68" x2="529.7" y2="160.68" stroke="#111" stroke-width="1.2" />
<text x="524.3" y="164.98" font-size="10.3" text-anchor="end">2.4</text>
<line x1="534.7" y1="136.86" x2="529.7" y2="136.86" stroke="#111" stroke-width="1.2" />
<text x="524.3" y="141.16" font-size="10.3" text-anchor="end">2.6</text>
<line x1="534.7" y1="113.05" x2="529.7" y2="113.05" stroke="#111" stroke-width="1.2" />
<text x="524.3" y="117.35" font-size="10.3" text-anchor="end">2.8</text>
<line x1="534.7" y1="89.24" x2="529.7" y2="89.24" stroke="#111" stroke-width="1.2" />
<text x="524.3" y="93.54" font-size="10.3" text-anchor="end">3.0</text>
<line x1="534.7" y1="65.42" x2="529.7" y2="65.42" stroke="#111" stroke-width="1.2" />
<text x="524.3" y="69.72" font-size="10.3" text-anchor="end">3.2</text>
<line x1="534.7" y1="41.61" x2="529.7" y2="41.61" stroke="#111" stroke-width="1.2" />
<text x="524.3" y="45.91" font-size="10.3" text-anchor="end">3.4</text>
<line x1="534.7" y1="17.8" x2="529.7" y2="17.8" stroke="#111" stroke-width="1.2" />
<text x="524.3" y="22.1" font-size="10.3" text-anchor="end">3.6</text>
<line x1="534.7" y1="208.3" x2="534.7" y2="211.3" stroke="#111" stroke-width="1.05" />
<line x1="541.56" y1="208.3" x2="541.56" y2="211.3" stroke="#111" stroke-width="1.05" />
<line x1="548.41" y1="208.3" x2="548.41" y2="211.3" stroke="#111" stroke-width="1.05" />
<line x1="555.26" y1="208.3" x2="555.26" y2="211.3" stroke="#111" stroke-width="1.05" />
<line x1="562.12" y1="208.3" x2="562.12" y2="211.3" stroke="#111" stroke-width="1.05" />
<line x1="568.98" y1="208.3" x2="568.98" y2="211.3" stroke="#111" stroke-width="1.05" />
<line x1="575.83" y1="208.3" x2="575.83" y2="211.3" stroke="#111" stroke-width="1.05" />
<line x1="582.69" y1="208.3" x2="582.69" y2="211.3" stroke="#111" stroke-width="1.05" />
<line x1="589.54" y1="208.3" x2="589.54" y2="211.3" stroke="#111" stroke-width="1.05" />
<line x1="596.39" y1="208.3" x2="596.39" y2="211.3" stroke="#111" stroke-width="1.05" />
<line x1="603.25" y1="208.3" x2="603.25" y2="211.3" stroke="#111" stroke-width="1.05" />
<line x1="610.11" y1="208.3" x2="610.11" y2="211.3" stroke="#111" stroke-width="1.05" />
<line x1="616.96" y1="208.3" x2="616.96" y2="211.3" stroke="#111" stroke-width="1.05" />
<line x1="623.81" y1="208.3" x2="623.81" y2="211.3" stroke="#111" stroke-width="1.05" />
<line x1="630.67" y1="208.3" x2="630.67" y2="211.3" stroke="#111" stroke-width="1.05" />
<line x1="637.52" y1="208.3" x2="637.52" y2="211.3" stroke="#111" stroke-width="1.05" />
<line x1="644.38" y1="208.3" x2="644.38" y2="211.3" stroke="#111" stroke-width="1.05" />
<line x1="651.24" y1="208.3" x2="651.24" y2="211.3" stroke="#111" stroke-width="1.05" />
<line x1="658.09" y1="208.3" x2="658.09" y2="211.3" stroke="#111" stroke-width="1.05" />
<line x1="664.94" y1="208.3" x2="664.94" y2="211.3" stroke="#111" stroke-width="1.05" />
<line x1="671.8" y1="208.3" x2="671.8" y2="211.3" stroke="#111" stroke-width="1.05" />
<line x1="534.7" y1="208.3" x2="534.7" y2="213.3" stroke="#111" stroke-width="1.2" />
<text x="534.7" y="226.8" font-size="10.3" text-anchor="middle">0</text>
<line x1="568.98" y1="208.3" x2="568.98" y2="213.3" stroke="#111" stroke-width="1.2" />
<text x="568.98" y="226.8" font-size="10.3" text-anchor="middle">25</text>
<line x1="603.25" y1="208.3" x2="603.25" y2="213.3" stroke="#111" stroke-width="1.2" />
<text x="603.25" y="226.8" font-size="10.3" text-anchor="middle">50</text>
<line x1="637.52" y1="208.3" x2="637.52" y2="213.3" stroke="#111" stroke-width="1.2" />
<text x="637.52" y="226.8" font-size="10.3" text-anchor="middle">75</text>
<line x1="671.8" y1="208.3" x2="671.8" y2="213.3" stroke="#111" stroke-width="1.2" />
<text x="671.8" y="226.8" font-size="10.3" text-anchor="middle">100</text>
<text x="534.7" y="8.9" font-size="11.5" text-anchor="start" font-weight="bold">e</text>
<line x1="535.2" y1="16.4" x2="671.3" y2="16.4" stroke="#ddd0ee" stroke-width="1.0" />
<text x="603.25" y="242.3" font-size="10.3" text-anchor="middle">Cycle number</text>
<text x="503.1" y="113.1" font-size="10.3" text-anchor="middle" transform="rotate(-90 503.1 113.1)">Voltage (V)</text>
<rect x="679.3" y="18" width="10.3" height="190.3" fill="url(#g182)" stroke="#000" stroke-width="1.2"/>
<line x1="689.6" y1="18" x2="692.6" y2="18" stroke="#111" stroke-width="1.0" />
<line x1="689.6" y1="22.76" x2="692.6" y2="22.76" stroke="#111" stroke-width="1.0" />
<line x1="689.6" y1="27.52" x2="692.6" y2="27.52" stroke="#111" stroke-width="1.0" />
<line x1="689.6" y1="32.27" x2="692.6" y2="32.27" stroke="#111" stroke-width="1.0" />
<line x1="689.6" y1="37.03" x2="692.6" y2="37.03" stroke="#111" stroke-width="1.0" />
<line x1="689.6" y1="41.79" x2="692.6" y2="41.79" stroke="#111" stroke-width="1.0" />
<line x1="689.6" y1="46.55" x2="692.6" y2="46.55" stroke="#111" stroke-width="1.0" />
<line x1="689.6" y1="51.3" x2="692.6" y2="51.3" stroke="#111" stroke-width="1.0" />
<line x1="689.6" y1="56.06" x2="692.6" y2="56.06" stroke="#111" stroke-width="1.0" />
<line x1="689.6" y1="60.82" x2="692.6" y2="60.82" stroke="#111" stroke-width="1.0" />
<line x1="689.6" y1="65.58" x2="692.6" y2="65.58" stroke="#111" stroke-width="1.0" />
<line x1="689.6" y1="70.33" x2="692.6" y2="70.33" stroke="#111" stroke-width="1.0" />
<line x1="689.6" y1="75.09" x2="692.6" y2="75.09" stroke="#111" stroke-width="1.0" />
<line x1="689.6" y1="79.85" x2="692.6" y2="79.85" stroke="#111" stroke-width="1.0" />
<line x1="689.6" y1="84.6" x2="692.6" y2="84.6" stroke="#111" stroke-width="1.0" />
<line x1="689.6" y1="89.36" x2="692.6" y2="89.36" stroke="#111" stroke-width="1.0" />
<line x1="689.6" y1="94.12" x2="692.6" y2="94.12" stroke="#111" stroke-width="1.0" />
<line x1="689.6" y1="98.88" x2="692.6" y2="98.88" stroke="#111" stroke-width="1.0" />
<line x1="689.6" y1="103.63" x2="692.6" y2="103.63" stroke="#111" stroke-width="1.0" />
<line x1="689.6" y1="108.39" x2="692.6" y2="108.39" stroke="#111" stroke-width="1.0" />
<line x1="689.6" y1="113.15" x2="692.6" y2="113.15" stroke="#111" stroke-width="1.0" />
<line x1="689.6" y1="117.91" x2="692.6" y2="117.91" stroke="#111" stroke-width="1.0" />
<line x1="689.6" y1="122.66" x2="692.6" y2="122.66" stroke="#111" stroke-width="1.0" />
<line x1="689.6" y1="127.42" x2="692.6" y2="127.42" stroke="#111" stroke-width="1.0" />
<line x1="689.6" y1="132.18" x2="692.6" y2="132.18" stroke="#111" stroke-width="1.0" />
<line x1="689.6" y1="136.94" x2="692.6" y2="136.94" stroke="#111" stroke-width="1.0" />
<line x1="689.6" y1="141.69" x2="692.6" y2="141.69" stroke="#111" stroke-width="1.0" />
<line x1="689.6" y1="146.45" x2="692.6" y2="146.45" stroke="#111" stroke-width="1.0" />
<line x1="689.6" y1="151.21" x2="692.6" y2="151.21" stroke="#111" stroke-width="1.0" />
<line x1="689.6" y1="155.97" x2="692.6" y2="155.97" stroke="#111" stroke-width="1.0" />
<line x1="689.6" y1="160.72" x2="692.6" y2="160.72" stroke="#111" stroke-width="1.0" />
<line x1="689.6" y1="165.48" x2="692.6" y2="165.48" stroke="#111" stroke-width="1.0" />
<line x1="689.6" y1="170.24" x2="692.6" y2="170.24" stroke="#111" stroke-width="1.0" />
<line x1="689.6" y1="175" x2="692.6" y2="175" stroke="#111" stroke-width="1.0" />
<line x1="689.6" y1="179.75" x2="692.6" y2="179.75" stroke="#111" stroke-width="1.0" />
<line x1="689.6" y1="184.51" x2="692.6" y2="184.51" stroke="#111" stroke-width="1.0" />
<line x1="689.6" y1="189.27" x2="692.6" y2="189.27" stroke="#111" stroke-width="1.0" />
<line x1="689.6" y1="194.03" x2="692.6" y2="194.03" stroke="#111" stroke-width="1.0" />
<line x1="689.6" y1="198.78" x2="692.6" y2="198.78" stroke="#111" stroke-width="1.0" />
<line x1="689.6" y1="203.54" x2="692.6" y2="203.54" stroke="#111" stroke-width="1.0" />
<line x1="689.6" y1="208.3" x2="692.6" y2="208.3" stroke="#111" stroke-width="1.0" />
<line x1="689.6" y1="18" x2="694.6" y2="18" stroke="#111" stroke-width="1.1" />
<text x="700" y="22.3" font-size="10.3" text-anchor="start">0.900</text>
<line x1="689.6" y1="41.79" x2="694.6" y2="41.79" stroke="#111" stroke-width="1.1" />
<text x="700" y="46.09" font-size="10.3" text-anchor="start">0.925</text>
<line x1="689.6" y1="65.58" x2="694.6" y2="65.58" stroke="#111" stroke-width="1.1" />
<text x="700" y="69.88" font-size="10.3" text-anchor="start">0.950</text>
<line x1="689.6" y1="89.36" x2="694.6" y2="89.36" stroke="#111" stroke-width="1.1" />
<text x="700" y="93.66" font-size="10.3" text-anchor="start">0.975</text>
<line x1="689.6" y1="113.15" x2="694.6" y2="113.15" stroke="#111" stroke-width="1.1" />
<text x="700" y="117.45" font-size="10.3" text-anchor="start">1.000</text>
<line x1="689.6" y1="136.94" x2="694.6" y2="136.94" stroke="#111" stroke-width="1.1" />
<text x="700" y="141.24" font-size="10.3" text-anchor="start">1.025</text>
<line x1="689.6" y1="160.72" x2="694.6" y2="160.72" stroke="#111" stroke-width="1.1" />
<text x="700" y="165.03" font-size="10.3" text-anchor="start">1.050</text>
<line x1="689.6" y1="184.51" x2="694.6" y2="184.51" stroke="#111" stroke-width="1.1" />
<text x="700" y="188.81" font-size="10.3" text-anchor="start">1.075</text>
<line x1="689.6" y1="208.3" x2="694.6" y2="208.3" stroke="#111" stroke-width="1.1" />
<text x="700" y="212.6" font-size="10.3" text-anchor="start">1.100</text>
<text x="684.5" y="7.6" font-size="10.3" text-anchor="middle"><tspan font-style="italic">Q</tspan><tspan font-style="italic" font-size="7.2" dy="2.2">n</tspan><tspan dy="-2.2">/</tspan><tspan font-style="italic">Q</tspan><tspan font-size="7.2" dy="2.2">2</tspan></text>
</svg></body></html>
